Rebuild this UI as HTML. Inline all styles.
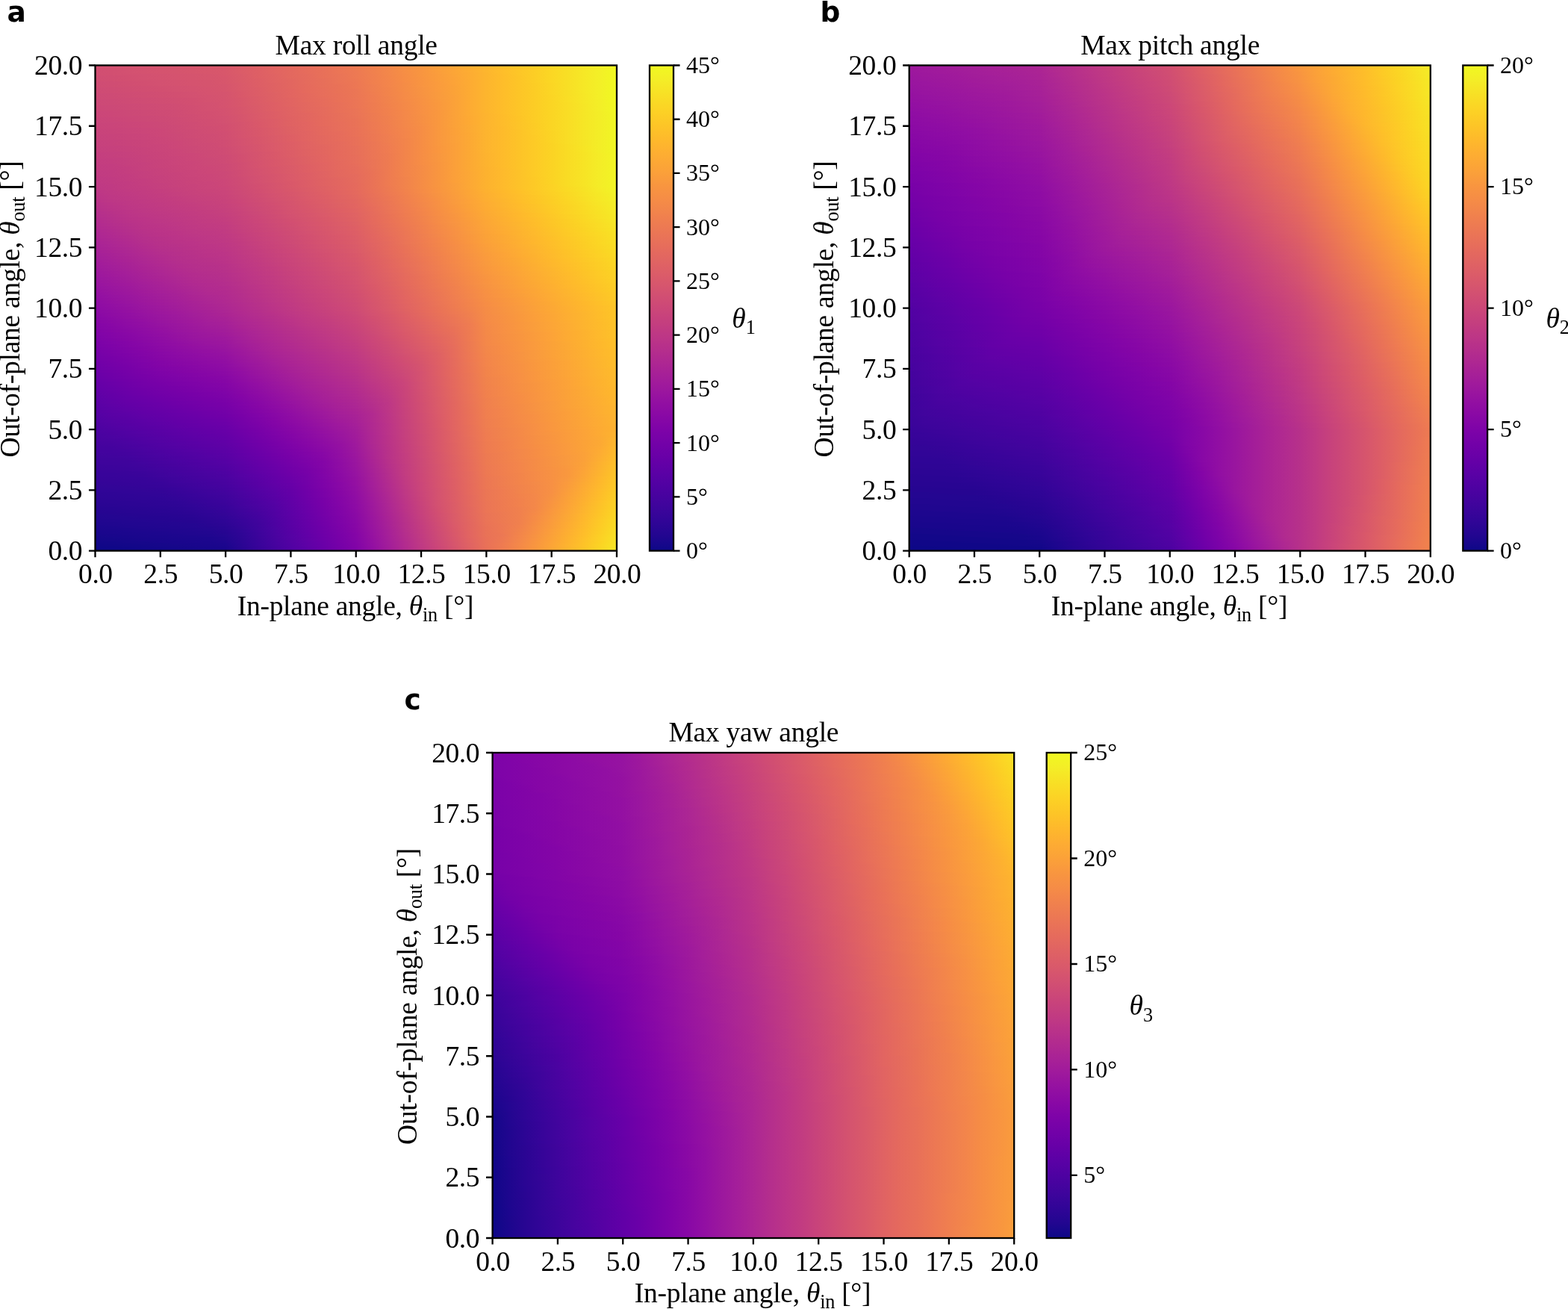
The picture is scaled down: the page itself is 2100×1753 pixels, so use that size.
<!DOCTYPE html>
<html lang="en"><head><meta charset="utf-8"><title>Max roll, pitch and yaw angle</title>
<style>
html,body{margin:0;padding:0;background:#fff}
body{width:2100px;height:1753px;position:relative;overflow:hidden}
.hm,.cb{position:absolute}
.hm i{display:block;height:2px}
.hm{overflow:hidden}
svg{position:absolute;left:0;top:0}
text{font-family:'Liberation Serif', 'DejaVu Serif', serif;font-size:37.5px;fill:#000}
.it{font-style:italic}
.tl{letter-spacing:-0.4px}
.lb{letter-spacing:-0.26px}
.ct{font-size:32px}
.sub{font-size:26.25px}
.pl{font-family:'DejaVu Sans', 'Liberation Sans', sans-serif;font-weight:bold;font-size:37.5px}
.sp{fill:none;stroke:#000;stroke-width:2.3}
.tk{fill:none;stroke:#000;stroke-width:2.3}
</style></head><body>
<div class="hm" style="left:127px;top:87px;width:699px;height:651px">
<i style="background:linear-gradient(90deg,#d24f71,#d35171,#d45270,#d5536f,#d5546e,#d6556d,#d7566c,#d8576b,#d9586a,#db5c68,#de6164,#e16462,#e4695e,#e66d5c,#e97158,#eb7556,#ed7a52,#f0804e,#f48849,#f68f44,#f9973f,#fa9e3b,#fca636,#fdae32,#fdb62e,#febe2a,#fdc627,#fcce25,#fbd724,#f8df25,#f6e826,#f3f027,#f0f921)"></i>
<i style="background:linear-gradient(90deg,#d24f71,#d35171,#d45270,#d5536f,#d5546e,#d6556d,#d7566c,#d8576b,#d9586a,#db5c68,#de6164,#e16462,#e4695e,#e66c5c,#e97158,#eb7556,#ed7a52,#f0804e,#f48849,#f68f44,#f9963f,#fa9e3b,#fca537,#fdae32,#fdb62e,#febe2a,#fdc627,#fcce25,#fbd724,#f8df25,#f6e826,#f3f027,#f0f921)"></i>
<i style="background:linear-gradient(90deg,#d24f71,#d35171,#d45270,#d45270,#d5536f,#d5546e,#d6556d,#d7566c,#d8576b,#db5c68,#de6065,#e16462,#e4695e,#e66c5c,#e97158,#eb7556,#ed7a52,#f0804e,#f3874a,#f68f44,#f89640,#fa9e3b,#fca537,#fdae32,#fdb62e,#febe2a,#fdc627,#fcce25,#fbd724,#f8df25,#f6e826,#f3f027,#f0f921)"></i>
<i style="background:linear-gradient(90deg,#d14e72,#d24f71,#d35171,#d45270,#d5536f,#d5546e,#d6556d,#d7566c,#d8576b,#db5c68,#de5f65,#e16462,#e3685f,#e66c5c,#e87059,#eb7556,#ed7a52,#f0804e,#f3874a,#f68f44,#f89540,#fa9e3b,#fca537,#fdad32,#fdb62e,#febe2a,#fdc627,#fcce25,#fbd724,#f8df25,#f6e826,#f3f027,#f0f921)"></i>
<i style="background:linear-gradient(90deg,#d14e72,#d24f71,#d35171,#d45270,#d5536f,#d5546e,#d6556d,#d7566c,#d8576b,#db5c68,#de5f65,#e16462,#e3685f,#e66c5c,#e87059,#eb7556,#ed7953,#f0804e,#f3874a,#f68e44,#f89540,#fa9d3b,#fca537,#fdad33,#fdb62e,#febe2a,#fdc627,#fcce25,#fbd724,#f8df25,#f6e826,#f3f027,#f0f921)"></i>
<i style="background:linear-gradient(90deg,#d14e72,#d24f71,#d35171,#d45270,#d5536f,#d5546e,#d6556d,#d7566c,#d8576b,#db5c68,#de5f65,#e16462,#e3685f,#e66c5c,#e87059,#eb7556,#ed7953,#f0804e,#f3874a,#f68e45,#f89540,#fa9d3c,#fca537,#fdac33,#fdb52e,#febe2a,#fdc627,#fcce25,#fbd724,#f8df25,#f6e826,#f3f027,#f0f921)"></i>
<i style="background:linear-gradient(90deg,#d14e72,#d24f71,#d35071,#d35171,#d45270,#d5536f,#d5546e,#d6556d,#d8576b,#da5b69,#de5f65,#e06363,#e3685f,#e56b5d,#e87059,#ea7457,#ed7953,#f07f4f,#f3874a,#f68d45,#f89540,#fa9c3c,#fca437,#fdac33,#fdb52e,#febd2a,#fdc627,#fcce25,#fbd724,#f8df25,#f6e826,#f3f027,#f0f921)"></i>
<i style="background:linear-gradient(90deg,#d04d73,#d14e72,#d24f71,#d35171,#d45270,#d5536f,#d5546e,#d6556d,#d8566c,#da5b69,#de5f65,#e06363,#e3685f,#e56b5d,#e87059,#ea7457,#ed7953,#f07f4f,#f3864a,#f68d45,#f89540,#fa9c3c,#fca438,#fdac33,#fdb52e,#febd2a,#fdc527,#fcce25,#fbd724,#f8df25,#f6e826,#f3f027,#f0f921)"></i>
<i style="background:linear-gradient(90deg,#d04d73,#d14e72,#d24f71,#d35171,#d45270,#d5536f,#d5546e,#d6556d,#d7566c,#da5b69,#de5f65,#e06363,#e3685f,#e56b5d,#e87059,#ea7457,#ed7953,#f07f4f,#f3864a,#f68d45,#f89441,#fa9c3c,#fca338,#fdac33,#fdb52e,#febd2a,#fdc527,#fcce25,#fbd724,#f8df25,#f6e826,#f3f027,#f0f921)"></i>
<i style="background:linear-gradient(90deg,#d04d73,#d14e72,#d24f71,#d35171,#d45270,#d5536f,#d5546e,#d6556d,#d7566c,#da5b69,#dd5e66,#e06363,#e26760,#e56b5d,#e76f5a,#ea7457,#ed7853,#f07f4f,#f3864b,#f68d45,#f89441,#fa9c3c,#fca338,#fdac33,#fdb52e,#febd2a,#fdc527,#fcce25,#fbd724,#f8df25,#f6e826,#f3f027,#f0f921)"></i>
<i style="background:linear-gradient(90deg,#d04d73,#d14e72,#d24f71,#d25071,#d35171,#d45270,#d5536f,#d5546e,#d7566c,#da5b69,#dd5e66,#e06363,#e26660,#e56b5d,#e76f5a,#ea7457,#ec7854,#f07f4f,#f3854b,#f68d45,#f89441,#fa9c3c,#fca338,#fdab33,#fdb52e,#febd2a,#fdc527,#fcce25,#fbd724,#f8df25,#f6e826,#f3f027,#f0f921)"></i>
<i style="background:linear-gradient(90deg,#cf4c74,#d04d73,#d14e72,#d24f71,#d35171,#d45270,#d5536f,#d5546e,#d7566c,#da5b69,#dd5e66,#e06363,#e26660,#e56b5d,#e76f5a,#ea7457,#ec7754,#f07f4f,#f3854b,#f68c46,#f89441,#fa9b3d,#fca338,#fdab33,#fdb52e,#febd2a,#fdc527,#fcce25,#fbd724,#f8df25,#f6e826,#f3f027,#f0f921)"></i>
<i style="background:linear-gradient(90deg,#cf4c74,#d04d73,#d14e72,#d24f71,#d35171,#d45270,#d5536f,#d5546e,#d7566c,#da5a6a,#dd5e66,#df6263,#e26660,#e56b5d,#e76f5a,#ea7357,#ec7754,#f07f4f,#f3854b,#f58c46,#f89441,#fa9b3d,#fca338,#fdab33,#fdb52e,#febd2a,#fdc527,#fccd25,#fbd624,#f8df25,#f6e826,#f3f027,#f0f921)"></i>
<i style="background:linear-gradient(90deg,#cf4c74,#d04d73,#d14e72,#d24f71,#d35171,#d45270,#d5536f,#d5546e,#d6556d,#da5a6a,#dd5e66,#df6263,#e26660,#e56a5d,#e76f5a,#e97257,#ec7754,#ef7e50,#f3854b,#f58c46,#f89441,#fa9b3d,#fca238,#fdab33,#fdb52e,#febd2a,#fdc527,#fccd25,#fbd624,#f8df25,#f6e826,#f3f027,#f0f921)"></i>
<i style="background:linear-gradient(90deg,#cf4c74,#d04d73,#d04e72,#d14e72,#d25071,#d35171,#d45270,#d5546e,#d6556d,#da5a6a,#dd5e66,#df6263,#e26660,#e56a5d,#e76f5a,#e97257,#ec7754,#ef7e50,#f3854b,#f58c46,#f89442,#fa9b3d,#fba238,#fdab33,#fdb52e,#febd2a,#fdc527,#fccd25,#fbd624,#f8df25,#f6e826,#f3f027,#f0f921)"></i>
<i style="background:linear-gradient(90deg,#ce4b75,#cf4c74,#d04d73,#d14e72,#d24f71,#d35171,#d45270,#d5536f,#d6556d,#da5a6a,#dc5d67,#df6263,#e26660,#e56a5d,#e76e5a,#e97257,#ec7754,#ef7e50,#f2844b,#f58c46,#f79342,#fa9b3d,#fba238,#fdab33,#fdb52e,#febd2a,#fdc527,#fccd25,#fbd624,#f8df25,#f6e826,#f3f027,#f0f921)"></i>
<i style="background:linear-gradient(90deg,#ce4b75,#cf4c74,#d04d73,#d14e72,#d24f71,#d35171,#d45270,#d5536f,#d6556d,#da5a6a,#dc5d67,#df6263,#e26561,#e56a5d,#e76e5b,#e97257,#eb7655,#ef7e50,#f2844b,#f58c46,#f79342,#fa9b3d,#fba238,#fdab33,#fdb52e,#febd2a,#fdc527,#fccd25,#fbd624,#f8df25,#f6e826,#f3f027,#f0f921)"></i>
<i style="background:linear-gradient(90deg,#ce4b75,#cf4c74,#d04d73,#d14e72,#d24f71,#d35171,#d45270,#d5536f,#d6556d,#d9596a,#dc5d67,#df6263,#e26561,#e56a5d,#e76e5b,#e97257,#eb7655,#ef7e50,#f2844b,#f58c46,#f79342,#fa9a3e,#fba238,#fdab33,#fdb52e,#febd2a,#fdc527,#fccd25,#fbd624,#f8de25,#f6e826,#f3f027,#f0f921)"></i>
<i style="background:linear-gradient(90deg,#ce4b75,#cf4c74,#d04c74,#d04d73,#d14e72,#d24f71,#d35171,#d5536f,#d5546e,#d9586a,#dc5d67,#de6264,#e26561,#e56a5d,#e76e5b,#e97257,#eb7655,#ef7d50,#f2844b,#f58b47,#f79342,#f99a3e,#fba238,#fdab33,#fdb52e,#febd2a,#fdc527,#fccd25,#fbd624,#f8de25,#f6e826,#f3f027,#f0f921)"></i>
<i style="background:linear-gradient(90deg,#cd4a76,#ce4b75,#cf4c74,#d04d73,#d14e72,#d24f71,#d35171,#d5536f,#d5546e,#d9586a,#dc5d67,#de6164,#e26561,#e4695e,#e76e5b,#e97158,#eb7655,#ef7d51,#f2844b,#f58b47,#f79342,#f99a3e,#fba238,#fdab33,#fdb52e,#febd2a,#fdc527,#fccd25,#fbd624,#f8de25,#f6e726,#f3f027,#f0f921)"></i>
<i style="background:linear-gradient(90deg,#cd4a76,#ce4b75,#cf4c74,#d04d73,#d14e72,#d24f71,#d35171,#d45270,#d5546e,#d9586a,#dc5d67,#de6164,#e26561,#e4695e,#e76e5b,#e97158,#eb7655,#ef7c51,#f2844b,#f58b47,#f79242,#f99a3e,#fba139,#fdab33,#fdb52e,#febd2a,#fdc527,#fccd25,#fbd524,#f8de25,#f6e726,#f3f027,#f0f921)"></i>
<i style="background:linear-gradient(90deg,#cd4a76,#ce4b75,#cf4c74,#d04d73,#d14e72,#d24f71,#d35171,#d45270,#d5546e,#d9586a,#db5c68,#de6164,#e26561,#e4695e,#e76d5b,#e97158,#eb7655,#ef7c51,#f1834c,#f58b47,#f79243,#f99a3e,#fba139,#fdab33,#fdb52e,#febd2a,#fdc527,#fccd25,#fbd524,#f9de25,#f6e726,#f3f027,#f0f921)"></i>
<i style="background:linear-gradient(90deg,#cd4a76,#ce4b75,#ce4b75,#cf4c74,#d04d73,#d14e72,#d24f71,#d45270,#d5546e,#d8576b,#db5c68,#de6164,#e16462,#e4695e,#e66d5c,#e97158,#eb7656,#ef7c51,#f1834c,#f58b47,#f79143,#f99a3e,#fba139,#fdab33,#fdb52e,#febd2a,#fdc527,#fccd25,#fbd524,#f9de25,#f6e726,#f3f027,#f0f921)"></i>
<i style="background:linear-gradient(90deg,#cc4977,#cd4a76,#ce4b75,#cf4c74,#d04d73,#d14e72,#d24f71,#d45270,#d5536f,#d8576b,#db5c68,#de6164,#e16462,#e4695e,#e66c5c,#e97158,#eb7556,#ef7c51,#f1834c,#f58a47,#f79143,#f9993e,#fba139,#fdab33,#fdb52e,#febd2a,#fdc527,#fccd25,#fbd524,#f9de25,#f6e726,#f3ef27,#f0f921)"></i>
<i style="background:linear-gradient(90deg,#cc4977,#cd4a76,#ce4b75,#cf4c74,#d04d73,#d14e72,#d24f71,#d45270,#d5536f,#d8576b,#db5c68,#de6064,#e16462,#e4695e,#e66c5c,#e97158,#eb7556,#ef7c51,#f1834c,#f48a48,#f79143,#f9993e,#fba139,#fdab33,#fdb52e,#febd2a,#fdc527,#fccd25,#fbd524,#f9de25,#f6e726,#f3ef27,#f0f921)"></i>
<i style="background:linear-gradient(90deg,#cc4977,#cd4a76,#ce4b75,#cf4c74,#d04d73,#d14e72,#d24f71,#d35171,#d5536f,#d8576b,#db5c68,#de5f65,#e16462,#e3685f,#e66c5c,#e87059,#eb7556,#ee7b51,#f1834c,#f48948,#f79143,#f9983e,#fba139,#fdab33,#fdb52e,#febd2a,#fdc527,#fccd25,#fbd524,#f9dd25,#f6e726,#f3ef27,#f0f822)"></i>
<i style="background:linear-gradient(90deg,#cc4977,#cd4a76,#cd4a76,#ce4b75,#cf4c74,#d04d73,#d24f71,#d35171,#d5536f,#d8576b,#da5c68,#de5f65,#e16462,#e3685f,#e66c5c,#e87059,#eb7556,#ee7b51,#f1824c,#f48948,#f79143,#f9983e,#fba139,#fdab33,#fdb52e,#febd2a,#fdc527,#fccd25,#fbd524,#f9dd25,#f6e626,#f3ef27,#f0f822)"></i>
<i style="background:linear-gradient(90deg,#cc4778,#cc4977,#cd4a76,#ce4b75,#cf4c74,#d04d73,#d14e72,#d35171,#d5536f,#d8576b,#da5b69,#de5f65,#e16462,#e3685f,#e66c5c,#e87059,#eb7556,#ee7b51,#f1824c,#f48948,#f79044,#f9983e,#fba139,#fdab33,#fdb52e,#febd2a,#fdc527,#fccd25,#fbd524,#f9dd25,#f6e626,#f3ef27,#f0f822)"></i>
<i style="background:linear-gradient(90deg,#cc4778,#cc4977,#cd4a76,#ce4b75,#cf4c74,#d04d73,#d14e72,#d35171,#d5536f,#d7566c,#da5b69,#de5f65,#e06363,#e3685f,#e56b5d,#e87059,#eb7556,#ee7b51,#f1824d,#f48948,#f79044,#f9983e,#fba139,#fdab33,#fdb52e,#febd2a,#fdc527,#fccd25,#fbd524,#f9dd25,#f6e626,#f3ef27,#f0f823)"></i>
<i style="background:linear-gradient(90deg,#cc4778,#cc4977,#cd4a76,#ce4b75,#cf4c74,#d04d73,#d14e72,#d35171,#d45270,#d7566c,#da5b69,#de5f65,#e06363,#e3685f,#e56b5d,#e87059,#ea7457,#ee7b51,#f1814d,#f48948,#f79044,#f9983e,#fba139,#fdab33,#fdb52e,#febd2a,#fdc527,#fccd25,#fbd524,#f9dd25,#f6e626,#f3ef27,#f0f823)"></i>
<i style="background:linear-gradient(90deg,#cc4778,#cc4877,#cc4977,#cd4a76,#ce4b75,#cf4c74,#d14e72,#d35071,#d45270,#d7566c,#da5b69,#de5f65,#e06363,#e3685f,#e56b5d,#e87059,#ea7457,#ee7b51,#f1814d,#f48848,#f79044,#f9973f,#fba139,#fdab33,#fdb52e,#febd2a,#fdc527,#fccd25,#fbd524,#f9dd25,#f6e626,#f3ef27,#f0f823)"></i>
<i style="background:linear-gradient(90deg,#cb4679,#cc4778,#cc4977,#cd4a76,#ce4b75,#cf4c74,#d14e72,#d24f71,#d45270,#d7566c,#da5b69,#dd5e66,#e06363,#e3675f,#e56b5d,#e87059,#ea7457,#ee7b51,#f1814d,#f48849,#f79044,#f9973f,#fba139,#fdab33,#fdb52e,#febd2a,#fdc527,#fccd25,#fbd524,#f9dd25,#f6e626,#f3ee27,#f0f823)"></i>
<i style="background:linear-gradient(90deg,#cb4679,#cc4778,#cc4977,#cd4a76,#ce4b75,#cf4c74,#d14e72,#d24f71,#d45270,#d7566c,#da5a6a,#dd5e66,#e06363,#e26660,#e56b5d,#e76f5a,#ea7457,#ed7a52,#f1814d,#f48849,#f79044,#f9973f,#fba139,#fdab33,#fdb42f,#febd2a,#fdc527,#fccd25,#fbd524,#f9dd25,#f6e626,#f3ee27,#f0f724)"></i>
<i style="background:linear-gradient(90deg,#cb4679,#cc4778,#cc4977,#cd4a76,#ce4b75,#cf4c74,#d04d73,#d24f71,#d45270,#d6556d,#da5a6a,#dd5e66,#e06363,#e26660,#e56b5d,#e76f5a,#ea7457,#ed7a52,#f1814d,#f48849,#f69044,#f9973f,#fba139,#fdab33,#fdb42f,#febc2a,#fdc527,#fccd25,#fbd524,#f9dd25,#f6e626,#f3ee27,#f0f724)"></i>
<i style="background:linear-gradient(90deg,#cb4679,#cc4778,#cc4878,#cc4977,#cd4a76,#cf4c74,#d04d73,#d24f71,#d35171,#d6556d,#da5a6a,#dd5e66,#e06263,#e26660,#e56a5d,#e76f5a,#ea7357,#ed7a52,#f0804e,#f48849,#f68f44,#f9973f,#fba139,#fdaa33,#fdb42f,#febc2a,#fdc427,#fccd25,#fbd524,#f9dd25,#f6e626,#f3ee27,#f0f724)"></i>
<i style="background:linear-gradient(90deg,#ca457a,#cb4679,#cc4778,#cc4977,#cd4a76,#ce4b75,#d04d73,#d24f71,#d35171,#d6556d,#da5a6a,#dd5e66,#df6263,#e26660,#e56a5d,#e76f5a,#e97357,#ed7a52,#f0804e,#f48849,#f68f44,#f9973f,#fba139,#fdaa33,#fdb42f,#febc2a,#fdc427,#fccd25,#fbd524,#f9dd25,#f6e626,#f3ee27,#f0f724)"></i>
<i style="background:linear-gradient(90deg,#ca457a,#cb4679,#cc4778,#cc4977,#cd4a76,#ce4b75,#d04d73,#d14e72,#d35171,#d6556d,#da596a,#dc5d67,#df6263,#e26660,#e56a5d,#e76f5a,#e97257,#ed7a52,#f0804e,#f48849,#f68f44,#f9973f,#fba139,#fdaa33,#fdb42f,#febc2a,#fdc427,#fccd25,#fbd524,#f9dd25,#f6e626,#f3ee27,#f0f724)"></i>
<i style="background:linear-gradient(90deg,#ca457a,#cb4679,#cc4778,#cc4977,#cd4a76,#ce4b75,#d04d73,#d14e72,#d35171,#d6556d,#d9596a,#dc5d67,#df6263,#e26660,#e56a5d,#e76f5a,#e97257,#ed7a52,#f0804e,#f3874a,#f68f44,#f9973f,#fba139,#fdaa33,#fdb42f,#febc2b,#fdc427,#fccd25,#fbd524,#f9dd25,#f6e626,#f3ee27,#f0f724)"></i>
<i style="background:linear-gradient(90deg,#ca457a,#ca467a,#cb4679,#cc4778,#cc4977,#ce4b75,#cf4c74,#d14e72,#d35171,#d5546e,#d9586a,#dc5d67,#df6263,#e26561,#e56a5d,#e76e5b,#e97257,#ed7953,#f0804e,#f3874a,#f68f44,#f9973f,#fba139,#fdaa33,#fdb42f,#febc2b,#fdc428,#fccd25,#fbd524,#f9dd25,#f6e626,#f3ee27,#f0f724)"></i>
<i style="background:linear-gradient(90deg,#c9447a,#ca457a,#cb4679,#cc4778,#cc4977,#ce4b75,#cf4c74,#d14e72,#d25071,#d5546e,#d9586a,#dc5d67,#df6263,#e26561,#e56a5d,#e76e5b,#e97257,#ed7953,#f0804e,#f3874a,#f68e44,#f9973f,#fba139,#fdaa33,#fdb42f,#febc2b,#fdc428,#fccc25,#fbd524,#f9dd25,#f6e626,#f3ee27,#f0f724)"></i>
<i style="background:linear-gradient(90deg,#c9447a,#ca457a,#cb4679,#cc4778,#cc4977,#cd4a76,#cf4c74,#d14e72,#d24f71,#d5546e,#d9586a,#dc5d67,#df6263,#e26561,#e56a5d,#e76e5b,#e97257,#ed7953,#f07f4f,#f3874a,#f68e45,#f9973f,#fba139,#fcaa34,#fdb42f,#febc2b,#fdc428,#fccc25,#fbd524,#f9dd25,#f6e626,#f3ee27,#f0f724)"></i>
<i style="background:linear-gradient(90deg,#c9447a,#ca457a,#cb4679,#cc4778,#cc4977,#cd4a76,#cf4c74,#d04d73,#d24f71,#d5546e,#d9586a,#dc5d67,#de6164,#e26561,#e4695e,#e76e5b,#e97258,#ed7953,#f07f4f,#f3874a,#f68d45,#f9973f,#fba139,#fcaa34,#fdb42f,#febb2b,#fdc428,#fccc25,#fbd524,#f9dd25,#f6e626,#f3ee27,#f0f724)"></i>
<i style="background:linear-gradient(90deg,#c9447a,#ca447a,#ca457a,#cb4679,#cc4878,#cd4a76,#cf4c74,#d04d73,#d24f71,#d5546e,#d8576b,#db5c68,#de6164,#e26561,#e4695e,#e76e5b,#e97158,#ed7953,#f07f4f,#f3864a,#f68d45,#f9973f,#fba039,#fcaa34,#fdb42f,#febb2b,#fdc428,#fccc25,#fbd524,#f9dd25,#f6e626,#f3ee27,#f0f724)"></i>
<i style="background:linear-gradient(90deg,#c8437b,#c9447a,#ca457a,#cb4679,#cc4778,#cd4a76,#ce4b75,#d04d73,#d24f71,#d5546e,#d8576b,#db5c68,#de6164,#e26561,#e4695e,#e76e5b,#e97158,#ed7853,#f07f4f,#f3864b,#f68d45,#f9973f,#fba039,#fcaa34,#fdb42f,#febb2b,#fdc328,#fdcc26,#fbd524,#f9dd25,#f6e626,#f3ee27,#f0f724)"></i>
<i style="background:linear-gradient(90deg,#c8437b,#c9447a,#ca457a,#cb4679,#cc4778,#cd4a76,#ce4b75,#d04d73,#d24e72,#d5536f,#d8576b,#db5c68,#de6164,#e16462,#e4695e,#e66d5c,#e97158,#ec7854,#f07f4f,#f3854b,#f68d45,#f9973f,#fba039,#fcaa34,#fdb42f,#febb2b,#fdc328,#fdcc26,#fbd424,#f9dd25,#f6e626,#f3ee27,#f0f724)"></i>
<i style="background:linear-gradient(90deg,#c8437b,#c9447a,#ca457a,#cb4679,#cc4778,#cc4a76,#ce4b75,#d04d73,#d14e72,#d5536f,#d8576b,#db5c68,#de6164,#e16462,#e4695e,#e66c5c,#e97158,#ec7854,#f07f4f,#f3854b,#f68d45,#f9973f,#fba039,#fca934,#fdb42f,#febb2b,#fdc328,#fdcc26,#fbd424,#f9dd25,#f6e626,#f3ee27,#f0f724)"></i>
<i style="background:linear-gradient(90deg,#c8437b,#c8437b,#c9447a,#ca457a,#cc4778,#cc4977,#ce4b75,#cf4c74,#d14e72,#d5536f,#d8576b,#db5c68,#de6065,#e16462,#e4695e,#e66c5c,#e97158,#ec7754,#f07e50,#f3854b,#f68d45,#f9973f,#fba039,#fca934,#fdb42f,#febb2b,#fdc328,#fdcc26,#fbd424,#f9dd25,#f6e626,#f3ee27,#f0f724)"></i>
<i style="background:linear-gradient(90deg,#c7427c,#c8437b,#c9447a,#ca457a,#cc4778,#cc4977,#ce4b75,#cf4c74,#d14e72,#d5536f,#d8576b,#da5b69,#de5f65,#e16462,#e3685f,#e66c5c,#e97158,#ec7754,#ef7e50,#f3854b,#f68d45,#f9973f,#fba03a,#fca934,#fdb42f,#febb2b,#fdc328,#fdcb26,#fbd424,#f9dd25,#f6e626,#f3ee27,#f0f724)"></i>
<i style="background:linear-gradient(90deg,#c7427c,#c8437b,#c9447a,#ca457a,#cb4679,#cc4977,#ce4b75,#cf4c74,#d14e72,#d5536f,#d7566c,#da5b69,#de5f65,#e16462,#e3685f,#e66c5c,#e87059,#ec7754,#ef7e50,#f3854b,#f68d45,#f9973f,#fba03a,#fca934,#fdb42f,#febb2b,#fdc328,#fdcb26,#fbd424,#f9dd25,#f6e626,#f3ee27,#f0f724)"></i>
<i style="background:linear-gradient(90deg,#c7427c,#c8437b,#c9447a,#ca457a,#cb4679,#cc4977,#cd4a76,#cf4c74,#d14e72,#d45270,#d7566c,#da5b69,#de5f65,#e16462,#e3685f,#e66c5c,#e87059,#ec7754,#ef7e50,#f2844b,#f68d45,#f9973f,#fba03a,#fca934,#fdb42f,#febb2b,#fdc328,#fdcb26,#fbd424,#f9dd25,#f6e626,#f3ee27,#f0f724)"></i>
<i style="background:linear-gradient(90deg,#c7427c,#c7427c,#c8437b,#c9447a,#cb4679,#cc4877,#cd4a76,#cf4c74,#d04d73,#d45270,#d7566c,#da5b69,#de5f65,#e16462,#e3685f,#e66c5c,#e87059,#ec7754,#ef7e50,#f2844b,#f68d45,#f9973f,#fba03a,#fca934,#fdb42f,#febb2b,#fdc328,#fdcb26,#fbd424,#f9dd25,#f6e526,#f3ee27,#f0f724)"></i>
<i style="background:linear-gradient(90deg,#c6417d,#c7427c,#c8437b,#c9447a,#cb4679,#cc4778,#cd4a76,#cf4c74,#d04d73,#d45270,#d7566c,#da5b69,#de5e66,#e06363,#e3685f,#e56b5d,#e87059,#eb7655,#ef7e50,#f2844b,#f68d45,#f9973f,#fba03a,#fca934,#fdb42f,#febb2b,#fdc328,#fdcb26,#fbd424,#f9dd25,#f6e526,#f3ee27,#f0f724)"></i>
<i style="background:linear-gradient(90deg,#c6417d,#c7427c,#c8437b,#c9447a,#cb4679,#cc4778,#cd4a76,#ce4b75,#d04d73,#d45270,#d7566c,#da5a6a,#dd5e66,#e06363,#e3685f,#e56b5d,#e87059,#eb7655,#ef7d50,#f2844b,#f68d45,#f9973f,#fb9f3a,#fca934,#fdb42f,#febb2b,#fdc328,#fdcb26,#fbd324,#f9dd25,#f6e526,#f3ee27,#f0f724)"></i>
<i style="background:linear-gradient(90deg,#c6417d,#c7427c,#c8437b,#c9447a,#ca457a,#cc4778,#cd4a76,#ce4b75,#d04d73,#d45270,#d6556d,#da5a6a,#dd5e66,#e06363,#e26760,#e56b5d,#e87059,#eb7655,#ef7d51,#f2844b,#f68d45,#f9973f,#fb9f3a,#fca934,#fdb42f,#febb2b,#fdc328,#fdcb26,#fbd324,#f9dc24,#f6e526,#f3ee27,#f0f724)"></i>
<i style="background:linear-gradient(90deg,#c6417d,#c6417d,#c7427c,#c9447a,#ca457a,#cc4778,#cc4977,#ce4b75,#d04d73,#d35171,#d6556d,#da5a6a,#dd5e66,#e06363,#e26660,#e56b5d,#e76f5a,#eb7655,#ef7c51,#f2844b,#f68d45,#f9963f,#fb9f3a,#fca934,#fdb42f,#febb2b,#fdc328,#fdcb26,#fbd324,#f9dc24,#f7e525,#f3ee27,#f0f724)"></i>
<i style="background:linear-gradient(90deg,#c5407e,#c6417d,#c7427c,#c8437b,#ca457a,#cc4778,#cc4977,#ce4b75,#cf4c74,#d35171,#d6556d,#da5a6a,#dd5e66,#e06363,#e26660,#e56b5d,#e76f5a,#eb7655,#ef7c51,#f2844b,#f68d45,#f9963f,#fb9f3a,#fca934,#fdb42f,#febb2b,#fdc328,#fdcb26,#fbd324,#f9dc24,#f7e525,#f3ee27,#f0f724)"></i>
<i style="background:linear-gradient(90deg,#c5407e,#c6417d,#c7427c,#c8437b,#ca457a,#cb4679,#cc4977,#ce4b75,#cf4c74,#d35171,#d6556d,#da5a6a,#dd5e66,#df6263,#e26660,#e56b5d,#e76f5a,#eb7655,#ef7c51,#f2844b,#f68d45,#f9963f,#fb9f3a,#fca934,#fdb42f,#febb2b,#fdc328,#fdcb26,#fbd324,#f9dc24,#f7e525,#f3ee27,#f0f624)"></i>
<i style="background:linear-gradient(90deg,#c5407e,#c6417d,#c7427c,#c8437b,#ca457a,#cb4679,#cc4977,#cd4a76,#cf4c74,#d35171,#d6556d,#da596a,#dc5d67,#df6263,#e26660,#e56a5d,#e76f5a,#eb7556,#ef7c51,#f2844b,#f68d45,#f9963f,#fb9f3a,#fca934,#fdb42f,#febb2b,#fdc328,#fdcb26,#fbd324,#f9dc24,#f7e525,#f3ee27,#f0f624)"></i>
<i style="background:linear-gradient(90deg,#c53f7e,#c5407e,#c6417d,#c8437b,#c9447a,#cb4679,#cc4977,#cd4a76,#cf4c74,#d35171,#d5546e,#d9586a,#dc5d67,#df6263,#e26660,#e56a5d,#e76f5a,#eb7556,#ef7c51,#f2844b,#f68d45,#f9963f,#fb9f3a,#fca934,#fdb42f,#febb2b,#fdc328,#fdcb26,#fbd324,#f9dc24,#f7e425,#f3ee27,#f0f624)"></i>
<i style="background:linear-gradient(90deg,#c43e7f,#c5407e,#c6417d,#c8437b,#c9447a,#cb4679,#cc4778,#cd4a76,#cf4c74,#d25071,#d5546e,#d9586a,#dc5d67,#df6263,#e26660,#e56a5d,#e76f5a,#eb7556,#ee7b51,#f2844b,#f68d45,#f89640,#fb9f3a,#fca934,#fdb32f,#febb2b,#fdc328,#fdcb26,#fbd324,#f9dc24,#f7e425,#f4ed27,#f0f624)"></i>
<i style="background:linear-gradient(90deg,#c43e7f,#c5407e,#c6417d,#c7427c,#c9447a,#cb4679,#cc4778,#cd4a76,#ce4b75,#d24f71,#d5546e,#d9586a,#dc5d67,#df6263,#e26561,#e56a5d,#e76e5a,#eb7556,#ee7b51,#f2844b,#f68d45,#f89640,#fb9f3a,#fca934,#fdb32f,#febb2b,#fdc328,#fdcb26,#fbd324,#f9dc24,#f7e425,#f4ed27,#f1f625)"></i>
<i style="background:linear-gradient(90deg,#c43e7f,#c5407e,#c6417d,#c7427c,#c9447a,#ca457a,#cc4778,#cd4a76,#ce4b75,#d24f71,#d5546e,#d9586a,#dc5d67,#de6164,#e26561,#e56a5d,#e76e5b,#eb7556,#ee7b51,#f2844b,#f68d45,#f89640,#fb9f3a,#fca934,#fdb32f,#febb2b,#fdc328,#fdcb26,#fbd324,#f9dc24,#f7e425,#f4ed27,#f1f625)"></i>
<i style="background:linear-gradient(90deg,#c43e7f,#c43f7f,#c5407e,#c7427c,#c9447a,#ca457a,#cc4778,#cc4977,#ce4b75,#d24f71,#d5546e,#d9586a,#db5c68,#de6164,#e26561,#e56a5d,#e76e5b,#eb7556,#ee7b51,#f2844b,#f68d45,#f89640,#fb9f3a,#fca934,#fdb32f,#febb2b,#fdc328,#fdcb26,#fbd324,#f9dc24,#f7e425,#f4ed27,#f1f625)"></i>
<i style="background:linear-gradient(90deg,#c33d80,#c43e7f,#c5407e,#c7427c,#c8437b,#ca457a,#cc4778,#cc4977,#ce4b75,#d24f71,#d5546e,#d8576b,#db5c68,#de6164,#e26561,#e46a5e,#e76e5b,#ea7456,#ee7b51,#f2844b,#f68d45,#f89640,#fb9f3a,#fca934,#fdb32f,#febb2b,#fdc328,#fdcb26,#fbd324,#f9dc24,#f7e425,#f4ed27,#f1f625)"></i>
<i style="background:linear-gradient(90deg,#c33d80,#c43e7f,#c5407e,#c7427c,#c8437b,#ca457a,#cb4679,#cc4977,#ce4b75,#d24f71,#d5536f,#d8576b,#db5c68,#de6164,#e26561,#e4695e,#e76e5b,#ea7457,#ee7b51,#f2844b,#f68d45,#f89640,#fb9f3a,#fca934,#fdb32f,#febb2b,#fdc328,#fdcb26,#fbd324,#f9dc24,#f7e425,#f4ed27,#f1f525)"></i>
<i style="background:linear-gradient(90deg,#c33d80,#c43e7f,#c5407e,#c6417d,#c8437b,#ca457a,#cb4679,#cc4977,#ce4b75,#d14e72,#d5536f,#d8576b,#db5c68,#de6164,#e26462,#e4695e,#e76e5b,#ea7457,#ee7b51,#f2844b,#f68d45,#f89540,#fb9f3a,#fca934,#fdb32f,#febb2b,#fdc328,#fdcb26,#fbd324,#f9dc24,#f7e425,#f4ed27,#f1f525)"></i>
<i style="background:linear-gradient(90deg,#c33d80,#c33d80,#c5407e,#c6417d,#c8437b,#ca457a,#cb4679,#cc4977,#cd4a76,#d14e72,#d5536f,#d8576b,#db5c68,#de6064,#e16462,#e4695e,#e76d5b,#ea7457,#ee7b51,#f2844b,#f68d45,#f89540,#fb9f3a,#fca934,#fdb32f,#febb2b,#fdc328,#fdcb26,#fbd324,#f9dc24,#f7e425,#f4ed27,#f1f525)"></i>
<i style="background:linear-gradient(90deg,#c23c81,#c33d80,#c53f7e,#c6417d,#c8437b,#c9447a,#cb4679,#cc4877,#cd4a76,#d14e72,#d5536f,#d8576b,#da5b69,#de5f65,#e16462,#e4695e,#e66d5c,#ea7457,#ee7b51,#f2844b,#f58c46,#f89540,#fb9f3a,#fca934,#fdb32f,#febb2b,#fdc328,#fdcb26,#fbd324,#f9dc24,#f7e425,#f4ed27,#f1f525)"></i>
<i style="background:linear-gradient(90deg,#c23c81,#c33d80,#c43e7f,#c6417d,#c8437b,#c9447a,#cb4679,#cc4778,#cd4a76,#d14e72,#d5536f,#d7566c,#da5b69,#de5f65,#e16462,#e4695e,#e66c5c,#ea7457,#ee7b51,#f2844b,#f58c46,#f89540,#fb9f3a,#fca934,#fdb22f,#febb2b,#fdc328,#fdcb26,#fbd324,#f9dc24,#f7e425,#f4ed27,#f1f525)"></i>
<i style="background:linear-gradient(90deg,#c23c81,#c33d80,#c43e7f,#c6417d,#c7427c,#c9447a,#cb4679,#cc4778,#cd4a76,#d14e72,#d45270,#d7566c,#da5b69,#de5f65,#e16462,#e4695e,#e66c5c,#ea7357,#ee7b51,#f2844b,#f58c46,#f89540,#fb9f3a,#fca934,#fdb22f,#feba2c,#fdc328,#fdcb26,#fbd324,#f9dc24,#f7e425,#f4ed27,#f1f525)"></i>
<i style="background:linear-gradient(90deg,#c23c81,#c23c81,#c43e7f,#c6417d,#c7427c,#c9447a,#ca457a,#cc4778,#cd4a76,#d04d73,#d45270,#d7566c,#da5b69,#de5f65,#e16462,#e3685f,#e66c5c,#e97357,#ee7b51,#f2844b,#f58c46,#f89540,#fb9f3a,#fca934,#fdb22f,#feba2c,#fdc229,#fdcb26,#fbd324,#f9dc24,#f7e425,#f4ed27,#f1f525)"></i>
<i style="background:linear-gradient(90deg,#c13b82,#c23c81,#c43e7f,#c5407e,#c7427c,#c9447a,#ca457a,#cc4778,#cc4977,#d04d73,#d45270,#d7566c,#da5b69,#de5f65,#e06363,#e3685f,#e66c5c,#e97257,#ee7b51,#f2844b,#f58c46,#f89540,#fb9f3a,#fca835,#fdb22f,#feba2c,#fdc229,#fdcb26,#fbd324,#f9dc24,#f7e425,#f4ed27,#f1f525)"></i>
<i style="background:linear-gradient(90deg,#c13b82,#c23c81,#c43e7f,#c5407e,#c7427c,#c8437b,#ca457a,#cc4778,#cc4977,#d04d73,#d45270,#d7566c,#da5b69,#dd5e66,#e06363,#e3685f,#e66c5c,#e97257,#ee7b51,#f2844b,#f58c46,#f89540,#fb9f3a,#fca835,#fdb22f,#feba2c,#fdc229,#fdcb26,#fbd324,#f9dc24,#f7e425,#f4ed27,#f1f525)"></i>
<i style="background:linear-gradient(90deg,#c13b82,#c23c81,#c33d80,#c5407e,#c7427c,#c8437b,#ca457a,#cb4679,#cc4977,#d04d73,#d45270,#d6556d,#da5a6a,#dd5e66,#e06363,#e3685f,#e56b5d,#e97257,#ee7b51,#f2844b,#f58c46,#f89540,#fb9f3a,#fca835,#fdb22f,#feba2c,#fdc229,#fdcb26,#fbd324,#f9dc24,#f7e425,#f4ed27,#f1f525)"></i>
<i style="background:linear-gradient(90deg,#c03a82,#c23c81,#c33d80,#c5407e,#c6417d,#c8437b,#ca457a,#cb4679,#cc4977,#d04d73,#d35171,#d6556d,#da5a6a,#dd5e66,#e06363,#e3685f,#e56b5d,#e97257,#ee7b51,#f2844c,#f58c46,#f89540,#fb9f3a,#fca835,#fdb22f,#feba2c,#fdc229,#fdcb26,#fbd324,#f9dc24,#f7e425,#f4ed27,#f1f525)"></i>
<i style="background:linear-gradient(90deg,#c03a83,#c13b82,#c33d80,#c5407e,#c6417d,#c8437b,#c9447a,#cb4679,#cc4977,#cf4c74,#d35171,#d6556d,#da5a6a,#dd5e66,#e06363,#e26760,#e56b5d,#e97257,#ee7b51,#f1834c,#f58c46,#f89540,#fb9f3a,#fca835,#fdb22f,#feba2c,#fdc229,#fdca26,#fbd324,#f9dc24,#f7e425,#f4ed27,#f1f525)"></i>
<i style="background:linear-gradient(90deg,#c03a83,#c13b82,#c33d80,#c43e7f,#c6417d,#c8437b,#c9447a,#cb4679,#cc4878,#cf4c74,#d35171,#d6556d,#da5a6a,#dd5e66,#df6263,#e26660,#e56b5d,#e97257,#ee7b51,#f1834c,#f58c46,#f89540,#fb9f3a,#fca835,#fdb22f,#feba2c,#fdc229,#fdca26,#fbd324,#f9dc24,#f7e425,#f4ed27,#f1f525)"></i>
<i style="background:linear-gradient(90deg,#c03a83,#c13b82,#c33d80,#c43e7f,#c6417d,#c7427c,#c9447a,#cb4679,#cc4778,#cf4c74,#d35171,#d6556d,#da596a,#dc5d67,#df6263,#e26660,#e56b5d,#e97257,#ee7b51,#f1834c,#f58c46,#f89540,#fb9f3a,#fca835,#fdb22f,#feba2c,#fdc229,#fdca26,#fbd324,#f9dc24,#f7e425,#f4ed27,#f1f525)"></i>
<i style="background:linear-gradient(90deg,#c03a84,#c13b82,#c23c81,#c43e7f,#c6417d,#c7427c,#c9447a,#ca457a,#cc4778,#cf4c74,#d35171,#d6556d,#d9586a,#dc5d67,#df6263,#e26660,#e56b5d,#e97257,#ee7b51,#f1834c,#f58c46,#f89540,#fb9f3a,#fca835,#fdb22f,#feba2c,#fdc229,#fdca26,#fbd324,#f9dc24,#f7e425,#f4ed27,#f1f525)"></i>
<i style="background:linear-gradient(90deg,#bf3984,#c13b82,#c23c81,#c43e7f,#c5407e,#c7427c,#c9447a,#ca457a,#cc4778,#cf4c74,#d25071,#d5546e,#d9586a,#dc5d67,#df6263,#e26660,#e56a5d,#e97257,#ee7b51,#f1834c,#f58c46,#f89540,#fa9e3b,#fca835,#fdb22f,#feba2c,#fdc229,#fdca26,#fbd324,#f9dc24,#f7e425,#f4ed27,#f1f525)"></i>
<i style="background:linear-gradient(90deg,#bf3984,#c03a83,#c23c81,#c43e7f,#c5407e,#c7427c,#c8437b,#ca457a,#cc4778,#ce4c74,#d24f71,#d5546e,#d9586a,#dc5d67,#df6263,#e26660,#e56a5d,#e97257,#ee7b51,#f1834c,#f58c46,#f89540,#fa9e3b,#fca835,#fdb22f,#feba2c,#fdc229,#fdca26,#fcd225,#f9dc24,#f7e425,#f4ed27,#f1f525)"></i>
<i style="background:linear-gradient(90deg,#bf3984,#c03a83,#c23c81,#c33d80,#c5407e,#c7427c,#c8437b,#ca457a,#cc4678,#ce4b75,#d24f71,#d5546e,#d9586a,#dc5d67,#de6164,#e26561,#e56a5d,#e97257,#ee7a52,#f1834c,#f58c46,#f89540,#fa9e3b,#fca835,#fdb22f,#feba2c,#fdc229,#fdca26,#fcd225,#f9db24,#f7e325,#f4ed27,#f1f525)"></i>
<i style="background:linear-gradient(90deg,#be3885,#c03a83,#c23c81,#c33d80,#c5407e,#c6417d,#c8437b,#ca457a,#cb4679,#ce4b75,#d24f71,#d5546e,#d8586a,#db5c68,#de6164,#e26561,#e56a5d,#e97257,#ed7a52,#f1834c,#f58c46,#f89440,#fa9e3b,#fca835,#fdb22f,#feba2c,#fdc229,#fdca26,#fcd225,#fada24,#f7e225,#f5ec27,#f1f426)"></i>
<i style="background:linear-gradient(90deg,#be3885,#c03a83,#c13b82,#c33d80,#c43e7f,#c6417d,#c8437b,#c9447a,#cb4679,#ce4b75,#d14e72,#d5536f,#d8576b,#db5c68,#de6164,#e26561,#e56a5d,#e97158,#ed7a52,#f1824c,#f58b47,#f89441,#fa9e3b,#fca735,#fdb130,#feb92c,#fec129,#fdca26,#fcd225,#fada24,#f7e225,#f5eb27,#f1f426)"></i>
<i style="background:linear-gradient(90deg,#bd3786,#bf3984,#c13b82,#c23c81,#c43e7f,#c6417d,#c7427c,#c9447a,#ca457a,#cd4a76,#d14e72,#d5536f,#d8576b,#db5c68,#de6065,#e16462,#e4695e,#e97158,#ed7a52,#f1824d,#f58b47,#f89441,#fa9d3c,#fca636,#fdb130,#feb82c,#fec029,#fdc827,#fcd125,#fada24,#f7e225,#f5eb27,#f1f426)"></i>
<i style="background:linear-gradient(90deg,#bd3786,#bf3984,#c03a83,#c23c81,#c43e7f,#c5407e,#c7427c,#c8447a,#ca457a,#cd4a76,#d14e72,#d5536f,#d7566c,#da5b69,#de5f65,#e16462,#e4695e,#e97158,#ed7953,#f1814d,#f58b47,#f89442,#fa9c3c,#fca636,#fdb030,#feb82c,#fec029,#fdc827,#fcd025,#fad824,#f8e125,#f5ea26,#f2f327)"></i>
<i style="background:linear-gradient(90deg,#bc3587,#bf3984,#c03a83,#c23c81,#c33d80,#c5407e,#c7427c,#c8437b,#ca457a,#cd4a76,#d04d73,#d45270,#d7566c,#da5b69,#de5f65,#e16462,#e4695e,#e87059,#ed7953,#f1814d,#f48a48,#f79342,#fa9c3c,#fca636,#fdaf31,#feb72d,#febf2a,#fdc827,#fcd025,#fad824,#f8e125,#f5e926,#f2f227)"></i>
<i style="background:linear-gradient(90deg,#bc3587,#be3885,#c03a83,#c13b82,#c33d80,#c5407e,#c6417d,#c8437b,#c9447a,#cc4977,#d04d73,#d45270,#d7566c,#da5b69,#dd5e66,#e06363,#e3685f,#e87059,#ed7853,#f0804e,#f48948,#f79342,#fa9b3d,#fca537,#fdaf31,#feb72d,#febe2a,#fdc627,#fccf25,#fad824,#f8e125,#f5e926,#f2f227)"></i>
<i style="background:linear-gradient(90deg,#bb3488,#be3885,#bf3984,#c13b82,#c33d80,#c43e7f,#c6417d,#c7427c,#c9447a,#cc4977,#d04d73,#d45270,#d6556d,#da5a6a,#dd5e66,#e06363,#e3685f,#e87059,#ec7754,#f0804e,#f48948,#f79242,#fa9b3d,#fca537,#fdaf31,#feb72d,#febe2a,#fdc627,#fcce25,#fbd724,#f8df25,#f6e826,#f3f027)"></i>
<i style="background:linear-gradient(90deg,#bb3488,#be3885,#bf3984,#c13b82,#c23c81,#c43e7f,#c6407e,#c7427c,#c9447a,#cc4877,#cf4c74,#d35171,#d6556d,#da5a6a,#dd5e66,#e06363,#e3675f,#e76f5a,#ec7754,#f0804e,#f48849,#f79143,#fa9b3d,#fca437,#fdae32,#fdb62e,#febe2a,#fdc627,#fcce25,#fbd724,#f8df25,#f6e826,#f3f027)"></i>
<i style="background:linear-gradient(90deg,#ba3388,#bd3786,#bf3984,#c03a83,#c23c81,#c43e7f,#c5407e,#c7427c,#c8437b,#cc4778,#cf4c74,#d35171,#d6556d,#da596a,#dc5d67,#df6263,#e26660,#e76f5a,#ec7754,#f07f4f,#f48849,#f79143,#f99a3e,#fca338,#fdae32,#fdb52e,#febd2a,#fdc527,#fccd25,#fbd624,#f8df25,#f6e826,#f3f027)"></i>
<i style="background:linear-gradient(90deg,#ba3388,#bd3786,#be3885,#c03a83,#c23c81,#c33d80,#c5407e,#c6417d,#c8437b,#cc4778,#cf4c74,#d25071,#d5546e,#d9586a,#dc5d67,#df6263,#e26660,#e76f5a,#eb7655,#f07f4f,#f48849,#f79044,#f99a3e,#fca338,#fdad32,#fdb52e,#febd2a,#fdc527,#fccd25,#fbd524,#f9de25,#f6e726,#f3ee27)"></i>
<i style="background:linear-gradient(90deg,#b83289,#bc3587,#be3885,#c03a83,#c13b82,#c33d80,#c43f7f,#c6417d,#c8437b,#cc4678,#ce4b75,#d24f71,#d5546e,#d9586a,#dc5d67,#de6264,#e26660,#e76e5b,#eb7655,#f07f4f,#f3874a,#f79044,#f99a3e,#fca338,#fdac33,#fdb42f,#febc2a,#fdc527,#fccd25,#fbd524,#f9dd25,#f6e626,#f3ee27)"></i>
<i style="background:linear-gradient(90deg,#b83289,#bc3587,#be3885,#bf3984,#c13b82,#c33d80,#c43e7f,#c6417d,#c7427c,#cb4679,#ce4b75,#d24f71,#d5546e,#d8586a,#db5c68,#de6164,#e26561,#e76e5b,#eb7655,#ef7e50,#f3874a,#f79044,#f9993e,#fba238,#fdac33,#fdb42f,#febb2b,#fdc328,#fccc26,#fbd424,#f9dd25,#f6e626,#f3ee27)"></i>
<i style="background:linear-gradient(90deg,#b7318a,#bb3488,#bd3786,#bf3984,#c13b82,#c23c81,#c43e7f,#c5407e,#c7427c,#cb4679,#ce4b75,#d14e72,#d5536f,#d8576b,#db5c68,#de6164,#e26561,#e76d5b,#eb7556,#ef7e50,#f3874a,#f69044,#f9983e,#fba238,#fdac33,#fdb42f,#febb2b,#fdc328,#fdcb26,#fbd324,#f9dc24,#f7e525,#f4ed27)"></i>
<i style="background:linear-gradient(90deg,#b7318a,#bb3488,#bd3786,#bf3984,#c03a83,#c23c81,#c33d80,#c5407e,#c7427c,#ca467a,#cd4a76,#d14e72,#d5536f,#d8576b,#db5c68,#de6064,#e26561,#e66c5c,#eb7556,#ef7d50,#f3864b,#f68f44,#f9983e,#fba238,#fdab33,#fdb32f,#febb2b,#fdc328,#fdcb26,#fbd324,#f9dc24,#f7e425,#f4ed27)"></i>
<i style="background:linear-gradient(90deg,#b6308b,#ba3388,#bd3786,#be3885,#c03a83,#c23c82,#c33d80,#c5407e,#c6417d,#ca457a,#cd4a76,#d14e72,#d5536f,#d8566c,#da5b69,#de5f65,#e16462,#e66c5c,#eb7556,#ef7d51,#f3854b,#f68f44,#f9973f,#fba139,#fdab33,#fdb22f,#feba2c,#fdc229,#fdca26,#fbd324,#f9dc24,#f7e425,#f4ed27)"></i>
<i style="background:linear-gradient(90deg,#b6308b,#ba3388,#bc3587,#be3885,#c03a83,#c13b82,#c33d80,#c43e7f,#c6417d,#ca457a,#cd4a76,#d04d73,#d45270,#d7566c,#da5b69,#de5f65,#e16462,#e66c5c,#ea7457,#ef7c51,#f3854b,#f68e44,#f9973f,#fba139,#fdaa33,#fdb22f,#feba2c,#fdc229,#fdca26,#fcd225,#fada24,#f7e325,#f5eb27)"></i>
<i style="background:linear-gradient(90deg,#b52f8c,#b83289,#bc3587,#be3885,#bf3984,#c13b82,#c23c81,#c43e7f,#c6417d,#c9447a,#cc4977,#d04d73,#d45270,#d7566c,#da5b69,#de5f65,#e16462,#e56b5d,#ea7457,#ef7c51,#f2844b,#f68d45,#f9973f,#fba039,#fcaa34,#fdb230,#feb92c,#fdc229,#fdca26,#fcd225,#fada24,#f7e225,#f5eb27)"></i>
<i style="background:linear-gradient(90deg,#b52f8c,#b83289,#bc3587,#bd3786,#bf3984,#c03a83,#c23c81,#c43e7f,#c5407e,#c9447a,#cc4977,#d04d73,#d45270,#d6556d,#da5a6a,#dd5e66,#e06363,#e56b5d,#ea7357,#ee7b51,#f2844b,#f68d45,#f89640,#fb9f3a,#fca934,#fdb130,#feb82c,#fec029,#fdc926,#fcd225,#fada24,#f7e225,#f5ea27)"></i>
<i style="background:linear-gradient(90deg,#b42e8d,#b7318a,#bb3488,#bd3786,#be3884,#c03a83,#c23c81,#c33d80,#c5407e,#c9447a,#cc4878,#cf4c74,#d35171,#d6556d,#da5a6a,#dd5e66,#e06363,#e56b5d,#e97257,#ee7b51,#f2844b,#f68d45,#f89540,#fb9f3a,#fca934,#fdb130,#feb82c,#fec029,#fdc827,#fcd025,#fad824,#f8e125,#f5e926)"></i>
<i style="background:linear-gradient(90deg,#b42e8d,#b7318a,#bb3488,#bd3686,#be3885,#c03a83,#c13b82,#c33d80,#c53f7e,#c8437b,#cc4778,#cf4c74,#d35171,#d6556d,#da596a,#dd5e66,#e06363,#e56a5d,#e97257,#ee7b51,#f1834c,#f58c46,#f89540,#fb9f3a,#fca835,#fdb030,#feb82c,#fec029,#fdc827,#fcd025,#fad824,#f8e125,#f5e926)"></i>
<i style="background:linear-gradient(90deg,#b32c8e,#b6308b,#ba3388,#bc3587,#be3885,#bf3984,#c13b82,#c33d80,#c43e7f,#c8437b,#cc4778,#cf4c74,#d35071,#d5546e,#d9586a,#dc5d67,#df6263,#e56a5d,#e97257,#ed7a52,#f1834c,#f58c46,#f89440,#fa9e3b,#fca835,#fdaf31,#feb72d,#febe2a,#fdc727,#fcd025,#fad824,#f8e125,#f5e926)"></i>
<i style="background:linear-gradient(90deg,#b32c8e,#b6308b,#ba3388,#bc3587,#bd3786,#bf3984,#c13b82,#c23c81,#c43e7f,#c8437b,#cc4678,#ce4b75,#d24f71,#d5546e,#d9586a,#dc5d67,#df6263,#e56a5d,#e97158,#ed7a52,#f1834c,#f58c46,#f89441,#fa9e3b,#fca735,#fdaf31,#feb72d,#febe2a,#fdc627,#fcce25,#fbd724,#f8df25,#f6e826)"></i>
<i style="background:linear-gradient(90deg,#b22b8f,#b52f8c,#b93289,#bc3488,#bd3786,#bf3984,#c03a83,#c23c81,#c43e7f,#c7427c,#cb4679,#ce4b75,#d24f71,#d5546e,#d8586a,#dc5d67,#df6263,#e4695e,#e97158,#ed7a52,#f1824d,#f58b47,#f89441,#fa9d3b,#fca636,#fdaf31,#feb62d,#febe2a,#fdc627,#fcce25,#fbd724,#f8df25,#f6e826)"></i>
<i style="background:linear-gradient(90deg,#b22b8f,#b52f8c,#b83289,#bb3488,#bd3786,#be3885,#c03a83,#c23c81,#c33d80,#c7427c,#cb4679,#ce4b75,#d24e72,#d5536f,#d8576b,#db5c68,#de6164,#e4695e,#e97158,#ed7953,#f1814d,#f58b47,#f89442,#fa9c3c,#fca636,#fdae32,#fdb52e,#febd2a,#fdc627,#fcce25,#fbd624,#f8de25,#f6e726)"></i>
<i style="background:linear-gradient(90deg,#b12a90,#b42e8d,#b7318a,#bb3488,#bc3687,#be3885,#c03a83,#c13b82,#c33d80,#c7427c,#ca457a,#cd4a76,#d14e72,#d5536f,#d8576b,#db5c68,#de6164,#e4695e,#e87059,#ed7953,#f1814d,#f58a47,#f79342,#fa9c3c,#fca636,#fdae32,#fdb52e,#febd2a,#fdc527,#fccd25,#fbd524,#f9dd25,#f6e626)"></i>
<i style="background:linear-gradient(90deg,#b12a90,#b42e8d,#b7318a,#ba3388,#bc3587,#be3885,#bf3984,#c13b82,#c23c81,#c6417d,#ca457a,#cd4a76,#d14e72,#d5536f,#d8576b,#db5c68,#de6064,#e3685f,#e87059,#ed7853,#f0804e,#f48948,#f79342,#fa9c3c,#fca537,#fdad32,#fdb52e,#febd2a,#fdc527,#fccd25,#fbd524,#f9dd25,#f6e626)"></i>
<i style="background:linear-gradient(90deg,#b02991,#b32c8e,#b6308b,#ba3388,#bc3587,#bd3786,#bf3984,#c13b82,#c23c81,#c6417d,#ca457a,#cd4a76,#d04e72,#d45270,#d7566c,#da5b69,#de5f65,#e3685f,#e87059,#ec7854,#f0804e,#f48948,#f79242,#fa9b3d,#fca537,#fdac33,#fdb42f,#febc2b,#fdc427,#fccd25,#fbd424,#f9dd25,#f7e525)"></i>
<i style="background:linear-gradient(90deg,#b02991,#b32c8e,#b6308b,#ba3388,#bb3488,#bd3786,#bf3984,#c03a83,#c23c81,#c6417d,#c9447a,#cc4977,#d04d73,#d45270,#d7566c,#da5b69,#de5f65,#e3675f,#e76f5a,#ec7754,#f0804e,#f48948,#f79143,#fa9b3d,#fca437,#fdac33,#fdb42f,#febb2b,#fdc328,#fdcc26,#fbd324,#f9dc24,#f7e425)"></i>
<i style="background:linear-gradient(90deg,#ae2892,#b22b8f,#b52f8c,#b93289,#bb3488,#bd3786,#be3885,#c03a83,#c13b82,#c5407e,#c9447a,#cc4977,#d04d73,#d45270,#d7566c,#da5b69,#de5f65,#e26760,#e76f5a,#ec7754,#f07f4f,#f48849,#f79143,#fa9b3d,#fca438,#fdac33,#fdb32f,#febb2b,#fdc328,#fdcb26,#fbd324,#f9dc24,#f7e425)"></i>
<i style="background:linear-gradient(90deg,#ae2892,#b22b8f,#b52f8c,#b83289,#bb3488,#bc3587,#be3885,#bf3984,#c13b82,#c5407e,#c9447a,#cc4877,#cf4c74,#d35171,#d6556d,#da5a6a,#dd5e66,#e26660,#e76f5a,#eb7655,#f07f4f,#f48849,#f79044,#f99a3e,#fca338,#fdab33,#fdb22f,#feba2c,#fdc328,#fdcb26,#fbd324,#f9db24,#f7e325)"></i>
<i style="background:linear-gradient(90deg,#ad2793,#b12a90,#b42e8d,#b83289,#ba3388,#bc3587,#be3885,#bf3984,#c13b82,#c53f7e,#c8437b,#cc4778,#cf4c74,#d35171,#d6556d,#da5a6a,#dd5e66,#e26660,#e76e5b,#eb7655,#f07f4f,#f48849,#f79044,#f99a3e,#fca338,#fdab33,#fdb22f,#feba2c,#fdc229,#fdca26,#fcd225,#fada24,#f7e225)"></i>
<i style="background:linear-gradient(90deg,#ad2793,#b12a90,#b42e8d,#b7318a,#ba3388,#bc3587,#bd3786,#bf3984,#c03a83,#c43e7f,#c8437b,#cc4778,#cf4c74,#d35071,#d6556d,#da596a,#dd5e66,#e26561,#e76e5b,#eb7655,#ef7e50,#f3874a,#f79044,#f9993e,#fba238,#fdaa33,#fdb22f,#feba2c,#fdc229,#fdca26,#fcd225,#fada24,#f7e225)"></i>
<i style="background:linear-gradient(90deg,#ac2694,#b02991,#b32c8e,#b7318a,#ba3388,#bb3488,#bd3786,#be3885,#c03a83,#c43e7f,#c8437b,#cc4678,#ce4b75,#d24f71,#d5546e,#d9586a,#dc5d67,#e26561,#e76d5b,#eb7556,#ef7e50,#f3874a,#f69044,#f9983e,#fba238,#fca934,#fdb130,#feb92c,#fdc129,#fdca26,#fcd125,#fad924,#f8e125)"></i>
<i style="background:linear-gradient(90deg,#ac2694,#b02991,#b32c8e,#b6308b,#b83289,#bb3488,#bc3687,#be3885,#c03a83,#c43e80,#c7427c,#cb4679,#ce4b75,#d24f71,#d5546e,#d9586a,#dc5d67,#e26561,#e66c5c,#eb7556,#ef7e50,#f3864a,#f68f44,#f9983e,#fba238,#fca934,#fdb130,#feb82c,#fec029,#fdc827,#fcd025,#fad824,#f8e125)"></i>
<i style="background:linear-gradient(90deg,#ab2494,#ae2892,#b22b8f,#b6308b,#b83289,#bb3488,#bc3587,#be3885,#bf3984,#c33d80,#c7427c,#cb4679,#ce4b75,#d24f71,#d5546e,#d9586a,#dc5d67,#e16462,#e66c5c,#eb7556,#ef7d50,#f3854b,#f68f44,#f9983e,#fba139,#fca934,#fdb030,#feb82c,#fec029,#fdc827,#fcd025,#fad824,#f8e125)"></i>
<i style="background:linear-gradient(90deg,#ab2494,#ae2892,#b22b8f,#b52f8c,#b83289,#ba3388,#bc3587,#bd3786,#bf3984,#c33d80,#c7427c,#ca467a,#cd4a76,#d14e72,#d5536f,#d8576b,#db5c68,#e16462,#e66c5c,#ea7457,#ef7c51,#f3854b,#f68e44,#f9973f,#fba139,#fca835,#fdaf31,#feb72d,#febf29,#fdc727,#fccf25,#fbd724,#f8df25)"></i>
<i style="background:linear-gradient(90deg,#aa2395,#ad2793,#b12a90,#b52f8c,#b7318a,#ba3388,#bb3488,#bd3786,#bf3984,#c23c80,#c6417d,#ca457a,#cd4a76,#d14e72,#d5536f,#d8576b,#db5c68,#e16462,#e56b5d,#ea7457,#ef7c51,#f3854b,#f68d45,#f9973f,#fba139,#fca835,#fdaf31,#feb72d,#febe2a,#fdc627,#fcce25,#fbd724,#f8df25)"></i>
<i style="background:linear-gradient(90deg,#aa2395,#ad2793,#b12a90,#b42e8d,#b7318a,#b93388,#bb3488,#bd3786,#be3885,#c23c81,#c6417d,#ca457a,#cd4a76,#d14e72,#d5536f,#d8576b,#db5c68,#e06363,#e56b5d,#ea7457,#ee7c51,#f2844b,#f68d45,#f9963f,#fba03a,#fca735,#fdaf31,#feb72d,#febe2a,#fdc627,#fcce25,#fbd724,#f8df25)"></i>
<i style="background:linear-gradient(90deg,#a82296,#ac2694,#b02991,#b42d8d,#b7318a,#b83289,#bb3488,#bc3587,#be3885,#c23c81,#c6417d,#c9447a,#cc4977,#d04d73,#d45270,#d7566c,#da5b69,#e06363,#e56b5d,#e97357,#ee7b51,#f2844b,#f68c46,#f89540,#fb9f3a,#fca636,#fdae32,#fdb62e,#febe2a,#fdc627,#fccd25,#fbd624,#f9dd25)"></i>
<i style="background:linear-gradient(90deg,#a82296,#ac2694,#b02991,#b32c8e,#b6308b,#b83289,#ba3388,#bc3587,#be3885,#c13b82,#c5407e,#c9447a,#cc4977,#d04d73,#d45270,#d7566c,#da5b69,#e06363,#e56a5d,#e97257,#ee7b51,#f2844b,#f58c46,#f89540,#fb9f3a,#fca636,#fdae32,#fdb52e,#febd2a,#fdc527,#fccd25,#fbd524,#f9dd25)"></i>
<i style="background:linear-gradient(90deg,#a72197,#ab2494,#ae2892,#b32c8e,#b6308b,#b7318a,#ba3388,#bc3587,#bd3786,#c13b82,#c5407e,#c9447a,#cc4877,#d04d73,#d45270,#d7566c,#da5b69,#df6263,#e56a5d,#e97257,#ee7a52,#f1834c,#f58c46,#f89540,#fa9e3b,#fca636,#fdad32,#fdb52e,#febd2a,#fdc527,#fccd25,#fbd524,#f9dd25)"></i>
<i style="background:linear-gradient(90deg,#a72197,#ab2494,#ae2892,#b22b8f,#b52f8c,#b7318a,#ba3388,#bb3488,#bd3786,#c13b82,#c43f7e,#c8437b,#cc4778,#cf4c74,#d35171,#d6556d,#da5a6a,#df6263,#e56a5d,#e97158,#ed7a52,#f1834c,#f58c46,#f89441,#fa9e3b,#fca537,#fdac33,#fdb42f,#febc2a,#fdc427,#fdcc26,#fbd424,#f9dc24)"></i>
<i style="background:linear-gradient(90deg,#a62098,#aa2395,#ad2793,#b22b8f,#b52f8c,#b7318a,#b83289,#bb3488,#bd3686,#c03a83,#c43e7f,#c8437b,#cc4778,#cf4c74,#d35171,#d6556d,#da5a6a,#df6263,#e4695e,#e97158,#ed7a52,#f1824c,#f58b47,#f89441,#fa9e3b,#fca537,#fdac33,#fdb42f,#febb2b,#fdc328,#fdcb26,#fbd324,#f9dc24)"></i>
<i style="background:linear-gradient(90deg,#a62098,#aa2395,#ad2793,#b12a90,#b42e8d,#b6308b,#b83289,#bb3488,#bc3587,#c03a83,#c43e7f,#c8437b,#cc4778,#cf4c74,#d35071,#d6556d,#da5a6a,#de6164,#e4695e,#e97158,#ed7a52,#f1814d,#f58b47,#f89441,#fa9d3c,#fca437,#fdac33,#fdb42f,#febb2b,#fdc328,#fdcb26,#fbd324,#f9dc24)"></i>
<i style="background:linear-gradient(90deg,#a51f99,#a82296,#ac2694,#b12a90,#b42e8d,#b6308b,#b83289,#ba3388,#bc3587,#c03a83,#c43e80,#c7427c,#cb4679,#ce4b75,#d24f71,#d5546e,#d9586a,#de6164,#e4695e,#e87059,#ed7953,#f1814d,#f58a47,#f79342,#fa9c3c,#fca338,#fdab33,#fdb32f,#feba2c,#fdc228,#fdca26,#fcd225,#fada24)"></i>
<i style="background:linear-gradient(90deg,#a41f99,#a82296,#ac2694,#b02991,#b32c8e,#b6308b,#b7318a,#ba3388,#bc3587,#bf3984,#c33d80,#c7427c,#cb4679,#ce4b75,#d24f71,#d5546e,#d9586a,#de6164,#e3685f,#e87059,#ed7953,#f1814d,#f48948,#f79342,#fa9c3c,#fca338,#fdab33,#fdb22f,#feba2c,#fdc229,#fdca26,#fcd225,#fada24)"></i>
<i style="background:linear-gradient(90deg,#a31e9a,#a72197,#ab2494,#af2991,#b32c8e,#b52f8c,#b7318a,#ba3388,#bb3488,#bf3984,#c33d80,#c7427c,#cb4679,#ce4b75,#d24f71,#d5546e,#d9586a,#de6065,#e3685f,#e87059,#ec7854,#f0804e,#f48948,#f79242,#fa9b3d,#fca338,#fdaa33,#fdb22f,#feba2c,#fdc229,#fdca26,#fcd225,#fad924)"></i>
<i style="background:linear-gradient(90deg,#a31e9a,#a72197,#ab2494,#ae2892,#b22b8f,#b52f8c,#b7318a,#b83289,#bb3488,#bf3984,#c23c81,#c6417d,#ca457a,#cd4a76,#d14e72,#d5536f,#d8576b,#de5f65,#e3675f,#e76f5a,#ec7754,#f0804e,#f48948,#f79243,#fa9b3d,#fba238,#fca934,#fdb130,#feb92c,#fec129,#fdc827,#fcd025,#fad824)"></i>
<i style="background:linear-gradient(90deg,#a21d9a,#a62098,#aa2395,#ae2892,#b22b8f,#b52f8c,#b6308b,#b83289,#bb3488,#be3885,#c23c81,#c6417d,#ca457a,#cd4a76,#d14e72,#d5536f,#d8576b,#de5f65,#e26660,#e76f5a,#ec7754,#f0804e,#f48849,#f79143,#fa9b3d,#fba238,#fca934,#fdb130,#feb82c,#fec029,#fdc827,#fcd025,#fad824)"></i>
<i style="background:linear-gradient(90deg,#a21c9a,#a62098,#aa2395,#ad2793,#b12a90,#b42e8d,#b6308b,#b83289,#ba3388,#be3885,#c23c81,#c6417d,#ca457a,#cd4a76,#d14e72,#d5536f,#d8576b,#dd5e66,#e26660,#e76f5a,#ec7654,#f07f4f,#f48849,#f79143,#f99a3e,#fba238,#fca934,#fdb130,#feb82c,#fec029,#fdc827,#fccf25,#fad824)"></i>
<i style="background:linear-gradient(90deg,#a11b9b,#a51f99,#a82296,#ad2793,#b12a90,#b42e8d,#b6308b,#b7318a,#ba3388,#be3885,#c13b82,#c5407e,#c9447a,#cc4977,#d04d73,#d45270,#d7566c,#dd5e66,#e26660,#e76e5b,#eb7655,#f07f4f,#f48849,#f79044,#f99a3e,#fba139,#fca835,#fdb031,#feb72d,#febf2a,#fdc627,#fcce25,#fbd724)"></i>
<i style="background:linear-gradient(90deg,#a11b9b,#a51f99,#a82296,#ac2694,#b02991,#b32d8e,#b52f8c,#b7318a,#b93289,#bd3786,#c13b82,#c5407e,#c9447a,#cc4977,#d04d73,#d45270,#d7566c,#dd5e66,#e26561,#e76e5b,#eb7655,#f07f4f,#f3874a,#f79044,#f99a3e,#fba139,#fca835,#fdaf31,#feb72d,#febe2a,#fdc627,#fcce25,#fbd724)"></i>
<i style="background:linear-gradient(90deg,#a01a9c,#a31e9a,#a72197,#ac2594,#b02991,#b32c8e,#b52f8c,#b6308a,#b83289,#bd3786,#c13b82,#c53f7e,#c9447a,#cc4977,#d04d73,#d45270,#d7566c,#dc5d67,#e26561,#e76e5b,#eb7656,#ef7e50,#f3874a,#f79044,#f9993e,#fba039,#fca735,#fdaf31,#feb72d,#febe2a,#fdc627,#fcce25,#fbd624)"></i>
<i style="background:linear-gradient(90deg,#a01a9c,#a31e9a,#a72197,#ab2494,#ae2892,#b32c8e,#b52f8c,#b6308b,#b83289,#bd3786,#c03a83,#c43e7f,#c8437b,#cc4778,#cf4c74,#d35171,#d6556d,#dc5d67,#e26561,#e66d5c,#eb7556,#ef7e50,#f3864a,#f68f44,#f9983e,#fb9f3a,#fca636,#fdae32,#fdb62e,#febd2a,#fdc527,#fccd25,#fbd524)"></i>
<i style="background:linear-gradient(90deg,#9e199d,#a21d9a,#a62098,#ab2494,#ae2892,#b22b8f,#b42e8d,#b6308b,#b83289,#bc3587,#c03a83,#c43e7f,#c8437b,#cc4778,#cf4c74,#d35171,#d6556d,#dc5d67,#e16462,#e66c5c,#eb7556,#ef7e50,#f3864b,#f68f44,#f9983e,#fb9f3a,#fca636,#fdae32,#fdb52e,#febd2a,#fdc527,#fccd25,#fbd524)"></i>
<i style="background:linear-gradient(90deg,#9e199d,#a21d9a,#a62098,#aa2395,#ad2793,#b22b8f,#b42e8d,#b6308b,#b7318a,#bc3587,#c03a83,#c43e7f,#c8437b,#cc4778,#cf4c74,#d35171,#d6556d,#db5c68,#e16462,#e66c5c,#eb7556,#ef7d51,#f3854b,#f68f44,#f9983e,#fb9f3a,#fca636,#fdae32,#fdb52e,#febd2a,#fdc427,#fccc25,#fbd424)"></i>
<i style="background:linear-gradient(90deg,#9d189d,#a11b9b,#a51f99,#a92395,#ad2793,#b12a90,#b42e8d,#b52f8c,#b7318a,#bc3587,#bf3984,#c33d80,#c7427c,#cb4679,#ce4b75,#d25071,#d5546e,#db5c68,#e16462,#e66c5c,#ea7457,#ef7c51,#f3854b,#f68e45,#f9973f,#fa9e3b,#fca537,#fdad33,#fdb42f,#febc2b,#fdc328,#fdcb26,#fbd324)"></i>
<i style="background:linear-gradient(90deg,#9d189d,#a11b9b,#a51f99,#a82296,#ac2694,#b12a90,#b32c8e,#b52f8c,#b6308b,#bb3488,#bf3984,#c33d80,#c7427c,#cb4679,#ce4b75,#d24f71,#d5546e,#db5c68,#e06363,#e56b5d,#ea7457,#ef7c51,#f2844b,#f68d45,#f9973f,#fa9e3b,#fca537,#fdac33,#fdb42f,#febb2b,#fdc328,#fdcb26,#fbd324)"></i>
<i style="background:linear-gradient(90deg,#9c179e,#a01a9c,#a41e9a,#a82296,#ac2694,#b02991,#b32c8e,#b42e8c,#b6308b,#bb3488,#bf3984,#c33d80,#c7427c,#cb4679,#ce4b75,#d24f71,#d5546e,#da5c68,#e06363,#e56b5d,#ea7357,#ee7b51,#f2844b,#f68d45,#f89640,#fa9e3b,#fca537,#fdac33,#fdb42f,#febb2b,#fdc328,#fdcb26,#fcd225)"></i>
<i style="background:linear-gradient(90deg,#9c179e,#a01a9c,#a31e9a,#a72197,#ab2494,#af2991,#b32c8e,#b42e8d,#b6308b,#bb3488,#be3885,#c23c81,#c6417d,#ca457a,#cd4a76,#d14e72,#d5536f,#da5b69,#e06363,#e56a5d,#e97257,#ee7b51,#f2844b,#f58c46,#f89540,#fa9c3c,#fca438,#fdab33,#fdb32f,#feba2c,#fdc229,#fdca26,#fcd225)"></i>
<i style="background:linear-gradient(90deg,#9a169f,#9e199d,#a21d9a,#a72197,#ab2494,#ae2892,#b22b8f,#b42e8d,#b52f8c,#ba3388,#be3885,#c23c81,#c6417d,#ca457a,#cd4a76,#d14e72,#d5536f,#da5b69,#df6263,#e56a5d,#e97257,#ee7b51,#f1834c,#f58c46,#f89540,#fa9c3c,#fca338,#fdab33,#fdb22f,#feba2c,#fdc229,#fdca26,#fcd225)"></i>
<i style="background:linear-gradient(90deg,#9a169f,#9e199d,#a21d9a,#a62098,#aa2395,#ae2892,#b22b8f,#b32d8e,#b52f8c,#ba3388,#be3885,#c23c81,#c6417d,#ca457a,#cd4a76,#d14e72,#d5536f,#da5a6a,#df6263,#e56a5d,#e97257,#ed7a52,#f1834c,#f58c46,#f89440,#fa9c3c,#fca338,#fdab33,#fdb22f,#feba2c,#fdc129,#fdc926,#fcd125)"></i>
<i style="background:linear-gradient(90deg,#99159f,#9d189d,#a11c9b,#a62098,#aa2395,#ad2793,#b12a90,#b32c8e,#b52f8c,#b93388,#bd3786,#c13b82,#c5407e,#c9447a,#cc4977,#d04d73,#d45270,#da5a6a,#df6263,#e46a5e,#e97158,#ed7a52,#f1824c,#f58b47,#f89441,#fa9b3d,#fba238,#fcaa34,#fdb130,#feb82c,#fec029,#fdc827,#fcd025)"></i>
<i style="background:linear-gradient(90deg,#99159f,#9d189d,#a11b9b,#a51f99,#a82296,#ad2793,#b12a90,#b32c8e,#b42e8d,#b83289,#bd3786,#c13b82,#c5407e,#c9447a,#cc4977,#d04d73,#d45270,#da5a6a,#de6164,#e4695e,#e97158,#ed7a52,#f1824d,#f58b47,#f89441,#fa9b3d,#fba238,#fca934,#fdb130,#feb82c,#fec029,#fdc827,#fcd025)"></i>
<i style="background:linear-gradient(90deg,#9814a0,#9c179e,#a01a9c,#a41f99,#a82296,#ac2694,#b02991,#b22b8f,#b42e8d,#b83289,#bd3786,#c13b82,#c5407e,#c9447a,#cc4977,#d04d73,#d45270,#da596a,#de6164,#e4695e,#e97158,#ed7953,#f1814d,#f58b47,#f89442,#fa9b3d,#fba238,#fca934,#fdb030,#feb82c,#febf29,#fdc727,#fcce25)"></i>
<i style="background:linear-gradient(90deg,#9814a0,#9c179e,#a01a9c,#a31e9a,#a72197,#ac2594,#b02991,#b22b8f,#b42e8d,#b8328a,#bc3587,#c03a83,#c43f7f,#c8437b,#cc4878,#cf4c74,#d35171,#d9586a,#de6164,#e4695e,#e87059,#ed7953,#f1814d,#f48a48,#f79342,#f99a3e,#fba139,#fca835,#fdaf31,#feb72d,#febe2a,#fdc627,#fcce25)"></i>
<i style="background:linear-gradient(90deg,#9613a1,#9a169f,#9e199d,#a31e9a,#a72197,#ab2494,#ae2892,#b22b8f,#b32c8e,#b7318a,#bc3587,#c03a83,#c43e7f,#c8437b,#cc4778,#cf4c74,#d35171,#d9586a,#de6065,#e3685f,#e87059,#ed7953,#f0804e,#f48948,#f79342,#f99a3e,#fba139,#fca835,#fdaf31,#feb72d,#febe2a,#fdc627,#fcce25)"></i>
<i style="background:linear-gradient(90deg,#9612a1,#9a169f,#9e199d,#a21d9a,#a62098,#aa2494,#ae2892,#b12a90,#b32c8e,#b7318a,#bc3587,#c03a83,#c43e7f,#c8437b,#cc4778,#cf4c74,#d35171,#d8586a,#de5f65,#e3685f,#e87059,#ec7854,#f0804e,#f48948,#f79242,#f99a3e,#fba039,#fca735,#fdaf31,#feb62d,#febd2a,#fdc527,#fccd25)"></i>
<i style="background:linear-gradient(90deg,#9511a1,#99159f,#9d189d,#a21c9a,#a62098,#aa2395,#ad2793,#b12a90,#b32c8e,#b6308a,#bb3488,#bf3984,#c33d80,#c7427c,#cb4679,#ce4b75,#d25071,#d8576b,#de5f65,#e3675f,#e76f5a,#ec7754,#f0804e,#f48849,#f79143,#f9983e,#fb9f3a,#fca636,#fdae32,#fdb52e,#febd2a,#fdc527,#fccd25)"></i>
<i style="background:linear-gradient(90deg,#9511a1,#99159f,#9d189d,#a11b9b,#a51f99,#a92296,#ad2793,#b12a90,#b22b8f,#b6308b,#bb3488,#bf3984,#c33d80,#c7427c,#cb4679,#ce4b75,#d24f71,#d8576b,#dd5e66,#e26660,#e76f5a,#ec7754,#f07f4f,#f48849,#f79143,#f9983e,#fb9f3a,#fca636,#fdae32,#fdb52e,#febd2a,#fdc527,#fccd25)"></i>
<i style="background:linear-gradient(90deg,#9410a2,#9814a0,#9c179e,#a11b9b,#a51f99,#a82296,#ac2694,#b02991,#b22b8f,#b6308b,#bb3488,#bf3984,#c33d80,#c7427c,#cb4679,#ce4b75,#d24f71,#d8566c,#dd5e66,#e26660,#e76f5a,#eb7655,#f07f4f,#f48849,#f79143,#f9983e,#fb9f3a,#fca636,#fdad32,#fdb52e,#febc2b,#fdc428,#fdcb26)"></i>
<i style="background:linear-gradient(90deg,#9310a2,#9814a0,#9c179e,#a01a9c,#a31e9a,#a72197,#ac2694,#b02991,#b22b8f,#b52f8c,#ba3388,#be3885,#c23c81,#c6417d,#ca457a,#cd4a76,#d14e72,#d7566c,#dd5e66,#e26660,#e76e5b,#eb7655,#f07f4f,#f3874a,#f79044,#f9973f,#fa9e3b,#fca537,#fdac33,#fdb42f,#febb2b,#fdc328,#fdcb26)"></i>
<i style="background:linear-gradient(90deg,#920fa3,#9613a1,#9a169f,#9f1a9c,#a31e9a,#a72197,#ab2494,#ae2892,#b12a90,#b52f8c,#ba3388,#be3885,#c23c81,#c6417d,#ca457a,#cd4a76,#d14e72,#d7566c,#dc5d67,#e26561,#e76e5b,#eb7655,#ef7e50,#f3874a,#f79044,#f9973f,#fa9e3b,#fca537,#fdac33,#fdb42f,#febb2b,#fdc328,#fdcb26)"></i>
<i style="background:linear-gradient(90deg,#920fa3,#9613a1,#9a169f,#9e199d,#a21d9a,#a62098,#ab2494,#ae2892,#b12a90,#b52f8c,#ba3388,#be3885,#c23c81,#c6417d,#ca457a,#cd4a76,#d14e72,#d6566c,#dc5d67,#e26561,#e76d5b,#eb7556,#ef7e50,#f3874a,#f79044,#f9973f,#fa9d3b,#fca437,#fdac33,#fdb32f,#feba2c,#fdc229,#fdca26)"></i>
<i style="background:linear-gradient(90deg,#910ea3,#9511a1,#99159f,#9e199d,#a21d9a,#a62098,#aa2395,#ad2793,#b12a90,#b42e8d,#b93289,#bd3786,#c13b82,#c5407e,#c9447a,#cc4977,#d04d73,#d6556d,#dc5d67,#e26561,#e66c5c,#eb7556,#ef7e50,#f3864b,#f68f44,#f89540,#fa9c3c,#fca338,#fdab33,#fdb22f,#feba2c,#fdc229,#fdca26)"></i>
<i style="background:linear-gradient(90deg,#900ea3,#9511a1,#99159f,#9d189d,#a11b9b,#a51f99,#aa2395,#ad2793,#b02991,#b42e8d,#b83289,#bd3786,#c13b82,#c5407e,#c9447a,#cc4977,#d04d73,#d6556d,#db5c68,#e16462,#e66c5c,#eb7556,#ef7d51,#f3854b,#f68f44,#f89540,#fa9c3c,#fca338,#fdab33,#fdb22f,#feba2c,#fdc229,#fdca26)"></i>
<i style="background:linear-gradient(90deg,#8f0da4,#9410a2,#9814a0,#9d189d,#a11b9b,#a51f99,#a82296,#ac2694,#b02991,#b42e8d,#b83289,#bd3786,#c13b82,#c5407e,#c9447a,#cc4977,#d04d73,#d6546e,#db5c68,#e16462,#e66c5c,#ea7457,#ef7c51,#f3854b,#f68e44,#f89540,#fa9c3c,#fca238,#fcaa34,#fdb130,#feb82c,#fec029,#fdc827)"></i>
<i style="background:linear-gradient(90deg,#8f0da4,#9410a2,#9814a0,#9c179e,#a01a9c,#a41e9a,#a82296,#ac2694,#af2991,#b32d8e,#b7318a,#bc3687,#c03a83,#c43f7e,#c8437b,#cc4878,#cf4c74,#d5546e,#db5c68,#e16462,#e56b5d,#ea7457,#ef7c51,#f2844b,#f68d45,#f89441,#fa9b3d,#fba238,#fca934,#fdb130,#feb82c,#fec029,#fdc827)"></i>
<i style="background:linear-gradient(90deg,#8e0ca4,#920fa3,#9613a1,#9b179e,#a01a9c,#a31e9a,#a72197,#ab2494,#ae2892,#b32c8e,#b7318a,#bc3587,#c03a83,#c43e7f,#c8437b,#cc4778,#cf4c74,#d5546e,#da5b69,#e06363,#e56b5d,#ea7457,#ee7b51,#f2844b,#f68d45,#f89441,#fa9b3d,#fba238,#fca934,#fdb130,#feb82c,#fec029,#fdc727)"></i>
<i style="background:linear-gradient(90deg,#8e0ca4,#920fa3,#9613a1,#9a169f,#9e199d,#a21d9a,#a72197,#ab2494,#ae2892,#b32c8e,#b7318a,#bc3587,#c03a83,#c43e7f,#c8437b,#cc4778,#cf4c74,#d5546e,#da5b69,#e06363,#e56b5d,#e97357,#ee7b51,#f2844b,#f68d45,#f89441,#f99a3e,#fba139,#fca835,#fdb031,#feb72d,#febe2a,#fdc627)"></i>
<i style="background:linear-gradient(90deg,#8d0ba5,#910ea3,#9511a1,#9a169f,#9e199d,#a21d9a,#a62098,#aa2395,#ad2793,#b22b8f,#b6308b,#bb3488,#bf3984,#c43e80,#c7427c,#cb4679,#ce4b75,#d5536f,#da5b69,#e06363,#e56a5d,#e97257,#ee7b51,#f1834c,#f58c46,#f79342,#f99a3e,#fba139,#fca835,#fdaf31,#feb72d,#febe2a,#fdc627)"></i>
<i style="background:linear-gradient(90deg,#8c0ba5,#900ea3,#9511a1,#99159f,#9d189d,#a11c9b,#a62098,#aa2395,#ad2793,#b22b8f,#b6308b,#bb3488,#bf3984,#c33d80,#c7427c,#cb4679,#ce4b75,#d5536f,#da5a6a,#df6263,#e56a5d,#e97257,#ed7a52,#f1834c,#f58c46,#f79342,#f99a3e,#fba139,#fca835,#fdaf31,#feb72d,#febe2a,#fdc627)"></i>
<i style="background:linear-gradient(90deg,#8b0aa5,#8f0da4,#9410a2,#9814a0,#9d189d,#a11b9b,#a51f99,#a82296,#ac2694,#b22b8f,#b52f8c,#ba3488,#bf3984,#c33d80,#c6417d,#cb4679,#ce4b75,#d45270,#da5a6a,#df6263,#e4695e,#e97158,#ed7a52,#f1824c,#f58c46,#f79342,#f99a3e,#fba139,#fca835,#fdaf31,#feb62d,#febe2a,#fdc527)"></i>
<i style="background:linear-gradient(90deg,#8b0aa5,#8f0da4,#9410a2,#9814a0,#9c179e,#a01a9c,#a41f99,#a82296,#ac2694,#b12a90,#b52f8c,#ba3388,#be3885,#c23c81,#c6417d,#ca457a,#cd4a76,#d45270,#d9596a,#de6164,#e4695e,#e97158,#ed7953,#f1814d,#f58c46,#f79342,#f9993e,#fba039,#fca735,#fdaf31,#fdb62e,#febd2a,#fdc527)"></i>
<i style="background:linear-gradient(90deg,#8a09a5,#8e0ca4,#920fa3,#9713a1,#9c179e,#a01a9c,#a31e9a,#a72197,#ab2494,#b12a90,#b42e8d,#b93289,#be3885,#c23c81,#c5407e,#ca447a,#cd4a76,#d35171,#d9586a,#de6064,#e3685f,#e87059,#ed7953,#f0804e,#f58c46,#f79242,#f9993e,#fba03a,#fca736,#fdae32,#fdb52e,#febd2a,#fdc527)"></i>
<i style="background:linear-gradient(90deg,#8908a6,#8e0ca4,#920fa3,#9613a1,#9a169f,#9e199d,#a21e9a,#a72197,#ab2494,#b02991,#b42e8d,#b83289,#bd3786,#c13b82,#c5407e,#c9447a,#cc4977,#d35171,#d8576b,#de5f65,#e3685f,#e87059,#ec7754,#f0804e,#f58b47,#f79243,#f9983e,#fb9f3a,#fca636,#fdae32,#fdb52e,#febd2a,#fdc527)"></i>
<i style="background:linear-gradient(90deg,#8808a6,#8d0ba5,#910ea3,#9512a1,#9a169f,#9e199d,#a21d9a,#a62098,#aa2395,#af2991,#b32d8e,#b7318a,#bd3686,#c13b82,#c43f7f,#c8437b,#cc4877,#d24f71,#d8576b,#de5f65,#e26760,#e76f5a,#ec7754,#f0804e,#f58b47,#f79143,#f9983e,#fb9f3a,#fca636,#fdae32,#fdb52e,#febd2a,#fdc527)"></i>
<i style="background:linear-gradient(90deg,#8707a6,#8c0aa5,#910ea3,#9511a1,#99159f,#9d189d,#a11c9b,#a62098,#a82296,#ae2892,#b32c8e,#b7318a,#bc3587,#c03a83,#c43e7f,#c8437b,#cc4778,#d24f71,#d7566c,#dd5e66,#e26660,#e76f5a,#eb7655,#f07f4f,#f58b47,#f79143,#f9983e,#fb9f3a,#fca636,#fdae32,#fdb52e,#febd2a,#fdc527)"></i>
<i style="background:linear-gradient(90deg,#8707a6,#8b0aa5,#8f0da4,#9410a2,#99159f,#9d189d,#a11b9b,#a51f99,#a82296,#ae2892,#b22b8f,#b6308b,#bc3488,#c03a83,#c33d80,#c7427c,#cc4778,#d14e72,#d7566c,#dd5e66,#e26561,#e76e5b,#eb7655,#f07e50,#f58b47,#f79143,#f9983e,#fb9f3a,#fca636,#fdae32,#fdb52e,#febc2a,#fdc428)"></i>
<i style="background:linear-gradient(90deg,#8606a6,#8a09a5,#8f0da4,#9410a2,#9814a0,#9c179e,#a01a9c,#a51f99,#a72197,#ad2793,#b22b8f,#b6308b,#bb3488,#bf3984,#c33d80,#c7427c,#cb4679,#d14e72,#d6556d,#dc5d67,#e26561,#e76d5b,#eb7556,#ef7e50,#f58b47,#f79143,#f9983e,#fb9f3a,#fca636,#fdad32,#fdb42f,#febc2b,#fdc328)"></i>
<i style="background:linear-gradient(90deg,#8606a6,#8a09a5,#8e0ca4,#920fa3,#9714a0,#9c179e,#a01a9c,#a31e9a,#a62098,#ac2694,#b12a90,#b52f8c,#ba3388,#bf3984,#c23c81,#c6417d,#cb4679,#d04d73,#d6556d,#dc5d67,#e16462,#e66c5c,#eb7556,#ef7d50,#f58a47,#f79143,#f9973f,#fa9e3b,#fca537,#fdad33,#fdb42f,#febb2b,#fdc328)"></i>
<i style="background:linear-gradient(90deg,#8405a7,#8908a6,#8e0ca4,#920fa3,#9613a1,#9a169f,#9f199d,#a31e9a,#a62098,#ac2694,#b12a90,#b52f8c,#ba3388,#be3885,#c23c81,#c6417d,#ca457a,#d04d73,#d5546e,#db5c68,#e16462,#e66c5c,#ea7457,#ef7c51,#f58a47,#f79044,#f9973f,#fa9e3b,#fca537,#fdac33,#fdb42f,#febb2b,#fdc328)"></i>
<i style="background:linear-gradient(90deg,#8405a7,#8808a6,#8d0ba5,#910ea3,#9612a1,#9a169f,#9e199d,#a21d9a,#a51f99,#ab2494,#b02991,#b42e8d,#b93289,#be3885,#c13b82,#c5407e,#ca447a,#cf4c74,#d5546e,#db5c68,#e06363,#e56b5d,#ea7457,#ef7c51,#f48a48,#f79044,#f9973f,#fa9e3b,#fca537,#fdac33,#fdb42f,#febb2b,#fdc328)"></i>
<i style="background:linear-gradient(90deg,#8305a7,#8707a6,#8c0ba5,#910ea3,#9511a1,#99159f,#9d189d,#a11c9b,#a41f99,#ab2494,#b02991,#b42e8d,#b83289,#bd3786,#c13b82,#c5407e,#c9447a,#cf4c74,#d5536f,#da5b69,#e06363,#e56b5d,#e97257,#ef7c51,#f48948,#f79044,#f9973f,#fa9e3b,#fca537,#fdac33,#fdb42f,#febb2b,#fdc328)"></i>
<i style="background:linear-gradient(90deg,#8305a7,#8707a6,#8b0aa5,#8f0da4,#9410a2,#99159f,#9d189d,#a11b9b,#a31e9a,#aa2395,#af2892,#b32d8e,#b7318a,#bc3686,#c03a83,#c43f7f,#c8447a,#ce4b75,#d5536f,#da5b69,#df6263,#e56a5d,#e97257,#ef7c51,#f48948,#f79044,#f9973f,#fa9e3b,#fca537,#fdac33,#fdb42f,#febb2b,#fdc328)"></i>
<i style="background:linear-gradient(90deg,#8104a7,#8606a6,#8a09a5,#8f0da4,#9410a2,#9814a0,#9c179e,#a01a9c,#a21d9a,#a92296,#ae2892,#b32c8e,#b7318a,#bc3587,#c03a83,#c43e7f,#c8437b,#ce4b75,#d45270,#da5a6a,#df6263,#e56a5d,#e97158,#ee7c51,#f48948,#f79044,#f9963f,#fa9e3b,#fca437,#fdac33,#fdb32f,#feba2c,#fdc229)"></i>
<i style="background:linear-gradient(90deg,#8104a7,#8606a6,#8a09a5,#8e0ca4,#930fa3,#9814a0,#9c179e,#9f1a9c,#a21d9a,#a82296,#ad2793,#b22b8f,#b6308b,#bb3488,#bf3984,#c33d80,#c8427c,#cd4a76,#d45270,#da596a,#de6164,#e4695e,#e97158,#ee7b51,#f48948,#f79044,#f89640,#fa9d3c,#fca438,#fdab33,#fdb22f,#feba2c,#fdc229)"></i>
<i style="background:linear-gradient(90deg,#8004a8,#8405a7,#8908a6,#8e0ca4,#920fa3,#9613a1,#9a169f,#9e199d,#a11b9b,#a72197,#ad2793,#b22b8f,#b6308b,#bb3488,#bf3984,#c33d80,#c7427c,#cd4a76,#d35171,#d9586a,#de6164,#e4695e,#e87059,#ee7b51,#f48948,#f79044,#f89640,#fa9c3c,#fca338,#fdab33,#fdb22f,#feba2c,#fdc229)"></i>
<i style="background:linear-gradient(90deg,#8004a8,#8405a7,#8808a6,#8d0ba5,#910ea3,#9612a1,#9a169f,#9d189d,#a11b9b,#a72197,#ac2694,#b12a90,#b52f8c,#ba3388,#be3885,#c23c81,#c6427c,#cc4977,#d35171,#d9586a,#de6065,#e3685f,#e87059,#ee7b51,#f48948,#f68f44,#f89540,#fa9c3c,#fca338,#fdab33,#fdb22f,#feba2c,#fdc229)"></i>
<i style="background:linear-gradient(90deg,#7e03a8,#8305a7,#8707a6,#8c0ba5,#910ea3,#9511a1,#99159f,#9d189d,#a01a9c,#a62098,#ac2694,#b12a90,#b52f8c,#ba3388,#be3885,#c23c81,#c6417d,#cc4877,#d25071,#d8576b,#de5f65,#e3675f,#e76f5a,#ee7b51,#f48849,#f68f44,#f89540,#fa9c3c,#fca338,#fdab33,#fdb22f,#feba2c,#fdc229)"></i>
<i style="background:linear-gradient(90deg,#7e03a8,#8305a7,#8707a6,#8b0aa5,#8f0da4,#9511a1,#99159f,#9c179e,#9e199d,#a51f99,#ab2594,#b02991,#b42e8d,#b93289,#bd3786,#c13b82,#c6407e,#cc4778,#d24f71,#d8576b,#dd5e66,#e26660,#e76f5a,#ee7b51,#f48849,#f68f44,#f89540,#fa9c3c,#fca338,#fdab33,#fdb22f,#feba2c,#fdc229)"></i>
<i style="background:linear-gradient(90deg,#7d03a8,#8104a7,#8606a6,#8b0aa5,#8f0da4,#9410a2,#9814a0,#9b169f,#9e199d,#a51f99,#ab2494,#b02991,#b42e8d,#b83289,#bd3786,#c13b82,#c5407e,#cc4778,#d14e72,#d7566c,#dd5e66,#e26660,#e76e5b,#ee7b51,#f48849,#f68f44,#f89540,#fa9c3c,#fca338,#fdab33,#fdb22f,#feb92c,#fec029)"></i>
<i style="background:linear-gradient(90deg,#7c03a8,#8104a7,#8606a6,#8a09a5,#8e0ca4,#9310a2,#9714a0,#9a169f,#9d189d,#a31e9a,#aa2395,#af2892,#b32d8e,#b7318a,#bc3687,#c03a83,#c43f7e,#cb4679,#d14e72,#d7566c,#dc5d67,#e26561,#e76e5b,#ee7b51,#f48849,#f68f44,#f89540,#fa9c3c,#fca338,#fdaa33,#fdb130,#feb92c,#fec029)"></i>
<i style="background:linear-gradient(90deg,#7b02a8,#8004a8,#8405a7,#8909a5,#8e0ca4,#920fa3,#9613a1,#99159f,#9c179e,#a31e9a,#a92395,#ae2892,#b32c8e,#b7318a,#bc3587,#c03a83,#c43e7f,#cb4679,#d04d73,#d6556d,#dc5d67,#e26561,#e76e5b,#ed7a52,#f48849,#f68f44,#f89441,#fa9b3d,#fba238,#fcaa34,#fdb130,#feb82c,#fec029)"></i>
<i style="background:linear-gradient(90deg,#7b02a8,#8004a8,#8405a7,#8808a6,#8d0ba5,#910ea3,#9512a1,#99159f,#9c179e,#a21d9a,#a82296,#ad2793,#b22b8f,#b6308b,#bb3488,#bf3984,#c33d80,#ca457a,#d04d73,#d6556d,#db5c68,#e16462,#e76e5b,#ed7a52,#f48849,#f68e44,#f89441,#fa9b3d,#fba238,#fca934,#fdb130,#feb82c,#fec029)"></i>
<i style="background:linear-gradient(90deg,#7a02a8,#7e03a8,#8305a7,#8808a6,#8d0ba5,#910ea3,#9511a1,#9814a0,#9a169f,#a11c9b,#a72197,#ad2793,#b22b8f,#b6308b,#bb3488,#bf3984,#c33d80,#ca457a,#cf4c74,#d5546e,#db5c68,#e16462,#e76d5b,#ed7a52,#f48849,#f68e45,#f89441,#fa9b3d,#fba238,#fca934,#fdb130,#feb82c,#fec029)"></i>
<i style="background:linear-gradient(90deg,#7902a8,#7e03a8,#8305a7,#8707a6,#8b0aa5,#900da4,#9410a2,#9613a1,#9a169f,#a11b9b,#a72197,#ac2694,#b12a90,#b52f8c,#ba3388,#be3885,#c23c81,#c9447a,#cf4c74,#d5546e,#da5b69,#e06363,#e66d5c,#ed7a52,#f3874a,#f68d45,#f89441,#fa9b3d,#fba238,#fca934,#fdb130,#feb82c,#fec029)"></i>
<i style="background:linear-gradient(90deg,#7801a8,#7d03a8,#8104a7,#8606a6,#8b0aa5,#8f0da4,#9310a2,#9613a1,#99159f,#a01a9c,#a62098,#ac2694,#b12a90,#b52f8c,#ba3388,#be3885,#c23c81,#c9447a,#ce4b75,#d5536f,#da5b69,#e06363,#e66d5c,#ed7a52,#f3874a,#f68d45,#f89441,#fa9b3d,#fba238,#fca934,#fdb030,#feb82c,#febf2a)"></i>
<i style="background:linear-gradient(90deg,#7801a8,#7c03a8,#8104a7,#8606a6,#8a09a5,#8e0ca4,#920fa3,#9511a1,#9814a0,#9f199d,#a62098,#ab2594,#b02991,#b42e8d,#b83289,#bd3786,#c13b82,#c8437b,#ce4b75,#d45270,#da5a6a,#df6263,#e66c5c,#ed7a52,#f3874a,#f68d45,#f89441,#fa9b3d,#fba238,#fca934,#fdb031,#feb72d,#febe2a)"></i>
<i style="background:linear-gradient(90deg,#7701a8,#7b02a8,#8004a8,#8505a7,#8a09a5,#8e0ca4,#910ea3,#9410a2,#9814a0,#9e199d,#a51f99,#ab2494,#b02991,#b42e8d,#b83289,#bd3786,#c13b82,#c8437b,#cd4a76,#d45270,#da5a6a,#df6263,#e66c5c,#ed7a52,#f3874a,#f68d45,#f89441,#f99a3e,#fba139,#fca835,#fdaf31,#feb72d,#febe2a)"></i>
<i style="background:linear-gradient(90deg,#7601a8,#7b02a8,#8004a8,#8405a7,#8808a6,#8d0ba5,#900ea3,#9410a2,#9613a1,#9d189d,#a31e9a,#aa2395,#af2892,#b32d8e,#b7318a,#bc3687,#c03a83,#c7427c,#cd4a76,#d45270,#d9586a,#de6164,#e66c5c,#ed7953,#f3874a,#f68d45,#f79342,#f99a3e,#fba139,#fca835,#fdaf31,#feb72d,#febe2a)"></i>
<i style="background:linear-gradient(90deg,#7501a8,#7a02a8,#7e03a8,#8305a7,#8808a6,#8d0ba5,#8f0da4,#920fa3,#9612a1,#9d189d,#a31e9a,#aa2395,#ae2892,#b32c8e,#b7318a,#bc3587,#c03a83,#c7427c,#cc4977,#d35171,#d9586a,#de6064,#e66c5c,#ed7953,#f3864a,#f68d45,#f79342,#f99a3e,#fba139,#fca835,#fdaf31,#feb72d,#febe2a)"></i>
<i style="background:linear-gradient(90deg,#7401a8,#7902a8,#7e03a8,#8305a7,#8707a6,#8b0aa5,#8e0ca4,#920fa3,#9511a1,#9c179e,#a21d9a,#a82296,#ad2793,#b22b8f,#b6308b,#bb3488,#bf3984,#c6417d,#cc4977,#d25071,#d8576b,#de6065,#e66c5c,#ed7953,#f3864a,#f58c46,#f79342,#f99a3e,#fba139,#fca835,#fdaf31,#feb72d,#febe2a)"></i>
<i style="background:linear-gradient(90deg,#7401a8,#7801a8,#7d03a8,#8104a7,#8707a6,#8b0aa5,#8e0ca4,#910ea3,#9410a2,#9b169f,#a11c9b,#a82296,#ad2793,#b22b8f,#b6308b,#bb3488,#bf3984,#c6417d,#cc4778,#d24f71,#d8576b,#de6065,#e66c5c,#ed7953,#f3864b,#f58c46,#f79342,#f99a3e,#fba139,#fca835,#fdaf31,#feb62d,#febe2a)"></i>
<i style="background:linear-gradient(90deg,#7301a8,#7701a8,#7c03a8,#8104a7,#8606a6,#8a09a5,#8d0ba5,#900da4,#9410a2,#9a169f,#a11b9b,#a72197,#ac2694,#b12a90,#b52f8c,#ba3388,#be3885,#c5407e,#cc4778,#d24e72,#d7566c,#de5f65,#e56b5d,#ed7953,#f3854b,#f58c46,#f79342,#f99a3e,#fba039,#fca835,#fdae32,#feb62e,#febd2a)"></i>
<i style="background:linear-gradient(90deg,#7201a8,#7701a8,#7b02a8,#8004a8,#8506a6,#8908a6,#8c0ba5,#8f0da4,#920fa3,#99159f,#a01a9c,#a62098,#ac2694,#b12a90,#b52f8c,#ba3388,#be3885,#c53f7e,#cb4679,#d14e72,#d7566c,#de5f65,#e56b5d,#ed7853,#f3854b,#f58c46,#f79342,#f9993e,#fba03a,#fca736,#fdae32,#fdb62e,#febd2a)"></i>
<i style="background:linear-gradient(90deg,#7100a8,#7601a8,#7b02a8,#8004a8,#8405a7,#8808a6,#8b0aa5,#8e0ca4,#910ea3,#99159f,#9f1a9c,#a62098,#ab2494,#b02991,#b42e8d,#b83289,#bd3786,#c43e7f,#cb4679,#d04e72,#d6556d,#de5f65,#e56b5d,#ed7853,#f3854b,#f58c46,#f79242,#f9993e,#fb9f3a,#fca636,#fdae32,#fdb52e,#febd2a)"></i>
<i style="background:linear-gradient(90deg,#7100a8,#7501a8,#7a02a8,#7e03a8,#8305a7,#8707a6,#8a09a5,#8e0ca4,#910ea3,#9814a0,#9e199d,#a51f99,#ab2494,#b02991,#b42e8d,#b83289,#bd3786,#c43e7f,#ca457a,#d04d73,#d6556d,#de5f65,#e56b5d,#ec7854,#f3854b,#f58c46,#f79243,#f9983e,#fb9f3a,#fca636,#fdae32,#fdb52e,#febd2a)"></i>
<i style="background:linear-gradient(90deg,#6f00a8,#7401a8,#7902a8,#7e03a8,#8305a7,#8707a6,#8a09a5,#8d0ba5,#8f0da4,#9713a1,#9d189d,#a41f99,#aa2395,#af2892,#b32c8e,#b7318a,#bc3687,#c33d80,#ca457a,#d04c74,#d5546e,#de5f65,#e56b5d,#ec7854,#f3854b,#f58c46,#f79143,#f9983e,#fb9f3a,#fca636,#fdae32,#fdb52e,#febd2a)"></i>
<i style="background:linear-gradient(90deg,#6f00a8,#7401a8,#7801a8,#7d03a8,#8204a7,#8606a6,#8808a6,#8c0aa5,#8f0da4,#9613a1,#9d189d,#a31e9a,#aa2395,#ae2892,#b32c8e,#b7318a,#bc3587,#c33d80,#c9447a,#cf4c74,#d5546e,#dd5e66,#e56b5d,#ec7754,#f3854b,#f58b47,#f79143,#f9983e,#fb9f3a,#fca636,#fdae32,#fdb52e,#febd2a)"></i>
<i style="background:linear-gradient(90deg,#6e00a8,#7201a8,#7701a8,#7d03a8,#8104a7,#8405a7,#8808a6,#8b0aa5,#8e0ca4,#9511a1,#9c179e,#a21d9a,#a82296,#ad2793,#b22b8f,#b6308b,#bb3488,#c23c81,#c9447a,#ce4c74,#d5536f,#dd5e66,#e56a5d,#ec7754,#f2844b,#f58b47,#f79143,#f9983e,#fb9f3a,#fca636,#fdad32,#fdb52e,#febc2b)"></i>
<i style="background:linear-gradient(90deg,#6e00a8,#7201a8,#7701a8,#7b02a8,#8004a8,#8405a7,#8707a6,#8a09a5,#8d0ba5,#9410a2,#9b179e,#a21c9a,#a82296,#ad2793,#b22b8f,#b6308b,#bb3488,#c23c81,#c8437b,#ce4b75,#d5536f,#dd5e66,#e56a5d,#ec7754,#f2844b,#f58b47,#f79143,#f9983e,#fb9f3a,#fca636,#fdad33,#fdb42f,#febb2b)"></i>
<i style="background:linear-gradient(90deg,#6c00a8,#7100a8,#7601a8,#7b02a8,#8004a8,#8305a7,#8606a6,#8909a5,#8d0ba5,#9410a2,#9a169f,#a11b9b,#a72197,#ac2694,#b12a90,#b52f8c,#ba3388,#c13b82,#c8437b,#cd4a76,#d5536f,#dd5e66,#e56a5d,#ec7754,#f2844b,#f58b47,#f79143,#f9983e,#fa9e3b,#fca537,#fdac33,#fdb42f,#febb2b)"></i>
<i style="background:linear-gradient(90deg,#6c00a8,#7100a8,#7501a8,#7a02a8,#7e03a8,#8204a7,#8606a6,#8808a6,#8b0aa5,#920fa3,#99159f,#a01a9c,#a72197,#ac2694,#b12a90,#b52f8c,#ba3388,#c13b82,#c7427c,#cd4a76,#d45270,#dd5e66,#e56a5d,#ec7754,#f2844b,#f58b47,#f79143,#f9973f,#fa9e3b,#fca537,#fdac33,#fdb42f,#febb2b)"></i>
<i style="background:linear-gradient(90deg,#6a00a8,#6f00a8,#7401a8,#7a02a8,#7e03a8,#8104a7,#8405a7,#8707a6,#8b0aa5,#920fa3,#99159f,#a01a9c,#a62098,#ab2494,#b02991,#b42e8d,#b93289,#c03a83,#c7427c,#cc4977,#d45270,#dd5e66,#e56a5d,#eb7655,#f2844b,#f58b47,#f79044,#f9973f,#fa9e3b,#fca537,#fdac33,#fdb42f,#febb2b)"></i>
<i style="background:linear-gradient(90deg,#6a00a8,#6f00a8,#7401a8,#7801a8,#7d03a8,#8004a8,#8305a7,#8707a6,#8a09a5,#910ea3,#9814a0,#9e199d,#a51f99,#ab2494,#b02991,#b42e8d,#b83289,#c03a83,#c6417d,#cc4977,#d45270,#dd5e66,#e56a5d,#eb7655,#f2844b,#f58a47,#f79044,#f9973f,#fa9e3b,#fca537,#fdac33,#fdb42f,#febb2b)"></i>
<i style="background:linear-gradient(90deg,#6900a8,#6e00a8,#7201a8,#7801a8,#7c02a8,#7f04a8,#8305a7,#8606a6,#8808a6,#900da4,#9713a1,#9e199d,#a51f99,#aa2395,#ae2892,#b32c8e,#b7318a,#bf3984,#c6417d,#cc4878,#d45270,#dc5d67,#e56a5d,#eb7655,#f2844b,#f48a48,#f79044,#f9973f,#fa9e3b,#fca537,#fdac33,#fdb32f,#feba2c)"></i>
<i style="background:linear-gradient(90deg,#6800a8,#6e00a8,#7201a8,#7701a8,#7b02a8,#7e03a8,#8104a7,#8505a7,#8808a6,#8f0da4,#9613a1,#9d189d,#a31e9a,#aa2395,#ae2892,#b32c8e,#b7318a,#bf3984,#c5407e,#cc4778,#d45270,#dc5d67,#e46a5e,#eb7655,#f1834c,#f48948,#f79044,#f9973f,#fa9e3b,#fca437,#fdab33,#fdb32f,#feba2c)"></i>
<i style="background:linear-gradient(90deg,#6700a8,#6c00a8,#7100a8,#7601a8,#7a02a8,#7d03a8,#8104a7,#8405a7,#8707a6,#8e0ca4,#9511a1,#9c179e,#a31e9a,#a82296,#ad2793,#b22b8f,#b6308b,#be3885,#c53f7e,#cb4679,#d45270,#dc5d67,#e4695e,#eb7655,#f1834c,#f48948,#f79044,#f9973f,#fa9d3b,#fca438,#fdab33,#fdb22f,#feba2c)"></i>
<i style="background:linear-gradient(90deg,#6700a8,#6c00a8,#7100a8,#7501a8,#7902a8,#7d03a8,#8004a8,#8305a7,#8606a6,#8e0ca4,#9511a1,#9c179e,#a21d9a,#a82296,#ad2793,#b22b8f,#b6308b,#be3885,#c43e7f,#cb4679,#d45270,#dc5d67,#e4695e,#eb7655,#f1834c,#f48948,#f79044,#f9963f,#fa9d3c,#fca338,#fdab33,#fdb22f,#feba2c)"></i>
<i style="background:linear-gradient(90deg,#6600a7,#6a00a8,#6f00a8,#7401a8,#7801a8,#7b02a8,#7e03a8,#8205a7,#8606a6,#8d0ba5,#9410a2,#9a169f,#a11c9b,#a72197,#ac2694,#b12a90,#b52f8c,#bd3786,#c43e7f,#ca457a,#d35171,#dc5d67,#e4695e,#eb7655,#f1834c,#f48948,#f79044,#f89640,#fa9c3c,#fca338,#fdab33,#fdb22f,#feba2c)"></i>
<i style="background:linear-gradient(90deg,#6500a7,#6a00a8,#6f00a8,#7401a8,#7701a8,#7b02a8,#7e03a8,#8104a7,#8405a7,#8c0aa5,#930fa3,#9a169f,#a11b9b,#a72197,#ac2694,#b12a90,#b52f8c,#bd3686,#c33d80,#ca457a,#d35171,#dc5d67,#e4695e,#eb7556,#f1834c,#f48948,#f68f44,#f89540,#fa9c3c,#fca338,#fdab33,#fdb22f,#feba2c)"></i>
<i style="background:linear-gradient(90deg,#6400a7,#6900a8,#6e00a8,#7301a8,#7601a8,#7a02a8,#7d03a8,#8004a8,#8405a7,#8b0aa5,#920fa3,#99159f,#a01a9c,#a62098,#ab2494,#b02991,#b42e8d,#bc3587,#c33d80,#ca457a,#d35171,#dc5d67,#e4695e,#eb7556,#f1824c,#f48948,#f68f44,#f89540,#fa9c3c,#fca338,#fdab33,#fdb22f,#feb92c)"></i>
<i style="background:linear-gradient(90deg,#6400a7,#6800a8,#6e00a8,#7201a8,#7501a8,#7801a8,#7c02a8,#8004a8,#8305a7,#8a09a5,#910ea3,#9814a0,#9f199d,#a62098,#ab2494,#b02991,#b42e8d,#bc3587,#c23c81,#ca447a,#d35171,#db5c68,#e4695e,#eb7556,#f1824c,#f48849,#f68f44,#f89540,#fa9c3c,#fca338,#fcaa34,#fdb230,#feb82c)"></i>
<i style="background:linear-gradient(90deg,#6300a7,#6700a8,#6c00a8,#7100a8,#7401a8,#7801a8,#7b02a8,#7e03a8,#8204a7,#8909a5,#900ea3,#9814a0,#9e199d,#a51f99,#aa2395,#ae2892,#b32c8e,#bb3488,#c23c81,#c9447a,#d35171,#db5c68,#e4685e,#eb7556,#f1824d,#f48849,#f68f44,#f89540,#fa9c3c,#fca338,#fcaa34,#fdb130,#feb82c)"></i>
<i style="background:linear-gradient(90deg,#6200a7,#6700a8,#6c00a8,#7000a8,#7401a8,#7701a8,#7a02a8,#7e03a8,#8104a7,#8808a6,#8f0da4,#9613a1,#9d189d,#a41e9a,#aa2395,#ae2892,#b32c8e,#ba3488,#c13b82,#c9447a,#d35071,#db5c68,#e3685f,#eb7556,#f1824d,#f48849,#f68f44,#f89540,#fa9c3c,#fba238,#fca934,#fdb130,#feb82c)"></i>
<i style="background:linear-gradient(90deg,#6100a7,#6600a7,#6a00a8,#6f00a8,#7201a8,#7601a8,#7a02a8,#7d03a8,#8004a8,#8707a6,#8e0ca4,#9512a1,#9d189d,#a31e9a,#a82296,#ad2793,#b22b8f,#ba3388,#c13b82,#c9447a,#d35071,#db5c68,#e3685f,#eb7556,#f1814d,#f48849,#f68f44,#f89540,#fa9b3d,#fba238,#fca934,#fdb130,#feb82c)"></i>
<i style="background:linear-gradient(90deg,#6001a6,#6500a7,#6a00a8,#6e00a8,#7201a8,#7501a8,#7801a8,#7b02a8,#7f04a8,#8707a6,#8e0ca4,#9511a1,#9c179e,#a21d9a,#a82296,#ad2793,#b22b8f,#b93288,#c03a83,#c9447a,#d25071,#db5c68,#e3685f,#eb7556,#f1814d,#f48849,#f68e44,#f89441,#fa9b3d,#fba238,#fca934,#fdb130,#feb82c)"></i>
<i style="background:linear-gradient(90deg,#6001a6,#6400a7,#6900a8,#6e00a8,#7100a8,#7401a8,#7701a8,#7b02a8,#7e03a8,#8606a6,#8d0ba5,#9410a2,#9b169f,#a21c9a,#a72197,#ac2694,#b12a90,#b83289,#c03a83,#c9447a,#d25071,#db5c68,#e3685f,#ea7457,#f1814d,#f48849,#f68e45,#f89441,#fa9b3d,#fba238,#fca934,#fdb130,#feb82c)"></i>
<i style="background:linear-gradient(90deg,#5e01a6,#6300a7,#6800a8,#6c00a8,#7000a8,#7301a8,#7701a8,#7a02a8,#7d03a8,#8505a7,#8c0aa5,#9310a2,#9a169f,#a11b9b,#a72197,#ac2694,#b12a90,#b8328a,#bf3984,#c9447a,#d24f71,#db5c68,#e3685f,#ea7457,#f1814d,#f48849,#f68d45,#f89441,#fa9b3d,#fba238,#fca934,#fdb030,#feb72d)"></i>
<i style="background:linear-gradient(90deg,#5e01a6,#6300a7,#6700a8,#6b00a8,#6f00a8,#7201a8,#7501a8,#7901a8,#7d03a8,#8405a7,#8b0aa5,#920fa3,#99159f,#a01a9c,#a62098,#ab2494,#b02991,#b7318a,#bf3984,#c8447a,#d24f71,#da5b69,#e3675f,#ea7457,#f1814d,#f3874a,#f68d45,#f89441,#fa9b3d,#fba238,#fca835,#fdb031,#feb72d)"></i>
<i style="background:linear-gradient(90deg,#5c01a6,#6200a7,#6700a8,#6a00a8,#6e00a8,#7100a8,#7501a8,#7801a8,#7b02a8,#8305a7,#8a09a5,#910ea3,#99159f,#a01a9c,#a62098,#ab2494,#b02991,#b6308a,#be3885,#c8437b,#d24f71,#da5b69,#e3675f,#ea7457,#f0804e,#f3874a,#f68d45,#f89441,#fa9b3d,#fba238,#fca835,#fdaf31,#feb72d)"></i>
<i style="background:linear-gradient(90deg,#5c01a6,#6100a7,#6600a7,#6900a8,#6d00a8,#7100a8,#7401a8,#7701a8,#7a02a8,#8205a7,#8909a5,#910ea3,#9814a0,#9e199d,#a51f99,#aa2395,#ae2892,#b6308b,#be3885,#c8437b,#d24f71,#da5b69,#e26760,#ea7457,#f0804e,#f3874a,#f68d45,#f89441,#fa9b3d,#fba139,#fca835,#fdaf31,#feb72d)"></i>
<i style="background:linear-gradient(90deg,#5b01a5,#6001a6,#6500a7,#6800a8,#6c00a8,#6f00a8,#7201a8,#7601a8,#7a02a8,#8104a7,#8808a6,#8f0da4,#9613a1,#9d189d,#a41f99,#aa2395,#ae2892,#b6308c,#be3885,#c8437b,#d24f71,#da5b69,#e26660,#ea7357,#f0804e,#f3874a,#f68d45,#f89441,#f99a3e,#fba139,#fca835,#fdaf31,#feb72d)"></i>
<i style="background:linear-gradient(90deg,#5b01a5,#6001a6,#6400a7,#6700a8,#6a00a8,#6f00a8,#7201a8,#7501a8,#7801a8,#8004a8,#8707a6,#8f0da4,#9613a1,#9d189d,#a31e9a,#a82296,#ad2793,#b52f8c,#bd3786,#c8437b,#d14e72,#da5b69,#e26660,#ea7357,#f0804e,#f3874a,#f68d45,#f79342,#f99a3e,#fba139,#fca835,#fdaf31,#feb72d)"></i>
<i style="background:linear-gradient(90deg,#5901a5,#5e01a6,#6300a7,#6600a7,#6a00a8,#6e00a8,#7100a8,#7401a8,#7801a8,#8004a8,#8707a6,#8e0ca4,#9511a1,#9c179e,#a21d9a,#a82296,#ad2793,#b42e8c,#bd3786,#c8437b,#d14e72,#da5b69,#e26660,#e97357,#f0804e,#f3874a,#f58c46,#f79342,#f99a3e,#fba139,#fca835,#fdaf31,#feb62e)"></i>
<i style="background:linear-gradient(90deg,#5901a5,#5e01a6,#6200a7,#6600a7,#6900a8,#6c00a8,#7000a8,#7401a8,#7701a8,#7e03a8,#8606a6,#8d0ba5,#9410a2,#9b179e,#a21c9a,#a72197,#ac2694,#b42e8d,#bd3786,#c8437b,#d14e72,#da5b69,#e26660,#e97357,#f0804e,#f3864a,#f58c46,#f79342,#f99a3e,#fba139,#fca735,#fdae32,#fdb52e)"></i>
<i style="background:linear-gradient(90deg,#5801a4,#5c01a6,#6100a7,#6400a7,#6800a8,#6c00a8,#6f00a8,#7201a8,#7601a8,#7e03a8,#8506a6,#8d0ba5,#9410a2,#9a169f,#a11b9b,#a72197,#ac2694,#b42d8e,#bd3786,#c8427c,#d14e72,#da5a6a,#e26660,#e97257,#f0804e,#f3864b,#f58c46,#f79342,#f99a3e,#fba139,#fca736,#fdae32,#fdb52e)"></i>
<i style="background:linear-gradient(90deg,#5801a4,#5c01a6,#6001a6,#6400a7,#6700a8,#6a00a8,#6e00a8,#7201a8,#7501a8,#7d03a8,#8405a7,#8b0aa5,#920fa3,#99159f,#a01a9c,#a62098,#ab2494,#b32c8e,#bd3786,#c7427c,#d14e72,#da5a6a,#e26660,#e97257,#f07f4f,#f3854b,#f58c46,#f79342,#f99a3e,#fba039,#fca636,#fdae32,#fdb52e)"></i>
<i style="background:linear-gradient(90deg,#5601a4,#5b01a5,#6001a6,#6300a7,#6600a7,#6900a8,#6e00a8,#7100a8,#7401a8,#7b02a8,#8305a7,#8a09a5,#920fa3,#99159f,#a01a9c,#a62098,#ab2494,#b22c8e,#bd3686,#c7427c,#d14e72,#da5a6a,#e26561,#e97257,#f07f4f,#f3854b,#f58c46,#f79342,#f9993e,#fba03a,#fca636,#fdae32,#fdb52e)"></i>
<i style="background:linear-gradient(90deg,#5601a4,#5b01a5,#5e01a6,#6200a7,#6500a7,#6900a8,#6c00a8,#6f00a8,#7301a8,#7b02a8,#8305a7,#8a09a5,#910ea3,#9814a0,#9e199d,#a51f99,#aa2395,#b22b8f,#bd3686,#c7427c,#d14e72,#da5a6a,#e26561,#e97257,#f07f4f,#f3854b,#f58c46,#f79242,#f9993e,#fb9f3a,#fca636,#fdae32,#fdb52e)"></i>
<i style="background:linear-gradient(90deg,#5502a4,#5901a5,#5d01a6,#6100a7,#6400a7,#6700a8,#6b00a8,#6f00a8,#7201a8,#7a02a8,#8104a7,#8808a6,#900da4,#9714a0,#9e199d,#a51f99,#aa2395,#b12a90,#bc3687,#c7427c,#d04d73,#da5a6a,#e26561,#e97257,#f07f4f,#f3854b,#f58c46,#f79243,#f9983e,#fb9f3a,#fca636,#fdae32,#fdb52e)"></i>
<i style="background:linear-gradient(90deg,#5402a4,#5901a5,#5c01a6,#6001a6,#6300a7,#6700a8,#6a00a8,#6e00a8,#7100a8,#7901a8,#8004a8,#8808a6,#8f0da4,#9613a1,#9d189d,#a31e9a,#a82296,#b12a90,#bc3687,#c7427c,#d04d73,#da596a,#e26561,#e97158,#f07f4f,#f3854b,#f58b47,#f79143,#f9983e,#fb9f3a,#fca636,#fdad32,#fdb42f)"></i>
<i style="background:linear-gradient(90deg,#5302a3,#5801a4,#5b01a5,#5f01a6,#6300a7,#6600a7,#6900a8,#6d00a8,#7100a8,#7801a8,#8004a8,#8707a6,#8e0ca4,#9512a1,#9c179e,#a31e9a,#a82296,#b12a90,#bc3587,#c7427c,#d04d73,#da596a,#e26561,#e97158,#f07f4f,#f3854b,#f58b47,#f79143,#f9983e,#fb9f3a,#fca636,#fdad33,#fdb42f)"></i>
<i style="background:linear-gradient(90deg,#5202a3,#5701a4,#5a01a5,#5e01a6,#6100a7,#6500a7,#6800a8,#6c00a8,#6f00a8,#7701a8,#7e03a8,#8606a6,#8e0ca4,#9511a1,#9c179e,#a21d9a,#a72197,#b12a90,#bc3587,#c6427c,#d04d73,#d9596a,#e26561,#e97158,#f07f4f,#f2844b,#f58b47,#f79143,#f9983e,#fb9f3a,#fca537,#fdac33,#fdb42f)"></i>
<i style="background:linear-gradient(90deg,#5102a3,#5601a4,#5901a5,#5c01a6,#6100a7,#6400a7,#6700a8,#6a00a8,#6e00a8,#7601a8,#7e03a8,#8606a6,#8d0ba5,#9410a2,#9a169f,#a11b9b,#a72197,#b12a90,#bc3587,#c6417d,#d04d73,#d9596a,#e26561,#e97158,#ef7e50,#f2844b,#f58b47,#f79143,#f9983e,#fb9f3a,#fca537,#fdac33,#fdb42f)"></i>
<i style="background:linear-gradient(90deg,#5102a3,#5502a4,#5801a4,#5c01a6,#6001a6,#6300a7,#6600a7,#6a00a8,#6e00a8,#7501a8,#7d03a8,#8405a7,#8c0aa5,#930fa3,#9a169f,#a11b9b,#a62098,#b12a90,#bc3587,#c6417d,#d04d73,#d9586a,#e16462,#e97158,#ef7e50,#f2844b,#f58b47,#f79143,#f9983e,#fa9e3b,#fca537,#fdac33,#fdb42f)"></i>
<i style="background:linear-gradient(90deg,#5002a2,#5402a4,#5801a4,#5b01a5,#5e01a6,#6200a7,#6600a7,#6900a8,#6c00a8,#7401a8,#7c02a8,#8405a7,#8b0aa5,#920fa3,#99159f,#a01a9c,#a62098,#b02991,#bc3587,#c6417d,#d04d73,#d9586a,#e16462,#e97158,#ef7e50,#f2844b,#f58b47,#f79143,#f9973f,#fa9e3b,#fca537,#fdac33,#fdb42f)"></i>
<i style="background:linear-gradient(90deg,#4f02a2,#5302a3,#5601a4,#5a01a5,#5e01a6,#6100a7,#6400a7,#6800a8,#6c00a8,#7401a8,#7b02a8,#8305a7,#8a09a5,#910ea3,#9814a0,#9f199d,#a51f99,#b02991,#bb3488,#c6417d,#cf4c74,#d9586a,#e16462,#e97158,#ef7e50,#f2844b,#f58a47,#f79044,#f9973f,#fa9e3b,#fca537,#fdac33,#fdb32f)"></i>
<i style="background:linear-gradient(90deg,#4e02a2,#5202a3,#5601a4,#5901a5,#5c01a6,#6001a6,#6400a7,#6700a8,#6a00a8,#7201a8,#7a02a8,#8204a7,#8908a6,#900ea3,#9814a0,#9e199d,#a51f99,#b02991,#bb3488,#c6417d,#cf4c74,#d9586a,#e16462,#e87059,#ef7e50,#f2844b,#f48a48,#f79044,#f9973f,#fa9e3b,#fca537,#fdac33,#fdb22f)"></i>
<i style="background:linear-gradient(90deg,#4d02a1,#5102a3,#5502a4,#5801a4,#5b01a5,#6001a6,#6300a7,#6600a7,#6900a8,#7201a8,#7902a8,#8104a7,#8808a6,#8f0da4,#9613a1,#9d189d,#a31e9a,#b02991,#bb3488,#c6417d,#cf4c74,#d9586a,#e16462,#e87059,#ef7e50,#f2844b,#f48a48,#f79044,#f9973f,#fa9e3b,#fca437,#fdab33,#fdb22f)"></i>
<i style="background:linear-gradient(90deg,#4c02a1,#5002a2,#5402a3,#5701a4,#5b01a5,#5e01a6,#6100a7,#6500a7,#6900a8,#7100a8,#7801a8,#8004a8,#8707a6,#8e0ca4,#9512a1,#9d189d,#a31e9a,#b02991,#bb3488,#c6417d,#cf4c74,#d8576b,#e16462,#e87059,#ef7d50,#f1834c,#f48948,#f79044,#f9973f,#fa9e3b,#fca438,#fdab33,#fdb22f)"></i>
<i style="background:linear-gradient(90deg,#4b03a1,#4f02a2,#5302a3,#5601a4,#5901a5,#5d01a6,#6100a7,#6400a7,#6700a8,#6f00a8,#7701a8,#7f04a8,#8707a6,#8e0ca4,#9511a1,#9c179e,#a21d9a,#af2991,#bb3488,#c5407e,#cf4c74,#d8576b,#e16462,#e87059,#ef7d51,#f1834c,#f48948,#f79044,#f9973f,#fa9d3b,#fca338,#fdab33,#fdb22f)"></i>
<i style="background:linear-gradient(90deg,#4b03a1,#4e02a2,#5102a3,#5502a4,#5901a5,#5c01a6,#6001a6,#6300a7,#6700a8,#6f00a8,#7701a8,#7e03a8,#8606a6,#8d0ba5,#9410a2,#9b169f,#a21d9a,#af2991,#bb3488,#c5407e,#cf4c74,#d8576b,#e06363,#e87059,#ef7d51,#f1834c,#f48948,#f79044,#f9963f,#fa9d3c,#fca338,#fdab33,#fdb22f)"></i>
<i style="background:linear-gradient(90deg,#4a03a1,#4d02a1,#5102a3,#5502a4,#5801a4,#5b01a5,#5f01a6,#6300a7,#6600a7,#6e00a8,#7501a8,#7d03a8,#8506a6,#8c0ba5,#9410a2,#9a169f,#a21c9a,#af2892,#bb3488,#c5407e,#cf4c74,#d8576b,#e06363,#e87059,#ef7c51,#f1834c,#f48948,#f79044,#f89640,#fa9c3c,#fca338,#fdab33,#fdb42f)"></i>
<i style="background:linear-gradient(90deg,#4903a0,#4c02a1,#5002a2,#5302a3,#5701a4,#5b01a5,#5e01a6,#6100a7,#6500a7,#6d00a8,#7501a8,#7d03a8,#8405a7,#8b0aa5,#920fa3,#99159f,#a11c9b,#af2892,#bb3488,#c5407e,#ce4b75,#d8576b,#e06363,#e87059,#ef7c51,#f1834c,#f48948,#f79044,#f89640,#fa9c3c,#fca338,#fdab33,#fdb42f)"></i>
<i style="background:linear-gradient(90deg,#4903a0,#4b03a1,#4f02a2,#5302a3,#5601a4,#5901a5,#5d01a6,#6100a7,#6400a7,#6c00a8,#7401a8,#7b02a8,#8305a7,#8b0aa5,#920fa3,#99159f,#a11b9b,#ae2892,#ba3388,#c5407e,#ce4b75,#d8576b,#e06363,#e8705a,#ef7c51,#f1834c,#f48948,#f68f44,#f89540,#fa9c3c,#fca338,#fdaa33,#fdb42e)"></i>
<i style="background:linear-gradient(90deg,#48039f,#4b03a1,#4e02a2,#5102a3,#5502a4,#5901a5,#5c01a6,#6001a6,#6300a7,#6b00a8,#7301a8,#7b02a8,#8305a7,#8a09a5,#910ea3,#9814a0,#a11b9b,#ae2892,#ba3388,#c5407e,#ce4b75,#d8576b,#e06363,#e76f5a,#ef7c51,#f1834c,#f48849,#f68f44,#f89540,#fa9c3c,#fca338,#fcaa34,#fdb52e)"></i>
<i style="background:linear-gradient(90deg,#48039f,#4903a0,#4c02a1,#5102a3,#5502a4,#5801a4,#5b01a5,#5f01a6,#6300a7,#6a00a8,#7201a8,#7a02a8,#8104a7,#8908a6,#900da4,#9714a0,#a01a9c,#ae2892,#ba3388,#c53f7e,#ce4b75,#d8576b,#e06363,#e76f5a,#ef7c51,#f1824c,#f48849,#f68f44,#f89540,#fa9c3c,#fca338,#fcaa34,#fdb62e)"></i>
<i style="background:linear-gradient(90deg,#48039f,#4903a0,#4c02a1,#5002a2,#5302a3,#5701a4,#5b01a5,#5e01a6,#6100a7,#6900a8,#7100a8,#7902a8,#8104a7,#8808a6,#8f0da4,#9613a1,#a01a9c,#ae2892,#ba3388,#c43f7e,#ce4b75,#d7566c,#e06363,#e76f5a,#ef7c51,#f1824d,#f48849,#f68f44,#f89540,#fa9c3c,#fba238,#fca934,#feb72d)"></i>
<i style="background:linear-gradient(90deg,#46039f,#48039f,#4b03a1,#4f02a2,#5302a3,#5601a4,#5901a5,#5d01a6,#6100a7,#6900a8,#7100a8,#7801a8,#8004a8,#8707a6,#8e0ca4,#9512a1,#9f1a9c,#ae2892,#ba3388,#c43f7f,#ce4b75,#d7566c,#e06363,#e76f5a,#ee7b51,#f1814d,#f48849,#f68f44,#f89540,#fa9c3c,#fba238,#fca934,#feb72d)"></i>
<i style="background:linear-gradient(90deg,#46039f,#47039f,#4a03a1,#4e02a2,#5102a3,#5502a4,#5901a5,#5c01a6,#6001a6,#6700a8,#6f00a8,#7701a8,#7f04a8,#8707a6,#8e0ca4,#9511a1,#9f199d,#ae2892,#ba3388,#c43f7f,#ce4b75,#d7566c,#df6263,#e76f5a,#ee7b51,#f1814d,#f48849,#f68f44,#f89540,#fa9b3d,#fba238,#fca934,#feb82c)"></i>
<i style="background:linear-gradient(90deg,#45039e,#46039f,#4903a0,#4c02a1,#5102a3,#5502a4,#5801a4,#5b01a5,#5f01a6,#6700a8,#6f00a8,#7701a8,#7e03a8,#8606a6,#8d0ba5,#9410a2,#9e199d,#ad2793,#b93388,#c43e7f,#ce4b75,#d7566c,#df6263,#e76f5a,#ee7b51,#f1814d,#f48849,#f68e44,#f89441,#fa9b3d,#fba238,#fca934,#feb82c)"></i>
<i style="background:linear-gradient(90deg,#44039e,#45039e,#4803a0,#4c02a1,#5002a2,#5302a3,#5701a4,#5b01a5,#5e01a6,#6600a7,#6e00a8,#7501a8,#7d03a8,#8506a6,#8c0ba5,#9410a2,#9e199d,#ad2793,#b93388,#c43e7f,#cd4a76,#d7566c,#df6263,#e76f5a,#ee7b51,#f1814d,#f48849,#f68e44,#f89441,#fa9b3d,#fba238,#fcaa34,#feb92c)"></i>
<i style="background:linear-gradient(90deg,#44039e,#44039e,#48039f,#4b03a1,#4f02a2,#5302a3,#5601a4,#5901a5,#5d01a6,#6500a7,#6d00a8,#7501a8,#7d03a8,#8405a7,#8b0aa5,#9310a2,#9d189d,#ad2793,#b93289,#c43e7f,#cd4a76,#d7566c,#df6263,#e76e5a,#ee7b51,#f1814d,#f48849,#f68e45,#f89441,#fa9b3d,#fba238,#fdaa33,#feba2c)"></i>
<i style="background:linear-gradient(90deg,#43039e,#44039e,#46039f,#4a03a1,#4e02a2,#5102a3,#5502a4,#5901a5,#5c01a6,#6400a7,#6c00a8,#7401a8,#7b02a8,#8305a7,#8a09a5,#930fa3,#9d189d,#ac2694,#b93289,#c43e7f,#cd4a76,#d7566c,#df6263,#e76e5b,#ee7b51,#f1814d,#f3874a,#f68d45,#f89441,#fa9b3d,#fba238,#fdab33,#feba2c)"></i>
<i style="background:linear-gradient(90deg,#43039e,#43039e,#46039f,#4903a0,#4c02a1,#5102a3,#5502a4,#5801a4,#5b01a5,#6300a7,#6b00a8,#7301a8,#7b02a8,#8305a7,#8a09a5,#920fa3,#9d189d,#ac2694,#b83289,#c43e7f,#cd4a76,#d7566c,#df6263,#e76e5b,#ee7b51,#f1814d,#f3874a,#f68d45,#f89441,#fa9b3d,#fba238,#fdac33,#febb2b)"></i>
<i style="background:linear-gradient(90deg,#42049e,#43039e,#44039e,#48039f,#4c02a1,#5002a2,#5302a3,#5701a4,#5b01a5,#6300a7,#6a00a8,#7201a8,#7a02a8,#8104a7,#8808a6,#920fa3,#9c189e,#ac2594,#b83289,#c43e80,#cd4a76,#d6556d,#df6263,#e76e5b,#ee7b51,#f0804e,#f3874a,#f68d45,#f89441,#fa9b3d,#fba139,#fdac33,#febb2b)"></i>
<i style="background:linear-gradient(90deg,#41049d,#42039e,#44039e,#48039f,#4b03a1,#4f02a2,#5202a3,#5601a4,#5901a5,#6100a7,#6900a8,#7100a8,#7902a8,#8104a7,#8808a6,#910ea3,#9c179e,#ac2594,#b83289,#c33d80,#cd4a76,#d6556d,#df6263,#e76e5b,#ed7a52,#f0804e,#f3874a,#f68d45,#f89441,#fa9b3d,#fba139,#fdad33,#febc2b)"></i>
<i style="background:linear-gradient(90deg,#41049d,#41049d,#43039e,#46039f,#4a03a1,#4e02a2,#5102a3,#5502a4,#5901a5,#6100a7,#6900a8,#7100a8,#7801a8,#8004a8,#8707a6,#910ea3,#9c179e,#ab2594,#b83289,#c33d80,#cd4a76,#d6556d,#de6164,#e76e5b,#ed7a52,#f0804e,#f3874a,#f68d45,#f89441,#f99a3e,#fba139,#fdad32,#febd2a)"></i>
<i style="background:linear-gradient(90deg,#3f049c,#41049d,#42049e,#46039f,#4903a0,#4c02a1,#5002a2,#5502a4,#5801a4,#6001a6,#6700a8,#6f00a8,#7701a8,#7f04a8,#8707a6,#910ea3,#9b169e,#ab2494,#b83289,#c33d80,#cd4a76,#d6556d,#de6164,#e76d5b,#ed7a52,#f0804e,#f3874a,#f68d45,#f79342,#f99a3e,#fba139,#fdae32,#febd2a)"></i>
<i style="background:linear-gradient(90deg,#3f049c,#3f049c,#41049d,#44039e,#48039f,#4c02a1,#5002a2,#5302a3,#5701a4,#5f01a6,#6700a8,#6f00a8,#7701a8,#7e03a8,#8606a6,#900ea4,#9a169f,#ab2494,#b83289,#c33d80,#cc4977,#d6556d,#de6164,#e76d5b,#ed7a52,#f0804e,#f3874a,#f68c46,#f79342,#f99a3e,#fba139,#fdaf31,#febe2a)"></i>
<i style="background:linear-gradient(90deg,#3e049c,#3f049c,#40049c,#44039e,#48039f,#4b03a1,#4e02a2,#5202a3,#5601a4,#5e01a6,#6600a7,#6e00a8,#7501a8,#7d03a8,#8506a6,#8f0da4,#9a169f,#aa2395,#b7318a,#c33d80,#cc4977,#d6556d,#de6164,#e66d5c,#ed7a52,#f0804e,#f3864a,#f58c46,#f79342,#f99a3e,#fba139,#fdaf31,#febe2a)"></i>
<i style="background:linear-gradient(90deg,#3e049c,#3f049c,#3f049c,#43039e,#46039f,#4a03a1,#4e02a2,#5102a3,#5502a4,#5d01a6,#6500a7,#6d00a8,#7501a8,#7d03a8,#8405a7,#8f0da4,#9a169f,#aa2395,#b7318a,#c33d80,#cc4977,#d6556d,#de6164,#e66d5c,#ed7a52,#f0804e,#f3864b,#f58c46,#f79342,#f99a3e,#fba139,#fdb031,#febf2a)"></i>
<i style="background:linear-gradient(90deg,#3e049c,#3e049c,#3f049c,#42049e,#46039f,#4903a0,#4c02a1,#5002a2,#5502a4,#5c01a6,#6400a7,#6c00a8,#7401a8,#7c02a8,#8405a7,#8e0ca4,#99159f,#a92395,#b7318a,#c33d80,#cc4977,#d6556d,#de6064,#e66c5c,#ed7a52,#f0804e,#f3854b,#f58c46,#f79342,#f99a3e,#fba238,#fdb130,#fec029)"></i>
<i style="background:linear-gradient(90deg,#3c049b,#3e049c,#3e049c,#41049d,#44039e,#48039f,#4c02a1,#5002a2,#5302a3,#5b01a5,#6300a7,#6b00a8,#7301a8,#7b02a8,#8405a7,#8e0ca4,#99159f,#a92296,#b6308b,#c23c81,#cc4977,#d5546e,#de6064,#e66c5c,#ed7a52,#f07f4f,#f3854b,#f58c46,#f79342,#f99a3e,#fba238,#fdb130,#fec029)"></i>
<i style="background:linear-gradient(90deg,#3c049b,#3c049b,#3e049c,#40049c,#44039e,#48039f,#4b03a1,#4e02a2,#5202a3,#5a01a5,#6300a7,#6a00a8,#7201a8,#7a02a8,#8305a7,#8e0ca4,#99159f,#a82296,#b6308b,#c23c81,#cc4977,#d5546e,#de6064,#e66c5c,#ed7953,#f07f4f,#f3854b,#f58c46,#f79342,#f9993e,#fba238,#fdb22f,#fdc229)"></i>
<i style="background:linear-gradient(90deg,#3b049a,#3c049b,#3d049b,#3f049c,#43039e,#46039f,#4a03a0,#4e02a2,#5102a3,#5901a5,#6100a7,#6900a8,#7100a8,#7902a8,#8305a7,#8e0ca4,#9814a0,#a82296,#b6308b,#c23c81,#cc4877,#d5546e,#de6065,#e66c5c,#ed7953,#f07f4f,#f3854b,#f58c46,#f79242,#f9993e,#fca338,#fdb22f,#fdc229)"></i>
<i style="background:linear-gradient(90deg,#3a049a,#3c049b,#3c049b,#3e049c,#42049e,#46039f,#4903a0,#4c02a1,#5002a2,#5901a5,#6100a7,#6900a8,#7100a8,#7801a8,#8204a7,#8d0ba5,#9814a0,#a72197,#b52f8c,#c23c81,#cc4877,#d5546e,#de6065,#e66c5c,#ed7953,#f07f4f,#f3854b,#f58c46,#f79243,#f9983e,#fca338,#fdb32f,#fdc228)"></i>
<i style="background:linear-gradient(90deg,#3a049a,#3a049a,#3c049b,#3e049c,#41049d,#44039e,#48039f,#4c02a1,#5002a2,#5801a4,#6001a6,#6700a8,#7000a8,#7701a8,#8104a7,#8d0ba5,#9714a0,#a72197,#b52f8c,#c23c81,#cc4878,#d5546e,#de5f65,#e66c5c,#ed7953,#f07f4f,#f3854b,#f58c46,#f79143,#f9983e,#fca437,#fdb42f,#fdc328)"></i>
<i style="background:linear-gradient(90deg,#38049a,#3a049a,#3a049a,#3c049b,#40049c,#44039e,#48039f,#4b03a1,#4e02a2,#5701a4,#5f01a6,#6700a8,#6f00a8,#7701a8,#8104a7,#8c0ba5,#9713a1,#a72197,#b52f8c,#c23c81,#cc4878,#d5546e,#de5f65,#e56b5d,#ed7953,#f07f4f,#f3854b,#f58b47,#f79143,#f9983e,#fca537,#fdb42f,#fdc428)"></i>
<i style="background:linear-gradient(90deg,#38049a,#38049a,#3a049a,#3b049b,#3f049c,#43039e,#46039f,#4a03a0,#4e02a2,#5601a4,#5e01a6,#6600a7,#6e00a8,#7601a8,#8104a7,#8c0aa5,#9613a1,#a62098,#b42e8c,#c23c81,#cc4778,#d5546e,#de5f65,#e56b5d,#ed7953,#f07f4f,#f2844b,#f58b47,#f79143,#f9983e,#fca537,#fdb52e,#fdc527)"></i>
<i style="background:linear-gradient(90deg,#38049a,#38049a,#39049a,#3a049a,#3e049c,#42049d,#46039f,#4903a0,#4c02a1,#5502a4,#5c01a6,#6500a7,#6d00a8,#7501a8,#8004a8,#8b0aa5,#9613a1,#a62098,#b42e8d,#c23c81,#cc4778,#d5546e,#de5f65,#e56b5d,#ed7853,#f07f4f,#f2844b,#f58b47,#f79143,#f9983e,#fca636,#fdb52e,#fdc527)"></i>
<i style="background:linear-gradient(90deg,#370499,#38049a,#38049a,#3a049a,#3e049c,#41049d,#44039e,#48039f,#4c02a1,#5502a4,#5c01a6,#6400a7,#6c00a8,#7401a8,#8004a8,#8b0aa5,#9512a1,#a62098,#b42e8d,#c13b82,#cc4778,#d5536f,#de5f65,#e56b5d,#ed7853,#ef7e50,#f2844b,#f58b47,#f79143,#f9983e,#fca636,#feb62e,#fdc627)"></i>
<i style="background:linear-gradient(90deg,#370499,#370499,#38049a,#38049a,#3c049b,#3f049c,#44039e,#48039f,#4b03a1,#5302a3,#5b01a5,#6300a7,#6b00a8,#7401a8,#7f04a8,#8a09a5,#9511a1,#a51f99,#b42d8d,#c13b82,#cc4778,#d5536f,#de5e66,#e56b5d,#ec7854,#ef7e50,#f2844b,#f58b47,#f79143,#f9993e,#fca735,#feb72d,#fdc627)"></i>
<i style="background:linear-gradient(90deg,#360498,#370499,#370499,#38049a,#3b049a,#3f049c,#43039e,#46039f,#4a03a0,#5202a3,#5a01a5,#6300a7,#6a00a8,#7401a8,#7f03a8,#8a09a5,#9511a1,#a51f99,#b32d8e,#c13b82,#cc4778,#d5536f,#dd5e66,#e56b5d,#ec7854,#ef7e50,#f2844b,#f58b47,#f79143,#f99a3e,#fca835,#feb72d,#fdc727)"></i>
<i style="background:linear-gradient(90deg,#350498,#360498,#370499,#370499,#3a049a,#3e049c,#42049d,#46039f,#4903a0,#5102a3,#5901a5,#6100a7,#6900a8,#7301a8,#7e03a8,#8a09a5,#9410a2,#a41f99,#b32c8e,#c03a83,#cc4778,#d5536f,#dd5e66,#e56b5d,#ec7754,#ef7e50,#f2844b,#f58a47,#f79044,#f99a3e,#fca835,#feb82c,#fdc827)"></i>
<i style="background:linear-gradient(90deg,#340498,#350498,#360498,#370499,#38049a,#3e049c,#41049d,#44039e,#48039f,#5002a2,#5801a4,#6100a7,#6900a8,#7201a8,#7e03a8,#8908a6,#9410a2,#a41e9a,#b32c8e,#c03a83,#cb4679,#d5536f,#dd5e66,#e56b5d,#ec7754,#ef7e50,#f2844b,#f48a48,#f79044,#fa9b3d,#fca934,#feb82c,#fdc827)"></i>
<i style="background:linear-gradient(90deg,#330597,#350498,#350498,#360499,#38049a,#3c049b,#3f049c,#44039e,#48039f,#5002a2,#5801a4,#6001a6,#6700a8,#7201a8,#7d03a8,#8808a6,#9410a2,#a41e9a,#b22b8f,#c03a83,#cb4679,#d5536f,#dd5e66,#e56a5d,#ec7754,#ef7e50,#f2844b,#f48a48,#f79044,#fa9b3d,#fcaa34,#feb92c,#fdc926)"></i>
<i style="background:linear-gradient(90deg,#330597,#330597,#350498,#350498,#370499,#3b049a,#3f049c,#43039e,#46039f,#4e02a2,#5701a4,#5f01a6,#6700a8,#7200a8,#7d03a8,#8808a6,#9310a2,#a31e9a,#b22b8f,#bf3984,#cb4679,#d5536f,#dd5e66,#e56a5d,#ec7754,#ef7e50,#f1834c,#f48948,#f79044,#fa9c3c,#fdaa33,#feba2c,#fdca26)"></i>
<i style="background:linear-gradient(90deg,#320597,#330597,#330597,#350498,#370499,#3a049a,#3e049c,#42049d,#46039f,#4e02a2,#5601a4,#5e01a6,#6600a7,#7100a8,#7d03a8,#8808a6,#920fa3,#a31e9a,#b22b8f,#bf3984,#cb4679,#d5536f,#dd5e66,#e56a5d,#ec7754,#ef7d50,#f1834c,#f48948,#f79044,#fa9c3c,#fdab33,#feba2c,#fdca26)"></i>
<i style="background:linear-gradient(90deg,#310597,#320597,#330597,#340597,#350498,#38049a,#3d049c,#41049d,#44039e,#4c02a1,#5502a4,#5d01a6,#6500a7,#7100a8,#7c02a8,#8707a6,#920fa3,#a21d9a,#b12a90,#bf3984,#cb4679,#d45270,#dd5e66,#e56a5d,#ec7754,#ef7d51,#f1834c,#f48948,#f79044,#fa9d3c,#fdac33,#febb2b,#fdcb26)"></i>
<i style="background:linear-gradient(90deg,#300597,#310597,#320597,#330597,#340498,#38049a,#3c049b,#3f049c,#44039e,#4c02a1,#5402a4,#5c01a6,#6400a7,#7000a8,#7b02a8,#8707a6,#920fa3,#a21d9a,#b12a90,#be3885,#cb4679,#d45270,#dc5e66,#e56a5d,#eb7655,#ef7c51,#f1834c,#f48948,#f79044,#fa9e3b,#fdac33,#febc2b,#fdcb26)"></i>
<i style="background:linear-gradient(90deg,#2f0596,#310597,#310597,#330597,#330597,#370499,#3b049a,#3f049c,#43039e,#4b03a1,#5302a3,#5b01a5,#6400a7,#6f00a8,#7b02a8,#8606a6,#910ea3,#a21c9a,#b12a90,#be3885,#ca467a,#d45270,#dc5d67,#e56a5d,#eb7655,#ef7c51,#f1834c,#f48948,#f79044,#fa9e3b,#fdad33,#febc2a,#fccc25)"></i>
<i style="background:linear-gradient(90deg,#2f0596,#2f0596,#310597,#310597,#330597,#360499,#3a049a,#3e049c,#42049d,#4a03a0,#5202a3,#5a01a5,#6300a7,#6f00a8,#7a02a8,#8606a6,#910ea3,#a11c9b,#b02991,#be3885,#ca457a,#d45270,#dc5d67,#e56a5d,#eb7655,#ef7c51,#f1834c,#f48948,#f79044,#fb9f3a,#fdad32,#febd2a,#fccd25)"></i>
<i style="background:linear-gradient(90deg,#2e0595,#2f0596,#2f0596,#310597,#310597,#350498,#38049a,#3d049c,#41049d,#4903a0,#5102a3,#5901a5,#6300a7,#6f00a8,#7a02a8,#8606a6,#900ea3,#a11b9b,#b02991,#be3886,#ca457a,#d45270,#dc5d67,#e56a5d,#eb7655,#ef7c51,#f1824c,#f48849,#f79143,#fb9f3a,#fdae32,#febd2a,#fcce25)"></i>
<i style="background:linear-gradient(90deg,#2e0595,#2e0596,#2f0596,#300596,#310597,#340498,#38049a,#3c049b,#3f049c,#48039f,#5002a2,#5901a5,#6200a7,#6e00a8,#7a02a8,#8506a6,#900da4,#a11b9b,#af2991,#bd3786,#ca457a,#d45270,#dc5d67,#e4695e,#eb7655,#ef7c51,#f1824c,#f48849,#f79143,#fba03a,#fdae32,#febe2a,#fcce25)"></i>
<i style="background:linear-gradient(90deg,#2e0595,#2e0595,#2f0596,#2f0596,#300597,#330597,#370499,#3b049a,#3f049c,#48039f,#5002a2,#5801a4,#6100a7,#6e00a8,#7902a8,#8405a7,#8f0da4,#a01a9c,#af2892,#bd3786,#c9447a,#d45270,#dc5d67,#e4695e,#eb7655,#ef7c51,#f1824d,#f48849,#f79242,#fba139,#fdaf31,#febf2a,#fcce25)"></i>
<i style="background:linear-gradient(90deg,#2c0594,#2e0595,#2e0595,#2f0596,#2f0596,#320597,#360499,#3a049a,#3e049c,#46039f,#4e02a2,#5701a4,#6100a7,#6d00a8,#7801a8,#8405a7,#8f0da4,#a01a9c,#ae2892,#bd3686,#c9447a,#d45270,#dc5d67,#e4695e,#eb7655,#ef7c51,#f1814d,#f48849,#f79342,#fba139,#fdb031,#febf29,#fcd025)"></i>
<i style="background:linear-gradient(90deg,#2c0594,#2c0594,#2e0595,#2e0595,#2f0596,#310597,#350498,#38049a,#3d049c,#45039f,#4e02a2,#5601a4,#6100a7,#6d00a8,#7801a8,#8405a7,#8e0ca4,#9f1a9c,#ae2892,#bc3687,#c9447a,#d35171,#dc5d67,#e4695e,#eb7655,#ee7b51,#f1814d,#f48849,#f79342,#fba238,#fdb030,#fec029,#fcd025)"></i>
<i style="background:linear-gradient(90deg,#2b0594,#2c0594,#2c0594,#2e0595,#2e0595,#2f0596,#340597,#38049a,#3c049b,#44039e,#4c02a1,#5502a4,#6001a6,#6c00a8,#7801a8,#8305a7,#8e0ca4,#9f199d,#ae2892,#bc3587,#c8437b,#d35171,#dc5c68,#e4695e,#eb7556,#ee7b51,#f1814d,#f48849,#f89441,#fba238,#fdb130,#fec129,#fcd125)"></i>
<i style="background:linear-gradient(90deg,#2a0593,#2b0594,#2c0594,#2d0594,#2e0595,#2f0596,#330597,#370499,#3b049a,#44039e,#4c02a1,#5402a4,#6001a6,#6c00a8,#7701a8,#8305a7,#8e0ca4,#9e199d,#ad2793,#bc3587,#c8437b,#d35171,#db5c68,#e4695e,#eb7556,#ee7b51,#f1814d,#f48849,#f89441,#fca238,#fdb22f,#fdc229,#fcd225)"></i>
<i style="background:linear-gradient(90deg,#2a0593,#2a0593,#2c0594,#2c0594,#2e0595,#2e0595,#310597,#360499,#3a049a,#43039e,#4b03a1,#5302a3,#5f01a6,#6b00a8,#7701a8,#8205a7,#8d0ba5,#9e199d,#ad2793,#bb3488,#c8437b,#d35171,#db5c68,#e4695e,#eb7556,#ee7b51,#f1814d,#f48849,#f89540,#fca338,#fdb22f,#fdc229,#fcd225)"></i>
<i style="background:linear-gradient(90deg,#280592,#2a0593,#2a0593,#2c0594,#2c0594,#2e0595,#310597,#350498,#38049a,#42049d,#4a03a0,#5202a3,#5f01a6,#6a00a8,#7601a8,#8204a7,#8d0ba5,#9d189d,#ad2793,#bb3488,#c7427c,#d35071,#db5c68,#e4695e,#eb7556,#ee7b51,#f1814d,#f48849,#f89540,#fca438,#fdb32f,#fdc328,#fbd324)"></i>
<i style="background:linear-gradient(90deg,#280592,#280592,#2a0593,#2a0593,#2c0594,#2c0594,#2f0596,#340597,#38049a,#41049d,#4903a0,#5202a3,#5e01a6,#6a00a8,#7601a8,#8104a7,#8d0ba5,#9d189d,#ac2694,#bb3488,#c7427c,#d25071,#db5c68,#e3685f,#eb7556,#ee7b51,#f0804e,#f48849,#f89640,#fca437,#fdb42f,#fdc328,#fbd324)"></i>
<i style="background:linear-gradient(90deg,#270592,#280592,#290592,#2a0593,#2a0593,#2c0594,#2f0596,#330597,#370499,#3f049c,#48039f,#5102a3,#5e01a6,#6a00a8,#7501a8,#8104a7,#8c0aa5,#9d189d,#ac2694,#ba3388,#c7427c,#d24f71,#db5c68,#e3685f,#eb7556,#ee7b51,#f0804e,#f48848,#f9973f,#fca537,#fdb42f,#fdc428,#fbd424)"></i>
<i style="background:linear-gradient(90deg,#260591,#270592,#280592,#290592,#2a0593,#2b0594,#2e0595,#310597,#360499,#3f049c,#48039f,#5102a3,#5d01a6,#6900a8,#7501a8,#8004a8,#8c0aa5,#9c189e,#ac2594,#ba3388,#c6417d,#d24f71,#db5c68,#e3685f,#eb7556,#ee7b51,#f0804e,#f48948,#f9973f,#fca636,#fdb52e,#fdc527,#fbd524)"></i>
<i style="background:linear-gradient(90deg,#260591,#260591,#280592,#280592,#2a0593,#2a0593,#2d0594,#310597,#350498,#3e049c,#46039f,#5002a2,#5c01a6,#6900a8,#7401a8,#8004a8,#8b0aa5,#9c179e,#ab2594,#b93388,#c6417d,#d24e72,#db5c68,#e3685f,#eb7556,#ed7a52,#f0804e,#f48a48,#f9983e,#fca636,#fdb52e,#fdc527,#fbd624)"></i>
<i style="background:linear-gradient(90deg,#240691,#260591,#260591,#280592,#280592,#2a0593,#2c0594,#2f0596,#340597,#3d049c,#45039f,#5002a2,#5c01a6,#6800a8,#7401a8,#8004a8,#8a0aa5,#9c179e,#ab2494,#b93289,#c6417d,#d14e72,#da5b69,#e3685f,#ea7457,#ed7a52,#f0804e,#f58a47,#f9983e,#fca736,#feb62e,#fdc627,#fbd724)"></i>
<i style="background:linear-gradient(90deg,#240691,#240691,#260591,#260591,#280592,#280592,#2a0593,#2f0596,#330597,#3c049b,#44039e,#5002a2,#5c01a6,#6700a8,#7401a8,#7f04a8,#8a09a5,#9b179e,#ab2494,#b83289,#c6407e,#d14e72,#da5b69,#e3685f,#ea7457,#ed7a52,#f0804e,#f58b47,#f9993e,#fca835,#feb72d,#fdc627,#fbd724)"></i>
<i style="background:linear-gradient(90deg,#230690,#240691,#250691,#260591,#260591,#280592,#2a0593,#2e0595,#310597,#3b049a,#43039e,#4f02a2,#5b01a5,#6700a8,#7301a8,#7e03a8,#8a09a5,#9b169f,#aa2395,#b83289,#c5407e,#d14e72,#da5b69,#e3675f,#ea7457,#ed7a52,#f0804e,#f58c46,#f99a3e,#fca835,#feb72d,#fdc727,#fad824)"></i>
<i style="background:linear-gradient(90deg,#220690,#240691,#240691,#250591,#260591,#270592,#280592,#2d0594,#310597,#3a049a,#43039e,#4e02a2,#5b01a5,#6700a8,#7201a8,#7e03a8,#8909a5,#9a169f,#aa2395,#b7318a,#c5407e,#d04d73,#da5b69,#e3675f,#ea7457,#ed7a52,#f0804e,#f58c46,#f99a3e,#fca934,#feb82c,#fdc827,#fad824)"></i>
<i style="background:linear-gradient(90deg,#220690,#220690,#240691,#240691,#260591,#260591,#280592,#2c0594,#2f0596,#38049a,#41049d,#4e02a2,#5a01a5,#6600a7,#7201a8,#7e03a8,#8908a6,#9a169f,#a92395,#b7318a,#c43f7e,#d04d73,#da5b69,#e26760,#ea7457,#ed7a52,#f0804e,#f58c46,#fa9b3d,#fca934,#feb82c,#fdc927,#fad924)"></i>
<i style="background:linear-gradient(90deg,#20068f,#220690,#220690,#240691,#240691,#260591,#260591,#2a0593,#2f0596,#38049a,#41049d,#4d02a2,#5901a5,#6600a7,#7200a8,#7d03a8,#8808a6,#99159f,#a92296,#b7318a,#c43f7f,#d04d73,#da5b69,#e26760,#ea7457,#ed7a52,#f0804e,#f68d45,#fa9b3d,#fcaa34,#feb92c,#fdca26,#fada24)"></i>
<i style="background:linear-gradient(90deg,#20068f,#20068f,#220690,#220690,#240691,#240691,#260591,#2a0593,#2e0595,#370499,#40049c,#4c02a1,#5901a5,#6500a7,#7100a8,#7d03a8,#8808a6,#99159f,#a82296,#b6308a,#c43e7f,#cf4c74,#da5a6a,#e26660,#ea7357,#ed7a52,#f0804e,#f68e45,#fa9c3c,#fdab33,#feba2c,#fdca26,#fada24)"></i>
<i style="background:linear-gradient(90deg,#1f068f,#20068f,#210690,#220690,#230690,#240691,#240691,#280592,#2d0594,#360499,#3f049c,#4c02a1,#5901a5,#6500a7,#7100a8,#7c03a8,#8707a6,#99159f,#a82296,#b6308b,#c43e7f,#cf4c74,#da5a6a,#e26660,#ea7357,#ed7953,#f0804e,#f68e44,#fa9c3c,#fdab33,#feba2c,#fdcb26,#f9dc24)"></i>
<i style="background:linear-gradient(90deg,#1d068e,#1f068f,#20068f,#220690,#220690,#230691,#240691,#280592,#2c0594,#350498,#3f049c,#4c02a1,#5801a4,#6400a7,#7000a8,#7c02a8,#8707a6,#9814a0,#a82296,#b6308b,#c33d80,#cf4c74,#da596a,#e26660,#e97357,#ed7953,#f1814d,#f68f44,#fa9d3c,#fdac33,#febb2b,#fdcb26,#f9dc24)"></i>
<i style="background:linear-gradient(90deg,#1d068e,#1d068e,#20068f,#20068f,#220690,#220690,#240691,#260591,#2a0593,#340597,#3e049c,#4b03a1,#5801a4,#6400a7,#6f00a8,#7b02a8,#8707a6,#9814a0,#a72197,#b6308b,#c33d80,#ce4b75,#da596a,#e26660,#e97257,#ed7953,#f1814d,#f69044,#fa9d3b,#fdac33,#febb2b,#fdcc26,#f9dc24)"></i>
<i style="background:linear-gradient(90deg,#1c068d,#1d068e,#1d068e,#20068f,#20068f,#220690,#220690,#250691,#2a0593,#330597,#3e049c,#4b03a1,#5701a4,#6300a7,#6f00a8,#7b02a8,#8606a6,#9714a0,#a72197,#b52f8c,#c33d80,#ce4b75,#d9586a,#e26660,#e97257,#ed7953,#f1824c,#f79044,#fa9e3b,#fdad32,#febc2a,#fccd25,#f9dd25)"></i>
<i style="background:linear-gradient(90deg,#1b068d,#1c068d,#1d068e,#1e068e,#20068f,#20068f,#220690,#240691,#280592,#310597,#3e049c,#4a03a1,#5701a4,#6300a7,#6f00a8,#7a02a8,#8606a6,#9713a1,#a62098,#b52f8c,#c23c81,#ce4b75,#d9586a,#e26660,#e97257,#ed7953,#f1834c,#f79044,#fb9f3a,#fdae32,#febd2a,#fccd25,#f9de25)"></i>
<i style="background:linear-gradient(90deg,#1a068d,#1b068d,#1c068e,#1d068e,#1e068e,#20068f,#21068f,#220690,#270592,#310597,#3d049c,#4a03a0,#5601a4,#6300a7,#6e00a8,#7a02a8,#8606a6,#9613a1,#a62098,#b52f8c,#c23c81,#cd4a76,#d8586a,#e26561,#e97257,#ed7953,#f1834c,#f79143,#fb9f3a,#fdae32,#febd2a,#fcce25,#f8df25)"></i>
<i style="background:linear-gradient(90deg,#19068c,#1b068d,#1b068d,#1c068e,#1d068e,#1f068f,#20068f,#220690,#260591,#2f0596,#3c049b,#4903a0,#5601a4,#6200a7,#6e00a8,#7902a8,#8505a7,#9612a1,#a62098,#b42e8d,#c23c81,#cd4a76,#d8576b,#e26561,#e97257,#ed7853,#f2844b,#f79143,#fba03a,#fdaf31,#febe2a,#fcce25,#f8df25)"></i>
<i style="background:linear-gradient(90deg,#19068c,#19068c,#1b068d,#1b068d,#1d068e,#1d068e,#20068f,#20068f,#250691,#2f0596,#3c049b,#4903a0,#5502a4,#6100a7,#6d00a8,#7901a8,#8405a7,#9612a1,#a62098,#b42e8d,#c13b82,#cd4a76,#d8576b,#e26561,#e97257,#ec7854,#f2844b,#f79242,#fba039,#fdaf31,#febe2a,#fccf25,#f8e025)"></i>
<i style="background:linear-gradient(90deg,#17078a,#19068c,#19068c,#1b068d,#1b068d,#1d068e,#1d068e,#20068f,#240691,#2e0595,#3b049b,#48039f,#5502a4,#6100a7,#6d00a8,#7801a8,#8405a7,#9511a1,#a51f99,#b42d8d,#c13b82,#cc4a76,#d8576b,#e26561,#e97257,#ec7854,#f3854b,#f79342,#fba139,#fdb030,#febf29,#fcd025,#f8e125)"></i>
<i style="background:linear-gradient(90deg,#16078a,#17078b,#19068c,#1a068c,#1b068d,#1c068d,#1d068e,#1d068e,#220690,#2e0595,#3b049a,#48039f,#5502a4,#6000a6,#6c00a8,#7801a8,#8405a7,#9511a1,#a51f99,#b32d8e,#c13b82,#cc4977,#d7566c,#e26561,#e97158,#ed7953,#f3854b,#f79342,#fba238,#fdb130,#fec029,#fcd125,#f8e125)"></i>
<i style="background:linear-gradient(90deg,#15078a,#16078a,#18068b,#19068c,#1a068c,#1b068d,#1c068d,#1d068e,#220690,#2d0594,#3a049a,#47039f,#5402a3,#6001a6,#6c00a8,#7701a8,#8305a7,#9410a2,#a41f99,#b32c8e,#c03a83,#cc4977,#d7566c,#e16462,#e97158,#ed7953,#f3864b,#f89441,#fba238,#fdb130,#fec129,#fcd125,#f7e225)"></i>
<i style="background:linear-gradient(90deg,#130789,#16078a,#16078a,#19068c,#19068c,#1a068d,#1b068d,#1c068e,#20068f,#2c0594,#39049a,#47039f,#5302a3,#6001a6,#6b00a8,#7701a8,#8305a7,#9410a2,#a41e9a,#b32c8e,#c03a83,#cc4878,#d7566c,#e16462,#e97158,#ed7a52,#f3874a,#f89441,#fca238,#fdb22f,#fdc229,#fcd225,#f7e225)"></i>
<i style="background:linear-gradient(90deg,#130789,#130789,#16078a,#16078a,#19068c,#19068c,#1b068d,#1b068d,#1f068f,#2c0594,#39049a,#46039f,#5302a3,#5f01a6,#6a00a8,#7701a8,#8205a7,#9410a2,#a31e9a,#b22b8f,#c03a83,#cc4878,#d6556d,#e16462,#e97158,#ed7a52,#f3874a,#f89540,#fca338,#fdb22f,#fdc229,#fcd224,#f7e325)"></i>
<i style="background:linear-gradient(90deg,#110788,#130789,#140789,#16078a,#16078a,#19068c,#19068c,#1b068d,#1d068e,#2b0594,#38049a,#46039f,#5202a3,#5e01a6,#6a00a8,#7601a8,#8204a7,#9310a2,#a31e9a,#b22b8f,#c03a84,#cc4778,#d6556d,#e06363,#e97158,#ee7b51,#f48849,#f89540,#fca438,#fdb32f,#fdc328,#fbd324,#f7e425)"></i>
<i style="background:linear-gradient(90deg,#100788,#120788,#130789,#140789,#16078a,#17078a,#19068c,#1a068c,#1c068e,#2a0593,#38049a,#45039e,#5102a3,#5e01a6,#6900a8,#7501a8,#8104a7,#930fa3,#a21d9a,#b22b8f,#bf3984,#cc4778,#d6556d,#e06363,#e97158,#ee7b51,#f48849,#f89640,#fca437,#fdb42f,#fdc328,#fbd424,#f7e525)"></i>
<i style="background:linear-gradient(90deg,#100788,#100788,#120789,#130789,#15078a,#16078a,#18068b,#19068c,#1b068d,#2a0593,#370499,#44039e,#5102a3,#5d01a6,#6900a8,#7501a8,#8104a7,#920fa3,#a21d9a,#b22a90,#bf3984,#cb4679,#d5546e,#e06363,#e97158,#ee7b51,#f48848,#f9963f,#fca537,#fdb42f,#fdc428,#fbd424,#f6e626)"></i>
<i style="background:linear-gradient(90deg,#0d0887,#100788,#100788,#130789,#130789,#15078a,#16078a,#18068c,#1a068c,#290592,#370499,#44039e,#5102a3,#5c01a6,#6900a8,#7501a8,#8004a8,#920fa3,#a21c9a,#b12a90,#bf3984,#cb4679,#d5546e,#e06263,#e97158,#ef7c51,#f48948,#f9973f,#fca636,#fdb52e,#fdc527,#fbd624,#f6e626)"></i>
<i style="background:linear-gradient(90deg,#0d0887,#0d0887,#100788,#100788,#130789,#130789,#16078a,#16078a,#19068c,#280592,#370499,#44039e,#5002a2,#5c01a6,#6800a8,#7401a8,#8004a8,#910ea3,#a11c9b,#b12a90,#be3885,#cb4679,#d5546e,#df6263,#e87059,#ef7d51,#f48a48,#f9983e,#fca636,#fdb62e,#fdc527,#fbd624,#f6e826)"></i>
<i style="background:linear-gradient(90deg,#0d0887,#0d0887,#100788,#100788,#120789,#130789,#130789,#16078a,#17078b,#280592,#360499,#43039e,#5002a2,#5c01a6,#6700a8,#7401a8,#8004a8,#910ea3,#a11c9b,#b12a90,#be3885,#ca457a,#d5546e,#df6263,#e87059,#ef7d51,#f58a47,#f9983e,#fca636,#fdb62e,#fdc627,#fbd724,#f6e826)"></i>
</div>
<div class="cb" style="left:870px;top:87px;width:32px;height:651px;background:linear-gradient(180deg,#f0f921,#f4ed27,#f8df25,#fcd225,#fdc527,#feb82c,#fdac33,#fba139,#f89540,#f58b47,#f0804e,#eb7655,#e66c5c,#e06363,#da5a6a,#d35171,#cc4778,#c43e7f,#bc3587,#b32c8e,#aa2395,#a01a9c,#9511a1,#8a09a5,#7e03a8,#7201a8,#6600a7,#5901a5,#4c02a1,#3f049c,#310597,#220690,#0d0887)"></div>
<div class="hm" style="left:1217px;top:87px;width:699px;height:651px">
<i style="background:linear-gradient(90deg,#9d189d,#a01a9c,#a11b9b,#a31e9a,#a51f99,#a72197,#a82296,#ab2494,#ac2694,#b22b8f,#b6308b,#bc3587,#c03a83,#c5407e,#ca457a,#cd4a76,#d24f71,#d8576b,#de6164,#e4695e,#e97158,#ee7b51,#f2844b,#f68e44,#f9983e,#fba238,#fdac33,#fdb52e,#fec029,#fdcb26,#fbd624,#f8e125,#f4ed27)"></i>
<i style="background:linear-gradient(90deg,#9d189d,#9f1a9c,#a11b9b,#a21d9a,#a51f99,#a62098,#a82296,#aa2395,#ac2694,#b12a90,#b6308b,#bc3587,#c03a83,#c5407e,#c9447a,#cd4a76,#d24f71,#d8576b,#de6064,#e4695e,#e97158,#ee7b51,#f2844b,#f68e45,#f9983e,#fba238,#fdab33,#fdb52e,#fec029,#fdca26,#fbd524,#f8e125,#f4ec27)"></i>
<i style="background:linear-gradient(90deg,#9d189d,#9e199d,#a11b9b,#a21d9a,#a41f99,#a62098,#a72197,#aa2395,#ab2594,#b12a90,#b6308b,#bb3488,#c03a83,#c5407e,#c9447a,#cd4a76,#d24f71,#d8576b,#de6065,#e4695e,#e97158,#ed7a52,#f2844b,#f68d45,#f9973f,#fba139,#fdab33,#fdb52e,#febf29,#fdca26,#fbd524,#f8e125,#f5eb27)"></i>
<i style="background:linear-gradient(90deg,#9d189d,#9e199d,#a01a9c,#a21d9a,#a31e9a,#a62098,#a72197,#a92395,#ab2494,#b12a90,#b52f8c,#bb3488,#c03a83,#c43e7f,#c9447a,#cd4a76,#d14e72,#d8576b,#de5f65,#e3685f,#e97158,#ed7a52,#f2844b,#f68d45,#f9973f,#fba139,#fdab33,#fdb52e,#febf2a,#fdca26,#fbd524,#f8e125,#f5eb27)"></i>
<i style="background:linear-gradient(90deg,#9c179e,#9e199d,#a01a9c,#a11c9b,#a31e9a,#a51f99,#a72197,#a82296,#ab2494,#b12a90,#b52f8c,#bb3488,#bf3984,#c43e7f,#c9447a,#cc4977,#d14e72,#d7566c,#de5f65,#e3685f,#e87059,#ed7a52,#f1834c,#f68c46,#f89640,#fba139,#fdab33,#fdb52e,#febe2a,#fdca26,#fbd524,#f8e025,#f5eb27)"></i>
<i style="background:linear-gradient(90deg,#9c179e,#9d189d,#a01a9c,#a11b9b,#a31e9a,#a51f99,#a62098,#a82296,#ab2494,#b02991,#b52f8c,#bb3488,#bf3984,#c43e7f,#c8437b,#cc4977,#d14e72,#d7566c,#de5f65,#e3685f,#e87059,#ed7a52,#f1834c,#f58c46,#f89540,#fba139,#fdab33,#fdb42e,#febe2a,#fdca26,#fbd424,#f8e025,#f5eb27)"></i>
<i style="background:linear-gradient(90deg,#9b179e,#9d189d,#9e199d,#a11b9b,#a21d9a,#a51f99,#a62098,#a82296,#aa2395,#b02991,#b52f8c,#ba3388,#bf3984,#c43e7f,#c8437b,#cc4977,#d04e72,#d7566c,#dd5e66,#e26760,#e87059,#ed7953,#f1824c,#f58c46,#f89540,#fba139,#fdaa33,#fdb42f,#febe2a,#fdca26,#fbd424,#f8df25,#f5eb27)"></i>
<i style="background:linear-gradient(90deg,#9a169f,#9d189d,#9e199d,#a01a9c,#a21d9a,#a31e9a,#a62098,#a72197,#aa2395,#b02991,#b42e8d,#ba3388,#bf3984,#c33d80,#c8437b,#cc4877,#d04d73,#d7566c,#dd5e66,#e26660,#e87059,#ed7953,#f1824d,#f58c46,#f89441,#fba039,#fcaa34,#fdb42f,#febe2a,#fdc926,#fbd424,#f8df25,#f5ea27)"></i>
<i style="background:linear-gradient(90deg,#9a169f,#9c179e,#9e199d,#a01a9c,#a21c9a,#a31e9a,#a51f99,#a72197,#aa2395,#af2892,#b42e8d,#ba3388,#be3885,#c33d80,#c8437b,#cc4778,#d04d73,#d6556d,#dd5e66,#e26660,#e76f5a,#ed7953,#f1814d,#f58b47,#f89441,#fba03a,#fca934,#fdb42f,#febe2a,#fdc927,#fbd324,#f8df25,#f5ea26)"></i>
<i style="background:linear-gradient(90deg,#9a169f,#9c179e,#9d189d,#a01a9c,#a11b9b,#a31e9a,#a51f99,#a72197,#aa2395,#ae2892,#b42e8d,#b93289,#be3885,#c33d80,#c7427c,#cc4778,#d04d73,#d6556d,#dc5d67,#e26660,#e76f5a,#ec7854,#f1814d,#f58b47,#f89441,#fba03a,#fca934,#fdb42f,#febe2a,#fdc827,#fbd324,#f8df25,#f5e926)"></i>
<i style="background:linear-gradient(90deg,#99159f,#9b179e,#9d189d,#9f199d,#a11b9b,#a21d9a,#a51f99,#a62098,#a82296,#ae2892,#b42d8e,#b83289,#be3885,#c33d80,#c7427c,#cc4778,#cf4c74,#d6556d,#dc5d67,#e26561,#e76f5a,#ec7754,#f1814d,#f58b47,#f79342,#fb9f3a,#fca934,#fdb42f,#febd2a,#fdc827,#fbd324,#f8de25,#f5e926)"></i>
<i style="background:linear-gradient(90deg,#99159f,#9a169f,#9d189d,#9e199d,#a11b9b,#a21d9a,#a41e9a,#a62098,#a82296,#ae2892,#b32c8e,#b83289,#be3885,#c23c81,#c7427c,#cb4679,#cf4c74,#d6546e,#dc5d67,#e26561,#e76f5a,#ec7754,#f0804e,#f58a47,#f79342,#fb9f3a,#fca934,#fdb32f,#febd2a,#fdc827,#fbd324,#f9de25,#f5e926)"></i>
<i style="background:linear-gradient(90deg,#99159f,#9a169f,#9c179e,#9e199d,#a01a9c,#a21d9a,#a31e9a,#a62098,#a82296,#ad2793,#b32c8e,#b83289,#bd3786,#c23c81,#c7427c,#cb4679,#cf4c74,#d5546e,#dc5d67,#e26561,#e76e5b,#ec7754,#f0804e,#f48948,#f79243,#fa9e3b,#fca934,#fdb32f,#febd2a,#fdc827,#fbd324,#f9de25,#f5e926)"></i>
<i style="background:linear-gradient(90deg,#9814a0,#9a169f,#9c179e,#9d189d,#a01a9c,#a11b9b,#a31e9a,#a51f99,#a82296,#ad2793,#b32c8e,#b7318a,#bd3786,#c23c81,#c6417d,#cb4679,#cf4c74,#d5546e,#db5c68,#e26561,#e76e5b,#eb7655,#f0804e,#f48948,#f79143,#fa9e3b,#fca835,#fdb22f,#febd2a,#fdc727,#fcd225,#f9dd25,#f5e926)"></i>
<i style="background:linear-gradient(90deg,#9814a0,#99159f,#9c179e,#9d189d,#a01a9c,#a11b9b,#a21d9a,#a51f99,#a72197,#ad2793,#b22b8f,#b7318a,#bd3786,#c13b82,#c6417d,#cb4679,#ce4b75,#d5546e,#db5c68,#e16462,#e76e5b,#eb7655,#f0804e,#f48849,#f79143,#fa9d3b,#fca835,#fdb22f,#febc2a,#fdc727,#fcd225,#f9dd25,#f6e826)"></i>
<i style="background:linear-gradient(90deg,#9714a0,#99159f,#9a169f,#9d189d,#9e199d,#a11b9b,#a21d9a,#a51f99,#a72197,#ad2793,#b22b8f,#b7318a,#bc3686,#c13b82,#c6417d,#ca457a,#ce4b75,#d5536f,#db5c68,#e16462,#e66d5c,#eb7655,#f07f4f,#f48849,#f79044,#fa9d3c,#fca835,#fdb22f,#febc2a,#fdc627,#fcd225,#f9dd25,#f6e826)"></i>
<i style="background:linear-gradient(90deg,#9613a1,#99159f,#9a169f,#9c179e,#9e199d,#a01a9c,#a21d9a,#a51f99,#a72197,#ac2694,#b22b8f,#b7318a,#bc3587,#c13b82,#c5407e,#ca457a,#ce4b75,#d5536f,#db5c68,#e16462,#e66c5c,#eb7655,#f07f4f,#f48849,#f79044,#fa9c3c,#fca835,#fdb22f,#febc2b,#fdc627,#fcd225,#f9dd25,#f6e826)"></i>
<i style="background:linear-gradient(90deg,#9613a1,#9814a0,#9a169f,#9c179e,#9e199d,#a01a9c,#a11c9b,#a31e9a,#a62098,#ac2694,#b22b8f,#b6308b,#bc3587,#c13b82,#c5407e,#ca457a,#ce4b75,#d5536f,#da5b69,#e16462,#e66c5c,#eb7556,#f07f4f,#f3874a,#f79044,#fa9c3c,#fca835,#fdb22f,#febb2b,#fdc627,#fcd225,#f9dc24,#f6e826)"></i>
<i style="background:linear-gradient(90deg,#9612a1,#9814a0,#99159f,#9c179e,#9d189d,#a01a9c,#a11b9b,#a31e9a,#a62098,#ac2694,#b12a90,#b6308b,#bc3587,#c03a83,#c5407e,#ca457a,#cd4a76,#d5536f,#da5b69,#e06363,#e66c5c,#eb7556,#f07e50,#f3874a,#f68f44,#fa9b3d,#fca835,#fdb130,#febb2b,#fdc627,#fcd125,#f9dc24,#f6e826)"></i>
<i style="background:linear-gradient(90deg,#9511a1,#9814a0,#99159f,#9b169f,#9d189d,#9e199d,#a11b9b,#a31e9a,#a62098,#ac2594,#b12a90,#b6308b,#bb3488,#c03a83,#c5407e,#c9447a,#cd4a76,#d45270,#da5b69,#e06363,#e56b5d,#eb7556,#ef7e50,#f3864a,#f68f44,#fa9b3d,#fca735,#fdb130,#febb2b,#fdc627,#fcd125,#f9dc24,#f6e826)"></i>
<i style="background:linear-gradient(90deg,#9511a1,#9613a1,#99159f,#9a169f,#9d189d,#9e199d,#a01a9c,#a31e9a,#a62098,#ab2494,#b12a90,#b52f8c,#bb3488,#c03a83,#c43f7f,#c9447a,#cd4a76,#d45270,#da5a6a,#e06363,#e56b5d,#eb7556,#ef7e50,#f3854b,#f68e45,#f99a3e,#fca736,#fdb130,#febb2b,#fdc627,#fcd025,#f9dc24,#f6e726)"></i>
<i style="background:linear-gradient(90deg,#9511a1,#9613a1,#9814a0,#9a169f,#9c179e,#9e199d,#a01a9c,#a21d9a,#a51f99,#ab2494,#b12a90,#b52f8c,#bb3488,#c03a83,#c43e7f,#c9447a,#cc4977,#d45270,#da5a6a,#e06263,#e56b5d,#ea7457,#ef7d50,#f3854b,#f68d45,#f99a3e,#fca636,#fdb130,#febb2b,#fdc527,#fcd025,#f9dc24,#f6e626)"></i>
<i style="background:linear-gradient(90deg,#9410a2,#9613a1,#9814a0,#9a169f,#9c179e,#9d189d,#a01a9c,#a21d9a,#a51f99,#ab2494,#b02991,#b52f8c,#bb3488,#bf3984,#c43e7f,#c9447a,#cc4977,#d45270,#da5a6a,#df6263,#e56b5d,#ea7457,#ef7c51,#f2844b,#f68d45,#f9993e,#fca636,#fdb130,#feba2c,#fdc527,#fcd025,#f9dc24,#f6e626)"></i>
<i style="background:linear-gradient(90deg,#9410a2,#9511a1,#9814a0,#99159f,#9c179e,#9d189d,#a01a9c,#a21d9a,#a51f99,#aa2395,#b02991,#b52f8c,#ba3388,#bf3984,#c43e7f,#c8437b,#cc4977,#d35171,#da5a6a,#df6263,#e56a5d,#ea7457,#ef7c51,#f2844b,#f58c46,#f9993e,#fca537,#fdb030,#feba2c,#fdc527,#fcd025,#f9db24,#f6e626)"></i>
<i style="background:linear-gradient(90deg,#9410a2,#9511a1,#9613a1,#99159f,#9a169f,#9d189d,#9e199d,#a11c9b,#a41f99,#aa2395,#b02991,#b42e8d,#ba3388,#bf3984,#c33d80,#c8437b,#cc4977,#d35171,#d9596a,#df6263,#e56a5d,#ea7357,#ee7b51,#f2844b,#f58c46,#f9983e,#fca537,#fdb030,#feba2c,#fdc527,#fccf25,#fadb24,#f6e626)"></i>
<i style="background:linear-gradient(90deg,#920fa3,#9511a1,#9613a1,#9814a0,#9a169f,#9c179e,#9e199d,#a11b9b,#a31e9a,#aa2395,#af2892,#b42e8d,#ba3388,#be3885,#c33d80,#c8437b,#cc4878,#d35171,#d9586a,#de6164,#e56a5d,#e97257,#ee7b51,#f1834c,#f58c46,#f9983e,#fca438,#fdb031,#feba2c,#fdc527,#fccf25,#fada24,#f6e626)"></i>
<i style="background:linear-gradient(90deg,#920fa3,#9410a2,#9613a1,#9814a0,#9a169f,#9c179e,#9e199d,#a11b9b,#a31e9a,#aa2395,#ae2892,#b42e8d,#b93388,#be3885,#c33d80,#c7427c,#cc4778,#d25071,#d9586a,#de6164,#e56a5d,#e97257,#ee7b51,#f1834c,#f58b47,#f9973f,#fca338,#fdaf31,#feba2c,#fdc427,#fccf25,#fada24,#f6e526)"></i>
<i style="background:linear-gradient(90deg,#920fa3,#9410a2,#9511a1,#9814a0,#99159f,#9c179e,#9e199d,#a11b9b,#a31e9a,#a82296,#ae2892,#b42e8d,#b83289,#be3885,#c33d80,#c7427c,#cc4778,#d24f71,#d9586a,#de6164,#e4695e,#e97257,#ed7a52,#f1824d,#f58b47,#f9963f,#fca338,#fdaf31,#feb92c,#fdc428,#fcce25,#fada24,#f7e425)"></i>
<i style="background:linear-gradient(90deg,#910ea3,#9410a2,#9511a1,#9714a0,#99159f,#9a169f,#9d189d,#a01a9c,#a21e9a,#a82296,#ae2892,#b32c8e,#b83289,#be3885,#c23c81,#c7427c,#cc4778,#d24f71,#d8576b,#de6064,#e4695e,#e97158,#ed7a52,#f1814d,#f48a48,#f89640,#fba238,#fdaf31,#feb92c,#fdc328,#fcce25,#fada24,#f7e425)"></i>
<i style="background:linear-gradient(90deg,#910ea3,#920fa3,#9511a1,#9613a1,#99159f,#9a169f,#9d189d,#a01a9c,#a21d9a,#a82296,#ad2793,#b32c8e,#b83289,#bd3786,#c23c81,#c7427c,#cb4679,#d24f71,#d8576b,#de6065,#e4695e,#e97158,#ed7a52,#f1814d,#f48948,#f89540,#fba238,#fdaf31,#feb92c,#fdc328,#fcce25,#fad924,#f7e425)"></i>
<i style="background:linear-gradient(90deg,#910ea3,#920fa3,#9410a2,#9613a1,#9814a0,#9a169f,#9d189d,#a01a9c,#a21d9a,#a82296,#ad2793,#b32c8e,#b7318a,#bd3786,#c23c81,#c6417d,#cb4679,#d14e72,#d8576b,#de5f65,#e4685e,#e97158,#ed7953,#f0804e,#f48948,#f89540,#fba238,#fdaf31,#feb82c,#fdc328,#fcce25,#fad924,#f7e425)"></i>
<i style="background:linear-gradient(90deg,#8f0da4,#920fa3,#9410a2,#9612a1,#9814a0,#99159f,#9c189e,#a01a9c,#a21d9a,#a72197,#ad2793,#b32c8e,#b7318a,#bd3786,#c13b82,#c6417d,#cb4679,#d14e72,#d8576b,#de5f65,#e3685f,#e97158,#ed7953,#f0804e,#f48849,#f89441,#fba139,#fdae32,#feb82c,#fdc328,#fcce25,#fad824,#f7e425)"></i>
<i style="background:linear-gradient(90deg,#8f0da4,#910ea3,#9410a2,#9511a1,#9814a0,#99159f,#9c179e,#9e199d,#a11c9b,#a72197,#ad2793,#b22b8f,#b7318a,#bd3686,#c13b82,#c6417d,#cb4679,#d14e72,#d7566c,#de5f65,#e3685f,#e87059,#ec7854,#f0804e,#f48849,#f89441,#fba139,#fdae32,#feb82c,#fdc328,#fccd25,#fad824,#f7e425)"></i>
<i style="background:linear-gradient(90deg,#8f0da4,#910ea3,#920fa3,#9511a1,#9613a1,#99159f,#9c179e,#9e199d,#a11b9b,#a72197,#ac2694,#b22b8f,#b7318a,#bc3587,#c13b82,#c6417d,#ca457a,#d14e72,#d7566c,#dd5e66,#e3675f,#e87059,#ec7754,#f07f4f,#f4884a,#f89442,#fba03a,#fdad32,#feb82c,#fdc229,#fccd25,#fad824,#f7e325)"></i>
<i style="background:linear-gradient(90deg,#8e0ca4,#910ea3,#920fa3,#9511a1,#9613a1,#99159f,#9c179e,#9e199d,#a11b9b,#a62098,#ac2694,#b22b8f,#b6308b,#bc3587,#c13b82,#c5407e,#ca457a,#d04d73,#d7566c,#dd5e66,#e26760,#e76f5a,#ec7754,#f07f4f,#f3874a,#f79342,#fb9f3a,#fdac33,#feb82c,#fdc229,#fccd25,#fad824,#f7e225)"></i>
<i style="background:linear-gradient(90deg,#8e0ca4,#8f0da4,#920fa3,#9410a2,#9613a1,#9814a0,#9a169f,#9e199d,#a11b9b,#a62098,#ac2694,#b12a90,#b6308b,#bc3587,#c03a83,#c5407e,#ca457a,#d04d73,#d6566c,#dd5e66,#e26660,#e76f5a,#eb7655,#ef7e50,#f3874a,#f79242,#fb9f3a,#fdac33,#feb72d,#fdc229,#fccd25,#fad824,#f7e225)"></i>
<i style="background:linear-gradient(90deg,#8e0ca4,#8f0da4,#910ea3,#9410a2,#9511a1,#9814a0,#9a169f,#9d189d,#a01a9c,#a62098,#ac2594,#b12a90,#b6308b,#bc3587,#c03a83,#c5407e,#c9447a,#d04d73,#d6556d,#dc5e66,#e26660,#e76f5a,#eb7655,#ef7e50,#f3864b,#f79243,#fa9e3b,#fdab33,#feb72d,#fdc229,#fccd25,#fad824,#f7e225)"></i>
<i style="background:linear-gradient(90deg,#8d0ba5,#8f0da4,#910ea3,#9310a2,#9511a1,#9814a0,#9a169f,#9d189d,#a01a9c,#a62098,#ab2494,#b12a90,#b6308b,#bb3488,#c03a83,#c53f7e,#c9447a,#d04d73,#d6556d,#dc5d67,#e26660,#e76e5b,#eb7655,#ef7e50,#f3854b,#f79143,#fa9e3b,#fdab33,#feb72d,#fdc229,#fccc25,#fbd724,#f7e225)"></i>
<i style="background:linear-gradient(90deg,#8d0ba5,#8e0ca4,#910ea3,#920fa3,#9511a1,#9714a0,#9a169f,#9d189d,#a01a9c,#a51f99,#ab2494,#b12a90,#b52f8c,#bb3488,#c03a83,#c43e7f,#c9447a,#cf4c74,#d6556d,#dc5d67,#e26561,#e76e5b,#eb7556,#ef7c51,#f3854b,#f79143,#fa9d3b,#fdaa33,#feb72d,#fdc129,#fdcc26,#fbd724,#f7e225)"></i>
<i style="background:linear-gradient(90deg,#8d0ba5,#8e0ca4,#900da4,#920fa3,#9410a2,#9613a1,#99159f,#9c179e,#9f1a9c,#a51f99,#ab2494,#b02991,#b52f8c,#bb3488,#bf3984,#c43e7f,#c9447a,#cf4c74,#d5546e,#dc5d67,#e26561,#e76d5b,#eb7556,#ef7c51,#f2844b,#f79044,#fa9c3c,#fcaa34,#feb72d,#fec129,#fdcb26,#fbd724,#f8e225)"></i>
<i style="background:linear-gradient(90deg,#8b0aa5,#8e0ca4,#8f0da4,#920fa3,#9410a2,#9613a1,#99159f,#9c179e,#9e199d,#a51f99,#aa2395,#b02991,#b52f8c,#ba3388,#bf3984,#c43e7f,#c8437b,#cf4c74,#d5546e,#db5c68,#e26561,#e66c5c,#ea7457,#ef7c51,#f2844b,#f79044,#fa9c3c,#fca934,#feb62d,#fec129,#fdcb26,#fbd724,#f8e125)"></i>
<i style="background:linear-gradient(90deg,#8b0aa5,#8d0ba5,#8f0da4,#910ea3,#9410a2,#9613a1,#99159f,#9c179e,#9e199d,#a41f99,#aa2395,#b02991,#b52f8c,#ba3388,#bf3984,#c33d80,#c8437b,#ce4c74,#d5546e,#db5c68,#e16462,#e66c5c,#ea7457,#ee7b51,#f2844c,#f69044,#fa9c3c,#fca834,#fdb62e,#fec029,#fdcb26,#fbd724,#f8e125)"></i>
<i style="background:linear-gradient(90deg,#8b0aa5,#8d0ba5,#8e0ca4,#910ea3,#920fa3,#9512a1,#99159f,#9c179e,#9e199d,#a31e9a,#aa2395,#af2991,#b42e8d,#ba3388,#be3884,#c33d80,#c8437b,#ce4b75,#d5546e,#db5c68,#e16462,#e56b5d,#ea7457,#ee7b51,#f1834c,#f68f44,#fa9b3d,#fca835,#fdb52e,#fec029,#fdcb26,#fbd624,#f8e125)"></i>
<i style="background:linear-gradient(90deg,#8a09a5,#8d0ba5,#8e0ca4,#900ea3,#920fa3,#9511a1,#9814a0,#9a169f,#9d189d,#a31e9a,#aa2395,#ae2892,#b42e8d,#ba3388,#be3885,#c33d80,#c8437b,#ce4b75,#d5536f,#db5c68,#e16462,#e56b5d,#e97257,#ed7a52,#f1834c,#f68e44,#fa9b3d,#fca735,#fdb52e,#fec029,#fdcb26,#fbd624,#f8e125)"></i>
<i style="background:linear-gradient(90deg,#8a09a5,#8b0aa5,#8e0ca4,#8f0da4,#920fa3,#9511a1,#9814a0,#9a169f,#9d189d,#a31e9a,#a82296,#ae2892,#b42e8d,#b93289,#be3885,#c33d80,#c7427c,#ce4b75,#d5536f,#da5b69,#e06363,#e56b5d,#e97257,#ed7a52,#f1824d,#f68e45,#f99a3e,#fca736,#fdb42f,#fec029,#fdca26,#fbd524,#f8e125)"></i>
<i style="background:linear-gradient(90deg,#8a09a5,#8b0aa5,#8d0ba5,#8f0da4,#920fa3,#9511a1,#9814a0,#9a169f,#9d189d,#a31e9a,#a82296,#ae2892,#b32d8e,#b83289,#be3885,#c23c81,#c7427c,#cd4a76,#d5536f,#da5b69,#e06363,#e56a5d,#e97257,#ed7a52,#f1814d,#f68d45,#f99a3e,#fca636,#fdb42f,#febf29,#fdca26,#fbd524,#f8e025)"></i>
<i style="background:linear-gradient(90deg,#8808a6,#8b0aa5,#8d0ba5,#8f0da4,#910ea3,#9410a2,#9713a1,#9a169f,#9d189d,#a21d9a,#a82296,#ae2892,#b32c8e,#b83289,#bd3786,#c23c81,#c7427c,#cd4a76,#d5536f,#da5b69,#e06363,#e56a5d,#e97158,#ed7953,#f1814d,#f68d45,#f9993e,#fca636,#fdb32f,#febf2a,#fdca26,#fbd524,#f8e025)"></i>
<i style="background:linear-gradient(90deg,#8808a6,#8a09a5,#8d0ba5,#8e0ca4,#910ea3,#9410a2,#9613a1,#99159f,#9c179e,#a21d9a,#a82296,#ad2793,#b32c8e,#b83289,#bd3786,#c23c81,#c6427c,#cd4a76,#d45270,#da5a6a,#df6263,#e4695e,#e97158,#ed7953,#f0804e,#f58c46,#f9983e,#fca537,#fdb22f,#febe2a,#fdca26,#fbd524,#f8df25)"></i>
<i style="background:linear-gradient(90deg,#8808a6,#8a09a5,#8c0aa5,#8e0ca4,#910ea3,#9410a2,#9613a1,#99159f,#9c179e,#a21d9a,#a72197,#ad2793,#b32c8e,#b7318a,#bd3786,#c23c81,#c6417d,#cd4a76,#d45270,#da5a6a,#df6263,#e4695e,#e87059,#ed7853,#f0804e,#f58c46,#f9983e,#fca537,#fdb22f,#febe2a,#fdca26,#fbd424,#f8df25)"></i>
<i style="background:linear-gradient(90deg,#8707a6,#8a09a5,#8b0aa5,#8e0ca4,#900ea3,#9410a2,#9613a1,#99159f,#9c179e,#a11c9b,#a72197,#ad2793,#b22b8f,#b7318a,#bd3686,#c13b82,#c6417d,#cc4977,#d45270,#da5a6a,#de6164,#e4695e,#e87059,#ec7754,#f07f4f,#f58b47,#f9983e,#fca438,#fdb130,#febe2a,#fdca26,#fbd424,#f8df25)"></i>
<i style="background:linear-gradient(90deg,#8707a6,#8808a6,#8b0aa5,#8d0ba5,#8f0da4,#920fa3,#9511a1,#9814a0,#9c179e,#a11b9b,#a72197,#ac2694,#b22b8f,#b7318a,#bc3587,#c13b82,#c6417d,#cc4977,#d45270,#da5a6a,#de6164,#e3685f,#e87059,#ec7754,#f07f4f,#f58b47,#f9973f,#fca338,#fdb130,#febe2a,#fdc926,#fbd424,#f8df25)"></i>
<i style="background:linear-gradient(90deg,#8707a6,#8808a6,#8a09a5,#8d0ba5,#8f0da4,#920fa3,#9511a1,#9814a0,#9a169f,#a11b9b,#a72197,#ac2694,#b22b8f,#b7318a,#bc3587,#c13b82,#c5407e,#cc4977,#d35171,#d9596a,#de6164,#e3685f,#e76f5a,#eb7655,#f07f4f,#f58a47,#f9963f,#fca338,#fdb030,#febe2a,#fdc927,#fbd324,#f8de25)"></i>
<i style="background:linear-gradient(90deg,#8606a6,#8808a6,#8a09a5,#8d0ba5,#8f0da4,#920fa3,#9511a1,#9814a0,#9a169f,#a11b9b,#a62098,#ac2694,#b22b8f,#b6308b,#bc3587,#c03a83,#c5407e,#cc4878,#d35171,#d9586a,#de6065,#e3675f,#e76f5a,#eb7655,#ef7e50,#f48a48,#f89640,#fba238,#fdaf31,#febd2a,#fdc827,#fbd324,#f9de25)"></i>
<i style="background:linear-gradient(90deg,#8606a6,#8707a6,#8a09a5,#8b0aa5,#8e0ca4,#920fa3,#9511a1,#9814a0,#9a169f,#a01a9c,#a62098,#ac2694,#b12a90,#b6308b,#bc3587,#c03a83,#c5407e,#cc4878,#d35071,#d9586a,#de5f65,#e26660,#e76f5a,#eb7655,#ef7e50,#f48948,#f89540,#fba238,#fdaf31,#febd2a,#fdc827,#fbd324,#f9dd25)"></i>
<i style="background:linear-gradient(90deg,#8606a6,#8707a6,#8908a6,#8b0aa5,#8e0ca4,#910ea3,#9410a2,#9613a1,#9a169f,#a01a9c,#a62098,#ab2494,#b12a90,#b6308b,#bb3488,#c03a83,#c5407e,#cc4778,#d25071,#d8576b,#de5f65,#e26660,#e76e5b,#eb7556,#ef7d50,#f48848,#f89540,#fba238,#fdae32,#febc2b,#fdc827,#fbd324,#f9dd25)"></i>
<i style="background:linear-gradient(90deg,#8405a7,#8707a6,#8808a6,#8b0aa5,#8e0ca4,#910ea3,#9410a2,#9613a1,#99159f,#a01a9c,#a51f99,#ab2494,#b12a90,#b52f8c,#bb3488,#c03a83,#c43f7f,#cc4778,#d24f71,#d8576b,#dd5e66,#e26561,#e76e5b,#eb7556,#ef7c51,#f48849,#f89441,#fba139,#fdae32,#febb2b,#fdc827,#fcd224,#f9dd25)"></i>
<i style="background:linear-gradient(90deg,#8405a7,#8606a6,#8808a6,#8b0aa5,#8e0ca4,#910ea3,#9410a2,#9613a1,#99159f,#9f1a9c,#a51f99,#ab2494,#b12a90,#b52f8c,#bb3488,#bf3984,#c43e7f,#cb4679,#d24f71,#d8576b,#dd5e66,#e26561,#e66d5c,#eb7556,#ef7c51,#f48849,#f89441,#fba139,#fdad32,#febb2b,#fdc727,#fcd225,#f9dd25)"></i>
<i style="background:linear-gradient(90deg,#8405a7,#8606a6,#8707a6,#8a09a5,#8d0ba5,#900da4,#9310a2,#9613a1,#99159f,#9e199d,#a51f99,#ab2494,#b02991,#b52f8c,#ba3388,#bf3984,#c43e7f,#cb4679,#d24f71,#d7566c,#dc5d67,#e26561,#e66c5c,#ea7457,#ee7b51,#f3874a,#f79342,#fba03a,#fdad33,#feba2c,#fdc727,#fcd225,#f9dd25)"></i>
<i style="background:linear-gradient(90deg,#8305a7,#8606a6,#8707a6,#8a09a5,#8d0ba5,#8f0da4,#920fa3,#9511a1,#9814a0,#9e199d,#a41f99,#aa2395,#b02991,#b52f8c,#ba3388,#bf3984,#c43e7f,#cb4679,#d14e72,#d7566c,#dc5d67,#e16462,#e66c5c,#ea7457,#ee7b51,#f3874a,#f79342,#fb9f3a,#fdac33,#feba2c,#fdc627,#fcd225,#f9dc24)"></i>
<i style="background:linear-gradient(90deg,#8305a7,#8405a7,#8707a6,#8a09a5,#8d0ba5,#8f0da4,#920fa3,#9511a1,#9814a0,#9e199d,#a41e9a,#aa2395,#b02991,#b42e8d,#ba3388,#bf3984,#c33d80,#cb4679,#d14e72,#d6556d,#dc5d67,#e16462,#e56b5d,#e97357,#ee7b51,#f3864a,#f79242,#fb9f3a,#fdac33,#feb92c,#fdc627,#fcd225,#f9dc24)"></i>
<i style="background:linear-gradient(90deg,#8305a7,#8405a7,#8606a6,#8908a6,#8d0ba5,#8f0da4,#920fa3,#9511a1,#9814a0,#9e199d,#a31e9a,#aa2395,#af2892,#b42e8d,#ba3388,#be3885,#c33d80,#ca457a,#d14e72,#d6556d,#db5c68,#e16462,#e56b5d,#e97257,#ed7a52,#f3864b,#f79243,#fa9e3b,#fdab33,#feb82c,#fdc627,#fcd225,#f9dc24)"></i>
<i style="background:linear-gradient(90deg,#8104a7,#8405a7,#8606a6,#8808a6,#8b0aa5,#8e0ca4,#910ea3,#9511a1,#9814a0,#9d189d,#a31e9a,#a92296,#ae2892,#b42e8d,#b93289,#be3885,#c33d80,#ca457a,#d04e72,#d6556d,#db5c68,#e06363,#e56a5d,#e97257,#ed7a52,#f3854b,#f79143,#fa9e3b,#fdaa33,#feb82c,#fdc627,#fcd125,#f9dc24)"></i>
<i style="background:linear-gradient(90deg,#8104a7,#8305a7,#8606a6,#8808a6,#8b0aa5,#8e0ca4,#910ea3,#9410a2,#9613a1,#9d189d,#a31e9a,#a82296,#ae2892,#b42d8d,#b83289,#be3885,#c23c80,#ca457a,#d04d73,#d5546e,#db5c68,#e06363,#e56a5d,#e97158,#ed7a52,#f2844b,#f79044,#fa9d3b,#fcaa34,#feb72d,#fdc527,#fcd125,#f9dc24)"></i>
<i style="background:linear-gradient(90deg,#8104a7,#8305a7,#8606a6,#8808a6,#8b0aa5,#8e0ca4,#910ea3,#9410a2,#9613a1,#9d189d,#a21d9a,#a82296,#ae2892,#b32c8e,#b83289,#be3885,#c23c81,#ca457a,#d04d73,#d5546e,#da5b69,#df6263,#e56a5d,#e97158,#ed7953,#f2844b,#f79044,#fa9c3c,#fca934,#feb72d,#fdc527,#fcd025,#f9dc24)"></i>
<i style="background:linear-gradient(90deg,#8004a8,#8305a7,#8405a7,#8707a6,#8b0aa5,#8e0ca4,#910ea3,#9410a2,#9613a1,#9c179e,#a21d9a,#a82296,#ad2793,#b32c8e,#b83289,#bd3786,#c23c81,#c9447a,#cf4c74,#d5546e,#da5b69,#df6263,#e4695e,#e87059,#ed7953,#f2844b,#f79044,#fa9c3c,#fca934,#feb62d,#fdc427,#fcd025,#f9db24)"></i>
<i style="background:linear-gradient(90deg,#8004a8,#8104a7,#8405a7,#8707a6,#8a09a5,#8d0ba5,#8f0da4,#930fa3,#9612a1,#9c179e,#a21d9a,#a72197,#ad2793,#b32c8e,#b7318a,#bd3786,#c23c81,#c9447a,#cf4c74,#d5536f,#da5a6a,#df6263,#e4695e,#e87059,#ec7854,#f1834c,#f68f44,#fa9b3d,#fca835,#fdb62e,#fdc428,#fcd025,#fada24)"></i>
<i style="background:linear-gradient(90deg,#8004a8,#8104a7,#8405a7,#8707a6,#8a09a5,#8d0ba5,#8f0da4,#920fa3,#9511a1,#9c179e,#a11c9b,#a72197,#ad2793,#b22c8e,#b7318a,#bd3786,#c13b82,#c9447a,#cf4c74,#d5536f,#da5a6a,#de6164,#e4695e,#e87059,#ec7754,#f1834c,#f68f44,#fa9b3d,#fca835,#fdb52e,#fdc328,#fcd025,#fada24)"></i>
<i style="background:linear-gradient(90deg,#7e03a8,#8104a7,#8405a7,#8707a6,#8a09a5,#8d0ba5,#8f0da4,#920fa3,#9511a1,#9c179e,#a11b9b,#a72197,#ad2793,#b22b8f,#b7318a,#bc3687,#c13b82,#c8447a,#ce4b75,#d45270,#da5a6a,#de6164,#e3685f,#e76f5a,#ec7754,#f1824c,#f68e44,#fa9b3d,#fca736,#fdb42e,#fdc228,#fccf25,#fada24)"></i>
<i style="background:linear-gradient(90deg,#7e03a8,#8004a8,#8305a7,#8606a6,#8908a6,#8c0aa5,#8f0da4,#920fa3,#9511a1,#9b169f,#a11b9b,#a72197,#ac2694,#b22b8f,#b7318a,#bc3587,#c13b82,#c8437b,#ce4b75,#d45270,#d9586a,#de6064,#e3685f,#e76f5a,#eb7655,#f1824d,#f68e45,#f99a3e,#fca636,#fdb42f,#fdc229,#fccf25,#fada24)"></i>
<i style="background:linear-gradient(90deg,#7e03a8,#8004a8,#8305a7,#8606a6,#8808a6,#8b0aa5,#8e0ca4,#910ea3,#9511a1,#9a169f,#a11b9b,#a62098,#ac2694,#b22b8f,#b6308b,#bc3587,#c13b82,#c8437b,#cd4a76,#d45270,#d9586a,#de5f65,#e26760,#e76f5a,#eb7655,#f1814d,#f68d45,#f99a3e,#fca636,#fdb32f,#fdc229,#fcce25,#fada24)"></i>
<i style="background:linear-gradient(90deg,#7d03a8,#8004a8,#8305a7,#8606a6,#8808a6,#8b0aa5,#8e0ca4,#910ea3,#9410a2,#9a169f,#a01a9c,#a62098,#ac2694,#b12a90,#b6308b,#bc3587,#c03a83,#c8437b,#cd4a76,#d35171,#d9586a,#de5f65,#e26660,#e76e5b,#eb7656,#f0804e,#f68c46,#f9993e,#fca537,#fdb32f,#fec129,#fcce25,#fada24)"></i>
<i style="background:linear-gradient(90deg,#7d03a8,#7e03a8,#8204a7,#8506a6,#8808a6,#8b0aa5,#8e0ca4,#910ea3,#9410a2,#9a169f,#a01a9c,#a62098,#ab2594,#b12a90,#b6308b,#bb3488,#c03a83,#c7427c,#cd4a76,#d35171,#d8576b,#dd5e66,#e26660,#e76e5b,#eb7556,#f0804e,#f58c46,#f9983e,#fca537,#fdb22f,#fec029,#fcce25,#fad924)"></i>
<i style="background:linear-gradient(90deg,#7d03a8,#7e03a8,#8104a7,#8405a7,#8707a6,#8a09a5,#8e0ca4,#910ea3,#9410a2,#99159f,#a01a9c,#a62098,#ab2494,#b12a90,#b52f8c,#bb3488,#c03a83,#c7427c,#cc4977,#d25071,#d8576b,#dd5e66,#e26561,#e66d5c,#eb7556,#f0804e,#f58c46,#f9983e,#fca437,#fdb22f,#febf29,#fcce25,#fad824)"></i>
<i style="background:linear-gradient(90deg,#7b02a8,#7e03a8,#8104a7,#8405a7,#8707a6,#8a09a5,#8d0ba5,#8f0da4,#930fa3,#99159f,#a01a9c,#a51f99,#ab2494,#b12a90,#b52f8c,#bb3488,#c03a83,#c7427c,#cc4977,#d24f71,#d7566c,#dd5e66,#e26561,#e66c5c,#ea7457,#f07f4f,#f58b47,#f9973f,#fca338,#fdb130,#febe2a,#fccd25,#fad824)"></i>
<i style="background:linear-gradient(90deg,#7b02a8,#7e03a8,#8104a7,#8405a7,#8707a6,#8a09a5,#8d0ba5,#8f0da4,#920fa3,#99159f,#9e199d,#a51f99,#ab2494,#b02991,#b52f8c,#bb3488,#bf3984,#c6417d,#cc4877,#d24f71,#d7566c,#dc5d67,#e26561,#e66c5c,#ea7457,#f07f4f,#f58b47,#f9973f,#fca338,#fdb130,#febe2a,#fccd25,#fad824)"></i>
<i style="background:linear-gradient(90deg,#7b02a8,#7d03a8,#8004a8,#8305a7,#8707a6,#8a09a5,#8d0ba5,#8f0da4,#920fa3,#99159f,#9e199d,#a51f99,#aa2395,#b02991,#b52f8c,#ba3388,#bf3984,#c6417d,#cc4778,#d14e72,#d7566c,#dc5d67,#e16462,#e56b5d,#ea7357,#f07f4f,#f58a47,#f9963f,#fba238,#fdb030,#febe2a,#fccc26,#fad824)"></i>
<i style="background:linear-gradient(90deg,#7a02a8,#7d03a8,#8004a8,#8305a7,#8606a6,#8808a6,#8c0aa5,#8f0da4,#920fa3,#9814a0,#9e199d,#a41e9a,#aa2395,#b02991,#b42e8d,#ba3388,#bf3984,#c6417d,#cc4778,#d14e72,#d6556d,#dc5d67,#e16462,#e56b5d,#e97257,#ef7e50,#f48a48,#f89640,#fba238,#fdaf31,#febd2a,#fdcb26,#fad824)"></i>
<i style="background:linear-gradient(90deg,#7a02a8,#7d03a8,#8004a8,#8305a7,#8606a6,#8808a6,#8b0aa5,#8e0ca4,#910ea3,#9814a0,#9e199d,#a31e9a,#aa2395,#af2991,#b42e8d,#ba3388,#be3885,#c5407e,#cb4679,#d14e72,#d6556d,#db5c68,#e06363,#e56b5d,#e97257,#ef7e50,#f48948,#f89540,#fba238,#fdaf31,#febc2a,#fdcb26,#fad824)"></i>
<i style="background:linear-gradient(90deg,#7a02a8,#7c02a8,#8004a8,#8305a7,#8606a6,#8808a6,#8b0aa5,#8e0ca4,#910ea3,#9814a0,#9d189d,#a31e9a,#aa2395,#ae2892,#b42e8d,#b93388,#be3885,#c5407e,#cb4679,#d04d73,#d5546e,#db5c68,#e06363,#e56a5d,#e97258,#ef7d50,#f48848,#f89440,#fba139,#fdae32,#febc2b,#fdca26,#fbd724)"></i>
<i style="background:linear-gradient(90deg,#7801a8,#7b02a8,#7e03a8,#8104a7,#8505a7,#8808a6,#8b0aa5,#8e0ca4,#910ea3,#9713a1,#9d189d,#a31e9a,#a82296,#ae2892,#b42d8d,#b83289,#be3885,#c43f7f,#cb4679,#d04d73,#d5546e,#da5b69,#e06363,#e56a5d,#e97158,#ef7c51,#f48849,#f89441,#fba139,#fdae32,#febb2b,#fdca26,#fbd724)"></i>
<i style="background:linear-gradient(90deg,#7801a8,#7b02a8,#7e03a8,#8104a7,#8405a7,#8707a6,#8a09a5,#8d0ba5,#900ea3,#9613a1,#9d189d,#a21d9a,#a82296,#ae2892,#b32c8e,#b83289,#be3885,#c43e7f,#ca457a,#cf4c74,#d5546e,#da5b69,#df6263,#e4695e,#e97158,#ef7c51,#f48849,#f89441,#fba039,#fdad32,#febb2b,#fdc926,#fbd724)"></i>
<i style="background:linear-gradient(90deg,#7801a8,#7b02a8,#7e03a8,#8104a7,#8405a7,#8707a6,#8a09a5,#8d0ba5,#8f0da4,#9613a1,#9c179e,#a21d9a,#a82296,#ae2892,#b32c8e,#b83289,#bd3786,#c43e7f,#ca457a,#cf4c74,#d5536f,#da5b69,#df6263,#e4695e,#e87059,#ee7b51,#f3874a,#f79342,#fb9f3a,#fdac33,#feba2c,#fdc827,#fbd724)"></i>
<i style="background:linear-gradient(90deg,#7701a8,#7a02a8,#7e03a8,#8104a7,#8405a7,#8707a6,#8a09a5,#8d0ba5,#8f0da4,#9613a1,#9c179e,#a21d9a,#a82296,#ad2793,#b32c8e,#b8328a,#bd3786,#c33d80,#ca447a,#cf4c74,#d5536f,#da5a6a,#de6264,#e4695e,#e87059,#ee7b51,#f3874a,#f79342,#fb9f3a,#fdac33,#feba2c,#fdc827,#fbd624)"></i>
<i style="background:linear-gradient(90deg,#7701a8,#7a02a8,#7d03a8,#8004a8,#8405a7,#8707a6,#8a09a5,#8d0ba5,#8f0da4,#9612a1,#9c179e,#a21d9a,#a72197,#ad2793,#b32c8e,#b7318a,#bd3786,#c33d80,#c9447a,#ce4b75,#d45270,#da5a6a,#de6164,#e3685f,#e8705a,#ee7a52,#f3864a,#f79242,#fa9e3b,#fdab33,#feb92c,#fdc727,#fbd524)"></i>
<i style="background:linear-gradient(90deg,#7701a8,#7a02a8,#7d03a8,#8004a8,#8305a7,#8606a6,#8908a6,#8c0ba5,#8f0da4,#9511a1,#9c179e,#a21c9a,#a72197,#ad2793,#b22b8f,#b7318a,#bc3587,#c23c81,#c9447a,#ce4b75,#d45270,#d9596a,#de6064,#e3685f,#e76f5a,#ed7a52,#f3854b,#f79143,#fa9e3b,#fdab33,#feb82c,#fdc627,#fbd424)"></i>
<i style="background:linear-gradient(90deg,#7601a8,#7a02a8,#7d03a8,#8004a8,#8305a7,#8606a6,#8808a6,#8b0aa5,#8e0ca4,#9511a1,#9c179e,#a11b9b,#a72197,#ad2793,#b22b8f,#b7318a,#bc3587,#c23c81,#c8437b,#cd4a76,#d45270,#d9586a,#de5f65,#e26760,#e76f5a,#ed7a52,#f3854b,#f79143,#fa9d3c,#fcaa34,#feb82c,#fdc627,#fbd324)"></i>
<i style="background:linear-gradient(90deg,#7501a8,#7a02a8,#7d03a8,#8004a8,#8305a7,#8606a6,#8808a6,#8b0aa5,#8e0ca4,#9511a1,#9b169f,#a11b9b,#a72197,#ac2694,#b22b8f,#b7318a,#bc3587,#c23c81,#c8437b,#cd4a76,#d35171,#d8586a,#de5f65,#e26660,#e76e5b,#ed7953,#f2844b,#f79044,#fa9c3c,#fca934,#feb72d,#fdc527,#fbd324)"></i>
<i style="background:linear-gradient(90deg,#7501a8,#7901a8,#7c03a8,#8004a8,#8305a7,#8606a6,#8808a6,#8b0aa5,#8e0ca4,#9511a1,#9a169f,#a11b9b,#a72197,#ac2694,#b22b8f,#b6308a,#bb3488,#c13b82,#c7427c,#cd4a76,#d35171,#d8576b,#dd5e66,#e26660,#e76e5b,#ed7953,#f2844b,#f79044,#fa9c3c,#fca934,#feb62d,#fdc427,#fcd225)"></i>
<i style="background:linear-gradient(90deg,#7501a8,#7801a8,#7b02a8,#7e03a8,#8204a7,#8506a6,#8808a6,#8b0aa5,#8e0ca4,#9410a2,#9a169f,#a11b9b,#a62098,#ac2694,#b22b8f,#b6308b,#bb3488,#c13b82,#c7427c,#cc4977,#d25071,#d8576b,#dd5e66,#e26561,#e66d5c,#ec7854,#f1834c,#f68f44,#fa9b3d,#fca835,#fdb52e,#fdc428,#fcd225)"></i>
<i style="background:linear-gradient(90deg,#7401a8,#7801a8,#7b02a8,#7e03a8,#8104a7,#8405a7,#8707a6,#8b0aa5,#8e0ca4,#9410a2,#9a169f,#a01a9c,#a62098,#ac2694,#b12a90,#b6308b,#bb3488,#c03a83,#c7427c,#cc4877,#d24f71,#d7566c,#dc5e66,#e26561,#e66c5c,#ec7754,#f1834c,#f68f44,#fa9b3d,#fca835,#fdb52e,#fdc328,#fcd025)"></i>
<i style="background:linear-gradient(90deg,#7401a8,#7801a8,#7b02a8,#7e03a8,#8104a7,#8405a7,#8707a6,#8a09a5,#8d0ba5,#9410a2,#9a169f,#a01a9c,#a62098,#ac2594,#b12a90,#b6308b,#ba3388,#c03a83,#c6417d,#cc4778,#d24f71,#d7566c,#dc5d67,#e16462,#e66c5c,#ec7654,#f1824c,#f68e44,#f99a3e,#fca736,#fdb42f,#fdc229,#fcd025)"></i>
<i style="background:linear-gradient(90deg,#7401a8,#7801a8,#7b02a8,#7e03a8,#8104a7,#8405a7,#8707a6,#8a09a5,#8d0ba5,#9410a2,#99159f,#a01a9c,#a62098,#ab2594,#b12a90,#b6308b,#ba3388,#bf3984,#c6417d,#cc4778,#d14e72,#d6556d,#dc5d67,#e16462,#e56b5d,#eb7655,#f1814d,#f68d45,#f99a3e,#fca636,#fdb42f,#fdc229,#fcce25)"></i>
<i style="background:linear-gradient(90deg,#7201a8,#7701a8,#7a02a8,#7e03a8,#8104a7,#8405a7,#8707a6,#8a09a5,#8d0ba5,#9410a2,#99159f,#a01a9c,#a62098,#ab2494,#b12a90,#b52f8c,#b93289,#bf3984,#c5407e,#cb4679,#d14e72,#d6556d,#db5c68,#e06363,#e56b5d,#eb7655,#f1814d,#f68d45,#f9993e,#fca636,#fdb32f,#fec129,#fcce25)"></i>
<i style="background:linear-gradient(90deg,#7201a8,#7701a8,#7a02a8,#7d03a8,#8004a8,#8405a7,#8707a6,#8a09a5,#8d0ba5,#930fa3,#99159f,#a01a9c,#a51f99,#ab2494,#b12a90,#b52f8c,#b83289,#bf3984,#c5407e,#cb4679,#d04d73,#d6556d,#db5c68,#e06363,#e56a5d,#eb7556,#f0804e,#f58c46,#f9983e,#fca537,#fdb22f,#fec029,#fccd25)"></i>
<i style="background:linear-gradient(90deg,#7201a8,#7701a8,#7a02a8,#7d03a8,#8004a8,#8305a7,#8606a6,#8909a5,#8d0ba5,#920fa3,#99159f,#9f199d,#a51f99,#ab2494,#b02991,#b52f8c,#b83289,#be3885,#c43f7f,#cb4679,#d04d73,#d5546e,#da5b69,#e06363,#e56a5d,#eb7556,#f0804e,#f58c46,#f9983e,#fca437,#fdb22f,#febf29,#fccd25)"></i>
<i style="background:linear-gradient(90deg,#7201a8,#7601a8,#7a02a8,#7d03a8,#8004a8,#8305a7,#8606a6,#8808a6,#8b0aa5,#920fa3,#99159f,#9e199d,#a51f99,#ab2494,#b02991,#b42e8d,#b7318a,#be3885,#c43e7f,#ca457a,#cf4c74,#d5546e,#da5b69,#df6263,#e4695e,#ea7457,#f07f4f,#f58b47,#f9973f,#fca338,#fdb130,#febe2a,#fdcc26)"></i>
<i style="background:linear-gradient(90deg,#7100a8,#7501a8,#7a02a8,#7d03a8,#8004a8,#8305a7,#8606a6,#8808a6,#8b0aa5,#920fa3,#9814a0,#9e199d,#a51f99,#aa2395,#b02991,#b42e8d,#b7318a,#be3885,#c43e7f,#ca457a,#cf4c74,#d5536f,#da5b69,#df6263,#e4695e,#ea7457,#f07f4f,#f58b47,#f9973f,#fca338,#fdb130,#febe2a,#fdcb26)"></i>
<i style="background:linear-gradient(90deg,#7100a8,#7501a8,#7902a8,#7d03a8,#8004a8,#8305a7,#8606a6,#8808a6,#8b0aa5,#920fa3,#9814a0,#9e199d,#a41f99,#aa2395,#b02991,#b42d8d,#b7318a,#bd3786,#c33d80,#c9447a,#cf4c74,#d5536f,#da5a6a,#de6164,#e4695e,#ea7357,#f07e50,#f58a47,#f89640,#fba238,#fdb031,#febd2a,#fdcb26)"></i>
<i style="background:linear-gradient(90deg,#7100a8,#7401a8,#7801a8,#7b02a8,#7f03a8,#8204a7,#8606a6,#8808a6,#8b0aa5,#910ea3,#9814a0,#9e199d,#a31e9a,#aa2395,#af2991,#b32c8e,#b6308b,#bd3786,#c33d80,#c9447a,#ce4b75,#d45270,#da5a6a,#de6164,#e3685f,#e97257,#ef7e50,#f48948,#f89540,#fba238,#fdaf31,#febd2a,#fdca26)"></i>
<i style="background:linear-gradient(90deg,#6f00a8,#7401a8,#7801a8,#7b02a8,#7e03a8,#8104a7,#8405a7,#8808a6,#8b0aa5,#910ea3,#9814a0,#9d189d,#a31e9a,#aa2395,#ae2892,#b32c8e,#b6308b,#bc3687,#c23c81,#c8437b,#ce4b75,#d45270,#d9586a,#de6065,#e3685f,#e97257,#ef7d50,#f48948,#f89440,#fba238,#fdaf31,#febc2b,#fdc926)"></i>
<i style="background:linear-gradient(90deg,#6f00a8,#7401a8,#7801a8,#7b02a8,#7e03a8,#8104a7,#8405a7,#8707a6,#8a09a5,#910ea3,#9714a0,#9d189d,#a31e9a,#a92395,#ae2892,#b22b8f,#b6308b,#bc3587,#c23c81,#c8437b,#cd4a76,#d45270,#d9586a,#de5f65,#e26660,#e97158,#ef7d51,#f48849,#f89441,#fba139,#fdae32,#febb2b,#fdc827)"></i>
<i style="background:linear-gradient(90deg,#6f00a8,#7401a8,#7801a8,#7b02a8,#7e03a8,#8104a7,#8405a7,#8707a6,#8a09a5,#910ea3,#9613a1,#9d189d,#a31e9a,#a92296,#ae2892,#b22b8f,#b52f8c,#bc3587,#c13b82,#c8437b,#cd4a76,#d35171,#d8576b,#de5f65,#e26660,#e97158,#ef7c51,#f48849,#f89441,#fba039,#fdad32,#feba2c,#fdc827)"></i>
<i style="background:linear-gradient(90deg,#6e00a8,#7201a8,#7701a8,#7b02a8,#7e03a8,#8104a7,#8405a7,#8707a6,#8a09a5,#900ea3,#9613a1,#9d189d,#a21e9a,#a82296,#ae2892,#b22b8f,#b52f8c,#bb3488,#c13b82,#c7427c,#cc4977,#d35071,#d8576b,#dd5e66,#e26561,#e87059,#ee7b51,#f3874a,#f79342,#fba03a,#fdac33,#feba2c,#fdc627)"></i>
<i style="background:linear-gradient(90deg,#6e00a8,#7201a8,#7701a8,#7a02a8,#7d03a8,#8004a8,#8405a7,#8707a6,#8a09a5,#900da4,#9613a1,#9d189d,#a21d9a,#a82296,#ad2793,#b12a90,#b42e8d,#bb3488,#c13b82,#c7427c,#cc4977,#d24f71,#d8576b,#dd5e66,#e26561,#e87059,#ee7b51,#f3874a,#f79342,#fb9f3a,#fdac33,#feb92c,#fdc627)"></i>
<i style="background:linear-gradient(90deg,#6e00a8,#7201a8,#7701a8,#7a02a8,#7d03a8,#8004a8,#8305a7,#8606a6,#8909a5,#8f0da4,#9613a1,#9c179e,#a21d9a,#a82296,#ad2793,#b12a90,#b42e8d,#bb3488,#c03a83,#c6417d,#cc4877,#d24f71,#d7566c,#dc5d67,#e26561,#e8705a,#ee7b51,#f3864a,#f79243,#fa9e3b,#fdab33,#feb82c,#fdc527)"></i>
<i style="background:linear-gradient(90deg,#6e00a8,#7100a8,#7601a8,#7a02a8,#7d03a8,#8004a8,#8305a7,#8606a6,#8808a6,#8f0da4,#9612a1,#9c179e,#a21d9a,#a82296,#ad2793,#b12a90,#b42e8d,#ba3388,#c03a83,#c6417d,#cc4778,#d14e72,#d7566c,#dc5d67,#e16462,#e76f5a,#ed7a52,#f3854b,#f79143,#fa9e3b,#fdab33,#feb82c,#fdc527)"></i>
<i style="background:linear-gradient(90deg,#6c00a8,#7100a8,#7501a8,#7a02a8,#7d03a8,#8004a8,#8305a7,#8606a6,#8808a6,#8f0da4,#9511a1,#9c179e,#a21d9a,#a72197,#ac2694,#b02991,#b32c8e,#ba3388,#c03a83,#c5407e,#cc4778,#d14e72,#d6556d,#db5c68,#e16462,#e76f5a,#ed7a52,#f3854b,#f79044,#fa9d3b,#fcaa34,#feb72d,#fdc428)"></i>
<i style="background:linear-gradient(90deg,#6c00a8,#7100a8,#7501a8,#7902a8,#7d03a8,#8004a8,#8305a7,#8606a6,#8808a6,#8f0da4,#9511a1,#9c179e,#a21c9a,#a72197,#ac2694,#b02991,#b32c8e,#b93388,#bf3984,#c5407e,#cb4679,#d14e72,#d6556d,#db5c68,#e06363,#e76e5b,#ed7953,#f2844b,#f79044,#fa9c3c,#fca934,#feb62d,#fdc328)"></i>
<i style="background:linear-gradient(90deg,#6c00a8,#7000a8,#7501a8,#7801a8,#7b02a8,#7f03a8,#8205a7,#8606a6,#8808a6,#8e0ca4,#9511a1,#9b179e,#a11b9b,#a72197,#ac2594,#af2991,#b32c8e,#b83289,#bf3984,#c53f7e,#cb4679,#d04d73,#d5546e,#db5c68,#e06363,#e76e5b,#ed7953,#f2844b,#f79044,#fa9c3c,#fca834,#fdb52e,#fdc228)"></i>
<i style="background:linear-gradient(90deg,#6a00a8,#6f00a8,#7401a8,#7801a8,#7b02a8,#7e03a8,#8104a7,#8505a7,#8808a6,#8e0ca4,#9511a1,#9b169f,#a11b9b,#a72197,#ab2494,#ae2892,#b22b8f,#b83289,#be3884,#c43e7f,#ca457a,#d04d73,#d5546e,#da5b69,#df6263,#e66d5c,#ec7854,#f1834c,#f68f44,#fa9b3d,#fca835,#fdb52e,#fdc229)"></i>
<i style="background:linear-gradient(90deg,#6a00a8,#6f00a8,#7401a8,#7801a8,#7b02a8,#7e03a8,#8104a7,#8405a7,#8707a6,#8e0ca4,#9410a2,#9a169f,#a11b9b,#a72197,#ab2494,#ae2892,#b22b8f,#b8328a,#be3885,#c43e7f,#ca457a,#cf4c74,#d5546e,#da5b69,#df6263,#e66c5c,#ec7754,#f1834c,#f68f44,#fa9b3d,#fca735,#fdb42f,#fdc129)"></i>
<i style="background:linear-gradient(90deg,#6a00a8,#6f00a8,#7401a8,#7801a8,#7b02a8,#7e03a8,#8104a7,#8405a7,#8707a6,#8e0ca4,#9410a2,#9a169f,#a11b9b,#a62098,#aa2395,#ad2793,#b22b8f,#b7318a,#be3885,#c33d80,#ca457a,#cf4c74,#d5536f,#da5a6a,#df6263,#e66c5c,#ec7754,#f1824c,#f68e45,#f99a3e,#fca636,#fdb42f,#fec029)"></i>
<i style="background:linear-gradient(90deg,#6900a8,#6e00a8,#7201a8,#7701a8,#7b02a8,#7e03a8,#8104a7,#8405a7,#8707a6,#8e0ca4,#9410a2,#9a169f,#a01a9c,#a62098,#aa2395,#ad2793,#b12a90,#b7318a,#bd3786,#c33d80,#c9447a,#ce4b75,#d5536f,#da5a6a,#de6164,#e56b5d,#eb7655,#f1814d,#f68d45,#f99a3e,#fca636,#fdb32f,#fec029)"></i>
<i style="background:linear-gradient(90deg,#6900a8,#6e00a8,#7201a8,#7701a8,#7a02a8,#7d03a8,#8104a7,#8405a7,#8707a6,#8d0ba5,#9410a2,#9a169f,#a01a9c,#a62098,#aa2395,#ad2793,#b12a90,#b6308b,#bd3786,#c33d80,#c9447a,#ce4b75,#d45270,#d9596a,#de6164,#e56b5d,#eb7655,#f1814d,#f68d45,#f9993e,#fca537,#fdb22f,#febe2a)"></i>
<i style="background:linear-gradient(90deg,#6900a8,#6e00a8,#7201a8,#7701a8,#7a02a8,#7d03a8,#8004a8,#8305a7,#8606a6,#8d0ba5,#9410a2,#99159f,#a01a9c,#a51f99,#a82296,#ac2694,#b02991,#b6308b,#bd3786,#c23c81,#c8437b,#ce4b75,#d45270,#d9586a,#de6065,#e56a5d,#eb7556,#f0804e,#f58c46,#f9983e,#fca537,#fdb130,#febe2a)"></i>
<i style="background:linear-gradient(90deg,#6800a8,#6d00a8,#7200a8,#7601a8,#7a02a8,#7d03a8,#8004a8,#8305a7,#8606a6,#8d0ba5,#9310a2,#99159f,#a01a9c,#a51f99,#a82296,#ac2694,#b02991,#b6308b,#bc3587,#c23c81,#c8437b,#cd4a76,#d35171,#d9586a,#de5f65,#e56a5d,#eb7556,#f0804e,#f58c46,#f9983e,#fca438,#fdb130,#febd2a)"></i>
<i style="background:linear-gradient(90deg,#6700a8,#6c00a8,#7100a8,#7501a8,#7a02a8,#7d03a8,#8004a8,#8305a7,#8606a6,#8d0ba5,#920fa3,#99159f,#a01a9c,#a41f99,#a82296,#ac2694,#b02991,#b52f8c,#bc3587,#c13b82,#c7427c,#cd4a76,#d35171,#d8576b,#dd5e66,#e4695e,#ea7457,#f0804e,#f58b47,#f9973f,#fca338,#fdb030,#febd2a)"></i>
<i style="background:linear-gradient(90deg,#6700a8,#6c00a8,#7100a8,#7501a8,#7a02a8,#7d03a8,#8004a8,#8305a7,#8606a6,#8c0aa5,#920fa3,#99159f,#9f199d,#a31e9a,#a72197,#ab2494,#ae2892,#b52f8c,#bc3587,#c13b82,#c7427c,#cc4977,#d35071,#d8576b,#dd5e66,#e4695e,#ea7457,#f07f4f,#f58b47,#f9963f,#fba238,#fdaf31,#febc2b)"></i>
<i style="background:linear-gradient(90deg,#6700a8,#6b00a8,#7000a8,#7501a8,#7801a8,#7b02a8,#7f04a8,#8305a7,#8606a6,#8b0aa5,#920fa3,#99159f,#9e199d,#a31e9a,#a72197,#ab2494,#ae2892,#b52f8c,#bb3488,#c13b82,#c7427c,#cc4977,#d24f71,#d7566c,#dd5e66,#e4695e,#ea7357,#f07f4f,#f48a48,#f89540,#fba238,#fdaf31,#febb2b)"></i>
<i style="background:linear-gradient(90deg,#6600a7,#6a00a8,#6f00a8,#7401a8,#7801a8,#7b02a8,#7e03a8,#8104a7,#8506a6,#8b0aa5,#920fa3,#9814a0,#9e199d,#a31e9a,#a72197,#ab2494,#ae2892,#b42e8d,#bb3488,#c03a83,#c6417d,#cc4878,#d24f71,#d7566c,#dc5d67,#e3685f,#e97257,#ef7e50,#f48948,#f89540,#fba238,#fdae32,#feba2c)"></i>
<i style="background:linear-gradient(90deg,#6600a7,#6a00a8,#6f00a8,#7401a8,#7801a8,#7b02a8,#7e03a8,#8104a7,#8405a7,#8b0aa5,#910ea3,#9814a0,#9e199d,#a21d9a,#a62098,#aa2395,#ad2793,#b42e8d,#bb3488,#c03a83,#c6417d,#cc4778,#d14e72,#d6556d,#dc5d67,#e3675f,#e97257,#ef7e50,#f48948,#f89441,#fba139,#fdad32,#feba2c)"></i>
<i style="background:linear-gradient(90deg,#6600a7,#6a00a8,#6f00a8,#7401a8,#7801a8,#7b02a8,#7e03a8,#8104a7,#8405a7,#8b0aa5,#910ea3,#9814a0,#9e199d,#a21d9a,#a62098,#aa2395,#ad2793,#b42d8d,#ba3388,#c03a83,#c5407e,#cc4778,#d14e72,#d6556d,#db5c68,#e26760,#e97158,#ef7d51,#f48849,#f89441,#fba039,#fdac33,#feb92c)"></i>
<i style="background:linear-gradient(90deg,#6500a7,#6900a8,#6e00a8,#7301a8,#7801a8,#7b02a8,#7e03a8,#8104a7,#8405a7,#8a0aa5,#910ea3,#9814a0,#9d189d,#a11c9b,#a51f99,#a92296,#ad2793,#b32c8e,#ba3388,#bf3984,#c5407e,#cb4679,#d04d73,#d6556d,#db5c68,#e26660,#e97158,#ef7c51,#f48849,#f79342,#fb9f3a,#fdac33,#feb82c)"></i>
<i style="background:linear-gradient(90deg,#6400a7,#6900a8,#6e00a8,#7201a8,#7701a8,#7a02a8,#7e03a8,#8104a7,#8405a7,#8a09a5,#910ea3,#9714a0,#9d189d,#a11b9b,#a51f99,#a82296,#ac2694,#b32c8e,#b93289,#bf3984,#c53f7e,#cb4679,#d04d73,#d5546e,#da5b69,#e26561,#e87058,#ee7c51,#f3874a,#f79342,#fb9f3a,#fdab33,#feb82c)"></i>
<i style="background:linear-gradient(90deg,#6400a7,#6900a8,#6e00a8,#7201a8,#7701a8,#7a02a8,#7d03a8,#8004a8,#8305a7,#8a09a5,#910ea3,#9613a1,#9d189d,#a11b9b,#a51f99,#a82296,#ac2694,#b22b8f,#b83289,#bf3984,#c43e7f,#ca457a,#d04d73,#d5546e,#da5b69,#e26561,#e87059,#ee7b51,#f3874a,#f79242,#fa9e3b,#fdab33,#feb72d)"></i>
<i style="background:linear-gradient(90deg,#6400a7,#6800a8,#6d00a8,#7201a8,#7601a8,#7a02a8,#7d03a8,#8004a8,#8305a7,#8a09a5,#900da4,#9613a1,#9c179e,#a01a9c,#a31e9a,#a72197,#ab2594,#b22b8f,#b83289,#be3885,#c43e7f,#ca457a,#cf4c74,#d5536f,#da5b69,#e26561,#e87059,#ee7b51,#f3864b,#f79143,#fa9e3b,#fcaa34,#feb72d)"></i>
<i style="background:linear-gradient(90deg,#6300a7,#6700a8,#6c00a8,#7100a8,#7501a8,#7a02a8,#7d03a8,#8004a8,#8305a7,#8a09a5,#8f0da4,#9613a1,#9c179e,#a01a9c,#a31e9a,#a72197,#ab2494,#b22b8f,#b7318a,#be3885,#c33d80,#c9447a,#cf4c74,#d5536f,#da5a6a,#e16462,#e76f5a,#ed7a52,#f3854b,#f79143,#fa9d3c,#fca934,#fdb52e)"></i>
<i style="background:linear-gradient(90deg,#6300a7,#6700a8,#6c00a8,#7100a8,#7501a8,#7902a8,#7d03a8,#8004a8,#8305a7,#8908a6,#8f0da4,#9613a1,#9b179e,#a01a9c,#a31e9a,#a72197,#ab2494,#b12a90,#b7318a,#bd3786,#c33d80,#c9447a,#ce4b75,#d45270,#da5a6a,#e16462,#e76f5a,#ed7a52,#f2844b,#f79044,#fa9c3c,#fca834,#fdb52e)"></i>
<i style="background:linear-gradient(90deg,#6300a7,#6600a8,#6b00a8,#7100a8,#7501a8,#7801a8,#7c02a8,#7f04a8,#8305a7,#8808a6,#8f0da4,#9612a1,#9a169f,#9e199d,#a21d9a,#a62098,#aa2395,#b12a90,#b7318a,#bd3786,#c33d80,#c9447a,#ce4b75,#d45270,#d9596a,#e06363,#e76e5b,#ed7953,#f2844b,#f79044,#fa9b3d,#fca835,#fdb42f)"></i>
<i style="background:linear-gradient(90deg,#6100a7,#6600a7,#6a00a8,#6f00a8,#7401a8,#7801a8,#7b02a8,#7e03a8,#8204a7,#8808a6,#8f0da4,#9511a1,#9a169f,#9e199d,#a21d9a,#a62098,#aa2395,#b12a90,#b6308b,#bd3786,#c23c81,#c8437b,#cd4a76,#d45270,#d9586a,#e06363,#e76e5b,#ed7953,#f2844c,#f68f44,#fa9b3d,#fca735,#fdb42f)"></i>
<i style="background:linear-gradient(90deg,#6100a7,#6600a7,#6a00a8,#6f00a8,#7401a8,#7801a8,#7b02a8,#7e03a8,#8104a7,#8808a6,#8e0ca4,#9511a1,#99159f,#9e199d,#a21c9a,#a62098,#aa2395,#b02991,#b6308b,#bc3687,#c23c81,#c8437b,#cd4a76,#d35171,#d8586a,#e06263,#e66d5c,#ec7854,#f1834c,#f68f44,#f99a3e,#fca636,#fdb32f)"></i>
<i style="background:linear-gradient(90deg,#6100a7,#6600a7,#6a00a8,#6f00a8,#7401a8,#7801a8,#7b02a8,#7e03a8,#8104a7,#8808a6,#8e0ca4,#9511a1,#99159f,#9d189d,#a11b9b,#a51f99,#a82296,#b02991,#b6308b,#bc3587,#c23c81,#c7427c,#cd4a76,#d35171,#d8576b,#df6263,#e66c5c,#ec7754,#f1824c,#f68e45,#f99a3e,#fca636,#fdb22f)"></i>
<i style="background:linear-gradient(90deg,#6000a6,#6400a7,#6900a8,#6e00a8,#7301a8,#7801a8,#7b02a8,#7e03a8,#8104a7,#8707a6,#8e0ca4,#9511a1,#99159f,#9d189d,#a11b9b,#a51f99,#a82296,#af2991,#b52f8c,#bc3587,#c13b82,#c7427c,#cc4977,#d25071,#d8576b,#df6263,#e66c5c,#ec7754,#f1814d,#f68d45,#f9993e,#fca537,#fdb22f)"></i>
<i style="background:linear-gradient(90deg,#6001a6,#6400a7,#6900a8,#6e00a8,#7201a8,#7701a8,#7a02a8,#7e03a8,#8104a7,#8707a6,#8e0ca4,#9410a2,#9814a0,#9c179e,#a01a9c,#a41e9a,#a82296,#ae2892,#b52f8c,#bb3488,#c13b82,#c7427c,#cc4977,#d24f71,#d7566c,#de6164,#e56b5d,#eb7655,#f1814d,#f58c46,#f9983e,#fca537,#fdb130)"></i>
<i style="background:linear-gradient(90deg,#6001a6,#6400a7,#6900a8,#6e00a8,#7201a8,#7701a8,#7a02a8,#7d03a8,#8004a8,#8707a6,#8e0ca4,#9410a2,#9814a0,#9c179e,#a01a9c,#a31e9a,#a72197,#ae2892,#b42e8d,#bb3488,#c13b82,#c6417d,#cc4878,#d24e72,#d7566c,#de6164,#e56b5d,#eb7655,#f0804e,#f58c46,#f9983e,#fca438,#fdb030)"></i>
<i style="background:linear-gradient(90deg,#6001a6,#6300a7,#6800a8,#6e00a8,#7201a8,#7701a8,#7a02a8,#7d03a8,#8004a8,#8707a6,#8d0ba5,#9410a2,#9814a0,#9c179e,#a01a9c,#a31e9a,#a72197,#ad2793,#b42e8d,#bb3488,#c03a83,#c6417d,#cc4778,#d14e72,#d6556d,#de6065,#e56a5d,#eb7556,#f0804e,#f58c46,#f9973f,#fca338,#fdaf31)"></i>
<i style="background:linear-gradient(90deg,#5e01a6,#6300a7,#6700a8,#6c00a8,#7100a8,#7501a8,#7a02a8,#7d03a8,#8004a8,#8707a6,#8d0ba5,#920fa3,#9613a1,#9b169f,#9f199d,#a21d9a,#a72197,#ad2793,#b42e8d,#ba3388,#c03a83,#c6417d,#cc4778,#d14e72,#d6556d,#de5f65,#e56a5d,#eb7556,#f07f4f,#f58b47,#f9973f,#fca238,#fdaf31)"></i>
<i style="background:linear-gradient(90deg,#5e01a6,#6300a7,#6700a8,#6c00a8,#7100a8,#7501a8,#7a02a8,#7d03a8,#8004a8,#8606a6,#8d0ba5,#920fa3,#9613a1,#9a169f,#9e199d,#a21d9a,#a62098,#ad2793,#b32d8e,#ba3388,#c03a83,#c5407e,#cb4679,#d04d73,#d6556d,#de5f65,#e56a5d,#ea7456,#f07f4f,#f58a47,#f89640,#fba238,#fdae32)"></i>
<i style="background:linear-gradient(90deg,#5e01a6,#6200a7,#6700a8,#6c00a8,#7100a8,#7501a8,#7901a8,#7c03a8,#8004a8,#8606a6,#8d0ba5,#920fa3,#9613a1,#9a169f,#9e199d,#a21d9a,#a62098,#ac2694,#b32c8e,#b93388,#bf3984,#c5407e,#cb4679,#d04d73,#d5546e,#dd5e66,#e4695e,#ea7457,#f07e50,#f48948,#f89540,#fba238,#fdae32)"></i>
<i style="background:linear-gradient(90deg,#5c01a6,#6100a7,#6600a7,#6b00a8,#7000a8,#7401a8,#7801a8,#7b02a8,#7f03a8,#8606a6,#8c0ba5,#910ea3,#9511a1,#99159f,#9d189d,#a11c9b,#a62098,#ac2694,#b32c8e,#b83289,#bf3984,#c43f7f,#ca457a,#cf4c74,#d5546e,#dd5e66,#e4695e,#ea7357,#ef7e50,#f48948,#f89441,#fba139,#fdad33)"></i>
<i style="background:linear-gradient(90deg,#5c01a6,#6100a7,#6600a7,#6a00a8,#6f00a8,#7401a8,#7801a8,#7b02a8,#7e03a8,#8606a6,#8c0aa5,#910ea3,#9511a1,#99159f,#9d189d,#a11b9b,#a51f99,#ac2694,#b22b8f,#b83289,#be3885,#c43e7f,#ca457a,#cf4c74,#d5536f,#dc5d67,#e3685f,#e97257,#ef7d50,#f48849,#f89441,#fba039,#fdac33)"></i>
<i style="background:linear-gradient(90deg,#5c01a6,#6100a7,#6600a7,#6a00a8,#6f00a8,#7401a8,#7801a8,#7b02a8,#7e03a8,#8606a6,#8b0aa5,#900ea3,#9511a1,#99159f,#9d189d,#a11b9b,#a51f99,#ab2494,#b22b8f,#b8328a,#be3885,#c43e7f,#c9447a,#cf4c74,#d5536f,#dc5d67,#e3685f,#e97257,#ef7c51,#f48849,#f89441,#fb9f3a,#fdac33)"></i>
<i style="background:linear-gradient(90deg,#5c01a6,#6001a6,#6500a7,#6a00a8,#6f00a8,#7301a8,#7801a8,#7b02a8,#7e03a8,#8505a7,#8b0aa5,#8f0da4,#9410a2,#9814a0,#9c179e,#a01a9c,#a41e9a,#ab2494,#b22b8f,#b7318a,#be3885,#c33d80,#c9447a,#ce4b75,#d45270,#dc5c68,#e26760,#e97158,#ef7c51,#f3874a,#f79342,#fb9f3a,#fdab33)"></i>
<i style="background:linear-gradient(90deg,#5b01a5,#6001a6,#6400a7,#6900a8,#6e00a8,#7201a8,#7701a8,#7b02a8,#7e03a8,#8405a7,#8b0aa5,#8f0da4,#9410a2,#9814a0,#9c179e,#a01a9c,#a31e9a,#ab2494,#b12a90,#b7318a,#bd3786,#c33d80,#c9447a,#ce4b75,#d45270,#db5c68,#e26660,#e97158,#ee7b51,#f3874a,#f79242,#fa9e3b,#fdaa33)"></i>
<i style="background:linear-gradient(90deg,#5b01a5,#6001a6,#6400a7,#6900a8,#6e00a8,#7201a8,#7701a8,#7a02a8,#7d03a8,#8405a7,#8a09a5,#8e0ca4,#930fa3,#9714a0,#9b179e,#a01a9c,#a31e9a,#aa2395,#b12a90,#b6308b,#bd3786,#c33d80,#c8437b,#cd4a76,#d45270,#db5c68,#e26660,#e87059,#ee7b51,#f3864b,#f79143,#fa9e3b,#fca934)"></i>
<i style="background:linear-gradient(90deg,#5b01a5,#5f01a6,#6400a7,#6900a8,#6e00a8,#7201a8,#7701a8,#7a02a8,#7d03a8,#8405a7,#8a09a5,#8e0ca4,#920fa3,#9613a1,#9a169f,#9e199d,#a21d9a,#aa2395,#b12a90,#b6308b,#bd3786,#c23c81,#c8437b,#cd4a76,#d35171,#da5b69,#e26561,#e87059,#ed7a52,#f3854b,#f79143,#fa9d3c,#fca934)"></i>
<i style="background:linear-gradient(90deg,#5901a5,#5e01a6,#6300a7,#6700a8,#6c00a8,#7100a8,#7601a8,#7a02a8,#7d03a8,#8405a7,#8a09a5,#8e0ca4,#920fa3,#9613a1,#9a169f,#9e199d,#a21d9a,#a92395,#b02991,#b6308b,#bc3587,#c23c81,#c8437b,#cc4a76,#d35171,#da5b69,#e26561,#e76f5a,#ed7a52,#f3854b,#f79044,#fa9c3c,#fca835)"></i>
<i style="background:linear-gradient(90deg,#5901a5,#5e01a6,#6300a7,#6700a8,#6c00a8,#7100a8,#7501a8,#7a02a8,#7d03a8,#8305a7,#8808a6,#8d0ba5,#910ea3,#9512a1,#99159f,#9e199d,#a21c9a,#a82296,#b02991,#b52f8c,#bc3587,#c23c81,#c7427c,#cc4977,#d25071,#da5a6a,#e16462,#e76f5a,#ed7953,#f2844b,#f79044,#fa9c3c,#fca835)"></i>
<i style="background:linear-gradient(90deg,#5901a5,#5e01a6,#6300a7,#6700a8,#6c00a8,#7100a8,#7501a8,#7902a8,#7d03a8,#8305a7,#8808a6,#8d0ba5,#910ea3,#9511a1,#99159f,#9d189d,#a11b9b,#a82296,#af2892,#b52f8c,#bc3587,#c13b82,#c7427c,#cc4877,#d24f71,#da5a6a,#e16462,#e76e5b,#ed7953,#f2844b,#f68f44,#fa9b3d,#fca636)"></i>
<i style="background:linear-gradient(90deg,#5801a4,#5c01a6,#6100a7,#6600a7,#6b00a8,#7000a8,#7501a8,#7801a8,#7b02a8,#8305a7,#8808a6,#8c0ba5,#910ea3,#9511a1,#99159f,#9d189d,#a11b9b,#a72197,#ae2892,#b52f8c,#bb3488,#c13b82,#c6427c,#cc4778,#d24f71,#da596a,#e06363,#e76e5b,#ec7854,#f1834c,#f68f44,#fa9b3d,#fca636)"></i>
<i style="background:linear-gradient(90deg,#5801a4,#5c01a6,#6100a7,#6600a7,#6a00a8,#6f00a8,#7401a8,#7801a8,#7b02a8,#8305a7,#8707a6,#8b0aa5,#8f0da4,#9410a2,#9814a0,#9c179e,#a01a9c,#a72197,#ae2892,#b42e8d,#bb3488,#c03a82,#c6417d,#cc4778,#d14e72,#d9586a,#e06363,#e76d5b,#ec7754,#f1824c,#f68e45,#f99a3e,#fca537)"></i>
<i style="background:linear-gradient(90deg,#5801a4,#5c01a6,#6100a7,#6600a7,#6a00a8,#6f00a8,#7401a8,#7801a8,#7b02a8,#8205a7,#8707a6,#8b0aa5,#8f0da4,#9410a2,#9814a0,#9c179e,#a01a9c,#a72197,#ad2793,#b42e8d,#ba3488,#c03a83,#c6417d,#cb4679,#d14e72,#d9586a,#df6263,#e66c5c,#ec7754,#f1824d,#f68d45,#f9993e,#fca537)"></i>
<i style="background:linear-gradient(90deg,#5801a4,#5b01a5,#6001a6,#6500a7,#6a00a8,#6f00a8,#7401a8,#7801a8,#7b02a8,#8204a7,#8606a6,#8b0aa5,#8f0da4,#9410a2,#9814a0,#9c179e,#a01a9c,#a62098,#ad2793,#b42d8e,#ba3388,#c03a83,#c5407e,#cb4679,#d04d73,#d8576b,#df6263,#e66c5c,#eb7655,#f1814d,#f68c46,#f9983e,#fca438)"></i>
<i style="background:linear-gradient(90deg,#5601a4,#5b01a5,#6001a6,#6400a7,#6900a8,#6e00a8,#7201a8,#7701a8,#7b02a8,#8104a7,#8606a6,#8a09a5,#8e0ca4,#920fa3,#9613a1,#9a169f,#9f199d,#a62098,#ad2793,#b32c8e,#ba3388,#bf3984,#c5407e,#cb4679,#d04d73,#d8576b,#de6164,#e56b5d,#eb7655,#f0804e,#f58c46,#f9983e,#fca338)"></i>
<i style="background:linear-gradient(90deg,#5601a4,#5b01a5,#6001a6,#6400a7,#6900a8,#6e00a8,#7201a8,#7701a8,#7a02a8,#8104a7,#8606a6,#8a09a5,#8e0ca4,#920fa3,#9613a1,#9a169f,#9e199d,#a62098,#ac2694,#b32c8e,#b93289,#bf3984,#c5407e,#ca457a,#cf4c74,#d7566c,#de6164,#e56b5d,#eb7556,#f0804e,#f58c46,#f9973f,#fca338)"></i>
<i style="background:linear-gradient(90deg,#5601a4,#5a01a5,#5f01a6,#6400a7,#6900a8,#6e00a8,#7201a8,#7701a8,#7a02a8,#8004a8,#8405a7,#8908a6,#8d0ba5,#920fa3,#9612a1,#9a169f,#9e199d,#a51f99,#ac2694,#b22b8f,#b83289,#bf3984,#c43e7f,#ca457a,#cf4c74,#d7566c,#de6064,#e56a5d,#eb7556,#f07f4f,#f58b47,#f9973f,#fba238)"></i>
<i style="background:linear-gradient(90deg,#5502a4,#5901a5,#5e01a6,#6300a7,#6700a8,#6c00a8,#7100a8,#7601a8,#7a02a8,#8004a8,#8405a7,#8808a6,#8d0ba5,#910ea3,#9511a1,#99159f,#9d189d,#a51f99,#ac2594,#b22b8f,#b83289,#be3885,#c43e7f,#c9447a,#cf4c74,#d6556d,#de5f65,#e56a5d,#ea7457,#f07f4f,#f58a47,#f89640,#fba238)"></i>
<i style="background:linear-gradient(90deg,#5502a4,#5901a5,#5e01a6,#6300a7,#6700a8,#6c00a8,#7100a8,#7501a8,#7a02a8,#8004a8,#8405a7,#8808a6,#8d0ba5,#910ea3,#9511a1,#99159f,#9d189d,#a41f99,#ab2494,#b22b8f,#b7318a,#be3885,#c43e7f,#c9447a,#ce4b75,#d6556d,#de5f65,#e4695e,#ea7457,#f07e50,#f48948,#f89540,#fba139)"></i>
<i style="background:linear-gradient(90deg,#5502a4,#5901a5,#5e01a6,#6300a7,#6700a8,#6c00a8,#7100a8,#7501a8,#7902a8,#7e03a8,#8305a7,#8707a6,#8c0aa5,#900da4,#9410a2,#99159f,#9d189d,#a31e9a,#ab2494,#b12a90,#b7318a,#be3885,#c33d80,#c9447a,#ce4b75,#d6546e,#dd5e66,#e4695e,#e97357,#ef7e50,#f48948,#f89441,#fba139)"></i>
<i style="background:linear-gradient(90deg,#5402a3,#5801a4,#5c01a6,#6200a7,#6600a8,#6b00a8,#7000a8,#7501a8,#7801a8,#7e03a8,#8305a7,#8707a6,#8b0aa5,#8f0da4,#9410a2,#9814a0,#9c179e,#a31e9a,#aa2395,#b12a90,#b7318a,#bd3786,#c33d80,#c8437b,#cd4a76,#d5546e,#dd5e66,#e3685f,#e97257,#ef7d50,#f48849,#f89441,#fb9f3a)"></i>
<i style="background:linear-gradient(90deg,#5302a3,#5801a4,#5c01a6,#6100a7,#6600a7,#6a00a8,#6f00a8,#7401a8,#7801a8,#7e03a8,#8205a7,#8707a6,#8b0aa5,#8f0da4,#9410a2,#9814a0,#9c179e,#a21d9a,#aa2395,#b12a90,#b6308b,#bd3786,#c33d80,#c8437b,#cd4a76,#d5546e,#dc5d67,#e3685f,#e97158,#ef7c51,#f48849,#f89441,#fb9f3a)"></i>
<i style="background:linear-gradient(90deg,#5302a3,#5801a4,#5c01a6,#6100a7,#6600a7,#6a00a8,#6f00a8,#7401a8,#7801a8,#7d03a8,#8104a7,#8606a6,#8a09a5,#8e0ca4,#920fa3,#9713a1,#9b169e,#a21d9a,#aa2395,#b02991,#b6308b,#bd3686,#c23c81,#c8437b,#cc4977,#d5536f,#dc5d67,#e26760,#e97158,#ef7c51,#f3874a,#f79342,#fa9e3b)"></i>
<i style="background:linear-gradient(90deg,#5202a3,#5701a4,#5b01a5,#6100a7,#6500a7,#6a00a8,#6f00a8,#7401a8,#7801a8,#7d03a8,#8104a7,#8606a6,#8a09a5,#8e0ca4,#920fa3,#9613a1,#9a169f,#a21d9a,#a92296,#b02991,#b6308b,#bc3587,#c23c81,#c7427c,#cc4977,#d5536f,#db5c68,#e26660,#e97158,#ee7b51,#f3874a,#f79242,#fa9e3b)"></i>
<i style="background:linear-gradient(90deg,#5102a3,#5601a4,#5b01a5,#6001a6,#6400a7,#6900a8,#6e00a8,#7301a8,#7701a8,#7c02a8,#8004a8,#8506a6,#8a09a5,#8e0ca4,#920fa3,#9613a1,#9a169f,#a11c9b,#a82296,#af2991,#b52f8c,#bc3587,#c13b82,#c7427c,#cc4877,#d45270,#db5c68,#e26660,#e87059,#ee7b51,#f3864a,#f79243,#fa9d3b)"></i>
<i style="background:linear-gradient(90deg,#5102a3,#5601a4,#5b01a5,#6001a6,#6400a7,#6900a8,#6e00a8,#7201a8,#7701a8,#7b02a8,#8004a8,#8405a7,#8808a6,#8d0ba5,#910ea3,#9512a1,#9a169f,#a11b9b,#a82296,#ae2892,#b52f8c,#bc3488,#c13b82,#c7427c,#cc4878,#d45270,#db5c68,#e26561,#e87059,#ee7a52,#f3864b,#f79143,#fa9c3c)"></i>
<i style="background:linear-gradient(90deg,#5102a3,#5601a4,#5b01a5,#6001a6,#6400a7,#6900a8,#6e00a8,#7201a8,#7701a8,#7b02a8,#8004a8,#8405a7,#8808a6,#8d0ba5,#910ea3,#9511a1,#99159f,#a11b9b,#a72197,#ae2892,#b52f8c,#bb3488,#c13b82,#c6417d,#cc4778,#d45270,#da5b69,#e26561,#e8705a,#ed7a52,#f3854b,#f79143,#fa9c3c)"></i>
<i style="background:linear-gradient(90deg,#5102a3,#5601a4,#5b01a5,#6001a6,#6400a7,#6900a8,#6e00a8,#7201a8,#7501a8,#7b02a8,#7f04a8,#8405a7,#8808a6,#8d0ba5,#910ea3,#9511a1,#99159f,#a01a9c,#a72197,#ae2892,#b42e8d,#bb3488,#c03a82,#c6417d,#cc4778,#d35171,#da5b69,#e26561,#e76f5a,#ed7a52,#f3854b,#f79044,#fa9c3c)"></i>
<i style="background:linear-gradient(90deg,#5102a3,#5502a4,#5a01a5,#5f01a6,#6400a7,#6800a8,#6e00a8,#7201a8,#7501a8,#7a02a8,#7e03a8,#8305a7,#8707a6,#8c0aa5,#900da4,#9410a2,#99159f,#a01a9c,#a72197,#ad2793,#b42e8d,#bb3488,#c03a83,#c6417d,#cc4778,#d35171,#da5b69,#e16462,#e76f5a,#ed7a52,#f2844b,#f79044,#fa9b3d)"></i>
<i style="background:linear-gradient(90deg,#5002a2,#5502a4,#5901a5,#5e01a6,#6300a7,#6700a8,#6d00a8,#7201a8,#7501a8,#7a02a8,#7e03a8,#8305a7,#8707a6,#8b0aa5,#8f0da4,#9410a2,#9814a0,#a01a9c,#a62098,#ad2793,#b42d8d,#ba3388,#c03a83,#c5407e,#cb4679,#d35071,#da5a6a,#e16462,#e76f5a,#ed7953,#f2844b,#f79044,#fa9b3d)"></i>
<i style="background:linear-gradient(90deg,#5002a2,#5502a4,#5901a5,#5e01a6,#6300a7,#6700a8,#6c00a8,#7100a8,#7401a8,#7a02a8,#7e03a8,#8305a7,#8707a6,#8b0aa5,#8f0da4,#9410a2,#9814a0,#9f1a9c,#a62098,#ad2793,#b32c8e,#ba3388,#c03a83,#c5407e,#cb4679,#d25071,#da5a6a,#e16462,#e76e5b,#ed7953,#f2844b,#f68f44,#fa9b3d)"></i>
<i style="background:linear-gradient(90deg,#5002a2,#5502a4,#5901a5,#5e01a6,#6300a7,#6700a8,#6c00a8,#7100a8,#7401a8,#7801a8,#7d03a8,#8104a7,#8606a6,#8a09a5,#8e0ca4,#9310a2,#9714a0,#9e199d,#a62098,#ac2694,#b32c8e,#b93388,#bf3984,#c5407e,#cb4679,#d24f71,#da5a6a,#e06363,#e76e5b,#ed7853,#f1834c,#f68f44,#f99a3e)"></i>
<i style="background:linear-gradient(90deg,#5002a2,#5502a4,#5901a5,#5e01a6,#6300a7,#6700a8,#6c00a8,#7100a8,#7301a8,#7801a8,#7d03a8,#8104a7,#8606a6,#8a09a5,#8e0ca4,#920fa3,#9613a1,#9e199d,#a62098,#ac2694,#b32c8e,#b83289,#bf3984,#c43f7f,#cb4679,#d24f71,#d9596a,#e06363,#e76d5b,#ec7854,#f1834c,#f68e44,#f99a3e)"></i>
<i style="background:linear-gradient(90deg,#5002a2,#5402a3,#5901a5,#5e01a6,#6300a7,#6700a8,#6c00a8,#7100a8,#7201a8,#7801a8,#7d03a8,#8104a7,#8606a6,#8a09a5,#8e0ca4,#920fa3,#9613a1,#9e199d,#a51f99,#ac2694,#b22b8f,#b83289,#bf3984,#c43e7f,#ca457a,#d14e72,#d9586a,#e06363,#e66d5c,#ec7754,#f1824c,#f68e45,#f99a3e)"></i>
<i style="background:linear-gradient(90deg,#4e02a2,#5302a3,#5801a4,#5c01a6,#6200a7,#6600a7,#6b00a8,#7000a8,#7201a8,#7701a8,#7b02a8,#8004a8,#8505a7,#8909a5,#8e0ca4,#920fa3,#9613a1,#9d189d,#a51f99,#ab2594,#b22b8f,#b83289,#be3885,#c43e7f,#ca457a,#d14e72,#d9586a,#e06263,#e66c5c,#ec7754,#f1824d,#f68d45,#f9993e)"></i>
<i style="background:linear-gradient(90deg,#4e02a2,#5302a3,#5801a4,#5c01a6,#6100a7,#6600a7,#6a00a8,#6f00a8,#7100a8,#7701a8,#7b02a8,#8004a8,#8405a7,#8808a6,#8d0ba5,#910ea3,#9511a1,#9d189d,#a41f99,#ab2494,#b22b8f,#b7318a,#be3885,#c43e7f,#ca457a,#d14e72,#d8586a,#df6263,#e66c5c,#eb7655,#f1814d,#f68d45,#f9983e)"></i>
<i style="background:linear-gradient(90deg,#4e02a2,#5302a3,#5801a4,#5c01a6,#6100a7,#6600a7,#6a00a8,#6f00a8,#7100a8,#7601a8,#7b02a8,#8004a8,#8405a7,#8808a6,#8d0ba5,#910ea3,#9511a1,#9d189d,#a31e9a,#ab2494,#b12a90,#b7318a,#be3885,#c33d80,#ca457a,#d14e72,#d8576b,#df6263,#e56b5d,#eb7655,#f1814d,#f58c46,#f9983e)"></i>
<i style="background:linear-gradient(90deg,#4e02a2,#5302a3,#5801a4,#5c01a6,#6100a7,#6600a7,#6a00a8,#6e00a8,#7100a8,#7501a8,#7a02a8,#7f03a8,#8405a7,#8808a6,#8c0ba5,#910ea3,#9511a1,#9c179e,#a31e9a,#aa2395,#b12a90,#b7318a,#bd3786,#c33d80,#c9447a,#d04d73,#d8576b,#df6263,#e56b5d,#eb7655,#f0804e,#f58c46,#f9973f)"></i>
<i style="background:linear-gradient(90deg,#4e02a2,#5202a3,#5801a4,#5c01a6,#6100a7,#6600a7,#6a00a8,#6e00a8,#6f00a8,#7501a8,#7a02a8,#7e03a8,#8305a7,#8707a6,#8b0aa5,#8f0da4,#9410a2,#9c179e,#a31e9a,#aa2395,#b12a90,#b6308b,#bd3786,#c33d80,#c9447a,#d04d73,#d8576b,#de6164,#e56b5d,#eb7556,#f0804e,#f58c46,#f9973f)"></i>
<i style="background:linear-gradient(90deg,#4d02a1,#5102a3,#5601a4,#5b01a5,#6100a7,#6500a7,#6a00a8,#6e00a8,#6f00a8,#7401a8,#7a02a8,#7e03a8,#8305a7,#8707a6,#8b0aa5,#8f0da4,#9410a2,#9c179e,#a21d9a,#aa2395,#b02991,#b6308b,#bd3786,#c33d80,#c9447a,#d04d73,#d7566c,#de6164,#e56a5d,#eb7556,#f0804e,#f58c46,#f9973f)"></i>
<i style="background:linear-gradient(90deg,#4c02a1,#5102a3,#5601a4,#5b01a5,#6001a6,#6400a7,#6900a8,#6c00a8,#6f00a8,#7401a8,#7901a8,#7e03a8,#8205a7,#8707a6,#8b0aa5,#8f0da4,#9410a2,#9a169f,#a21d9a,#a92296,#b02991,#b6308b,#bc3687,#c23c81,#c9447a,#d04d73,#d7566c,#de6064,#e56a5d,#eb7556,#f0804e,#f58b47,#f89640)"></i>
<i style="background:linear-gradient(90deg,#4c02a1,#5102a3,#5601a4,#5b01a5,#6001a6,#6400a7,#6900a8,#6c00a8,#6e00a8,#7401a8,#7801a8,#7d03a8,#8104a7,#8606a6,#8a09a5,#8e0ca4,#930fa3,#9a169f,#a21d9a,#a82296,#b02991,#b52f8c,#bc3587,#c23c81,#c8437b,#cf4c74,#d7566c,#de6065,#e56a5d,#ea7456,#f07f4f,#f58b47,#f89540)"></i>
<i style="background:linear-gradient(90deg,#4c02a1,#5102a3,#5601a4,#5b01a5,#6001a6,#6400a7,#6900a8,#6c00a8,#6e00a8,#7301a8,#7801a8,#7d03a8,#8104a7,#8606a6,#8a09a5,#8e0ca4,#920fa3,#9a169f,#a11c9b,#a82296,#af2892,#b52f8c,#bc3587,#c23c81,#c8437b,#cf4c74,#d6556d,#de5f65,#e46a5e,#ea7457,#f07f4f,#f58a47,#f89540)"></i>
<i style="background:linear-gradient(90deg,#4c02a1,#5102a3,#5601a4,#5b01a5,#6001a6,#6400a7,#6900a8,#6a00a8,#6d00a8,#7201a8,#7801a8,#7c03a8,#8104a7,#8606a6,#8a09a5,#8e0ca4,#920fa3,#99159f,#a11b9b,#a82296,#ae2892,#b52f8c,#bb3488,#c23c81,#c8437b,#cf4c74,#d6556d,#de5f65,#e4695e,#ea7457,#f07f4f,#f48a48,#f89540)"></i>
<i style="background:linear-gradient(90deg,#4c02a1,#5002a2,#5502a4,#5a01a5,#5f01a6,#6400a7,#6800a8,#6a00a8,#6c00a8,#7201a8,#7701a8,#7b02a8,#8004a8,#8405a7,#8808a6,#8d0ba5,#920ea3,#99159f,#a11b9b,#a72197,#ae2892,#b42e8c,#bb3488,#c13b82,#c8437b,#cf4c74,#d6556d,#dd5e66,#e4695e,#ea7357,#ef7e50,#f48948,#f89441)"></i>
<i style="background:linear-gradient(90deg,#4b03a1,#5002a2,#5502a4,#5901a5,#5e01a6,#6300a7,#6700a8,#6a00a8,#6c00a8,#7100a8,#7701a8,#7b02a8,#8004a8,#8405a7,#8808a6,#8d0ba5,#910ea3,#99159f,#a01a9c,#a72197,#ae2892,#b42e8d,#bb3488,#c13b82,#c7427c,#ce4b75,#d5546e,#dd5e66,#e4685e,#e97257,#ef7e50,#f48948,#f89441)"></i>
<i style="background:linear-gradient(90deg,#4b03a1,#5002a2,#5502a4,#5901a5,#5e01a6,#6300a7,#6700a8,#6900a8,#6b00a8,#7100a8,#7601a8,#7b02a8,#8004a8,#8405a7,#8808a6,#8d0ba5,#910ea3,#9814a0,#a01a9c,#a72197,#ad2793,#b42e8d,#bb3488,#c13b82,#c7427c,#ce4b75,#d5546e,#dd5e66,#e3685f,#e97257,#ef7d50,#f48849,#f89441)"></i>
<i style="background:linear-gradient(90deg,#4b03a1,#5002a2,#5502a4,#5901a5,#5e01a6,#6300a7,#6700a8,#6900a8,#6a00a8,#7000a8,#7501a8,#7a02a8,#7e03a8,#8305a7,#8707a6,#8c0aa5,#900ea3,#9814a0,#a01a9c,#a62098,#ad2793,#b42d8d,#ba3388,#c13b82,#c7427c,#ce4b75,#d5546e,#dc5d67,#e3685f,#e97257,#ef7d51,#f48849,#f79342)"></i>
<i style="background:linear-gradient(90deg,#4b03a1,#5002a2,#5502a4,#5901a5,#5e01a6,#6300a7,#6600a7,#6800a8,#6a00a8,#6f00a8,#7501a8,#7a02a8,#7e03a8,#8305a7,#8707a6,#8b0aa5,#8f0da4,#9814a0,#9f199d,#a62098,#ad2793,#b32c8e,#ba3388,#c03a83,#c7427c,#ce4b75,#d5546e,#dc5d67,#e3675f,#e97158,#ef7c51,#f48849,#f79342)"></i>
<i style="background:linear-gradient(90deg,#4b03a1,#4f02a2,#5402a3,#5901a5,#5e01a6,#6300a7,#6600a7,#6700a8,#6900a8,#6f00a8,#7401a8,#7a02a8,#7e03a8,#8305a7,#8707a6,#8b0aa5,#8f0da4,#9714a0,#9e199d,#a62098,#ac2694,#b32c8e,#ba3388,#c03a83,#c6417d,#cd4a76,#d5536f,#dc5d67,#e26760,#e97158,#ef7c51,#f3874a,#f79342)"></i>
<i style="background:linear-gradient(90deg,#4903a0,#4e02a2,#5302a3,#5801a4,#5c01a6,#6200a7,#6500a7,#6700a8,#6900a8,#6f00a8,#7401a8,#7801a8,#7d03a8,#8204a7,#8606a6,#8b0aa5,#8f0da4,#9613a1,#9e199d,#a51f99,#ac2694,#b32c8e,#b93388,#c03a83,#c6417d,#cd4a76,#d5536f,#dc5c68,#e26660,#e97158,#ee7b51,#f3874a,#f79243)"></i>
<i style="background:linear-gradient(90deg,#4903a0,#4e02a2,#5302a3,#5801a4,#5c01a6,#6100a7,#6400a7,#6600a7,#6900a8,#6e00a8,#7401a8,#7801a8,#7d03a8,#8104a7,#8606a6,#8a09a5,#8e0ca4,#9613a1,#9e199d,#a51f99,#ac2694,#b22b8f,#b93289,#c03a84,#c6417d,#cd4a76,#d5536f,#db5c68,#e26660,#e87059,#ee7b51,#f3864a,#f79143)"></i>
<i style="background:linear-gradient(90deg,#4903a0,#4e02a2,#5302a3,#5801a4,#5c01a6,#6100a7,#6400a7,#6600a7,#6700a8,#6e00a8,#7201a8,#7801a8,#7d03a8,#8104a7,#8606a6,#8a09a5,#8e0ca4,#9612a1,#9d189d,#a51f99,#ab2494,#b22b8f,#b83289,#bf3984,#c6417d,#cd4a76,#d5536f,#db5c68,#e26561,#e87059,#ee7b51,#f3864b,#f79143)"></i>
<i style="background:linear-gradient(90deg,#4903a0,#4e02a2,#5302a3,#5801a4,#5c01a6,#6100a7,#6300a7,#6600a7,#6700a8,#6d00a8,#7201a8,#7701a8,#7c02a8,#8104a7,#8506a6,#8909a5,#8e0ca4,#9511a1,#9d189d,#a41e9a,#ab2494,#b22b8f,#b83289,#bf3984,#c5407e,#cc4977,#d45270,#da5c68,#e26561,#e87059,#ed7a52,#f3854b,#f79044)"></i>
<i style="background:linear-gradient(90deg,#4903a0,#4d02a1,#5202a3,#5801a4,#5c01a6,#6100a7,#6300a7,#6400a7,#6700a8,#6c00a8,#7201a8,#7701a8,#7b02a8,#8004a8,#8405a7,#8808a6,#8d0ba5,#9511a1,#9d189d,#a31e9a,#ab2494,#b12a90,#b83289,#bf3984,#c5407e,#cc4977,#d45270,#da5b69,#e26561,#e76f5a,#ed7a52,#f3854b,#f79044)"></i>
<i style="background:linear-gradient(90deg,#48039f,#4c02a1,#5102a3,#5601a4,#5b01a5,#6001a6,#6300a7,#6400a7,#6600a7,#6c00a8,#7100a8,#7701a8,#7b02a8,#8004a8,#8405a7,#8808a6,#8d0ba5,#9511a1,#9c179e,#a31e9a,#aa2395,#b12a90,#b7318a,#be3884,#c5407e,#cc4977,#d45270,#da5b69,#e16462,#e76f5a,#ed7a52,#f2844b,#f79044)"></i>
<i style="background:linear-gradient(90deg,#48039f,#4c02a1,#5102a3,#5601a4,#5b01a5,#6001a6,#6100a7,#6400a7,#6600a7,#6a00a8,#7100a8,#7501a8,#7b02a8,#7f04a8,#8405a7,#8808a6,#8d0ba5,#9410a2,#9c179e,#a21d9a,#aa2395,#b12a90,#b7318a,#be3885,#c53f7e,#cc4877,#d45270,#da5b69,#e16462,#e76f5a,#ed7953,#f2844b,#f68f44)"></i>
<i style="background:linear-gradient(90deg,#48039f,#4c02a1,#5102a3,#5601a4,#5b01a5,#6001a6,#6100a7,#6300a7,#6500a7,#6a00a8,#7000a8,#7501a8,#7a02a8,#7e03a8,#8305a7,#8707a6,#8c0aa5,#9410a2,#9b179e,#a21d9a,#aa2395,#b12a90,#b7318a,#be3885,#c43e7f,#cc4878,#d35171,#da5a6a,#e16462,#e76e5b,#ed7953,#f2844b,#f68f44)"></i>
<i style="background:linear-gradient(90deg,#48039f,#4c02a1,#5102a3,#5601a4,#5b01a5,#5e01a6,#6100a7,#6300a7,#6400a7,#6a00a8,#6f00a8,#7501a8,#7a02a8,#7e03a8,#8305a7,#8707a6,#8b0aa5,#9410a2,#9a169f,#a21d9a,#a92296,#b02991,#b7318a,#be3885,#c43e7f,#cc4778,#d35171,#da5a6a,#e06363,#e76e5b,#ed7953,#f2844c,#f68f44)"></i>
<i style="background:linear-gradient(90deg,#48039f,#4c02a1,#5102a3,#5601a4,#5b01a5,#5e01a6,#6001a6,#6200a7,#6400a7,#6900a8,#6f00a8,#7401a8,#7902a8,#7e03a8,#8305a7,#8707a6,#8b0aa5,#920fa3,#9a169f,#a21c9a,#a82296,#b02991,#b6308b,#be3886,#c43e7f,#cc4778,#d35171,#da5a6a,#e06363,#e76e5b,#ec7854,#f1834c,#f68e44)"></i>
<i style="background:linear-gradient(90deg,#47039f,#4b03a1,#5002a2,#5502a4,#5a01a5,#5d01a6,#6001a6,#6100a7,#6300a7,#6900a8,#6e00a8,#7401a8,#7801a8,#7d03a8,#8104a7,#8606a6,#8a09a5,#920fa3,#9a169f,#a11b9b,#a82296,#b02991,#b6308b,#bd3786,#c43e7f,#cc4778,#d35071,#da596a,#e06363,#e66d5c,#ec7754,#f1834c,#f68d45)"></i>
<i style="background:linear-gradient(90deg,#46039f,#4b03a1,#5002a2,#5502a4,#5901a5,#5c01a6,#5f01a6,#6100a7,#6300a7,#6800a8,#6e00a8,#7301a8,#7801a8,#7d03a8,#8104a7,#8606a6,#8a09a5,#920fa3,#99159f,#a11b9b,#a82296,#af2991,#b6308b,#bd3786,#c33d80,#cb4679,#d25071,#d9596a,#e06263,#e66c5c,#ec7754,#f1824c,#f68d45)"></i>
<i style="background:linear-gradient(90deg,#46039f,#4b03a1,#5002a2,#5502a4,#5901a5,#5c01a6,#5e01a6,#6001a6,#6300a7,#6700a8,#6e00a8,#7201a8,#7801a8,#7d03a8,#8104a7,#8606a6,#8a09a5,#910ea3,#99159f,#a11b9b,#a72197,#af2892,#b6308b,#bd3786,#c33d80,#cb4679,#d24f71,#d9586a,#df6263,#e66c5c,#ec7754,#f1824d,#f68d45)"></i>
<i style="background:linear-gradient(90deg,#46039f,#4b03a1,#5002a2,#5502a4,#5901a5,#5b01a5,#5e01a6,#6001a6,#6100a7,#6700a8,#6c00a8,#7201a8,#7701a8,#7b02a8,#8004a8,#8505a7,#8908a6,#910ea3,#99159f,#a01a9c,#a72197,#ae2892,#b52f8c,#bc3686,#c33d80,#cb4679,#d24f71,#d9586a,#df6263,#e66c5c,#eb7655,#f1814d,#f58c46)"></i>
<i style="background:linear-gradient(90deg,#46039f,#4b03a1,#5002a2,#5502a4,#5901a5,#5b01a5,#5c01a6,#6001a6,#6100a7,#6600a7,#6c00a8,#7100a8,#7701a8,#7b02a8,#8004a8,#8405a7,#8808a6,#910ea3,#9814a0,#a01a9c,#a72197,#ae2892,#b52f8c,#bc3587,#c23c80,#cb4679,#d24f71,#d9586a,#df6263,#e56b5d,#eb7655,#f1814d,#f58c46)"></i>
<i style="background:linear-gradient(90deg,#46039f,#4a03a0,#4f02a2,#5402a4,#5801a4,#5b01a5,#5c01a6,#5e01a6,#6100a7,#6600a7,#6b00a8,#7100a8,#7701a8,#7b02a8,#8004a8,#8405a7,#8808a6,#900da4,#9814a0,#9f1a9c,#a62098,#ae2892,#b52f8c,#bc3587,#c23c81,#ca457a,#d14e72,#d8576b,#de6164,#e56b5d,#eb7655,#f0804e,#f58c46)"></i>
<i style="background:linear-gradient(90deg,#44039e,#4903a0,#4e02a2,#5302a3,#5801a4,#5901a5,#5c01a6,#5e01a6,#6001a6,#6600a7,#6a00a8,#7100a8,#7501a8,#7a02a8,#7f03a8,#8405a7,#8808a6,#8f0da4,#9814a0,#9e199d,#a62098,#ad2793,#b52f8c,#bc3587,#c23c81,#ca457a,#d14e72,#d8576b,#de6164,#e56b5d,#eb7556,#f0804e,#f58b47)"></i>
<i style="background:linear-gradient(90deg,#44039e,#4903a0,#4e02a2,#5302a3,#5801a4,#5901a5,#5b01a5,#5d01a6,#6001a6,#6400a7,#6a00a8,#6f00a8,#7501a8,#7a02a8,#7e03a8,#8305a7,#8707a6,#8f0da4,#9713a1,#9e199d,#a62098,#ad2793,#b42e8d,#bc3488,#c23c81,#ca457a,#d14e72,#d8576b,#de6164,#e56a5d,#eb7556,#f0804e,#f58b47)"></i>
<i style="background:linear-gradient(90deg,#44039e,#4903a0,#4e02a2,#5302a3,#5601a4,#5901a5,#5b01a5,#5c01a6,#5f01a6,#6400a7,#6900a8,#6f00a8,#7501a8,#7a02a8,#7e03a8,#8305a7,#8707a6,#8f0da4,#9613a1,#9e199d,#a62098,#ad2793,#b42e8d,#bb3488,#c23c82,#ca457a,#d14e72,#d8576b,#de6064,#e56a5d,#eb7556,#f07f4f,#f58b47)"></i>
<i style="background:linear-gradient(90deg,#44039e,#4903a0,#4e02a2,#5302a3,#5601a4,#5801a4,#5a01a5,#5c01a6,#5e01a6,#6400a7,#6900a8,#6f00a8,#7401a8,#7902a8,#7d03a8,#8205a7,#8707a6,#8e0ca4,#9613a1,#9d189d,#a51f99,#ad2793,#b42e8d,#bb3488,#c13b82,#c9447a,#d04d73,#d7566c,#de6065,#e56a5d,#ea7457,#f07f4f,#f48a48)"></i>
<i style="background:linear-gradient(90deg,#44039e,#48039f,#4d02a2,#5202a3,#5601a4,#5801a4,#5901a5,#5c01a6,#5e01a6,#6300a7,#6900a8,#6e00a8,#7401a8,#7801a8,#7d03a8,#8104a7,#8606a6,#8e0ca4,#9612a1,#9d189d,#a51f99,#ac2694,#b42d8d,#bb3488,#c13b82,#c9447a,#d04d73,#d7566c,#de5f65,#e4695e,#ea7457,#f07f4f,#f48948)"></i>
<i style="background:linear-gradient(90deg,#43039e,#48039f,#4c02a1,#5102a3,#5502a4,#5701a4,#5901a5,#5b01a5,#5d01a6,#6300a7,#6800a8,#6e00a8,#7301a8,#7801a8,#7d03a8,#8104a7,#8606a6,#8e0ca4,#9511a1,#9d189d,#a51f99,#ac2694,#b32d8e,#ba3488,#c13b82,#c9447a,#d04d73,#d7566c,#de5f65,#e4695e,#ea7357,#ef7e50,#f48948)"></i>
<i style="background:linear-gradient(90deg,#43039e,#48039f,#4c02a1,#5102a3,#5502a4,#5601a4,#5801a4,#5b01a5,#5c01a6,#6200a7,#6700a8,#6d00a8,#7201a8,#7801a8,#7c03a8,#8104a7,#8606a6,#8d0ba5,#9511a1,#9c179e,#a41f99,#ac2694,#b32c8e,#ba3388,#c03a82,#c9447a,#d04d73,#d7566c,#de5e66,#e4695e,#e97357,#ef7e50,#f48849)"></i>
<i style="background:linear-gradient(90deg,#43039e,#48039f,#4c02a1,#5102a3,#5402a4,#5601a4,#5801a4,#5a01a5,#5c01a6,#6100a7,#6700a8,#6c00a8,#7201a8,#7701a8,#7b02a8,#8004a8,#8405a7,#8d0ba5,#9511a1,#9c179e,#a31e9a,#ac2594,#b32c8e,#ba3388,#c03a83,#c8437b,#cf4c74,#d6556d,#dd5e66,#e3685f,#e97257,#ef7e50,#f48849)"></i>
<i style="background:linear-gradient(90deg,#43039e,#48039f,#4c02a1,#5102a3,#5302a3,#5502a4,#5801a4,#5901a5,#5b01a5,#6100a7,#6600a7,#6c00a8,#7100a8,#7701a8,#7b02a8,#8004a8,#8405a7,#8c0ba5,#9410a2,#9c179e,#a31e9a,#ab2494,#b32c8e,#ba3388,#c03a83,#c8437b,#cf4c74,#d6556d,#dd5e66,#e3685f,#e97257,#ef7d50,#f48849)"></i>
<i style="background:linear-gradient(90deg,#43039e,#47039f,#4c02a1,#5102a3,#5302a3,#5502a4,#5601a4,#5901a5,#5b01a5,#6001a6,#6600a7,#6b00a8,#7100a8,#7601a8,#7b02a8,#8004a8,#8405a7,#8b0aa5,#9410a2,#9b169e,#a31e9a,#ab2494,#b22b8f,#b93288,#c03a83,#c8437b,#cf4c74,#d6556d,#dd5e66,#e3685f,#e97258,#ef7c51,#f4884a)"></i>
<i style="background:linear-gradient(90deg,#42049d,#46039f,#4b03a1,#5002a2,#5202a3,#5502a4,#5601a4,#5801a4,#5b01a5,#6001a6,#6500a7,#6a00a8,#7100a8,#7501a8,#7a02a8,#7e03a8,#8305a7,#8b0aa5,#9310a2,#9a169f,#a21e9a,#ab2494,#b22b8f,#b83289,#c03a84,#c8437b,#cf4c74,#d6556d,#dc5e66,#e3675f,#e97158,#ef7c51,#f3874a)"></i>
<i style="background:linear-gradient(90deg,#41049d,#46039f,#4b03a1,#5002a2,#5102a3,#5302a3,#5601a4,#5801a4,#5901a5,#6001a6,#6400a7,#6a00a8,#6f00a8,#7501a8,#7a02a8,#7e03a8,#8305a7,#8b0aa5,#920fa3,#9a169f,#a21d9a,#ab2494,#b22b8f,#b83289,#bf3984,#c7427c,#ce4b75,#d5546e,#dc5d67,#e26760,#e97158,#ee7c51,#f3874a)"></i>
<i style="background:linear-gradient(90deg,#41049d,#46039f,#4b03a1,#4f02a2,#5102a3,#5302a3,#5502a4,#5801a4,#5901a5,#5e01a6,#6400a7,#6900a8,#6f00a8,#7401a8,#7a02a8,#7e03a8,#8305a7,#8a09a5,#920fa3,#9a169f,#a21d9a,#aa2395,#b22b8f,#b83289,#bf3984,#c7427c,#ce4b75,#d5546e,#dc5d67,#e26660,#e87058,#ee7b51,#f3864a)"></i>
<i style="background:linear-gradient(90deg,#41049d,#46039f,#4b03a1,#4e02a2,#5002a2,#5302a3,#5502a4,#5601a4,#5901a5,#5e01a6,#6400a7,#6900a8,#6f00a8,#7401a8,#7801a8,#7d03a8,#8204a7,#8a09a5,#920fa3,#9a169f,#a21d9a,#aa2395,#b12a90,#b7318a,#bf3984,#c7427c,#ce4b75,#d5546e,#dc5d67,#e26660,#e87059,#ee7b51,#f3854b)"></i>
<i style="background:linear-gradient(90deg,#41049d,#46039f,#4b03a1,#4e02a2,#5002a2,#5102a3,#5402a4,#5601a4,#5801a4,#5e01a6,#6300a7,#6900a8,#6e00a8,#7401a8,#7801a8,#7d03a8,#8104a7,#8a09a5,#910ea3,#99159f,#a21c9a,#aa2395,#b12a90,#b7318a,#be3884,#c7427c,#ce4b75,#d5546e,#dc5c68,#e26660,#e87059,#ee7b51,#f3854b)"></i>
<i style="background:linear-gradient(90deg,#40049d,#44039e,#4a03a0,#4c02a1,#5002a2,#5102a3,#5302a3,#5602a4,#5801a4,#5c01a6,#6300a7,#6700a8,#6e00a8,#7201a8,#7801a8,#7d03a8,#8104a7,#8908a6,#910ea3,#99159f,#a11b9b,#a92395,#b12a90,#b7318a,#be3885,#c6417d,#cd4a76,#d5536f,#db5c68,#e26561,#e87059,#ed7a52,#f3854b)"></i>
<i style="background:linear-gradient(90deg,#3f049c,#44039e,#4903a0,#4c02a1,#4e02a2,#5102a3,#5302a3,#5502a4,#5701a4,#5c01a6,#6200a7,#6700a8,#6d00a8,#7201a8,#7701a8,#7c02a8,#8004a8,#8808a6,#910ea3,#99159f,#a11b9b,#a82296,#b12a90,#b7318a,#be3885,#c6417d,#cd4a76,#d5536f,#db5c68,#e26561,#e76f5a,#ed7a52,#f2844b)"></i>
<i style="background:linear-gradient(90deg,#3f049c,#44039e,#4903a0,#4c02a1,#4e02a2,#5002a2,#5202a3,#5502a4,#5601a4,#5c01a6,#6100a7,#6700a8,#6c00a8,#7201a8,#7701a8,#7b02a8,#8004a8,#8808a6,#900da4,#9814a0,#a11b9b,#a82296,#b02991,#b6308b,#be3885,#c6417d,#cd4a76,#d5536f,#db5c68,#e26561,#e76f5a,#ed7a52,#f2844b)"></i>
<i style="background:linear-gradient(90deg,#3f049c,#44039e,#4903a0,#4b03a1,#4d02a2,#5002a2,#5102a3,#5402a3,#5601a4,#5b01a5,#6100a7,#6600a7,#6c00a8,#7100a8,#7701a8,#7b02a8,#8004a8,#8707a6,#8f0da4,#9814a0,#a01a9c,#a82296,#b02991,#b6308b,#be3886,#c6407e,#cd4a76,#d5536f,#da5c68,#e26561,#e76f5a,#ed7953,#f2844b)"></i>
<i style="background:linear-gradient(90deg,#3f049c,#44039e,#4903a0,#4b03a1,#4c02a1,#4f02a2,#5102a3,#5302a3,#5502a4,#5b01a5,#6001a6,#6600a7,#6b00a8,#7100a8,#7601a8,#7a02a8,#7f04a8,#8707a6,#8f0da4,#9814a0,#a01a9c,#a82296,#b02991,#b6308b,#bd3786,#c5407e,#cc4977,#d45270,#da5b69,#e16462,#e76e5b,#ed7953,#f1834c)"></i>
<i style="background:linear-gradient(90deg,#3f049c,#43039e,#48039f,#4a03a1,#4c02a1,#4e02a2,#5002a2,#5302a3,#5502a4,#5a01a5,#6001a6,#6500a7,#6a00a8,#7000a8,#7501a8,#7a02a8,#7e03a8,#8707a6,#8f0da4,#9814a0,#a01a9c,#a72197,#af2991,#b6308b,#bd3786,#c5407e,#cc4977,#d45270,#da5b69,#e16462,#e76e5b,#ed7853,#f1834c)"></i>
<i style="background:linear-gradient(90deg,#3e049c,#43039e,#48039f,#4903a0,#4c02a1,#4e02a2,#5002a2,#5102a3,#5502a4,#5901a5,#5f01a6,#6400a7,#6a00a8,#6f00a8,#7501a8,#7a02a8,#7e03a8,#8707a6,#8e0ca4,#9713a1,#a01a9c,#a72197,#ae2892,#b52f8c,#bd3786,#c5407e,#cc4977,#d45270,#da5b69,#e16462,#e76e5b,#ec7854,#f1834c)"></i>
<i style="background:linear-gradient(90deg,#3e049c,#43039e,#47039f,#4903a0,#4b03a1,#4c02a1,#5002a2,#5102a3,#5302a3,#5901a5,#5e01a6,#6400a7,#6900a8,#6f00a8,#7401a8,#7902a8,#7e03a8,#8606a6,#8e0ca4,#9613a1,#9f1a9c,#a72197,#ae2892,#b52f8c,#bc3686,#c43f7e,#cc4877,#d45270,#da5a6a,#e16462,#e76d5b,#ec7754,#f1824d)"></i>
<i style="background:linear-gradient(90deg,#3e049c,#43039e,#46039f,#48039f,#4b03a1,#4c02a1,#4e02a2,#5102a3,#5302a3,#5801a4,#5e01a6,#6300a7,#6900a8,#6e00a8,#7401a8,#7801a8,#7d03a8,#8606a6,#8e0ca4,#9613a1,#9e199d,#a62098,#ae2892,#b52f8c,#bc3587,#c43e7f,#cc4878,#d35171,#da5a6a,#e06363,#e66d5c,#ec7754,#f1814d)"></i>
<i style="background:linear-gradient(90deg,#3e049c,#43039e,#46039f,#48039f,#4a03a0,#4c02a1,#4e02a2,#5002a2,#5202a3,#5801a4,#5d01a6,#6300a7,#6800a8,#6e00a8,#7301a8,#7801a8,#7d03a8,#8506a6,#8e0ca4,#9613a1,#9e199d,#a62098,#ae2892,#b52f8c,#bc3587,#c43e7f,#cc4778,#d35171,#da5a6a,#e06363,#e66c5c,#eb7655,#f1814d)"></i>
<i style="background:linear-gradient(90deg,#3e049c,#42049d,#45039e,#48039f,#4903a0,#4b03a1,#4e02a2,#5002a2,#5102a3,#5801a4,#5c01a6,#6300a7,#6700a8,#6e00a8,#7201a8,#7801a8,#7d03a8,#8405a7,#8d0ba5,#9512a1,#9e199d,#a62098,#ad2793,#b42e8d,#bc3587,#c43e7f,#cc4778,#d35171,#da5a6a,#e06363,#e66c5c,#eb7655,#f0804e)"></i>
<i style="background:linear-gradient(90deg,#3c049b,#41049d,#44039e,#46039f,#4903a0,#4b03a1,#4c02a1,#4f02a2,#5102a3,#5601a4,#5c01a6,#6100a7,#6700a8,#6d00a8,#7201a8,#7701a8,#7b02a8,#8405a7,#8d0ba5,#9511a1,#9e189d,#a62098,#ad2793,#b42e8d,#bb3488,#c43e80,#cc4778,#d35071,#da596a,#e06263,#e66c5c,#eb7655,#f0804e)"></i>
<i style="background:linear-gradient(90deg,#3c049b,#41049d,#44039e,#46039f,#48039f,#4a03a1,#4c02a1,#4e02a2,#5002a2,#5601a4,#5b01a5,#6100a7,#6600a8,#6c00a8,#7200a8,#7701a8,#7b02a8,#8405a7,#8d0ba5,#9511a1,#9d189d,#a62098,#ad2793,#b42e8d,#bb3488,#c33d80,#cb4679,#d25071,#d9586a,#df6263,#e56b5d,#eb7656,#f0804e)"></i>
<i style="background:linear-gradient(90deg,#3c049b,#41049d,#43039e,#46039f,#48039f,#4903a0,#4c02a1,#4e02a2,#5002a2,#5601a4,#5b01a5,#6100a7,#6600a7,#6c00a8,#7100a8,#7701a8,#7b02a8,#8305a7,#8c0ba5,#9511a1,#9d189d,#a51f99,#ad2793,#b42e8d,#bb3488,#c33d80,#cb4679,#d24f71,#d9586a,#df6263,#e56b5d,#eb7556,#f0804e)"></i>
<i style="background:linear-gradient(90deg,#3c049b,#41049d,#43039e,#44039e,#48039f,#4903a0,#4b03a1,#4d02a1,#5002a2,#5502a4,#5b01a5,#6001a6,#6600a7,#6a00a8,#7100a8,#7501a8,#7a02a8,#8305a7,#8c0aa5,#9410a2,#9d189d,#a51f99,#ac2694,#b32d8e,#bb3488,#c33d80,#cb4679,#d24f71,#d9586a,#df6263,#e56b5d,#eb7556,#f07f4f)"></i>
<i style="background:linear-gradient(90deg,#3c049b,#3f049c,#43039e,#44039e,#46039f,#48039f,#4b03a1,#4c02a1,#4e02a2,#5502a4,#5901a5,#6001a6,#6500a7,#6a00a8,#7000a8,#7501a8,#7a02a8,#8305a7,#8b0aa5,#9410a2,#9c189e,#a51f99,#ac2694,#b32c8e,#ba3388,#c23c80,#cb4679,#d24f71,#d8586a,#de6264,#e56b5d,#eb7556,#f07f4f)"></i>
<i style="background:linear-gradient(90deg,#3b049b,#3f049c,#41049d,#44039e,#46039f,#48039f,#4a03a0,#4c02a1,#4e02a2,#5402a4,#5901a5,#5f01a6,#6400a7,#6a00a8,#6f00a8,#7501a8,#7a02a8,#8204a7,#8b0aa5,#9410a2,#9c179e,#a41e9a,#ac2694,#b32c8e,#ba3388,#c23c81,#ca457a,#d14e72,#d8576b,#de6164,#e56a5d,#ea7457,#f07e50)"></i>
<i style="background:linear-gradient(90deg,#3a049a,#3f049c,#41049d,#43039e,#45039e,#48039f,#4903a0,#4b03a1,#4e02a2,#5302a3,#5901a5,#5e01a6,#6400a7,#6900a8,#6f00a8,#7401a8,#7901a8,#8104a7,#8b0aa5,#9410a2,#9c179e,#a31e9a,#ac2594,#b32c8e,#ba3388,#c23c81,#ca457a,#d14e72,#d8576b,#de6164,#e56a5d,#ea7457,#ef7e50)"></i>
<i style="background:linear-gradient(90deg,#3a049a,#3e049c,#40049d,#43039e,#44039e,#46039f,#4903a0,#4b03a1,#4c02a1,#5302a3,#5801a4,#5e01a6,#6300a7,#6900a8,#6e00a8,#7401a8,#7801a8,#8104a7,#8a09a5,#930fa3,#9c179e,#a31e9a,#ab2494,#b22b8f,#ba3388,#c23c81,#ca457a,#d14e72,#d8576b,#de6064,#e56a5d,#ea7457,#ef7e50)"></i>
<i style="background:linear-gradient(90deg,#3a049a,#3e049c,#3f049c,#42049d,#44039e,#46039f,#48039f,#4b03a1,#4c02a1,#5202a3,#5801a4,#5d01a6,#6300a7,#6800a8,#6e00a8,#7301a8,#7801a8,#8104a7,#8a09a5,#920fa3,#9b169e,#a31e9a,#ab2494,#b22b8f,#b93289,#c23c82,#ca457a,#d14e72,#d7566c,#de6064,#e56a5d,#ea7357,#ef7d50)"></i>
<i style="background:linear-gradient(90deg,#3a049a,#3d049c,#3f049c,#41049d,#43039e,#46039f,#48039f,#4903a0,#4c02a1,#5102a3,#5701a4,#5c01a6,#6200a7,#6700a8,#6d00a8,#7201a8,#7801a8,#8004a8,#8a09a5,#920fa3,#9a169f,#a21e9a,#ab2494,#b22b8f,#b83289,#c13b82,#c9447a,#d04d73,#d7566c,#de6065,#e4695e,#e97357,#ef7c51)"></i>
<i style="background:linear-gradient(90deg,#3a049a,#3c049b,#3e049c,#41049d,#43039e,#44039e,#48039f,#4903a0,#4b03a1,#5102a3,#5601a4,#5c01a6,#6100a7,#6700a8,#6c00a8,#7201a8,#7701a8,#8004a8,#8909a5,#920fa3,#9a169f,#a21d9a,#aa2494,#b22b8f,#b83289,#c13b82,#c9447a,#d04d73,#d7566c,#de5f65,#e4695e,#e97257,#ef7c51)"></i>
<i style="background:linear-gradient(90deg,#38049a,#3c049b,#3e049c,#40049c,#43039e,#44039e,#46039f,#4903a0,#4b03a1,#5002a2,#5601a4,#5b01a5,#6100a7,#6600a7,#6c00a8,#7100a8,#7701a8,#8004a8,#8808a6,#910ea3,#9a169f,#a21d9a,#aa2395,#b12a90,#b83289,#c13b82,#c9447a,#d04d73,#d7566c,#de5f65,#e4695e,#e97257,#ef7c51)"></i>
<i style="background:linear-gradient(90deg,#38049a,#3b049a,#3e049c,#3f049c,#41049d,#44039e,#46039f,#48039f,#4a03a0,#5002a2,#5502a4,#5b01a5,#6000a6,#6600a7,#6b00a8,#7100a8,#7601a8,#8004a8,#8808a6,#910ea3,#99159f,#a21d9a,#aa2395,#b12a90,#b7318a,#c03a82,#c8447a,#d04d73,#d6556d,#de5e66,#e4695e,#e97257,#ee7b51)"></i>
<i style="background:linear-gradient(90deg,#38049a,#3a049a,#3c049b,#3f049c,#41049d,#43039e,#45039e,#48039f,#4903a0,#4f02a2,#5502a4,#5a01a5,#6001a6,#6600a7,#6a00a8,#7100a8,#7501a8,#7f04a8,#8808a6,#910ea3,#99159f,#a21c9a,#aa2395,#b12a90,#b7318a,#c03a83,#c8437b,#cf4c74,#d6556d,#dd5e66,#e3685f,#e97158,#ee7b51)"></i>
<i style="background:linear-gradient(90deg,#38049a,#3a049a,#3c049b,#3e049c,#40049d,#43039e,#44039e,#47039f,#4903a0,#4e02a2,#5502a4,#5901a5,#6001a6,#6400a7,#6a00a8,#6f00a8,#7501a8,#7f04a8,#8808a6,#910ea3,#99159f,#a21c9a,#aa2395,#b12a90,#b7318a,#c03a83,#c8437b,#cf4c74,#d6556d,#dd5e66,#e3685f,#e97158,#ee7b51)"></i>
<i style="background:linear-gradient(90deg,#370499,#38049a,#3c049b,#3e049c,#3f049c,#42049e,#44039e,#46039f,#48039f,#4e02a2,#5302a3,#5901a5,#5f01a6,#6400a7,#6900a8,#6f00a8,#7501a8,#7f04a8,#8808a6,#910ea3,#99159f,#a21c9a,#aa2395,#b12a90,#b7318a,#c03a83,#c8437b,#cf4c74,#d6556d,#dd5e66,#e3685f,#e97158,#ee7b51)"></i>
<i style="background:linear-gradient(90deg,#370499,#38049a,#3a049a,#3e049c,#3f049c,#41049d,#43039e,#46039f,#48039f,#4d02a2,#5302a3,#5801a4,#5e01a6,#6400a7,#6900a8,#6f00a8,#7401a8,#7f04a8,#8808a6,#910ea3,#99159f,#a21c9a,#aa2395,#b12a90,#b7318a,#c03a83,#c8437b,#cf4c74,#d6556d,#dd5e66,#e3685f,#e97158,#ee7b51)"></i>
<i style="background:linear-gradient(90deg,#370499,#38049a,#3a049a,#3c049b,#3e049c,#41049d,#43039e,#44039e,#48039f,#4c02a1,#5202a3,#5801a4,#5e01a6,#6300a7,#6900a8,#6e00a8,#7401a8,#7f04a8,#8808a6,#910ea3,#99159f,#a21c9a,#aa2395,#b12a90,#b7318a,#c03a83,#c8437b,#cf4c74,#d6556d,#dd5e66,#e3685f,#e97158,#ee7b51)"></i>
<i style="background:linear-gradient(90deg,#370499,#370499,#39049a,#3c049b,#3e049c,#40049c,#43039e,#44039e,#46039f,#4c02a1,#5102a3,#5801a4,#5c01a6,#6300a7,#6700a8,#6e00a8,#7301a8,#7f04a8,#8808a6,#910ea3,#99159f,#a21c9a,#aa2395,#b12a90,#b7318a,#c03a83,#c8437b,#cf4c74,#d6556d,#dd5e66,#e3685f,#e97158,#ef7c51)"></i>
<i style="background:linear-gradient(90deg,#350498,#370499,#38049a,#3b049a,#3e049c,#3f049c,#41049d,#44039e,#46039f,#4b03a1,#5102a3,#5701a4,#5c01a6,#6200a7,#6700a8,#6d00a8,#7201a8,#7f04a8,#8808a6,#910ea3,#99159f,#a21c9a,#aa2395,#b12a90,#b7318a,#c03a83,#c8437b,#cf4c74,#d6556d,#dd5e66,#e3685f,#e97158,#ef7c51)"></i>
<i style="background:linear-gradient(90deg,#350498,#360499,#38049a,#3a049a,#3d049b,#3f049c,#41049d,#43039e,#45039f,#4b03a1,#5002a2,#5601a4,#5c01a6,#6100a7,#6700a8,#6c00a8,#7201a8,#7f04a8,#8808a6,#910ea3,#99159f,#a21c9a,#aa2395,#b12a90,#b7318a,#c03a83,#c8437b,#cf4c74,#d6556d,#dd5e66,#e3685f,#e97158,#ef7c51)"></i>
<i style="background:linear-gradient(90deg,#350498,#350498,#370499,#3a049a,#3c049b,#3e049c,#41049d,#43039e,#44039e,#4b03a1,#5002a2,#5601a4,#5b01a5,#6100a7,#6600a7,#6c00a8,#7201a8,#7f04a8,#8808a6,#910ea3,#99159f,#a21c9a,#aa2395,#b12a90,#b7318a,#c03a83,#c8437b,#cf4c74,#d6556d,#dd5e66,#e3685f,#e97158,#ef7c51)"></i>
<i style="background:linear-gradient(90deg,#350498,#350498,#370499,#38049a,#3c049b,#3e049c,#3f049c,#42039e,#44039e,#4903a0,#5002a2,#5502a4,#5b01a5,#6001a6,#6600a7,#6b00a8,#7100a8,#7f04a8,#8808a6,#910ea3,#99159f,#a21c9a,#aa2395,#b12a90,#b7318a,#c03a83,#c8437b,#cf4c74,#d6556d,#dd5e66,#e3685f,#e97158,#ef7c51)"></i>
<i style="background:linear-gradient(90deg,#330597,#340498,#370499,#38049a,#3a049a,#3e049c,#3f049c,#41049d,#43039e,#4903a0,#4f02a2,#5502a4,#5a01a5,#6001a6,#6500a7,#6a00a8,#7100a8,#7f04a8,#8808a6,#910ea3,#99159f,#a21c9a,#aa2395,#b12a90,#b7318a,#c03a83,#c8437b,#cf4c74,#d6556d,#dd5e66,#e3685f,#e97158,#ef7c51)"></i>
<i style="background:linear-gradient(90deg,#330597,#330597,#350498,#38049a,#3a049a,#3c049b,#3f049c,#41049d,#43039e,#4903a0,#4e02a2,#5402a4,#5901a5,#6001a6,#6400a7,#6a00a8,#7000a8,#7e03a8,#8808a6,#910ea3,#99159f,#a21c9a,#aa2395,#b12a90,#b7318a,#c03a83,#c8437b,#cf4c74,#d6556d,#dd5e66,#e3685f,#e97257,#ef7c51)"></i>
<i style="background:linear-gradient(90deg,#330597,#330597,#350498,#370499,#3a049a,#3c049b,#3e049c,#40049c,#43039e,#48039f,#4e02a2,#5302a3,#5901a5,#5e01a6,#6400a7,#6900a8,#7000a8,#7e03a8,#8808a6,#910ea3,#99159f,#a21c9a,#aa2395,#b12a90,#b7318a,#c03a83,#c8437b,#cf4c74,#d6556d,#dd5e66,#e3685f,#e97257,#ef7c51)"></i>
<i style="background:linear-gradient(90deg,#330597,#330597,#350498,#370499,#38049a,#3b049a,#3e049c,#3f049c,#41049d,#48039f,#4c02a1,#5302a3,#5801a4,#5e01a6,#6300a7,#6900a8,#6f00a8,#7e03a8,#8808a6,#910ea3,#99159f,#a21c9a,#aa2395,#b12a90,#b7318a,#c03a83,#c8437b,#cf4c74,#d6556d,#dd5e66,#e3685f,#e97257,#ef7c51)"></i>
<i style="background:linear-gradient(90deg,#310597,#320597,#330597,#360499,#38049a,#3a049a,#3d049b,#3f049c,#41049d,#47039f,#4c02a1,#5202a3,#5801a4,#5d01a6,#6300a7,#6900a8,#6f00a8,#7d03a8,#8808a6,#910ea3,#99159f,#a21c9a,#aa2395,#b12a90,#b7318a,#c03a83,#c8437b,#cf4c74,#d6556d,#dd5e66,#e3685f,#e97257,#ef7c51)"></i>
<i style="background:linear-gradient(90deg,#310597,#310597,#330597,#350498,#38049a,#3a049a,#3c049b,#3e049c,#41049d,#46039f,#4c02a1,#5102a3,#5801a4,#5c01a6,#6300a7,#6800a8,#6e00a8,#7d03a8,#8808a6,#910ea3,#99159f,#a21c9a,#aa2395,#b12a90,#b7318a,#c03a83,#c8437b,#cf4c74,#d6556d,#dd5e66,#e3685f,#e97257,#ef7c51)"></i>
<i style="background:linear-gradient(90deg,#310597,#310597,#320597,#350498,#370499,#38049a,#3c049b,#3e049c,#3f049c,#46039f,#4b03a1,#5102a3,#5601a4,#5c01a6,#6100a7,#6700a8,#6e00a8,#7c02a8,#8808a6,#910ea3,#99159f,#a21c9a,#aa2395,#b12a90,#b7318a,#c03a83,#c8437b,#cf4c74,#d6556d,#dd5e66,#e3685f,#e97257,#ef7d51)"></i>
<i style="background:linear-gradient(90deg,#310597,#310597,#310597,#340498,#370499,#38049a,#3a049a,#3e049c,#3f049c,#45039e,#4b03a1,#5002a2,#5601a4,#5c01a6,#6100a7,#6700a8,#6d00a8,#7c02a8,#8808a6,#910ea3,#99159f,#a21c9a,#aa2395,#b12a90,#b7318a,#c03a83,#c8437b,#cf4c74,#d6556d,#dd5e66,#e3685f,#e97257,#ef7d51)"></i>
<i style="background:linear-gradient(90deg,#2f0596,#300596,#310597,#330597,#360498,#38049a,#3a049a,#3c049b,#3f049c,#44039e,#4a03a0,#5002a2,#5601a4,#5b01a5,#6100a7,#6600a7,#6c00a8,#7b02a8,#8808a6,#910ea3,#99159f,#a21c9a,#aa2395,#b12a90,#b7318a,#c03a83,#c8437b,#cf4c74,#d6556d,#dd5e66,#e3685f,#e97257,#ef7d50)"></i>
<i style="background:linear-gradient(90deg,#2f0596,#2f0596,#300596,#330597,#350498,#370499,#3a049a,#3c049b,#3e049c,#44039e,#4903a0,#5002a2,#5502a4,#5b01a5,#6001a6,#6600a7,#6c00a8,#7a02a8,#8808a6,#910ea3,#99159f,#a21c9a,#aa2395,#b12a90,#b7318a,#c03a83,#c8437b,#cf4c74,#d6556d,#dd5e66,#e3685f,#e97257,#ef7d50)"></i>
<i style="background:linear-gradient(90deg,#2f0596,#2f0596,#2f0596,#320597,#350498,#370499,#38049a,#3b049b,#3e049c,#43039e,#4903a0,#4e02a2,#5502a4,#5a01a5,#6001a6,#6600a7,#6b00a8,#7a02a8,#8808a6,#910ea3,#99159f,#a21c9a,#aa2395,#b12a90,#b7318a,#c03a83,#c8437b,#cf4c74,#d6556d,#dd5e66,#e3685f,#e97257,#ef7e50)"></i>
<i style="background:linear-gradient(90deg,#2f0596,#2f0596,#2f0596,#310597,#330597,#370499,#38049a,#3a049a,#3d049b,#43039e,#48039f,#4e02a2,#5402a4,#5901a5,#5f01a6,#6500a7,#6a00a8,#7a02a8,#8808a6,#910ea3,#99159f,#a21c9a,#aa2395,#b12a90,#b7318a,#c03a83,#c8437b,#cf4c74,#d6556d,#dd5e66,#e3685f,#e97357,#ef7e50)"></i>
<i style="background:linear-gradient(90deg,#2e0595,#2e0596,#2f0596,#310597,#330597,#350498,#38049a,#3a049a,#3c049b,#42039e,#48039f,#4e02a2,#5302a3,#5901a5,#5e01a6,#6400a7,#6a00a8,#7902a8,#8707a6,#910ea3,#99159f,#a21c9a,#aa2395,#b12a90,#b7318a,#c03a83,#c8437b,#cf4c74,#d6556d,#dd5e66,#e4695e,#e97357,#ef7e50)"></i>
<i style="background:linear-gradient(90deg,#2e0595,#2e0595,#2e0595,#2f0596,#330597,#350498,#370499,#39049a,#3c049b,#41049d,#48039f,#4c02a1,#5302a3,#5801a4,#5e01a6,#6400a7,#6a00a8,#7801a8,#8707a6,#910ea3,#99159f,#a21c9a,#aa2395,#b12a90,#b7318a,#c03a83,#c8437b,#cf4c74,#d6556d,#dd5e66,#e4695e,#e97357,#ef7e50)"></i>
<i style="background:linear-gradient(90deg,#2e0595,#2e0595,#2e0595,#2f0596,#310597,#340498,#370499,#38049a,#3a049a,#41049d,#46039f,#4c02a1,#5202a3,#5801a4,#5d01a6,#6300a7,#6900a8,#7801a8,#8707a6,#910ea3,#99159f,#a21c9a,#aa2395,#b12a90,#b7318a,#c03a83,#c8437b,#cf4c74,#d6556d,#dd5e66,#e4695e,#ea7357,#ef7e50)"></i>
<i style="background:linear-gradient(90deg,#2e0595,#2e0595,#2e0595,#2f0596,#310597,#330597,#360498,#38049a,#3a049a,#40049c,#46039f,#4c02a1,#5102a3,#5701a4,#5c01a6,#6300a7,#6900a8,#7801a8,#8606a6,#910ea3,#99159f,#a21c9a,#aa2395,#b12a90,#b7318a,#c03a83,#c8437b,#cf4c74,#d6556d,#dd5e66,#e4695e,#ea7357,#ef7e50)"></i>
<i style="background:linear-gradient(90deg,#2c0594,#2d0594,#2e0595,#2e0595,#300597,#330597,#350498,#370499,#3a049a,#3f049c,#46039f,#4b03a1,#5102a3,#5601a4,#5c01a6,#6300a7,#6800a8,#7701a8,#8606a6,#910ea3,#99159f,#a21c9a,#aa2395,#b12a90,#b7318a,#c03a83,#c8437b,#cf4c74,#d6556d,#dd5e66,#e4695e,#ea7457,#ef7e50)"></i>
<i style="background:linear-gradient(90deg,#2c0594,#2c0594,#2c0594,#2e0595,#2f0596,#320597,#350498,#370499,#38049a,#3f049c,#44039e,#4b03a1,#5002a2,#5601a4,#5c01a6,#6200a7,#6800a8,#7701a8,#8506a6,#910ea3,#99159f,#a21c9a,#aa2395,#b12a90,#b7318a,#c03a83,#c8437b,#cf4c74,#d6556d,#dd5e66,#e4695e,#ea7457,#ef7e50)"></i>
<i style="background:linear-gradient(90deg,#2c0594,#2c0594,#2c0594,#2d0595,#2f0596,#310597,#330597,#370499,#38049a,#3e049c,#44039e,#4a03a0,#5002a2,#5601a4,#5b01a5,#6100a7,#6700a8,#7601a8,#8405a7,#910ea3,#99159f,#a21c9a,#aa2395,#b12a90,#b7318a,#c03a83,#c8437b,#cf4c74,#d6556d,#dd5e66,#e4695e,#ea7457,#ef7e50)"></i>
<i style="background:linear-gradient(90deg,#2c0594,#2c0594,#2c0594,#2c0594,#2e0595,#310597,#330597,#350498,#38049a,#3e049c,#44039e,#4903a0,#5002a2,#5502a4,#5b01a5,#6100a7,#6700a8,#7601a8,#8405a7,#910ea3,#99159f,#a21c9a,#aa2395,#b12a90,#b7318a,#c03a83,#c8437b,#cf4c74,#d6556d,#dd5e66,#e4695e,#ea7457,#ef7e50)"></i>
<i style="background:linear-gradient(90deg,#2a0593,#2b0594,#2c0594,#2c0594,#2e0595,#2f0596,#330597,#350498,#370499,#3e049c,#43039e,#4903a0,#4e02a2,#5502a4,#5a01a5,#6001a6,#6600a7,#7501a8,#8405a7,#910ea3,#99159f,#a21c9a,#aa2395,#b12a90,#b7318a,#c03a83,#c8437b,#cf4c74,#d6556d,#dd5e66,#e4695e,#ea7457,#ef7e50)"></i>
<i style="background:linear-gradient(90deg,#2a0593,#2a0593,#2a0593,#2c0594,#2e0595,#2f0596,#310597,#340498,#370499,#3c049b,#43039e,#48039f,#4e02a2,#5402a3,#5901a5,#6001a6,#6600a7,#7501a8,#8305a7,#900ea3,#99159f,#a21c9a,#aa2395,#b12a90,#b7318a,#c03a83,#c8437b,#cf4c74,#d6556d,#dd5e66,#e4695e,#ea7457,#f07f4f)"></i>
<i style="background:linear-gradient(90deg,#2a0593,#2a0593,#2a0593,#2a0593,#2c0594,#2f0596,#310597,#330597,#360498,#3c049b,#42049d,#48039f,#4d02a2,#5302a3,#5901a5,#6001a6,#6600a7,#7401a8,#8305a7,#900da4,#99159f,#a21c9a,#aa2395,#b12a90,#b7318a,#c03a83,#c8437b,#cf4c74,#d6556d,#dd5e66,#e4695e,#ea7457,#f07f4f)"></i>
<i style="background:linear-gradient(90deg,#2a0593,#2a0593,#2a0593,#2a0593,#2c0594,#2e0595,#300597,#330597,#350498,#3c049b,#41049d,#48039f,#4c02a1,#5302a3,#5901a5,#5f01a6,#6500a7,#7401a8,#8205a7,#8f0da4,#99159f,#a21c9a,#aa2395,#b12a90,#b7318a,#c03a83,#c8437b,#cf4c74,#d6556d,#de5f65,#e4695e,#ea7457,#f07f4f)"></i>
<i style="background:linear-gradient(90deg,#280592,#290592,#2a0593,#2a0593,#2c0594,#2e0595,#2f0596,#320597,#350498,#3a049a,#41049d,#46039f,#4c02a1,#5202a3,#5801a4,#5e01a6,#6400a7,#7301a8,#8204a7,#8f0da4,#99159f,#a21c9a,#aa2395,#b12a90,#b7318a,#c03a83,#c8437b,#cf4c74,#d6556d,#de5f65,#e46a5e,#ea7457,#f07f4f)"></i>
<i style="background:linear-gradient(90deg,#280592,#280592,#280592,#2a0593,#2a0593,#2d0595,#2f0596,#310597,#330597,#3a049a,#3f049c,#46039f,#4b03a1,#5102a3,#5801a4,#5e01a6,#6400a7,#7301a8,#8104a7,#8e0ca4,#99159f,#a21c9a,#aa2395,#b12a90,#b7318a,#c03a83,#c8437b,#cf4c74,#d6556d,#de5f65,#e56a5d,#ea7457,#f07f4f)"></i>
<i style="background:linear-gradient(90deg,#280592,#280592,#280592,#280592,#2a0593,#2c0594,#2e0595,#310597,#330597,#39049a,#3f049c,#45039f,#4b03a1,#5102a3,#5701a4,#5d01a6,#6300a7,#7201a8,#8104a7,#8e0ca4,#99159f,#a21c9a,#aa2395,#b12a90,#b7318a,#c03a83,#c8437b,#cf4c74,#d6556d,#de5f65,#e56a5d,#ea7456,#f07f4f)"></i>
<i style="background:linear-gradient(90deg,#280592,#280592,#280592,#280592,#290593,#2c0594,#2e0595,#2f0596,#330597,#38049a,#3f049c,#44039e,#4b03a1,#5002a2,#5601a4,#5c01a6,#6300a7,#7201a8,#8004a8,#8e0ca4,#99159f,#a21c9a,#aa2395,#b12a90,#b7318a,#c03a83,#c8437b,#cf4c74,#d6556d,#de5f65,#e56a5d,#eb7556,#f07f4f)"></i>
<i style="background:linear-gradient(90deg,#260591,#270591,#280592,#280592,#280592,#2b0593,#2e0595,#2f0596,#310597,#38049a,#3e049c,#44039e,#4903a0,#5002a2,#5601a4,#5c01a6,#6300a7,#7100a8,#8004a8,#8d0ba5,#99159f,#a21c9a,#aa2395,#b12a90,#b7318a,#c03a83,#c8437b,#cf4c74,#d6556d,#de5f65,#e56a5d,#eb7556,#f07f4f)"></i>
<i style="background:linear-gradient(90deg,#260591,#260591,#260591,#280592,#280592,#2a0593,#2c0594,#2f0596,#310597,#370499,#3e049c,#43039e,#4903a0,#5002a2,#5601a4,#5b01a5,#6200a7,#7100a8,#7f04a8,#8d0ba5,#99159f,#a21c9a,#aa2395,#b12a90,#b7318a,#c03a83,#c8437b,#cf4c74,#d6556d,#de5f65,#e56a5d,#eb7556,#f07f4f)"></i>
<i style="background:linear-gradient(90deg,#260591,#260591,#260591,#260591,#270591,#2a0593,#2c0594,#2e0595,#300597,#370499,#3d049c,#43039e,#4903a0,#4f02a2,#5502a4,#5b01a5,#6100a7,#7000a8,#7f03a8,#8c0ba5,#99159f,#a21c9a,#aa2395,#b12a90,#b7318a,#c03a83,#c8437b,#cf4c74,#d6556d,#de5f65,#e56a5d,#eb7556,#f07f4f)"></i>
<i style="background:linear-gradient(90deg,#260591,#260591,#260591,#260591,#260591,#280592,#2c0594,#2e0595,#2f0596,#370499,#3c049b,#43039e,#48039f,#4e02a2,#5502a4,#5b01a5,#6100a7,#7000a8,#7e03a8,#8c0aa5,#99159f,#a21c9a,#aa2395,#b12a90,#b7318a,#c03a83,#c8437b,#cf4c74,#d6556d,#de5f65,#e56a5d,#eb7556,#f07f4f)"></i>
<i style="background:linear-gradient(90deg,#240691,#240691,#260591,#260591,#260591,#280592,#2a0593,#2d0595,#2f0596,#350498,#3c049b,#41049d,#48039f,#4e02a2,#5402a4,#5a01a5,#6001a6,#6f00a8,#7e03a8,#8b0aa5,#99159f,#a21c9a,#aa2395,#b12a90,#b7318a,#c03a83,#c8437b,#cf4c74,#d6556d,#de5f65,#e56a5d,#eb7556,#f07f4f)"></i>
<i style="background:linear-gradient(90deg,#240691,#240691,#240691,#250591,#260591,#280592,#2a0593,#2c0594,#2e0596,#350498,#3b049a,#41049d,#48039f,#4d02a2,#5302a3,#5901a5,#6001a6,#6f00a8,#7d03a8,#8b0aa5,#9814a0,#a21c9a,#aa2395,#b12a90,#b7318a,#c03a83,#c8437b,#cf4c74,#d6556d,#de6065,#e56a5d,#eb7556,#f0804e)"></i>
<i style="background:linear-gradient(90deg,#240691,#240691,#240691,#240691,#240691,#260591,#290593,#2c0594,#2e0595,#350498,#3a049a,#41049d,#46039f,#4c02a1,#5302a3,#5901a5,#6001a6,#6e00a8,#7d03a8,#8a09a5,#9814a0,#a21c9a,#aa2395,#b12a90,#b7318a,#c03a83,#c8437b,#cf4c74,#d7566c,#de6065,#e56a5d,#eb7556,#f0804e)"></i>
<i style="background:linear-gradient(90deg,#240691,#240691,#240691,#240691,#240691,#260591,#280592,#2b0593,#2e0595,#330597,#3a049a,#3f049c,#46039f,#4c02a1,#5202a3,#5801a4,#5f01a6,#6e00a8,#7c03a8,#8a09a5,#9714a0,#a21c9a,#aa2395,#b12a90,#b7318a,#c03a83,#c8437b,#cf4c74,#d7566c,#de6064,#e56a5d,#eb7556,#f0804e)"></i>
<i style="background:linear-gradient(90deg,#220690,#220690,#240691,#240691,#240691,#250591,#280592,#2a0593,#2c0594,#330597,#38049a,#3f049c,#46039f,#4c02a1,#5102a3,#5801a4,#5e01a6,#6d00a8,#7c02a8,#8909a5,#9713a1,#a21c9a,#aa2395,#b12a90,#b7318a,#c03a83,#c8437b,#cf4c74,#d7566c,#de6064,#e56a5d,#eb7556,#f0804e)"></i>
<i style="background:linear-gradient(90deg,#220690,#220690,#220690,#230690,#240691,#240691,#270591,#2a0593,#2c0594,#320597,#38049a,#3f049c,#44039e,#4b03a1,#5102a3,#5801a4,#5e01a6,#6d00a8,#7b02a8,#8908a6,#9613a1,#a21c9a,#aa2395,#b12a90,#b7318a,#c03a83,#c8437b,#cf4c74,#d7566c,#de6064,#e56b5d,#eb7556,#f0804e)"></i>
<i style="background:linear-gradient(90deg,#220690,#220690,#220690,#220690,#220690,#240691,#260591,#280592,#2c0594,#310597,#38049a,#3e049c,#44039e,#4b03a1,#5102a3,#5701a4,#5d01a6,#6c00a8,#7b02a8,#8808a6,#9612a1,#a21c9a,#aa2395,#b12a90,#b7318a,#c03a83,#c8437b,#cf4c74,#d7566c,#de6164,#e56b5d,#eb7556,#f0804e)"></i>
<i style="background:linear-gradient(90deg,#220690,#220690,#220690,#220690,#220690,#230690,#260591,#280592,#2a0593,#310597,#370499,#3e049c,#44039e,#4a03a0,#5002a2,#5601a4,#5c01a6,#6b00a8,#7a02a8,#8808a6,#9512a1,#a21c9a,#aa2395,#b12a90,#b7318a,#c03a83,#c8437b,#cf4c74,#d7566c,#de6164,#e56b5d,#eb7655,#f0804e)"></i>
<i style="background:linear-gradient(90deg,#20068f,#20068f,#220690,#220690,#220690,#220690,#240691,#280592,#2a0593,#300596,#370499,#3d049b,#43039e,#4903a0,#5002a2,#5601a4,#5c01a6,#6b00a8,#7a02a8,#8707a6,#9511a1,#a21c9a,#aa2395,#b12a90,#b7318a,#c03a83,#c8437b,#cf4c74,#d7566c,#de6164,#e56b5d,#eb7655,#f0804e)"></i>
<i style="background:linear-gradient(90deg,#20068f,#20068f,#20068f,#210690,#220690,#220690,#240691,#260591,#2a0593,#2f0596,#360499,#3c049b,#43039e,#4903a0,#4f02a2,#5602a4,#5b01a5,#6a00a8,#7902a8,#8707a6,#9511a1,#a11c9b,#aa2395,#b12a90,#b7318a,#c03a83,#c8437b,#cf4c74,#d7566c,#de6164,#e56b5d,#eb7655,#f0804e)"></i>
<i style="background:linear-gradient(90deg,#20068f,#20068f,#20068f,#20068f,#20068f,#220690,#240691,#260591,#280592,#2f0596,#350498,#3c049b,#43039e,#4803a0,#4e02a2,#5502a4,#5b01a5,#6a00a8,#7901a8,#8707a6,#9410a2,#a11b9b,#aa2395,#b12a90,#b7318a,#c03a83,#c8437b,#d04d73,#d7566c,#de6164,#e56b5d,#eb7655,#f0804e)"></i>
<i style="background:linear-gradient(90deg,#1f068f,#20068f,#20068f,#20068f,#20068f,#20068f,#220690,#260591,#280592,#2e0595,#350498,#3b049a,#41049d,#48039f,#4e02a2,#5502a4,#5b01a5,#6900a8,#7801a8,#8606a6,#9410a2,#a11b9b,#aa2395,#b12a90,#b7318a,#c03a83,#c8437b,#d04d73,#d7566c,#de6164,#e56b5d,#eb7655,#f0804e)"></i>
<i style="background:linear-gradient(90deg,#1d068e,#1e068e,#20068f,#20068f,#20068f,#20068f,#220690,#240691,#270592,#2e0595,#340597,#3a049a,#41049d,#48039f,#4e02a2,#5402a4,#5a01a5,#6900a8,#7801a8,#8606a6,#9310a2,#a01a9c,#aa2395,#b12a90,#b7318a,#c03a83,#c8437b,#d04d73,#d7566c,#de6164,#e56b5d,#eb7655,#f0804e)"></i>
<i style="background:linear-gradient(90deg,#1d068e,#1d068e,#1d068e,#1e068e,#20068f,#20068f,#210690,#240691,#260591,#2e0595,#330597,#3a049a,#41049d,#47039f,#4c02a1,#5302a3,#5901a5,#6800a8,#7701a8,#8506a6,#930fa3,#a01a9c,#aa2395,#b12a90,#b7318a,#c03a83,#c8437b,#d04d73,#d7566c,#de6164,#e56b5d,#eb7655,#f0804e)"></i>
<i style="background:linear-gradient(90deg,#1d068e,#1d068e,#1d068e,#1d068e,#1e068e,#1f068f,#20068f,#230690,#260591,#2c0594,#330597,#39049a,#3f049c,#46039f,#4c02a1,#5302a3,#5901a5,#6800a8,#7701a8,#8505a7,#920fa3,#9f1a9c,#aa2395,#b12a90,#b7318a,#c03a83,#c8437b,#d04d73,#d8576b,#de6164,#e56b5d,#eb7655,#f1814d)"></i>
<i style="background:linear-gradient(90deg,#1c068e,#1d068e,#1d068e,#1d068e,#1d068e,#1d068e,#20068f,#220690,#250691,#2c0594,#320597,#38049a,#3f049c,#46039f,#4c02a1,#5202a3,#5801a4,#6700a8,#7601a8,#8405a7,#920fa3,#9f199d,#aa2395,#b12a90,#b7318a,#c03a83,#c8437b,#d04d73,#d8576b,#de6164,#e56b5d,#eb7655,#f1814d)"></i>
<i style="background:linear-gradient(90deg,#1b068d,#1c068d,#1c068e,#1d068e,#1d068e,#1d068e,#1e068e,#220690,#240691,#2b0594,#310597,#38049a,#3f049c,#45039e,#4b03a1,#5102a3,#5801a4,#6700a8,#7601a8,#8405a7,#910ea3,#9e199d,#aa2395,#b12a90,#b7318a,#c03a83,#c8437b,#d04d73,#d8576b,#df6263,#e56b5d,#eb7655,#f1814d)"></i>
<i style="background:linear-gradient(90deg,#1b068d,#1b068d,#1b068d,#1c068e,#1d068e,#1d068e,#1d068e,#20068f,#240691,#2a0593,#310597,#370499,#3e049c,#44039e,#4b03a1,#5102a3,#5801a4,#6600a7,#7501a8,#8305a7,#910ea3,#9e199d,#aa2395,#b12a90,#b7318a,#c03a83,#c8437b,#d04d73,#d8576b,#df6263,#e56b5d,#eb7655,#f1814d)"></i>
<i style="background:linear-gradient(90deg,#1b068d,#1b068d,#1b068d,#1b068d,#1b068d,#1c068e,#1d068e,#20068f,#220690,#2a0593,#2f0596,#370499,#3e049c,#44039e,#4b03a1,#5002a2,#5701a4,#6600a7,#7501a8,#8305a7,#900ea3,#9d189d,#aa2395,#b12a90,#b7318a,#c03a83,#c8437b,#d04d73,#d8576b,#df6263,#e66c5c,#eb7655,#f1814d)"></i>
<i style="background:linear-gradient(90deg,#1a068c,#1b068d,#1b068d,#1b068d,#1b068d,#1b068d,#1c068d,#20068f,#220690,#290592,#2f0596,#370499,#3e049c,#44039e,#4903a0,#5002a2,#5601a4,#6500a7,#7401a8,#8205a7,#900da4,#9d189d,#a92395,#b12a90,#b7318a,#c03a83,#c8437b,#d04d73,#d8576b,#df6263,#e66c5c,#eb7655,#f1814d)"></i>
<i style="background:linear-gradient(90deg,#19068c,#1a068c,#1a068d,#1b068d,#1b068d,#1b068d,#1b068d,#1d068e,#220690,#280592,#2f0596,#360498,#3c049b,#43039e,#4903a0,#5002a2,#5601a4,#6500a7,#7401a8,#8204a7,#8f0da4,#9d189d,#a92296,#b12a90,#b7318a,#c03a83,#c8437b,#d04d73,#d8576b,#df6263,#e66c5c,#ec7754,#f1814d)"></i>
<i style="background:linear-gradient(90deg,#19068c,#19068c,#19068c,#1a068c,#1b068d,#1b068d,#1b068d,#1d068e,#20068f,#280592,#2e0595,#350498,#3c049b,#43039e,#4903a0,#4f02a2,#5502a4,#6400a7,#7301a8,#8104a7,#8f0da4,#9c179e,#a82296,#b12a90,#b7318a,#c03a83,#c9447a,#d04d73,#d8576b,#df6263,#e66c5c,#ec7754,#f1814d)"></i>
<i style="background:linear-gradient(90deg,#19068c,#19068c,#19068c,#19068c,#19068c,#1a068d,#1b068d,#1c068e,#20068f,#260591,#2e0595,#350498,#3c049b,#42039e,#48039f,#4e02a2,#5502a4,#6400a7,#7301a8,#8104a7,#8e0ca4,#9c179e,#a82296,#b12a90,#b7318a,#c03a83,#c9447a,#d04d73,#d8576b,#df6263,#e66c5c,#ec7754,#f1814d)"></i>
<i style="background:linear-gradient(90deg,#18068b,#19068c,#19068c,#19068c,#19068c,#19068c,#1a068c,#1b068d,#1f068f,#260591,#2d0595,#340498,#3a049a,#41049d,#48039f,#4e02a2,#5502a4,#6300a7,#7201a8,#8004a8,#8e0ca4,#9b179e,#a72197,#b12a90,#b7318a,#c03a83,#c9447a,#d14e72,#d8576b,#df6263,#e66c5c,#ec7754,#f1814d)"></i>
<i style="background:linear-gradient(90deg,#16078a,#16078a,#18068c,#19068c,#19068c,#19068c,#19068c,#1b068d,#1d068e,#260591,#2c0594,#330597,#3a049a,#41049d,#48039f,#4d02a2,#5402a3,#6300a7,#7201a8,#8004a8,#8e0ca4,#9b169f,#a72197,#b12a90,#b7318a,#c03a83,#c9447a,#d14e72,#d8576b,#df6263,#e66c5c,#ec7754,#f1824d)"></i>
<i style="background:linear-gradient(90deg,#16078a,#16078a,#16078a,#18068b,#19068c,#19068c,#19068c,#1a068c,#1d068e,#240691,#2c0594,#330597,#3a049a,#40049d,#46039f,#4c02a1,#5302a3,#6200a7,#7100a8,#7f04a8,#8d0ba5,#9a169f,#a72197,#b12a90,#b7318a,#c03a83,#c9447a,#d14e72,#d8576b,#df6263,#e66c5c,#ec7754,#f1824d)"></i>
<i style="background:linear-gradient(90deg,#16078a,#16078a,#16078a,#16078a,#16078a,#18068c,#19068c,#19068c,#1c068d,#240691,#2b0594,#320597,#38049a,#3f049c,#46039f,#4c02a1,#5302a3,#6200a7,#7100a8,#7f03a8,#8d0ba5,#9a169f,#a62098,#b12a90,#b7318a,#c03a83,#c9447a,#d14e72,#d8576b,#df6263,#e66c5c,#ec7754,#f1824d)"></i>
<i style="background:linear-gradient(90deg,#14078a,#16078a,#16078a,#16078a,#16078a,#16078a,#17078a,#19068c,#1b068d,#230691,#2a0593,#310597,#38049a,#3f049c,#46039f,#4c02a1,#5202a3,#6100a7,#7000a8,#7e03a8,#8c0ba5,#99159f,#a62098,#b12a90,#b7318a,#c03a83,#c9447a,#d14e72,#d9586a,#df6263,#e66c5c,#ec7754,#f1824c)"></i>
<i style="background:linear-gradient(90deg,#130789,#130789,#15078a,#16078a,#16078a,#16078a,#16078a,#17078a,#1b068d,#220690,#2a0593,#310597,#38049a,#3f049c,#44039e,#4b03a1,#5102a3,#6100a7,#7000a8,#7e03a8,#8c0aa5,#99159f,#a62098,#b12a90,#b7318a,#c03a83,#c9447a,#d14e72,#d9586a,#df6263,#e66d5c,#ec7754,#f1824c)"></i>
<i style="background:linear-gradient(90deg,#130789,#130789,#130789,#140789,#16078a,#16078a,#16078a,#16078a,#19068c,#220690,#2a0593,#300596,#370499,#3e049c,#44039e,#4b03a1,#5102a3,#6001a6,#6f00a8,#7d03a8,#8b0aa5,#99159f,#a51f99,#b12a90,#b7318a,#c03a83,#c9447a,#d14e72,#d9586a,#e06363,#e66d5c,#ec7754,#f1834c)"></i>
<i style="background:linear-gradient(90deg,#130789,#130789,#130789,#130789,#130789,#15078a,#16078a,#16078a,#19068c,#210690,#280592,#2f0596,#370499,#3e049c,#44039e,#4a03a0,#5002a2,#6001a6,#6f00a8,#7d03a8,#8b0aa5,#9814a0,#a51f99,#b02a90,#b7318a,#c03a83,#c9447a,#d14e72,#d9586a,#e06363,#e66d5c,#ec7854,#f1834c)"></i>
<i style="background:linear-gradient(90deg,#120788,#130789,#130789,#130789,#130789,#130789,#140789,#16078a,#19068c,#20068f,#280592,#2f0596,#370499,#3d049c,#43039e,#4903a0,#5002a2,#5f01a6,#6e00a8,#7c03a8,#8a09a5,#9814a0,#a41f99,#b02991,#b7318a,#c03a83,#c9447a,#d14e72,#d9586a,#e06363,#e76d5b,#ec7854,#f1834c)"></i>
<i style="background:linear-gradient(90deg,#100788,#100788,#120789,#130789,#130789,#130789,#130789,#130789,#16078a,#20068f,#280592,#2e0596,#350498,#3c049b,#43039e,#4903a0,#5002a2,#5f01a6,#6e00a8,#7c02a8,#8a09a5,#9714a0,#a41e9a,#b02991,#b7318a,#c13b82,#c9447a,#d14e72,#d9586a,#e06363,#e76d5b,#ec7854,#f1834c)"></i>
<i style="background:linear-gradient(90deg,#100788,#100788,#100788,#110788,#130789,#130789,#130789,#130789,#16078a,#1e068e,#260591,#2e0595,#350498,#3c049b,#43039e,#4903a0,#4f02a2,#5e01a6,#6d00a8,#7b02a8,#8a09a5,#9713a1,#a31e9a,#af2892,#b7318a,#c13b82,#ca447a,#d14e72,#d9586a,#e06363,#e76e5b,#ed7853,#f1834c)"></i>
<i style="background:linear-gradient(90deg,#100788,#100788,#100788,#100788,#100788,#120788,#130789,#130789,#15078a,#1d068e,#260591,#2e0595,#350498,#3b049b,#41049d,#48039f,#4e02a2,#5d01a6,#6d00a8,#7b02a8,#8908a6,#9613a1,#a31e9a,#ae2892,#b7318a,#c13b82,#ca457a,#d14e72,#d9586a,#e06363,#e76e5b,#ed7853,#f1834c)"></i>
<i style="background:linear-gradient(90deg,#0e0888,#100788,#100788,#100788,#100788,#100788,#110788,#130789,#130789,#1d068e,#260591,#2d0594,#330597,#3a049a,#41049d,#48039f,#4e02a2,#5d01a6,#6c00a8,#7a02a8,#8808a6,#9612a1,#a21d9a,#ae2892,#b7318a,#c13b82,#ca457a,#d24f71,#d9586a,#e06363,#e76e5b,#ed7953,#f1834c)"></i>
<i style="background:linear-gradient(90deg,#0d0887,#0d0887,#0f0788,#100788,#100788,#100788,#100788,#100788,#130789,#1c068e,#240691,#2c0594,#330597,#3a049a,#41049d,#47039f,#4d02a1,#5c01a6,#6b00a8,#7a02a8,#8808a6,#9512a1,#a21d9a,#ae2892,#b7318a,#c13b82,#ca457a,#d24f71,#d9586a,#e06363,#e76e5b,#ed7953,#f1834c)"></i>
<i style="background:linear-gradient(90deg,#0d0887,#0d0887,#0d0887,#0e0887,#100788,#100788,#100788,#100788,#110788,#1b068d,#240691,#2c0594,#330597,#39049a,#3f049c,#46039f,#4c02a1,#5c01a6,#6b00a8,#7a02a8,#8707a6,#9511a1,#a21c9a,#ad2793,#b7318a,#c13b82,#ca457a,#d24f71,#d9596a,#e06363,#e76e5b,#ed7953,#f1834c)"></i>
<i style="background:linear-gradient(90deg,#0d0887,#0d0887,#0d0887,#0d0887,#0d0887,#0e0888,#100788,#100788,#100788,#1b068d,#240691,#2b0594,#320597,#38049a,#3f049c,#46039f,#4c02a1,#5b01a5,#6a00a8,#7901a8,#8707a6,#9511a1,#a11c9b,#ad2793,#b7318a,#c13b82,#ca457a,#d24f71,#d9596a,#e06363,#e76e5b,#ed7953,#f1834c)"></i>
<i style="background:linear-gradient(90deg,#0d0887,#0d0887,#0d0887,#0d0887,#0d0887,#0d0887,#100788,#100788,#100788,#1b068d,#230690,#2a0593,#310597,#38049a,#3f049c,#46039f,#4c02a1,#5b01a5,#6a00a8,#7801a8,#8707a6,#9511a1,#a11b9b,#ad2793,#b7318a,#c13b82,#ca457a,#d24f71,#d9596a,#e06363,#e76e5b,#ed7953,#f1834c)"></i>
</div>
<div class="cb" style="left:1959px;top:87px;width:34px;height:651px;background:linear-gradient(180deg,#f0f921,#f4ed27,#f8df25,#fcd225,#fdc527,#feb82c,#fdac33,#fba139,#f89540,#f58b47,#f0804e,#eb7655,#e66c5c,#e06363,#da5a6a,#d35171,#cc4778,#c43e7f,#bc3587,#b32c8e,#aa2395,#a01a9c,#9511a1,#8a09a5,#7e03a8,#7201a8,#6600a7,#5901a5,#4c02a1,#3f049c,#310597,#220690,#0d0887)"></div>
<div class="hm" style="left:659px;top:1008px;width:700px;height:650px">
<i style="background:linear-gradient(90deg,#7e03a8,#8104a7,#8405a7,#8707a6,#8a09a5,#8e0ca4,#910ea3,#9410a2,#9613a1,#9e199d,#a62098,#ad2793,#b32c8e,#ba3388,#c03a83,#c6417d,#cc4678,#d14e72,#d6556d,#db5c68,#e06363,#e56a5d,#e97158,#ed7953,#f0804e,#f58b47,#f9963f,#fba238,#fdae32,#feba2c,#fdc627,#fbd424,#f8e125)"></i>
<i style="background:linear-gradient(90deg,#7d03a8,#8104a7,#8405a7,#8707a6,#8a09a5,#8e0ca4,#910ea3,#9410a2,#9613a1,#9e199d,#a62098,#ac2694,#b32c8e,#ba3388,#c03a83,#c6417d,#cb4679,#d04d73,#d5546e,#db5c68,#e06363,#e56a5d,#e97158,#ed7953,#f0804e,#f58b47,#f89540,#fba238,#fdad32,#feb92c,#fdc627,#fbd324,#f8e125)"></i>
<i style="background:linear-gradient(90deg,#7d03a8,#8104a7,#8405a7,#8707a6,#8a09a5,#8e0ca4,#910ea3,#9410a2,#9613a1,#9e199d,#a62098,#ac2694,#b32c8e,#ba3388,#c03a83,#c5407e,#cb4679,#d04d73,#d5546e,#da5b69,#e06363,#e56a5d,#e97158,#ed7953,#f0804e,#f58a47,#f89540,#fba139,#fdac33,#feb92c,#fdc627,#fbd324,#f8e025)"></i>
<i style="background:linear-gradient(90deg,#7d03a8,#8004a8,#8405a7,#8707a6,#8a09a5,#8d0ba5,#910ea3,#9410a2,#9613a1,#9e199d,#a51f99,#ac2694,#b32c8e,#b93388,#bf3984,#c5407e,#cb4679,#d04d73,#d5546e,#da5b69,#df6263,#e46a5e,#e97158,#ed7853,#f0804e,#f48a48,#f89540,#fba139,#fdac33,#feb82c,#fdc527,#fcd224,#f8df25)"></i>
<i style="background:linear-gradient(90deg,#7d03a8,#8004a8,#8405a7,#8707a6,#8a09a5,#8d0ba5,#910ea3,#9410a2,#9613a1,#9d189d,#a51f99,#ac2694,#b32c8e,#b93288,#bf3984,#c5407e,#cb4679,#d04d73,#d5546e,#da5b69,#df6263,#e4695e,#e87059,#ec7854,#f0804e,#f48948,#f89441,#fba03a,#fdac33,#feb82c,#fdc527,#fcd225,#f8df25)"></i>
<i style="background:linear-gradient(90deg,#7d03a8,#8004a8,#8405a7,#8707a6,#8a09a5,#8d0ba5,#910ea3,#9410a2,#9613a1,#9d189d,#a51f99,#ac2694,#b32c8e,#b83289,#bf3984,#c5407e,#cb4679,#d04d73,#d5546e,#da5b69,#df6263,#e4695e,#e87059,#ec7754,#f0804e,#f48948,#f89441,#fb9f3a,#fdab33,#feb72d,#fdc427,#fcd225,#f9de25)"></i>
<i style="background:linear-gradient(90deg,#7d03a8,#8004a8,#8405a7,#8707a6,#8a09a5,#8d0ba5,#900ea3,#9410a2,#9613a1,#9d189d,#a51f99,#ac2694,#b22b8f,#b83289,#bf3984,#c5407e,#cb4679,#d04d73,#d5546e,#da5b69,#df6263,#e4695e,#e87059,#ec7754,#f07f4f,#f48849,#f89441,#fb9f3a,#fdab33,#feb72d,#fdc428,#fcd125,#f9dd25)"></i>
<i style="background:linear-gradient(90deg,#7d03a8,#8004a8,#8305a7,#8707a6,#8a09a5,#8d0ba5,#900da4,#9410a2,#9613a1,#9d189d,#a51f99,#ac2594,#b22b8f,#b83289,#bf3984,#c53f7e,#ca457a,#d04d73,#d5546e,#da5b69,#df6263,#e4695e,#e87059,#ec7754,#f07f4f,#f48849,#f79342,#fa9e3a,#fcaa34,#feb62d,#fdc328,#fcd025,#f9dd25)"></i>
<i style="background:linear-gradient(90deg,#7d03a8,#8004a8,#8305a7,#8707a6,#8a09a5,#8d0ba5,#8f0da4,#9410a2,#9613a1,#9d189d,#a41f99,#ab2594,#b22b8f,#b83289,#bf3984,#c43f7f,#ca457a,#cf4c74,#d5536f,#da5a6a,#df6263,#e4695e,#e87059,#ec7754,#f07f4f,#f48849,#f79342,#fa9e3b,#fca934,#fdb62e,#fdc328,#fcd025,#f9dc24)"></i>
<i style="background:linear-gradient(90deg,#7d03a8,#8004a8,#8305a7,#8707a6,#8a09a5,#8d0ba5,#8f0da4,#9310a2,#9613a1,#9d189d,#a41e9a,#ab2494,#b22b8f,#b83289,#be3884,#c43e7f,#ca457a,#cf4c74,#d5536f,#da5a6a,#de6164,#e4695e,#e87059,#ec7754,#f07f4f,#f3874a,#f79242,#fa9e3b,#fca934,#fdb52e,#fdc229,#fccf25,#f9dc24)"></i>
<i style="background:linear-gradient(90deg,#7d03a8,#8004a8,#8305a7,#8606a6,#8a09a5,#8d0ba5,#8f0da4,#930fa3,#9613a1,#9d189d,#a31e9a,#ab2494,#b22b8f,#b83289,#be3885,#c43e7f,#ca457a,#cf4c74,#d5536f,#da5a6a,#de6164,#e3685f,#e8705a,#ec7654,#f07f4f,#f3874a,#f79243,#fa9d3c,#fca834,#fdb52e,#fdc229,#fcce25,#f9dc24)"></i>
<i style="background:linear-gradient(90deg,#7d03a8,#8004a8,#8305a7,#8606a6,#8a09a5,#8d0ba5,#8f0da4,#920fa3,#9613a1,#9c179e,#a31e9a,#ab2494,#b22b8f,#b7318a,#be3885,#c43e7f,#ca457a,#cf4c74,#d5536f,#da5a6a,#de6164,#e3685f,#e76f5a,#eb7655,#f07f4f,#f3874a,#f79143,#fa9c3c,#fca835,#fdb42f,#fdc129,#fcce25,#fadb24)"></i>
<i style="background:linear-gradient(90deg,#7d03a8,#8004a8,#8305a7,#8606a6,#8a09a5,#8d0ba5,#8f0da4,#920fa3,#9613a1,#9c179e,#a31e9a,#ab2494,#b12a90,#b7318a,#be3885,#c43e7f,#ca457a,#cf4c74,#d5536f,#da5a6a,#de6164,#e3685f,#e76f5a,#eb7655,#f07f4f,#f3874a,#f79143,#fa9c3c,#fca835,#fdb42f,#fec029,#fcce25,#fada24)"></i>
<i style="background:linear-gradient(90deg,#7d03a8,#8004a8,#8305a7,#8606a6,#8a09a5,#8d0ba5,#8f0da4,#920fa3,#9612a1,#9c179e,#a31e9a,#ab2494,#b12a90,#b7318a,#be3885,#c43e7f,#c9447a,#cf4c74,#d5536f,#da5a6a,#de6164,#e3685f,#e76f5a,#eb7655,#f07f4f,#f3864a,#f79044,#fa9c3c,#fca736,#fdb32f,#fec029,#fccd25,#fada24)"></i>
<i style="background:linear-gradient(90deg,#7d03a8,#8004a8,#8305a7,#8606a6,#8909a5,#8d0ba5,#8f0da4,#920fa3,#9512a1,#9c179e,#a31e9a,#aa2395,#b12a90,#b7318a,#be3885,#c43e80,#c9447a,#ce4b75,#d45270,#da596a,#de6064,#e3685f,#e76f5a,#eb7655,#ef7e50,#f3864a,#f79044,#fa9b3d,#fca636,#fdb32f,#febf29,#fccd25,#fad924)"></i>
<i style="background:linear-gradient(90deg,#7d03a8,#8004a8,#8305a7,#8606a6,#8908a6,#8d0ba5,#8f0da4,#920fa3,#9512a1,#9c179e,#a21e9a,#aa2395,#b12a90,#b7318a,#be3885,#c33d80,#c9447a,#ce4b75,#d45270,#d9596a,#de6064,#e3675f,#e76f5a,#eb7655,#ef7e50,#f3864b,#f79044,#fa9b3d,#fca636,#fdb22f,#febf2a,#fccc26,#fad824)"></i>
<i style="background:linear-gradient(90deg,#7c03a8,#8004a8,#8305a7,#8606a6,#8808a6,#8d0ba5,#8f0da4,#920fa3,#9511a1,#9c179e,#a21d9a,#aa2395,#b12a90,#b7318a,#bd3786,#c33d80,#c9447a,#ce4b75,#d45270,#d9586a,#de6065,#e26760,#e76f5a,#eb7655,#ef7e50,#f3854b,#f68f44,#fa9a3e,#fca636,#fdb22f,#febe2a,#fdcb26,#fad824)"></i>
<i style="background:linear-gradient(90deg,#7b02a8,#8004a8,#8305a7,#8606a6,#8808a6,#8c0ba5,#8f0da4,#920fa3,#9511a1,#9c179e,#a21d9a,#aa2395,#b12a90,#b6308b,#bd3786,#c33d80,#c9447a,#ce4b75,#d45270,#d9586a,#de5f65,#e26660,#e76e5b,#eb7655,#ef7e50,#f3854b,#f68f44,#f99a3e,#fca537,#fdb130,#febe2a,#fdcb26,#fad824)"></i>
<i style="background:linear-gradient(90deg,#7b02a8,#7f04a8,#8305a7,#8606a6,#8808a6,#8c0ba5,#8f0da4,#920fa3,#9511a1,#9c179e,#a21d9a,#aa2395,#b02a90,#b6308b,#bd3786,#c33d80,#c9447a,#ce4b75,#d45270,#d9586a,#de5f65,#e26660,#e76e5b,#eb7656,#ef7e50,#f3854b,#f68e44,#f99a3e,#fca537,#fdb130,#febd2a,#fdca26,#fbd724)"></i>
<i style="background:linear-gradient(90deg,#7b02a8,#7f03a8,#8305a7,#8606a6,#8808a6,#8c0aa5,#8f0da4,#920fa3,#9511a1,#9c179e,#a21d9a,#aa2395,#b02991,#b6308b,#bd3786,#c33d80,#c8447a,#ce4b75,#d45270,#d9586a,#de5f65,#e26660,#e76e5b,#eb7556,#ef7e50,#f3854b,#f68e45,#f9993e,#fca438,#fdb030,#febd2a,#fdca26,#fbd724)"></i>
<i style="background:linear-gradient(90deg,#7b02a8,#7e03a8,#8305a7,#8606a6,#8808a6,#8b0aa5,#8f0da4,#920fa3,#9511a1,#9c179e,#a21d9a,#a92296,#b02991,#b6308b,#bd3786,#c33d80,#c8437b,#cd4a76,#d35171,#d9586a,#de5f65,#e26660,#e76e5b,#eb7556,#ef7e50,#f3854b,#f68d45,#f9983e,#fca338,#fdb031,#febc2a,#fdca26,#fbd624)"></i>
<i style="background:linear-gradient(90deg,#7b02a8,#7e03a8,#8205a7,#8606a6,#8808a6,#8b0aa5,#8f0da4,#920fa3,#9511a1,#9c179e,#a21d9a,#a82296,#b02991,#b6308b,#bd3686,#c23c81,#c8437b,#cd4a76,#d35171,#d8576b,#de5f65,#e26660,#e76e5b,#eb7556,#ef7d50,#f3854b,#f68d45,#f9983e,#fca338,#fdaf31,#febc2b,#fdc926,#fbd524)"></i>
<i style="background:linear-gradient(90deg,#7b02a8,#7e03a8,#8204a7,#8606a6,#8808a6,#8b0aa5,#8f0da4,#920fa3,#9511a1,#9c179e,#a21c9a,#a82296,#b02991,#b6308b,#bc3687,#c23c81,#c8437b,#cd4a76,#d35171,#d8576b,#dd5e66,#e26660,#e76e5b,#eb7556,#ef7d51,#f3854b,#f68d45,#f9983e,#fca238,#fdaf31,#febb2b,#fdc827,#fbd524)"></i>
<i style="background:linear-gradient(90deg,#7b02a8,#7e03a8,#8204a7,#8606a6,#8808a6,#8b0aa5,#8e0ca4,#920fa3,#9511a1,#9c179e,#a21c9a,#a82296,#b02991,#b6308c,#bc3587,#c23c81,#c8437b,#cd4a76,#d35171,#d8576b,#dd5e66,#e26561,#e76d5b,#eb7556,#ef7c51,#f2844b,#f68d45,#f9973f,#fba238,#fdae32,#febb2b,#fdc827,#fbd424)"></i>
<i style="background:linear-gradient(90deg,#7b02a8,#7e03a8,#8104a7,#8606a6,#8808a6,#8b0aa5,#8e0ca4,#920fa3,#9511a1,#9c179e,#a11c9b,#a82296,#af2991,#b52f8c,#bc3587,#c23c81,#c8437b,#cd4a76,#d35171,#d8576b,#dd5e66,#e26561,#e66d5c,#eb7556,#ef7c51,#f2844b,#f58c46,#f9973f,#fba238,#fdae32,#feba2c,#fdc727,#fbd324)"></i>
<i style="background:linear-gradient(90deg,#7b02a8,#7e03a8,#8104a7,#8606a6,#8808a6,#8b0aa5,#8e0ca4,#920fa3,#9511a1,#9b179e,#a11c9b,#a82296,#af2892,#b52f8c,#bc3587,#c23c81,#c8437b,#cd4a76,#d35071,#d8576b,#dd5e66,#e26561,#e66c5c,#eb7556,#ef7c51,#f2844b,#f58c46,#f89640,#fba238,#fdae32,#feba2c,#fdc627,#fbd324)"></i>
<i style="background:linear-gradient(90deg,#7b02a8,#7e03a8,#8104a7,#8506a6,#8808a6,#8b0aa5,#8e0ca4,#910ea3,#9511a1,#9b169e,#a11b9b,#a82296,#ae2892,#b52f8c,#bc3587,#c23c81,#c7427c,#cd4a76,#d25071,#d8576b,#dd5e66,#e26561,#e66c5c,#ea7457,#ef7c51,#f2844b,#f58c46,#f89540,#fba139,#fdad33,#feb92c,#fdc627,#fcd224)"></i>
<i style="background:linear-gradient(90deg,#7b02a8,#7e03a8,#8104a7,#8405a7,#8808a6,#8b0aa5,#8e0ca4,#910ea3,#9511a1,#9b169f,#a11b9b,#a72197,#ae2892,#b52f8c,#bc3587,#c13b82,#c7427c,#cc4977,#d25071,#d7566c,#dd5e66,#e26561,#e66c5c,#ea7457,#ef7c51,#f2844b,#f58c46,#f89540,#fba139,#fdac33,#feb92c,#fdc627,#fcd225)"></i>
<i style="background:linear-gradient(90deg,#7b02a8,#7e03a8,#8104a7,#8405a7,#8808a6,#8b0aa5,#8e0ca4,#910ea3,#9511a1,#9a169f,#a11b9b,#a72197,#ae2892,#b52f8c,#bc3488,#c13b82,#c7427c,#cc4977,#d24f71,#d7566c,#dc5d67,#e26561,#e66c5c,#ea7457,#ef7c51,#f2844b,#f58c46,#f89440,#fba039,#fdac33,#feb82c,#fdc527,#fcd225)"></i>
<i style="background:linear-gradient(90deg,#7b02a8,#7e03a8,#8104a7,#8405a7,#8808a6,#8b0aa5,#8e0ca4,#910ea3,#9511a1,#9a169f,#a11b9b,#a72197,#ae2892,#b52f8c,#bb3488,#c13b82,#c7427c,#cc4977,#d24f71,#d7566c,#dc5d67,#e16462,#e66c5c,#ea7457,#ef7c51,#f2844b,#f58c46,#f89441,#fb9f3a,#fdab33,#feb82c,#fdc527,#fcd125)"></i>
<i style="background:linear-gradient(90deg,#7b02a8,#7e03a8,#8104a7,#8405a7,#8808a6,#8b0aa5,#8e0ca4,#910ea3,#9410a2,#9a169f,#a11b9b,#a72197,#ae2892,#b42e8d,#bb3488,#c13b82,#c7427c,#cc4977,#d24f71,#d7566c,#dc5d67,#e16462,#e66c5c,#ea7457,#ee7b51,#f2844b,#f58c46,#f89441,#fb9f3a,#fdab33,#feb72d,#fdc428,#fcd025)"></i>
<i style="background:linear-gradient(90deg,#7b02a8,#7e03a8,#8104a7,#8405a7,#8707a6,#8b0aa5,#8e0ca4,#910ea3,#9410a2,#9a169f,#a11b9b,#a72197,#ad2793,#b42e8d,#bb3488,#c13b82,#c7427c,#cc4977,#d24f71,#d7566c,#dc5d67,#e16462,#e66c5c,#ea7457,#ee7b51,#f1834c,#f58c46,#f89441,#fb9f3a,#fdab33,#feb72d,#fdc328,#fcd025)"></i>
<i style="background:linear-gradient(90deg,#7b02a8,#7e03a8,#8104a7,#8405a7,#8707a6,#8b0aa5,#8e0ca4,#910ea3,#9410a2,#9a169f,#a11b9b,#a72197,#ad2793,#b42e8d,#bb3488,#c13b82,#c6417d,#cc4877,#d24f71,#d7566c,#dc5d67,#e16462,#e56b5d,#ea7457,#ee7b51,#f1834c,#f58b47,#f89441,#fa9e3b,#fcaa34,#feb62d,#fdc328,#fccf25)"></i>
<i style="background:linear-gradient(90deg,#7a02a8,#7e03a8,#8104a7,#8405a7,#8707a6,#8b0aa5,#8e0ca4,#910ea3,#9410a2,#9a169f,#a11b9b,#a72197,#ad2793,#b42e8d,#bb3488,#c03a82,#c6417d,#cc4878,#d14e72,#d7566c,#dc5d67,#e16462,#e56b5d,#ea7357,#ee7b51,#f1834c,#f58b47,#f79342,#fa9e3b,#fca934,#fdb62e,#fdc228,#fcce25)"></i>
<i style="background:linear-gradient(90deg,#7a02a8,#7e03a8,#8104a7,#8405a7,#8707a6,#8a0aa5,#8e0ca4,#910ea3,#9410a2,#9a169f,#a11b9b,#a72197,#ad2793,#b42e8d,#bb3488,#c03a83,#c6417d,#cc4778,#d14e72,#d6556d,#dc5c68,#e16462,#e56b5d,#e97357,#ee7b51,#f1834c,#f58b47,#f79342,#fa9d3b,#fca934,#fdb52e,#fdc229,#fcce25)"></i>
<i style="background:linear-gradient(90deg,#7a02a8,#7d03a8,#8104a7,#8405a7,#8707a6,#8a09a5,#8e0ca4,#910ea3,#9410a2,#9a169f,#a11b9b,#a72197,#ad2793,#b42d8d,#ba3388,#c03a83,#c6417d,#cc4778,#d14e72,#d6556d,#db5c68,#e16462,#e56b5d,#e97357,#ee7b51,#f1834c,#f58b47,#f79342,#fa9c3c,#fca835,#fdb52e,#fdc229,#fcce25)"></i>
<i style="background:linear-gradient(90deg,#7a02a8,#7d03a8,#8104a7,#8405a7,#8707a6,#8a09a5,#8e0ca4,#910ea3,#9410a2,#9a169f,#a11b9b,#a72197,#ad2793,#b32d8e,#ba3388,#c03a83,#c6417d,#cc4778,#d14e72,#d6556d,#db5c68,#e06462,#e56b5d,#e97257,#ee7b51,#f1834c,#f58b47,#f79342,#fa9c3c,#fca835,#fdb42f,#fec129,#fccd25)"></i>
<i style="background:linear-gradient(90deg,#7a02a8,#7d03a8,#8104a7,#8405a7,#8707a6,#8a09a5,#8e0ca4,#910ea3,#9410a2,#9a169f,#a11b9b,#a62098,#ac2694,#b32c8e,#ba3388,#c03a83,#c6417d,#cc4778,#d14e72,#d6556d,#db5c68,#e06363,#e56b5d,#e97257,#ee7b51,#f1824c,#f58b47,#f79342,#fa9c3c,#fca835,#fdb42f,#fec029,#fccd25)"></i>
<i style="background:linear-gradient(90deg,#7a02a8,#7d03a8,#8004a8,#8405a7,#8707a6,#8a09a5,#8e0ca4,#910ea3,#9410a2,#9a169f,#a11b9b,#a62098,#ac2694,#b32c8e,#ba3388,#c03a83,#c6407e,#cc4778,#d14e72,#d6556d,#db5c68,#e06363,#e56b5d,#e97257,#ed7a52,#f1824c,#f58a47,#f79342,#fa9b3d,#fca736,#fdb32f,#fec029,#fccc26)"></i>
<i style="background:linear-gradient(90deg,#7a02a8,#7d03a8,#8004a8,#8405a7,#8707a6,#8a09a5,#8d0ba5,#910ea3,#9410a2,#9a169f,#a11b9b,#a62098,#ac2694,#b32c8e,#ba3388,#c03a83,#c5407e,#cc4678,#d04d73,#d6556d,#db5c68,#e06363,#e56b5d,#e97257,#ed7a52,#f1824d,#f58a47,#f79242,#fa9b3d,#fca636,#fdb32f,#febf29,#fdcb26)"></i>
<i style="background:linear-gradient(90deg,#7a02a8,#7d03a8,#8004a8,#8405a7,#8707a6,#8a09a5,#8d0ba5,#910ea3,#9410a2,#9a169f,#a01a9c,#a62098,#ac2694,#b32c8e,#b93388,#bf3984,#c5407e,#cb4679,#d04d73,#d5546e,#db5c68,#e06363,#e56a5d,#e97257,#ed7a52,#f1814d,#f48a48,#f79242,#fa9b3d,#fca636,#fdb22f,#febe2a,#fdcb26)"></i>
<i style="background:linear-gradient(90deg,#7a02a8,#7d03a8,#8004a8,#8405a7,#8707a6,#8a09a5,#8d0ba5,#900ea3,#9410a2,#9a169f,#a01a9c,#a62098,#ac2694,#b32c8e,#b93289,#bf3984,#c5407e,#cb4679,#d04d73,#d5546e,#da5b69,#e06363,#e56a5d,#e97257,#ed7a52,#f1814d,#f48948,#f79243,#f99a3e,#fca537,#fdb22f,#febe2a,#fdca26)"></i>
<i style="background:linear-gradient(90deg,#7a02a8,#7d03a8,#8004a8,#8305a7,#8707a6,#8a09a5,#8d0ba5,#900da4,#9410a2,#9a169f,#a01a9c,#a62098,#ac2694,#b22c8e,#b83289,#bf3984,#c5407e,#cb4679,#d04d73,#d5546e,#da5b69,#e06363,#e56a5d,#e97158,#ed7a52,#f1814d,#f48948,#f79143,#f99a3e,#fca537,#fdb130,#febe2a,#fdca26)"></i>
<i style="background:linear-gradient(90deg,#7a02a8,#7d03a8,#8004a8,#8305a7,#8707a6,#8a09a5,#8d0ba5,#8f0da4,#9410a2,#99159f,#a01a9c,#a62098,#ac2694,#b22b8f,#b83289,#bf3984,#c5407e,#cb4679,#d04d73,#d5546e,#da5b69,#e06363,#e56a5d,#e97158,#ed7a52,#f1814d,#f48948,#f79143,#f99a3e,#fca537,#fdb130,#febd2a,#fdca26)"></i>
<i style="background:linear-gradient(90deg,#7a02a8,#7d03a8,#8004a8,#8305a7,#8707a6,#8a09a5,#8d0ba5,#8f0da4,#9410a2,#99159f,#a01a9c,#a62098,#ac2694,#b22b8f,#b83289,#bf3984,#c53f7e,#cb4679,#d04d73,#d5546e,#da5b69,#df6263,#e56a5d,#e97158,#ed7a52,#f1814d,#f48948,#f79143,#f99a3e,#fca438,#fdb030,#febd2a,#fdc926)"></i>
<i style="background:linear-gradient(90deg,#7a02a8,#7d03a8,#8004a8,#8305a7,#8707a6,#8a09a5,#8d0ba5,#8f0da4,#9310a2,#99159f,#a01a9c,#a62098,#ac2694,#b22b8f,#b83289,#bf3984,#c43f7f,#cb4679,#d04c74,#d5546e,#da5b69,#df6263,#e56a5d,#e97158,#ed7a52,#f1814d,#f48948,#f79143,#f99a3e,#fca338,#fdb031,#febc2a,#fdc827)"></i>
<i style="background:linear-gradient(90deg,#7a02a8,#7d03a8,#8004a8,#8305a7,#8606a6,#8a09a5,#8d0ba5,#8f0da4,#930fa3,#99159f,#a01a9c,#a62098,#ac2694,#b22b8f,#b83289,#be3885,#c43e7f,#ca457a,#cf4c74,#d5536f,#da5b69,#df6263,#e56a5d,#e97158,#ed7953,#f0804e,#f48948,#f79143,#f99a3e,#fca338,#fdaf31,#febb2b,#fdc827)"></i>
<i style="background:linear-gradient(90deg,#7a02a8,#7d03a8,#8004a8,#8305a7,#8606a6,#8a09a5,#8d0ba5,#8f0da4,#920fa3,#99159f,#a01a9c,#a62098,#ac2594,#b22b8f,#b8328a,#be3885,#c43e7f,#ca457a,#cf4c74,#d5536f,#da5b69,#df6263,#e56a5d,#e97158,#ed7953,#f0804e,#f48848,#f79143,#f9993e,#fca238,#fdaf31,#febb2b,#fdc727)"></i>
<i style="background:linear-gradient(90deg,#7902a8,#7d03a8,#8004a8,#8305a7,#8606a6,#8a09a5,#8d0ba5,#8f0da4,#920fa3,#99159f,#a01a9c,#a62098,#ac2594,#b22b8f,#b7318a,#be3885,#c43e7f,#ca457a,#cf4c74,#d5536f,#da5b69,#df6263,#e4695e,#e97158,#ed7953,#f0804e,#f48849,#f79044,#f9993e,#fba238,#fdae32,#febb2b,#fdc627)"></i>
<i style="background:linear-gradient(90deg,#7801a8,#7d03a8,#8004a8,#8305a7,#8606a6,#8909a5,#8d0ba5,#8f0da4,#920fa3,#99159f,#a01a9c,#a62098,#ab2594,#b12a90,#b7318a,#be3885,#c43e7f,#ca457a,#cf4c74,#d5536f,#da5a6a,#df6263,#e4695e,#e97158,#ed7953,#f0804e,#f48849,#f79044,#f9993e,#fba238,#fdae32,#feba2c,#fdc627)"></i>
<i style="background:linear-gradient(90deg,#7801a8,#7c03a8,#8004a8,#8305a7,#8606a6,#8908a6,#8d0ba5,#8f0da4,#920fa3,#99159f,#a01a9c,#a62098,#ab2494,#b12a90,#b7318a,#be3885,#c43e7f,#ca457a,#cf4c74,#d5536f,#da5a6a,#df6263,#e4695e,#e87059,#ed7953,#f0804e,#f48849,#f79044,#f9983e,#fba238,#fdad32,#feba2c,#fdc627)"></i>
<i style="background:linear-gradient(90deg,#7801a8,#7c02a8,#8004a8,#8305a7,#8606a6,#8808a6,#8d0ba5,#8f0da4,#920fa3,#99159f,#a01a9c,#a62098,#ab2494,#b12a90,#b7318a,#be3885,#c33d80,#ca457a,#cf4c74,#d5536f,#da5a6a,#df6263,#e4695e,#e87059,#ed7953,#f0804e,#f48849,#f79044,#f9983e,#fba139,#fdad33,#feb92c,#fdc527)"></i>
<i style="background:linear-gradient(90deg,#7801a8,#7b02a8,#8004a8,#8305a7,#8606a6,#8808a6,#8d0ba5,#8f0da4,#920fa3,#99159f,#a01a9c,#a62098,#ab2494,#b12a90,#b7318a,#be3886,#c33d80,#c9447a,#ce4b75,#d5536f,#da5a6a,#de6164,#e4695e,#e87059,#ed7853,#f0804e,#f48849,#f79044,#f9983e,#fba139,#fdac33,#feb82c,#fdc527)"></i>
<i style="background:linear-gradient(90deg,#7801a8,#7b02a8,#7f04a8,#8305a7,#8606a6,#8808a6,#8c0ba5,#8f0da4,#920fa3,#99159f,#a01a9c,#a51f99,#ab2494,#b12a90,#b7318a,#bd3786,#c33d80,#c9447a,#ce4b75,#d45270,#da5a6a,#de6164,#e4695e,#e87059,#ec7854,#f0804e,#f48849,#f79044,#f9983e,#fba139,#fdac33,#feb82c,#fdc427)"></i>
<i style="background:linear-gradient(90deg,#7801a8,#7b02a8,#7f03a8,#8305a7,#8606a6,#8808a6,#8c0aa5,#8f0da4,#920fa3,#99159f,#9f1a9c,#a51f99,#ab2494,#b12a90,#b6308b,#bd3786,#c33d80,#c9447a,#ce4b75,#d45270,#da5a6a,#de6164,#e4695e,#e87059,#ec7854,#f0804e,#f48849,#f79044,#f9983e,#fba139,#fdab33,#feb82c,#fdc328)"></i>
<i style="background:linear-gradient(90deg,#7801a8,#7b02a8,#7e03a8,#8305a7,#8606a6,#8808a6,#8c0aa5,#8f0da4,#920fa3,#99159f,#9f1a9c,#a51f99,#ab2494,#b12a90,#b6308b,#bd3786,#c33d80,#c9447a,#ce4b75,#d45270,#da596a,#de6164,#e4695e,#e87059,#ec7754,#f07f4f,#f4884a,#f79044,#f9983e,#fba139,#fdab33,#feb72d,#fdc328)"></i>
<i style="background:linear-gradient(90deg,#7801a8,#7b02a8,#7e03a8,#8305a7,#8606a6,#8808a6,#8b0aa5,#8f0da4,#920fa3,#99159f,#9f199d,#a51f99,#ab2494,#b12a90,#b6308b,#bd3786,#c33d80,#c9447a,#ce4b75,#d45270,#da596a,#de6164,#e3685f,#e87059,#ec7754,#f07f4f,#f3874a,#f69044,#f9973f,#fba039,#fdaa33,#feb72d,#fdc328)"></i>
<i style="background:linear-gradient(90deg,#7801a8,#7b02a8,#7e03a8,#8205a7,#8606a6,#8808a6,#8b0aa5,#8f0da4,#920fa3,#99159f,#9e199d,#a51f99,#ab2494,#b12a90,#b6308b,#bd3786,#c33d80,#c9447a,#ce4b75,#d45270,#d9596a,#de6164,#e3685f,#e87059,#ec7754,#f07f4f,#f3874a,#f68f44,#f9973f,#fba03a,#fcaa34,#feb62d,#fdc229)"></i>
<i style="background:linear-gradient(90deg,#7801a8,#7b02a8,#7e03a8,#8204a7,#8606a6,#8808a6,#8b0aa5,#8e0ca4,#920fa3,#9814a0,#9e199d,#a51f99,#ab2494,#b12a90,#b6308b,#bd3686,#c23c81,#c8447a,#cd4a76,#d45270,#d9586a,#de6164,#e3685f,#e76f5a,#ec7754,#f07f4f,#f3874a,#f68f44,#f9973f,#fba03a,#fca934,#fdb62e,#fdc229)"></i>
<i style="background:linear-gradient(90deg,#7801a8,#7b02a8,#7e03a8,#8104a7,#8606a6,#8808a6,#8b0aa5,#8e0ca4,#920fa3,#9814a0,#9e199d,#a51f99,#ab2494,#b12a90,#b6308b,#bc3687,#c23c81,#c8437b,#cd4a76,#d45270,#d9586a,#de6064,#e3685f,#e76f5a,#ec7754,#f07f4f,#f3874a,#f68f44,#f9973f,#fb9f3a,#fca934,#fdb52e,#fdc129)"></i>
<i style="background:linear-gradient(90deg,#7801a8,#7b02a8,#7e03a8,#8104a7,#8606a6,#8808a6,#8b0aa5,#8e0ca4,#920fa3,#9814a0,#9e199d,#a51f99,#ab2494,#b12a90,#b52f8c,#bc3587,#c23c81,#c8437b,#cd4a76,#d45270,#d9586a,#de6065,#e3685f,#e76f5a,#ec7754,#f07f4f,#f3874a,#f68f44,#f9973f,#fb9f3a,#fca835,#fdb52e,#fec029)"></i>
<i style="background:linear-gradient(90deg,#7801a8,#7b02a8,#7e03a8,#8104a7,#8506a6,#8808a6,#8b0aa5,#8e0ca4,#920fa3,#9814a0,#9e199d,#a51f99,#ab2494,#b12a90,#b52f8c,#bc3587,#c23c81,#c8437b,#cd4a76,#d35171,#d9586a,#de6065,#e3685f,#e76f5a,#ec7654,#f07f4f,#f3874a,#f68f44,#f9973f,#fb9f3a,#fca835,#fdb42f,#fec029)"></i>
<i style="background:linear-gradient(90deg,#7801a8,#7b02a8,#7e03a8,#8104a7,#8505a7,#8808a6,#8b0aa5,#8e0ca4,#910ea3,#9814a0,#9e199d,#a51f99,#ab2494,#b02991,#b52f8c,#bc3587,#c23c81,#c8437b,#cd4a76,#d35171,#d9586a,#de5f65,#e3675f,#e76f5a,#eb7655,#f07e50,#f3864a,#f68f44,#f9973f,#fb9f3a,#fca835,#fdb42f,#febf29)"></i>
<i style="background:linear-gradient(90deg,#7801a8,#7b02a8,#7e03a8,#8104a7,#8405a7,#8808a6,#8b0aa5,#8e0ca4,#910ea3,#9814a0,#9e199d,#a51f99,#ab2494,#b02991,#b52f8c,#bc3587,#c23c81,#c8437b,#cd4a76,#d35171,#d9586a,#de5f65,#e3675f,#e76f5a,#eb7655,#ef7e50,#f3864a,#f68e44,#f9963f,#fb9f3a,#fca835,#fdb32f,#febe2a)"></i>
<i style="background:linear-gradient(90deg,#7701a8,#7b02a8,#7e03a8,#8104a7,#8405a7,#8808a6,#8b0aa5,#8e0ca4,#910ea3,#9814a0,#9e199d,#a51f99,#aa2395,#b02991,#b52f8c,#bc3587,#c13b82,#c8437b,#cd4a76,#d35171,#d8586a,#de5f65,#e26760,#e76f5a,#eb7655,#ef7e50,#f3864b,#f68e45,#f89640,#fb9f3a,#fca835,#fdb22f,#febe2a)"></i>
<i style="background:linear-gradient(90deg,#7701a8,#7b02a8,#7e03a8,#8104a7,#8405a7,#8808a6,#8b0aa5,#8e0ca4,#910ea3,#9814a0,#9e199d,#a51f99,#aa2395,#b02991,#b52f8c,#bb3488,#c13b82,#c7427c,#cc4a76,#d35171,#d8576b,#de5f65,#e26660,#e76f5a,#eb7655,#ef7e50,#f3854b,#f68e45,#f89640,#fa9e3b,#fca735,#fdb22f,#febe2a)"></i>
<i style="background:linear-gradient(90deg,#7701a8,#7b02a8,#7e03a8,#8104a7,#8405a7,#8707a6,#8b0aa5,#8e0ca4,#910ea3,#9814a0,#9e199d,#a51f99,#aa2395,#b02991,#b52f8c,#bb3488,#c13b82,#c7427c,#cc4977,#d35171,#d8576b,#de5f65,#e26660,#e76e5b,#eb7655,#ef7e50,#f3854b,#f68d45,#f89540,#fa9e3b,#fca736,#fdb22f,#febd2a)"></i>
<i style="background:linear-gradient(90deg,#7701a8,#7a02a8,#7e03a8,#8104a7,#8405a7,#8707a6,#8b0aa5,#8e0ca4,#910ea3,#9814a0,#9e199d,#a41f99,#aa2395,#b02991,#b52f8c,#bb3488,#c13b82,#c7427c,#cc4977,#d35071,#d8576b,#de5f65,#e26660,#e76e5b,#eb7655,#ef7e50,#f3854b,#f68d45,#f89540,#fa9e3b,#fca636,#fdb130,#febd2a)"></i>
<i style="background:linear-gradient(90deg,#7701a8,#7a02a8,#7e03a8,#8104a7,#8405a7,#8707a6,#8b0aa5,#8e0ca4,#910ea3,#9814a0,#9e199d,#a41f99,#aa2395,#b02991,#b52f8c,#bb3488,#c13b82,#c7427c,#cc4977,#d35071,#d8576b,#dd5e66,#e26660,#e76e5b,#eb7655,#ef7e50,#f3854b,#f68d45,#f89540,#fa9e3b,#fca636,#fdb130,#febc2a)"></i>
<i style="background:linear-gradient(90deg,#7701a8,#7a02a8,#7e03a8,#8104a7,#8405a7,#8707a6,#8b0aa5,#8e0ca4,#910ea3,#9814a0,#9e199d,#a41e9a,#aa2395,#b02991,#b52f8c,#bb3488,#c13b82,#c7427c,#cc4977,#d25071,#d8576b,#dd5e66,#e26660,#e76e5b,#eb7656,#ef7d50,#f3854b,#f68d45,#f89540,#fa9e3b,#fca636,#fdb030,#febb2b)"></i>
<i style="background:linear-gradient(90deg,#7701a8,#7a02a8,#7d03a8,#8104a7,#8405a7,#8707a6,#8a09a5,#8e0ca4,#910ea3,#9814a0,#9e199d,#a41e9a,#aa2395,#b02991,#b52f8c,#bb3488,#c03a83,#c7427c,#cc4977,#d25071,#d8576b,#dd5e66,#e26660,#e76e5b,#eb7556,#ef7d50,#f3854b,#f68d45,#f89540,#fa9e3b,#fca636,#fdb031,#febb2b)"></i>
<i style="background:linear-gradient(90deg,#7701a8,#7a02a8,#7d03a8,#8104a7,#8405a7,#8707a6,#8a09a5,#8e0ca4,#910ea3,#9814a0,#9e189d,#a31e9a,#aa2395,#b02991,#b52f8c,#bb3488,#c03a83,#c6417d,#cc4977,#d24f71,#d8576b,#dd5e66,#e26660,#e76e5b,#eb7556,#ef7d51,#f2844b,#f68d45,#f89540,#fa9e3b,#fca636,#fdaf31,#febb2b)"></i>
<i style="background:linear-gradient(90deg,#7701a8,#7a02a8,#7d03a8,#8104a7,#8405a7,#8707a6,#8a09a5,#8e0ca4,#910ea3,#9714a0,#9d189d,#a31e9a,#aa2395,#b02991,#b52f8c,#ba3388,#c03a83,#c6417d,#cc4877,#d24f71,#d8566c,#dd5e66,#e26561,#e76e5b,#eb7556,#ef7c51,#f2844b,#f58c46,#f89441,#fa9d3b,#fca636,#fdaf31,#feba2c)"></i>
<i style="background:linear-gradient(90deg,#7701a8,#7a02a8,#7d03a8,#8104a7,#8405a7,#8707a6,#8a09a5,#8e0ca4,#910ea3,#9714a0,#9d189d,#a31e9a,#aa2395,#b02991,#b52f8c,#ba3388,#c03a83,#c6417d,#cc4878,#d24f71,#d7566c,#dd5e66,#e26561,#e76d5b,#eb7556,#ef7c51,#f2844b,#f58c46,#f89441,#fa9d3c,#fca636,#fdaf31,#feba2c)"></i>
<i style="background:linear-gradient(90deg,#7701a8,#7a02a8,#7d03a8,#8004a8,#8405a7,#8707a6,#8a09a5,#8d0ba5,#910ea3,#9713a1,#9d189d,#a31e9a,#aa2395,#b02991,#b52f8c,#ba3388,#c03a83,#c6417d,#cc4878,#d24f71,#d7566c,#dd5e66,#e26561,#e66d5c,#eb7556,#ef7c51,#f2844b,#f58c46,#f89441,#fa9c3c,#fca537,#fdaf31,#feb92c)"></i>
<i style="background:linear-gradient(90deg,#7701a8,#7a02a8,#7d03a8,#8004a8,#8405a7,#8707a6,#8a09a5,#8d0ba5,#910ea3,#9713a1,#9d189d,#a31e9a,#aa2395,#b02991,#b42e8d,#ba3388,#c03a83,#c6417d,#cc4778,#d24f71,#d7566c,#dd5e66,#e26561,#e66c5c,#eb7556,#ef7c51,#f2844b,#f58c46,#f89441,#fa9c3c,#fca537,#fdae32,#feb82c)"></i>
<i style="background:linear-gradient(90deg,#7701a8,#7a02a8,#7d03a8,#8004a8,#8405a7,#8707a6,#8a09a5,#8d0ba5,#900ea3,#9613a1,#9d189d,#a31e9a,#aa2395,#af2991,#b42e8d,#ba3388,#c03a83,#c6417d,#cc4778,#d24f71,#d7566c,#dc5d67,#e26561,#e66c5c,#eb7556,#ef7c51,#f2844b,#f58c46,#f89441,#fa9c3c,#fca537,#fdae32,#feb82c)"></i>
<i style="background:linear-gradient(90deg,#7701a8,#7a02a8,#7d03a8,#8004a8,#8405a7,#8707a6,#8a09a5,#8d0ba5,#900ea4,#9613a1,#9d189d,#a31e9a,#aa2395,#af2892,#b42e8d,#ba3388,#bf3984,#c6417d,#cc4778,#d14e72,#d7566c,#dc5d67,#e26561,#e66c5c,#ea7456,#ef7c51,#f2844b,#f58c46,#f89441,#fa9c3c,#fca537,#fdae32,#feb82c)"></i>
<i style="background:linear-gradient(90deg,#7701a8,#7a02a8,#7d03a8,#8004a8,#8305a7,#8707a6,#8a09a5,#8d0ba5,#900da4,#9613a1,#9d189d,#a31e9a,#a92395,#af2892,#b42e8d,#ba3388,#bf3984,#c6417d,#cc4778,#d14e72,#d7566c,#dc5d67,#e26561,#e66c5c,#ea7457,#ee7b51,#f2844b,#f58c46,#f89441,#fa9c3c,#fca537,#fdae32,#feb72d)"></i>
<i style="background:linear-gradient(90deg,#7701a8,#7a02a8,#7d03a8,#8004a8,#8305a7,#8707a6,#8a09a5,#8d0ba5,#8f0da4,#9613a1,#9d189d,#a31e9a,#a92395,#ae2892,#b42e8d,#ba3388,#bf3984,#c5407e,#cc4778,#d14e72,#d7566c,#dc5d67,#e26462,#e66c5c,#ea7457,#ee7b51,#f1834c,#f58c46,#f89441,#fa9c3c,#fca537,#fdae32,#feb72d)"></i>
<i style="background:linear-gradient(90deg,#7601a8,#7a02a8,#7d03a8,#8004a8,#8305a7,#8707a6,#8a09a5,#8d0ba5,#8f0da4,#9613a1,#9d189d,#a31e9a,#a92296,#ae2892,#b42e8d,#ba3388,#bf3984,#c5407e,#cc4778,#d14e72,#d6566c,#dc5d67,#e16462,#e66c5c,#ea7457,#ee7b51,#f1834c,#f58b47,#f79342,#fa9c3c,#fca437,#fdae32,#feb62d)"></i>
<i style="background:linear-gradient(90deg,#7501a8,#7902a8,#7d03a8,#8004a8,#8305a7,#8707a6,#8a09a5,#8d0ba5,#8f0da4,#9613a1,#9d189d,#a31e9a,#a92296,#ae2892,#b42e8d,#ba3388,#bf3984,#c5407e,#cc4678,#d14e72,#d6556d,#dc5d67,#e16462,#e66c5c,#ea7457,#ee7b51,#f1834c,#f58b47,#f79342,#fa9b3d,#fca437,#fdae32,#fdb62e)"></i>
<i style="background:linear-gradient(90deg,#7501a8,#7801a8,#7d03a8,#8004a8,#8305a7,#8606a6,#8a09a5,#8d0ba5,#8f0da4,#9613a1,#9d189d,#a21e9a,#a82296,#ae2892,#b42e8d,#ba3388,#bf3984,#c5407e,#cb4679,#d14e72,#d6556d,#dc5d67,#e16462,#e56b5d,#ea7457,#ee7b51,#f1834c,#f58b47,#f79342,#fa9b3d,#fca438,#fdad32,#fdb52e)"></i>
<i style="background:linear-gradient(90deg,#7401a8,#7801a8,#7b02a8,#8004a8,#8305a7,#8606a6,#8808a6,#8d0ba5,#8f0da4,#9613a1,#9c189e,#a21d9a,#a82296,#ae2892,#b42e8d,#b93388,#be3884,#c5407e,#cb4679,#d14e72,#d6556d,#dc5d67,#e16462,#e56b5d,#ea7457,#ee7b51,#f1834c,#f58b47,#f79342,#fa9b3d,#fca338,#fdad33,#fdb52e)"></i>
<i style="background:linear-gradient(90deg,#7401a8,#7801a8,#7b02a8,#7f04a8,#8305a7,#8606a6,#8808a6,#8c0aa5,#8f0da4,#9612a1,#9c179e,#a21d9a,#a82296,#ae2892,#b42d8d,#b93289,#be3885,#c5407e,#cb4679,#d14e72,#d6556d,#db5c68,#e16462,#e56b5d,#ea7357,#ee7b51,#f1834c,#f58b47,#f79342,#fa9b3d,#fca338,#fdac33,#fdb52e)"></i>
<i style="background:linear-gradient(90deg,#7401a8,#7801a8,#7b02a8,#7e03a8,#8205a7,#8606a6,#8808a6,#8b0aa5,#8f0da4,#9511a1,#9c179e,#a21d9a,#a82296,#ae2892,#b32c8e,#b83289,#be3885,#c5407e,#cb4679,#d04d73,#d6556d,#db5c68,#e16462,#e56b5d,#e97357,#ee7b51,#f1834c,#f58b47,#f79342,#fa9b3d,#fca338,#fdac33,#fdb52e)"></i>
<i style="background:linear-gradient(90deg,#7201a8,#7801a8,#7b02a8,#7e03a8,#8104a7,#8606a6,#8808a6,#8b0aa5,#8e0ca4,#9511a1,#9c179e,#a21d9a,#a82296,#ad2793,#b32c8e,#b83289,#be3885,#c53f7e,#cb4679,#d04d73,#d6556d,#db5c68,#e16462,#e56b5d,#e97357,#ed7a52,#f1824c,#f58b47,#f79342,#fa9b3d,#fca338,#fdac33,#fdb52e)"></i>
<i style="background:linear-gradient(90deg,#7201a8,#7801a8,#7b02a8,#7e03a8,#8104a7,#8505a7,#8808a6,#8b0aa5,#8e0ca4,#9511a1,#9c179e,#a21c9a,#a72197,#ad2793,#b32c8e,#b83289,#be3885,#c43f7f,#cb4679,#d04d73,#d6556d,#db5c68,#e06462,#e56b5d,#e97257,#ed7a52,#f1824d,#f58a47,#f79242,#fa9b3d,#fca338,#fdac33,#fdb52e)"></i>
<i style="background:linear-gradient(90deg,#7100a8,#7701a8,#7b02a8,#7e03a8,#8104a7,#8405a7,#8808a6,#8b0aa5,#8e0ca4,#9511a1,#9c179e,#a11c9b,#a72197,#ad2793,#b32c8e,#b83289,#be3885,#c43e7f,#cb4679,#d04d73,#d6546e,#db5c68,#e06363,#e56b5d,#e97257,#ed7a52,#f1824d,#f48a48,#f79243,#fa9b3d,#fca338,#fdac33,#fdb42e)"></i>
<i style="background:linear-gradient(90deg,#7100a8,#7701a8,#7a02a8,#7e03a8,#8104a7,#8405a7,#8707a6,#8b0aa5,#8e0ca4,#9511a1,#9b169f,#a11b9b,#a72197,#ad2793,#b32c8e,#b8328a,#be3885,#c43e7f,#ca457a,#d04d73,#d5546e,#db5c68,#e06363,#e56b5d,#e97257,#ed7a52,#f1814d,#f48a48,#f79143,#f99a3e,#fca338,#fdac33,#fdb42f)"></i>
<i style="background:linear-gradient(90deg,#7000a8,#7701a8,#7a02a8,#7d03a8,#8104a7,#8405a7,#8707a6,#8a09a5,#8e0ca4,#9410a2,#9a169f,#a11b9b,#a72197,#ad2793,#b22c8e,#b7318a,#be3885,#c43e7f,#ca457a,#d04d73,#d5546e,#db5c68,#e06363,#e56a5d,#e97257,#ed7a52,#f1814d,#f48948,#f79143,#f99a3e,#fba238,#fdac33,#fdb42f)"></i>
<i style="background:linear-gradient(90deg,#6f00a8,#7701a8,#7a02a8,#7d03a8,#8104a7,#8405a7,#8707a6,#8a09a5,#8e0ca4,#9410a2,#9a169f,#a11b9b,#a72197,#ac2694,#b22b8f,#b7318a,#be3886,#c43e7f,#ca457a,#d04d73,#d5546e,#db5c68,#e06363,#e56a5d,#e97257,#ed7a52,#f1814d,#f48948,#f79143,#f99a3e,#fba238,#fdab33,#fdb42f)"></i>
<i style="background:linear-gradient(90deg,#6f00a8,#7501a8,#7a02a8,#7d03a8,#8004a8,#8405a7,#8707a6,#8a09a5,#8d0ba5,#9410a2,#9a169f,#a11b9b,#a62098,#ac2694,#b22b8f,#b7318a,#bd3786,#c43e7f,#ca457a,#d04d73,#d5546e,#da5b69,#e06363,#e56a5d,#e97257,#ed7a52,#f1814d,#f48948,#f79143,#f99a3e,#fba238,#fdab33,#fdb42f)"></i>
<i style="background:linear-gradient(90deg,#6e00a8,#7501a8,#7a02a8,#7d03a8,#8004a8,#8305a7,#8707a6,#8a09a5,#8d0ba5,#9410a2,#9a169f,#a11b9b,#a62098,#ac2694,#b22b8f,#b7318a,#bd3786,#c43e7f,#ca457a,#cf4c74,#d5546e,#da5b69,#e06363,#e56a5d,#e97158,#ed7a52,#f1814d,#f48948,#f79143,#f99a3e,#fba238,#fdab33,#fdb42f)"></i>
<i style="background:linear-gradient(90deg,#6e00a8,#7401a8,#7902a8,#7d03a8,#8004a8,#8305a7,#8707a6,#8a09a5,#8d0ba5,#9410a2,#9a169f,#a01a9c,#a62098,#ac2694,#b22b8f,#b7318a,#bd3786,#c43e7f,#ca457a,#cf4c74,#d5546e,#da5b69,#e06363,#e56a5d,#e97158,#ed7953,#f1814d,#f48948,#f79143,#f99a3e,#fba238,#fdab33,#fdb42f)"></i>
<i style="background:linear-gradient(90deg,#6c00a8,#7401a8,#7801a8,#7d03a8,#8004a8,#8305a7,#8606a6,#8909a5,#8d0ba5,#9310a2,#99159f,#a01a9c,#a62098,#ac2694,#b22b8f,#b7318a,#bd3786,#c33d80,#ca457a,#cf4c74,#d5546e,#da5b69,#e06263,#e56a5d,#e97158,#ed7953,#f0804e,#f48948,#f79143,#f99a3e,#fba238,#fdab33,#fdb42f)"></i>
<i style="background:linear-gradient(90deg,#6c00a8,#7301a8,#7801a8,#7b02a8,#8004a8,#8305a7,#8606a6,#8808a6,#8d0ba5,#930fa3,#99159f,#a01a9c,#a62098,#ac2594,#b12a90,#b7318a,#bd3786,#c33d80,#ca457a,#cf4c74,#d5536f,#da5b69,#df6263,#e56a5d,#e97158,#ed7953,#f0804e,#f48849,#f79044,#f9993e,#fba238,#fdab33,#fdb32f)"></i>
<i style="background:linear-gradient(90deg,#6a00a8,#7201a8,#7801a8,#7b02a8,#7f04a8,#8305a7,#8606a6,#8808a6,#8c0aa5,#920fa3,#99159f,#a01a9c,#a62098,#ab2594,#b12a90,#b6308b,#bd3786,#c33d80,#c9447a,#cf4c74,#d5536f,#da5b69,#df6263,#e56a5d,#e97158,#ed7953,#f0804e,#f48849,#f79044,#f9993e,#fba238,#fdaa33,#fdb22f)"></i>
<i style="background:linear-gradient(90deg,#6a00a8,#7201a8,#7801a8,#7b02a8,#7e03a8,#8205a7,#8606a6,#8808a6,#8b0aa5,#920fa3,#99159f,#a01a9c,#a51f99,#ab2494,#b12a90,#b6308b,#bd3686,#c33d80,#c9447a,#cf4c74,#d5536f,#da5b69,#df6263,#e4695e,#e97158,#ed7953,#f0804e,#f48849,#f79044,#f9983e,#fba139,#fdaa33,#fdb22f)"></i>
<i style="background:linear-gradient(90deg,#6a00a8,#7100a8,#7801a8,#7b02a8,#7e03a8,#8104a7,#8606a6,#8808a6,#8b0aa5,#920fa3,#99159f,#9f1a9c,#a51f99,#ab2494,#b12a90,#b6308b,#bc3687,#c33d80,#c9447a,#cf4c74,#d5536f,#da5b69,#df6263,#e4695e,#e97158,#ed7953,#f0804e,#f48849,#f79044,#f9983e,#fba139,#fcaa34,#fdb22f)"></i>
<i style="background:linear-gradient(90deg,#6900a8,#7100a8,#7701a8,#7b02a8,#7e03a8,#8104a7,#8505a7,#8808a6,#8b0aa5,#920fa3,#99159f,#9f199d,#a51f99,#ab2494,#b12a90,#b6308b,#bc3687,#c33d80,#c9447a,#cf4c74,#d5536f,#da5a6a,#df6263,#e4695e,#e97158,#ed7953,#f0804e,#f48849,#f79044,#f9983e,#fba139,#fca934,#fdb22f)"></i>
<i style="background:linear-gradient(90deg,#6800a8,#7000a8,#7701a8,#7b02a8,#7e03a8,#8104a7,#8405a7,#8808a6,#8b0aa5,#920fa3,#9814a0,#9e199d,#a51f99,#ab2494,#b12a90,#b6308b,#bc3587,#c33d80,#c9447a,#ce4b75,#d5536f,#da5a6a,#df6263,#e4695e,#e87059,#ed7853,#f0804e,#f48849,#f79044,#f9983e,#fba139,#fca934,#fdb22f)"></i>
<i style="background:linear-gradient(90deg,#6700a8,#6f00a8,#7701a8,#7a02a8,#7e03a8,#8104a7,#8405a7,#8707a6,#8b0aa5,#910ea3,#9814a0,#9e199d,#a51f99,#ab2494,#b02991,#b6308b,#bc3587,#c33d80,#c9447a,#ce4b75,#d5536f,#da5a6a,#df6263,#e4695e,#e87059,#ec7854,#f0804e,#f48849,#f79044,#f9983e,#fba139,#fca934,#fdb22f)"></i>
<i style="background:linear-gradient(90deg,#6700a8,#6e00a8,#7601a8,#7a02a8,#7d03a8,#8104a7,#8405a7,#8707a6,#8a09a5,#910ea3,#9814a0,#9e199d,#a41f99,#aa2395,#b02991,#b6308b,#bc3587,#c23c81,#c9447a,#ce4b75,#d5536f,#da5a6a,#de6164,#e4695e,#e87059,#ec7854,#f07f4f,#f48849,#f79044,#f9983e,#fba139,#fca934,#fdb22f)"></i>
<i style="background:linear-gradient(90deg,#6600a7,#6e00a8,#7501a8,#7a02a8,#7d03a8,#8104a7,#8405a7,#8707a6,#8a09a5,#910ea3,#9814a0,#9e199d,#a41e9a,#aa2395,#b02991,#b6308b,#bc3587,#c23c81,#c9447a,#ce4b75,#d45270,#da5a6a,#de6164,#e4695e,#e87059,#ec7754,#f07f4f,#f3874a,#f68f44,#f9983e,#fba039,#fca934,#fdb130)"></i>
<i style="background:linear-gradient(90deg,#6600a7,#6d00a8,#7401a8,#7a02a8,#7d03a8,#8004a8,#8405a7,#8707a6,#8a09a5,#910ea3,#9814a0,#9e189d,#a31e9a,#aa2395,#b02991,#b52f8c,#bc3587,#c23c81,#c8437b,#ce4b75,#d45270,#da5a6a,#de6164,#e4695e,#e87059,#ec7754,#f07f4f,#f3874a,#f68f44,#f9973f,#fba039,#fca934,#fdb130)"></i>
<i style="background:linear-gradient(90deg,#6400a7,#6c00a8,#7401a8,#7a02a8,#7d03a8,#8004a8,#8305a7,#8707a6,#8a09a5,#910ea3,#9714a0,#9d189d,#a31e9a,#aa2395,#b02991,#b52f8c,#bc3587,#c23c81,#c8437b,#ce4b75,#d45270,#da596a,#de6164,#e3685f,#e87059,#ec7754,#f07f4f,#f3874a,#f68f44,#f9973f,#fba03a,#fca934,#fdb130)"></i>
<i style="background:linear-gradient(90deg,#6400a7,#6c00a8,#7301a8,#7902a8,#7d03a8,#8004a8,#8305a7,#8606a6,#8a09a5,#900ea4,#9613a1,#9d189d,#a31e9a,#aa2395,#b02991,#b52f8c,#bb3488,#c23c81,#c8437b,#ce4b75,#d45270,#da596a,#de6164,#e3685f,#e87059,#ec7754,#f07f4f,#f3874a,#f68f44,#f9973f,#fb9f3a,#fca835,#fdb130)"></i>
<i style="background:linear-gradient(90deg,#6400a7,#6a00a8,#7201a8,#7801a8,#7d03a8,#8004a8,#8305a7,#8606a6,#8909a5,#8f0da4,#9613a1,#9d189d,#a31e9a,#a92395,#b02991,#b52f8c,#bb3488,#c23c81,#c8437b,#ce4b75,#d45270,#d9596a,#de6164,#e3685f,#e87059,#ec7754,#f07f4f,#f3874a,#f68f44,#f9973f,#fb9f3a,#fca835,#fdb130)"></i>
<i style="background:linear-gradient(90deg,#6300a7,#6a00a8,#7201a8,#7801a8,#7b02a8,#8004a8,#8305a7,#8606a6,#8808a6,#8f0da4,#9613a1,#9d189d,#a31e9a,#a92296,#af2991,#b52f8c,#bb3488,#c23c81,#c8437b,#cd4a76,#d45270,#d9586a,#de6164,#e3685f,#e76f5a,#ec7754,#f07f4f,#f3874a,#f68f44,#f9973f,#fb9f3a,#fca835,#fdb130)"></i>
<i style="background:linear-gradient(90deg,#6200a7,#6900a8,#7100a8,#7801a8,#7b02a8,#7f04a8,#8305a7,#8606a6,#8808a6,#8f0da4,#9613a1,#9d189d,#a21d9a,#a82296,#af2892,#b52f8c,#bb3488,#c23c81,#c8437b,#cd4a76,#d45270,#d9586a,#de6064,#e3685f,#e76f5a,#eb7655,#f07f4f,#f3864a,#f68e44,#f9973f,#fb9f3a,#fca835,#fdb130)"></i>
<i style="background:linear-gradient(90deg,#6100a7,#6900a8,#7100a8,#7801a8,#7b02a8,#7e03a8,#8205a7,#8606a6,#8808a6,#8f0da4,#9612a1,#9c179e,#a21d9a,#a82296,#ae2892,#b52f8c,#bb3488,#c13b82,#c8437b,#cd4a76,#d45270,#d9586a,#de6065,#e3685f,#e76f5a,#eb7655,#ef7e50,#f3864a,#f68e44,#f9963f,#fb9f3a,#fca835,#fdb030)"></i>
<i style="background:linear-gradient(90deg,#6100a7,#6800a8,#7000a8,#7701a8,#7b02a8,#7e03a8,#8104a7,#8606a6,#8808a6,#8f0da4,#9512a1,#9c179e,#a21d9a,#a82296,#ae2892,#b42e8c,#bb3488,#c13b82,#c8437b,#cd4a76,#d35171,#d9586a,#de6065,#e3675f,#e76f5a,#eb7655,#ef7e50,#f3864b,#f68e45,#f9963f,#fb9f3a,#fca835,#fdb031)"></i>
<i style="background:linear-gradient(90deg,#6001a6,#6700a8,#6f00a8,#7701a8,#7b02a8,#7e03a8,#8104a7,#8405a7,#8808a6,#8e0ca4,#9511a1,#9c179e,#a21d9a,#a82296,#ae2892,#b42e8d,#bb3488,#c13b82,#c7427c,#cd4a76,#d35171,#d9586a,#de5f65,#e26760,#e76f5a,#eb7655,#ef7e50,#f3854b,#f68d45,#f89640,#fb9f3a,#fca735,#fdaf31)"></i>
<i style="background:linear-gradient(90deg,#6001a6,#6700a8,#6e00a8,#7601a8,#7b02a8,#7e03a8,#8104a7,#8405a7,#8808a6,#8e0ca4,#9511a1,#9c179e,#a21d9a,#a82296,#ae2892,#b42e8d,#bb3488,#c13b82,#c7427c,#cd4a76,#d35171,#d9586a,#de5f65,#e26760,#e76f5a,#eb7655,#ef7e50,#f3854b,#f68d45,#f89540,#fa9e3b,#fca736,#fdaf31)"></i>
<i style="background:linear-gradient(90deg,#5e01a6,#6600a7,#6e00a8,#7501a8,#7a02a8,#7e03a8,#8104a7,#8405a7,#8707a6,#8e0ca4,#9511a1,#9c179e,#a21c9a,#a82296,#ae2892,#b42e8d,#ba3388,#c13b82,#c7427c,#cd4a76,#d35171,#d9586a,#de5f65,#e26660,#e76f5a,#eb7655,#ef7e50,#f3854b,#f68d45,#f89540,#fa9e3b,#fca736,#fdaf31)"></i>
<i style="background:linear-gradient(90deg,#5e01a6,#6600a7,#6d00a8,#7501a8,#7a02a8,#7d03a8,#8104a7,#8405a7,#8707a6,#8e0ca4,#9511a1,#9b179e,#a11b9b,#a72197,#ae2892,#b42e8d,#ba3388,#c13b82,#c7427c,#cc4a76,#d35171,#d8576b,#de5f65,#e26660,#e76f5a,#eb7655,#ef7e50,#f3854b,#f68d45,#f89540,#fa9e3b,#fca636,#fdaf31)"></i>
<i style="background:linear-gradient(90deg,#5d01a6,#6400a7,#6c00a8,#7401a8,#7a02a8,#7d03a8,#8104a7,#8405a7,#8707a6,#8e0ca4,#9511a1,#9b169f,#a11b9b,#a72197,#ae2892,#b42e8d,#ba3388,#c13b82,#c7427c,#cc4977,#d35171,#d8576b,#de5f65,#e26660,#e76e5b,#eb7655,#ef7e50,#f3854b,#f68d45,#f89540,#fa9e3b,#fca636,#fdaf31)"></i>
<i style="background:linear-gradient(90deg,#5c01a6,#6400a7,#6c00a8,#7401a8,#7a02a8,#7d03a8,#8004a8,#8405a7,#8707a6,#8e0ca4,#9410a2,#9a169f,#a11b9b,#a72197,#ad2793,#b42e8d,#ba3388,#c13b82,#c7427c,#cc4977,#d35171,#d8576b,#de5f65,#e26660,#e76e5b,#eb7556,#ef7d50,#f3854b,#f68d45,#f89540,#fa9e3b,#fca636,#fdaf31)"></i>
<i style="background:linear-gradient(90deg,#5c01a6,#6300a7,#6a00a8,#7201a8,#7a02a8,#7d03a8,#8004a8,#8305a7,#8707a6,#8d0ba5,#9410a2,#9a169f,#a11b9b,#a72197,#ad2793,#b42d8d,#ba3388,#c03a83,#c7427c,#cc4977,#d35071,#d8576b,#dd5e66,#e26660,#e76e5b,#eb7556,#ef7d51,#f3854b,#f68d45,#f89540,#fa9e3b,#fca636,#fdaf31)"></i>
<i style="background:linear-gradient(90deg,#5b01a5,#6300a7,#6a00a8,#7201a8,#7902a8,#7d03a8,#8004a8,#8305a7,#8606a6,#8d0ba5,#9410a2,#9a169f,#a11b9b,#a72197,#ad2793,#b42d8e,#ba3388,#c03a83,#c7427c,#cc4977,#d25071,#d8576b,#dd5e66,#e26660,#e76e5b,#eb7556,#ef7c51,#f2844b,#f58c46,#f89540,#fa9d3b,#fca636,#fdae32)"></i>
<i style="background:linear-gradient(90deg,#5b01a5,#6200a7,#6900a8,#7100a8,#7801a8,#7d03a8,#8004a8,#8305a7,#8606a6,#8d0ba5,#9410a2,#9a169f,#a01a9c,#a72197,#ad2793,#b32d8e,#ba3388,#c03a83,#c6417d,#cc4977,#d25071,#d8576b,#dd5e66,#e26660,#e76e5b,#eb7556,#ef7c51,#f2844b,#f58c46,#f89441,#fa9d3c,#fca636,#fdae32)"></i>
<i style="background:linear-gradient(90deg,#5901a5,#6100a7,#6900a8,#7100a8,#7801a8,#7b02a8,#8004a8,#8305a7,#8606a6,#8d0ba5,#9410a2,#9a169f,#a01a9c,#a72197,#ad2793,#b32c8e,#b93388,#c03a83,#c6417d,#cc4977,#d24f71,#d8576b,#dd5e66,#e26561,#e76e5b,#eb7556,#ef7c51,#f2844b,#f58c46,#f89441,#fa9d3c,#fca636,#fdae32)"></i>
<i style="background:linear-gradient(90deg,#5901a5,#6100a7,#6800a8,#7000a8,#7801a8,#7b02a8,#7f04a8,#8305a7,#8606a6,#8d0ba5,#9310a2,#99159f,#a01a9c,#a62098,#ad2793,#b32c8e,#b93289,#c03a83,#c6417d,#cc4877,#d24f71,#d8566c,#dd5e66,#e26561,#e76e5b,#eb7556,#ef7c51,#f2844b,#f58c46,#f89441,#fa9c3c,#fca537,#fdae32)"></i>
<i style="background:linear-gradient(90deg,#5801a4,#6001a6,#6700a8,#6f00a8,#7701a8,#7b02a8,#7e03a8,#8205a7,#8606a6,#8c0ba5,#930fa3,#99159f,#a01a9c,#a62098,#ad2793,#b32c8e,#b83289,#c03a83,#c6417d,#cc4878,#d24f71,#d7566c,#dd5e66,#e26561,#e76d5b,#eb7556,#ef7c51,#f2844b,#f58c46,#f89441,#fa9c3c,#fca537,#fdae32)"></i>
<i style="background:linear-gradient(90deg,#5801a4,#6001a6,#6700a8,#6f00a8,#7601a8,#7b02a8,#7e03a8,#8104a7,#8606a6,#8c0aa5,#920fa3,#99159f,#a01a9c,#a62098,#ad2793,#b32c8e,#b83289,#c03a83,#c6417d,#cc4878,#d24f71,#d7566c,#dd5e66,#e26561,#e66d5c,#eb7556,#ef7c51,#f2844b,#f58c46,#f89441,#fa9c3c,#fca537,#fdae32)"></i>
<i style="background:linear-gradient(90deg,#5701a4,#5e01a6,#6600a7,#6e00a8,#7501a8,#7b02a8,#7e03a8,#8104a7,#8505a7,#8b0aa5,#920fa3,#99159f,#a01a9c,#a62098,#ac2694,#b32c8e,#b83289,#c03a84,#c6417d,#cc4778,#d24f71,#d7566c,#dd5e66,#e26561,#e66c5c,#ea7457,#ef7c51,#f2844b,#f58c46,#f89441,#fa9c3c,#fca537,#fdae32)"></i>
<i style="background:linear-gradient(90deg,#5601a4,#5e01a6,#6600a7,#6e00a8,#7501a8,#7b02a8,#7e03a8,#8104a7,#8405a7,#8b0aa5,#920fa3,#99159f,#a01a9c,#a62098,#ac2694,#b32c8e,#b83289,#bf3984,#c6417d,#cc4778,#d24f71,#d7566c,#dc5d67,#e26561,#e66c5c,#ea7457,#ee7b51,#f2844b,#f58c46,#f89441,#fa9c3c,#fca537,#fdad32)"></i>
<i style="background:linear-gradient(90deg,#5601a4,#5d01a6,#6400a7,#6c00a8,#7401a8,#7a02a8,#7e03a8,#8104a7,#8405a7,#8b0aa5,#920fa3,#99159f,#9f1a9c,#a62098,#ac2694,#b22c8e,#b83289,#bf3984,#c6417d,#cc4778,#d14e72,#d7566c,#dc5d67,#e26561,#e66c5c,#ea7457,#ee7b51,#f1834c,#f58b47,#f89442,#fa9c3c,#fca537,#fdad33)"></i>
<i style="background:linear-gradient(90deg,#5502a4,#5c01a6,#6400a7,#6c00a8,#7401a8,#7a02a8,#7d03a8,#8104a7,#8405a7,#8b0aa5,#920fa3,#9814a0,#9f199d,#a62098,#ac2694,#b22b8f,#b83289,#bf3984,#c5407e,#cc4778,#d14e72,#d7566c,#dc5d67,#e26462,#e66c5c,#ea7457,#ee7b51,#f1834c,#f58b47,#f79342,#fa9c3c,#fca437,#fdac33)"></i>
<i style="background:linear-gradient(90deg,#5502a4,#5c01a6,#6300a7,#6b00a8,#7301a8,#7a02a8,#7d03a8,#8004a8,#8405a7,#8a0aa5,#910ea3,#9814a0,#9e199d,#a62098,#ac2694,#b22b8f,#b83289,#bf3984,#c5407e,#cc4778,#d14e72,#d7566c,#dc5d67,#e16462,#e66c5c,#ea7457,#ee7b51,#f1834c,#f58b47,#f79342,#fa9b3d,#fca438,#fdac33)"></i>
<i style="background:linear-gradient(90deg,#5402a3,#5b01a5,#6300a7,#6a00a8,#7201a8,#7a02a8,#7d03a8,#8004a8,#8405a7,#8a09a5,#910ea3,#9814a0,#9e199d,#a62098,#ac2694,#b22b8f,#b7318a,#bf3984,#c5407e,#cc4778,#d14e72,#d6566c,#dc5d67,#e16462,#e66c5c,#ea7457,#ee7b51,#f1834c,#f58b47,#f79342,#fa9b3d,#fca438,#fdac33)"></i>
<i style="background:linear-gradient(90deg,#5302a3,#5a01a5,#6200a7,#6a00a8,#7200a8,#7902a8,#7d03a8,#8004a8,#8305a7,#8a09a5,#910ea3,#9814a0,#9e199d,#a51f99,#ac2694,#b22b8f,#b7318a,#bf3984,#c5407e,#cc4678,#d14e72,#d6556d,#dc5d67,#e16462,#e66c5c,#ea7457,#ee7b51,#f1834c,#f58b47,#f79342,#fa9b3d,#fca338,#fdac33)"></i>
<i style="background:linear-gradient(90deg,#5202a3,#5901a5,#6100a7,#6900a8,#7100a8,#7801a8,#7d03a8,#8004a8,#8305a7,#8a09a5,#910ea3,#9814a0,#9e199d,#a51f99,#ac2594,#b22b8f,#b7318a,#bf3984,#c5407e,#cb4679,#d14e72,#d6556d,#dc5d67,#e16462,#e56b5d,#ea7357,#ee7b51,#f1834c,#f58b47,#f79342,#fa9b3d,#fca338,#fdac33)"></i>
<i style="background:linear-gradient(90deg,#5102a3,#5901a5,#6100a7,#6800a8,#7000a8,#7801a8,#7d03a8,#8004a8,#8305a7,#8a09a5,#910ea3,#9714a0,#9e199d,#a51f99,#ab2594,#b22b8f,#b7318a,#be3884,#c5407e,#cb4679,#d14e72,#d6556d,#dc5d67,#e16462,#e56b5d,#e97357,#ee7b51,#f1824c,#f58a47,#f79342,#fa9b3d,#fca338,#fdac33)"></i>
<i style="background:linear-gradient(90deg,#5102a3,#5801a4,#6001a6,#6700a8,#6f00a8,#7701a8,#7b02a8,#8004a8,#8305a7,#8a09a5,#900ea4,#9713a1,#9e199d,#a51f99,#ab2494,#b22b8f,#b7318a,#be3885,#c5407e,#cb4679,#d14e72,#d6556d,#db5c68,#e16462,#e56b5d,#e97257,#ed7a52,#f1824c,#f48a48,#f79242,#fa9b3d,#fca338,#fdac33)"></i>
<i style="background:linear-gradient(90deg,#5002a2,#5801a4,#6001a6,#6700a8,#6f00a8,#7701a8,#7b02a8,#7f03a8,#8305a7,#8908a6,#8f0da4,#9613a1,#9e199d,#a51f99,#ab2494,#b22a90,#b7318a,#be3885,#c53f7e,#cb4679,#d04d73,#d6556d,#db5c68,#e16462,#e56b5d,#e97257,#ed7a52,#f1824d,#f48a48,#f79242,#fa9b3d,#fca338,#fdab33)"></i>
<i style="background:linear-gradient(90deg,#5002a2,#5701a4,#5e01a6,#6600a7,#6e00a8,#7501a8,#7b02a8,#7e03a8,#8205a7,#8808a6,#8f0da4,#9613a1,#9d189d,#a51f99,#ab2494,#b12a90,#b7318a,#be3885,#c43f7f,#cb4679,#d04d73,#d6556d,#db5c68,#e06363,#e56b5d,#e97257,#ed7a52,#f1814d,#f48948,#f79243,#fa9a3e,#fca338,#fdab33)"></i>
<i style="background:linear-gradient(90deg,#4e02a2,#5601a4,#5e01a6,#6600a7,#6e00a8,#7501a8,#7b02a8,#7e03a8,#8104a7,#8808a6,#8f0da4,#9613a1,#9d189d,#a41f99,#ab2494,#b12a90,#b7318a,#be3885,#c43e7f,#cb4679,#d04d73,#d6556d,#db5c68,#e06363,#e56b5d,#e97257,#ed7a52,#f1814d,#f48948,#f79143,#f99a3e,#fca238,#fdab33)"></i>
<i style="background:linear-gradient(90deg,#4e02a2,#5601a4,#5d01a6,#6500a7,#6d00a8,#7401a8,#7b02a8,#7e03a8,#8104a7,#8808a6,#8f0da4,#9613a1,#9d189d,#a41e9a,#ab2494,#b12a90,#b6308b,#be3885,#c43e7f,#cb4679,#d04d73,#d6546e,#db5c68,#e06363,#e56b5d,#e97257,#ed7a52,#f1814d,#f48948,#f79143,#f99a3e,#fba238,#fdab33)"></i>
<i style="background:linear-gradient(90deg,#4c02a1,#5502a4,#5c01a6,#6400a7,#6c00a8,#7401a8,#7b02a8,#7e03a8,#8104a7,#8808a6,#8f0da4,#9613a1,#9d189d,#a41e9a,#ab2494,#b12a90,#b6308b,#be3885,#c43e7f,#ca467a,#d04d73,#d5546e,#db5c68,#e06363,#e56b5d,#e97257,#ed7a52,#f1814d,#f48948,#f79143,#f99a3e,#fba238,#fdab33)"></i>
<i style="background:linear-gradient(90deg,#4c02a1,#5502a4,#5c01a6,#6400a7,#6b00a8,#7301a8,#7a02a8,#7e03a8,#8104a7,#8808a6,#8e0ca4,#9613a1,#9d189d,#a31e9a,#ab2494,#b12a90,#b6308b,#be3885,#c43e7f,#ca457a,#d04d73,#d5546e,#db5c68,#e06363,#e56a5d,#e97257,#ed7a52,#f1814d,#f48948,#f79143,#f99a3e,#fba238,#fdab33)"></i>
<i style="background:linear-gradient(90deg,#4c02a1,#5302a3,#5b01a5,#6300a7,#6a00a8,#7201a8,#7a02a8,#7d03a8,#8104a7,#8707a6,#8e0ca4,#9612a1,#9d189d,#a31e9a,#aa2395,#b12a90,#b6308b,#be3886,#c43e7f,#ca457a,#d04d73,#d5546e,#db5c68,#e06363,#e56a5d,#e97158,#ed7a52,#f1814d,#f48948,#f79143,#f99a3e,#fba238,#fdab33)"></i>
<i style="background:linear-gradient(90deg,#4b03a1,#5302a3,#5b01a5,#6300a7,#6a00a8,#7201a8,#7902a8,#7d03a8,#8004a8,#8707a6,#8e0ca4,#9512a1,#9d189d,#a31e9a,#aa2395,#b12a90,#b6308b,#bd3786,#c43e7f,#ca457a,#d04d73,#d5546e,#da5b69,#e06363,#e56a5d,#e97158,#ed7953,#f1814d,#f48848,#f79143,#f99a3e,#fba238,#fdaa33)"></i>
<i style="background:linear-gradient(90deg,#4a03a1,#5202a3,#5901a5,#6100a7,#6900a8,#7100a8,#7801a8,#7d03a8,#8004a8,#8707a6,#8e0ca4,#9512a1,#9d189d,#a31e9a,#aa2395,#b02991,#b6308b,#bd3786,#c43e7f,#ca457a,#cf4c74,#d5546e,#da5b69,#e06363,#e56a5d,#e97158,#ed7953,#f0804e,#f48849,#f79044,#f9993e,#fba238,#fcaa34)"></i>
<i style="background:linear-gradient(90deg,#4903a0,#5102a3,#5901a5,#6100a7,#6900a8,#7100a8,#7801a8,#7d03a8,#8004a8,#8707a6,#8e0ca4,#9511a1,#9c179e,#a31e9a,#aa2395,#b02991,#b6308b,#bd3786,#c33d80,#ca457a,#cf4c74,#d5546e,#da5b69,#df6263,#e56a5d,#e97158,#ed7953,#f0804e,#f48849,#f79044,#f9993e,#fba238,#fca934)"></i>
<i style="background:linear-gradient(90deg,#4903a0,#5002a2,#5801a4,#6001a6,#6800a8,#7000a8,#7701a8,#7d03a8,#8004a8,#8707a6,#8e0ca4,#9511a1,#9c179e,#a31e9a,#aa2395,#b02991,#b6308b,#bd3786,#c33d80,#ca457a,#cf4c74,#d5546e,#da5b69,#df6263,#e56a5d,#e97158,#ed7953,#f0804e,#f48849,#f79044,#f9993e,#fba139,#fca934)"></i>
<i style="background:linear-gradient(90deg,#48039f,#5002a2,#5801a4,#6001a6,#6700a8,#6f00a8,#7701a8,#7c03a8,#8004a8,#8707a6,#8e0ca4,#9511a1,#9c179e,#a21d9a,#aa2395,#b02991,#b52f8c,#bd3786,#c33d80,#ca457a,#cf4c74,#d5546e,#da5b69,#df6263,#e56a5d,#e97158,#ed7953,#f0804e,#f48849,#f79044,#f9983e,#fba139,#fca934)"></i>
<i style="background:linear-gradient(90deg,#48039f,#4f02a2,#5701a4,#5f01a6,#6600a8,#6e00a8,#7601a8,#7b02a8,#8004a8,#8606a6,#8e0ca4,#9511a1,#9c179e,#a21d9a,#aa2395,#b02991,#b52f8c,#bd3786,#c33d80,#c9447a,#cf4c74,#d5536f,#da5b69,#df6263,#e56a5d,#e97158,#ed7953,#f0804e,#f48849,#f79044,#f9983e,#fba139,#fca934)"></i>
<i style="background:linear-gradient(90deg,#46039f,#4e02a2,#5601a4,#5e01a6,#6600a7,#6e00a8,#7501a8,#7b02a8,#7f03a8,#8606a6,#8d0ba5,#9511a1,#9c179e,#a21d9a,#a92395,#b02991,#b52f8c,#bd3686,#c33d80,#c9447a,#cf4c74,#d5536f,#da5b69,#df6263,#e4695e,#e97158,#ed7853,#f0804e,#f48849,#f79044,#f9983e,#fba139,#fca934)"></i>
<i style="background:linear-gradient(90deg,#46039f,#4e02a2,#5601a4,#5d01a6,#6500a7,#6d00a8,#7501a8,#7b02a8,#7e03a8,#8606a6,#8d0ba5,#9511a1,#9c179e,#a21d9a,#a92296,#b02991,#b52f8c,#bc3686,#c33d80,#c9447a,#cf4c74,#d5536f,#da5b69,#df6263,#e4695e,#e87059,#ed7853,#f0804e,#f48849,#f79044,#f9983e,#fba139,#fca934)"></i>
<i style="background:linear-gradient(90deg,#45039e,#4c02a1,#5502a4,#5c01a6,#6400a7,#6c00a8,#7401a8,#7b02a8,#7e03a8,#8606a6,#8d0ba5,#9410a2,#9c179e,#a21d9a,#a82296,#af2991,#b52f8c,#bc3687,#c33d80,#c9447a,#cf4c74,#d5536f,#da5a6a,#df6263,#e4695e,#e87059,#ec7854,#f0804e,#f4884a,#f79044,#f9983e,#fba139,#fca934)"></i>
<i style="background:linear-gradient(90deg,#44039e,#4c02a1,#5502a4,#5c01a6,#6400a7,#6c00a8,#7401a8,#7b02a8,#7e03a8,#8606a6,#8d0ba5,#9410a2,#9b179e,#a21d9a,#a82296,#af2892,#b52f8c,#bc3587,#c33d80,#c9447a,#ce4b75,#d5536f,#da5a6a,#df6263,#e4695e,#e87059,#ec7754,#f07f4f,#f3874a,#f68f44,#f9983e,#fba139,#fca835)"></i>
<i style="background:linear-gradient(90deg,#44039e,#4b03a1,#5302a3,#5b01a5,#6300a7,#6a00a8,#7201a8,#7a02a8,#7e03a8,#8506a6,#8d0ba5,#9410a2,#9b169f,#a21d9a,#a82296,#ae2892,#b52f8c,#bc3587,#c23c81,#c9447a,#ce4b75,#d5536f,#da5a6a,#de6164,#e4695e,#e87059,#ec7754,#f07f4f,#f3874a,#f68f44,#f9973f,#fba039,#fca835)"></i>
<i style="background:linear-gradient(90deg,#43039e,#4b03a1,#5302a3,#5b01a5,#6300a7,#6a00a8,#7201a8,#7a02a8,#7e03a8,#8505a7,#8d0ba5,#9410a2,#9a169f,#a21c9a,#a82296,#ae2892,#b52f8c,#bc3587,#c23c81,#c9447a,#ce4b75,#d5536f,#da5a6a,#de6164,#e4695e,#e87059,#ec7754,#f07f4f,#f3874a,#f68f44,#f9973f,#fba03a,#fca835)"></i>
<i style="background:linear-gradient(90deg,#43039e,#4a03a0,#5202a3,#5a01a5,#6200a7,#6900a8,#7100a8,#7801a8,#7d03a8,#8405a7,#8c0ba5,#9410a2,#9a169f,#a11c9b,#a82296,#ae2892,#b42e8d,#bc3587,#c23c81,#c9447a,#ce4b75,#d45270,#da5a6a,#de6164,#e4695e,#e87059,#ec7754,#f07f4f,#f3874a,#f68f44,#f9973f,#fba03a,#fca835)"></i>
<i style="background:linear-gradient(90deg,#41049d,#4903a0,#5102a3,#5901a5,#6100a7,#6900a8,#7100a8,#7801a8,#7d03a8,#8405a7,#8c0aa5,#9410a2,#9a169f,#a11c9b,#a82296,#ae2892,#b42e8d,#bc3587,#c23c81,#c8437b,#ce4b75,#d45270,#da5a6a,#de6164,#e4695e,#e87059,#ec7754,#f07f4f,#f3874a,#f68f44,#f9973f,#fb9f3a,#fca835)"></i>
<i style="background:linear-gradient(90deg,#41049d,#4903a0,#5002a2,#5801a4,#6000a6,#6800a8,#7000a8,#7701a8,#7d03a8,#8405a7,#8c0aa5,#9410a2,#9a169f,#a11b9b,#a82296,#ae2892,#b42e8d,#bc3587,#c23c81,#c8437b,#ce4b75,#d45270,#da5a6a,#de6164,#e3685f,#e8705a,#ec7754,#f07f4f,#f3874a,#f68f44,#f9973f,#fb9f3a,#fca835)"></i>
<i style="background:linear-gradient(90deg,#40049c,#48039f,#5002a2,#5801a4,#6001a6,#6700a8,#6f00a8,#7701a8,#7d03a8,#8405a7,#8b0aa5,#9310a2,#9a169f,#a11b9b,#a72197,#ae2892,#b42e8d,#bb3488,#c23c81,#c8437b,#ce4b75,#d45270,#da596a,#de6164,#e3685f,#e76f5a,#ec7654,#f07f4f,#f3864a,#f68f44,#f9973f,#fb9f3a,#fca835)"></i>
<i style="background:linear-gradient(90deg,#3f049c,#48039f,#4f02a2,#5701a4,#5f01a6,#6700a8,#6f00a8,#7601a8,#7d03a8,#8405a7,#8b0aa5,#930fa3,#9a169f,#a11b9b,#a72197,#ae2892,#b42e8d,#bb3488,#c23c81,#c8437b,#ce4b75,#d45270,#d9596a,#de6164,#e3685f,#e76f5a,#eb7655,#f07e50,#f3864b,#f68e44,#f9973f,#fb9f3a,#fca735)"></i>
<i style="background:linear-gradient(90deg,#3e049c,#46039f,#4e02a2,#5601a4,#5e01a6,#6600a7,#6e00a8,#7501a8,#7c03a8,#8405a7,#8b0aa5,#920fa3,#9a169f,#a11b9b,#a72197,#ad2793,#b42e8d,#bb3488,#c23c81,#c8437b,#cd4a76,#d45270,#d9586a,#de6064,#e3685f,#e76f5a,#eb7655,#ef7e50,#f3864b,#f68e45,#f9963f,#fb9f3a,#fca736)"></i>
<i style="background:linear-gradient(90deg,#3e049c,#46039f,#4e02a2,#5601a4,#5e01a6,#6600a7,#6e00a8,#7501a8,#7b02a8,#8405a7,#8b0aa5,#920fa3,#99159f,#a11b9b,#a72197,#ad2793,#b42e8d,#bb3488,#c13b82,#c8437b,#cd4a76,#d45270,#d9586a,#de6065,#e3685f,#e76f5a,#eb7655,#ef7e50,#f3854b,#f68e45,#f89640,#fb9f3a,#fca636)"></i>
<i style="background:linear-gradient(90deg,#3e049c,#45039e,#4c02a1,#5502a4,#5c01a6,#6400a7,#6c00a8,#7401a8,#7b02a8,#8305a7,#8b0aa5,#920fa3,#99159f,#a11b9b,#a72197,#ad2793,#b42d8d,#bb3488,#c13b82,#c8437b,#cd4a76,#d45270,#d9586a,#de6065,#e3685f,#e76f5a,#eb7655,#ef7e50,#f3854b,#f68d45,#f89640,#fa9e3b,#fca636)"></i>
<i style="background:linear-gradient(90deg,#3d049b,#44039e,#4c02a1,#5502a4,#5c01a6,#6400a7,#6c00a8,#7401a8,#7b02a8,#8305a7,#8b0aa5,#920fa3,#99159f,#a11b9b,#a72197,#ad2793,#b32d8e,#bb3488,#c13b82,#c8437b,#cd4a76,#d45270,#d9586a,#de5f65,#e3685f,#e76f5a,#eb7655,#ef7e50,#f3854b,#f68d45,#f89540,#fa9e3b,#fca636)"></i>
<i style="background:linear-gradient(90deg,#3c049b,#44039e,#4c02a1,#5502a4,#5c01a6,#6400a7,#6c00a8,#7401a8,#7b02a8,#8305a7,#8b0aa5,#920fa3,#99159f,#a01a9c,#a72197,#ad2793,#b32d8e,#bb3488,#c13b82,#c8437b,#cd4a76,#d35171,#d9586a,#de5f65,#e3685f,#e76f5a,#eb7655,#ef7e50,#f3854b,#f68d45,#f89540,#fa9e3b,#fca636)"></i>
<i style="background:linear-gradient(90deg,#3c049b,#44039e,#4c02a1,#5402a4,#5c01a6,#6400a7,#6b00a8,#7301a8,#7b02a8,#8305a7,#8b0aa5,#920fa3,#99159f,#a01a9c,#a72197,#ad2793,#b32c8e,#bb3488,#c13b82,#c8427c,#cd4a76,#d35171,#d9586a,#de5f65,#e3675f,#e76f5a,#eb7655,#ef7e50,#f3854b,#f68d45,#f89540,#fa9e3b,#fca636)"></i>
<i style="background:linear-gradient(90deg,#3c049b,#43039e,#4b03a1,#5302a3,#5b01a5,#6300a7,#6a00a8,#7201a8,#7b02a8,#8305a7,#8a09a5,#920fa3,#99159f,#a01a9c,#a72197,#ad2793,#b32c8e,#bb3488,#c13b82,#c7427c,#cd4a76,#d35171,#d9586a,#de5f65,#e3675f,#e76f5a,#eb7655,#ef7e50,#f3854b,#f68d45,#f89540,#fa9e3b,#fca636)"></i>
<i style="background:linear-gradient(90deg,#3b049a,#43039e,#4b03a1,#5302a3,#5b01a5,#6300a7,#6a00a8,#7201a8,#7a02a8,#8305a7,#8a09a5,#920fa3,#99159f,#a01a9c,#a72197,#ad2793,#b32c8e,#bb3488,#c13b82,#c7427c,#cd4a76,#d35171,#d9586a,#de5f65,#e3675f,#e76e5b,#eb7655,#ef7e50,#f3854b,#f68d45,#f89540,#fa9e3b,#fca636)"></i>
<i style="background:linear-gradient(90deg,#3a049a,#43039e,#4b03a1,#5302a3,#5b01a5,#6300a7,#6a00a8,#7201a8,#7a02a8,#8305a7,#8a09a5,#920fa3,#99159f,#a01a9c,#a62098,#ad2793,#b32c8e,#bb3488,#c13b82,#c7427c,#cd4a76,#d35171,#d9586a,#de5f65,#e26760,#e76e5b,#eb7556,#ef7d50,#f3854b,#f68d45,#f89540,#fa9e3b,#fca636)"></i>
<i style="background:linear-gradient(90deg,#3a049a,#43039e,#4a03a1,#5202a3,#5a01a5,#6200a7,#6a00a8,#7100a8,#7a02a8,#8305a7,#8a09a5,#920fa3,#99159f,#a01a9c,#a62098,#ad2793,#b32c8e,#ba3388,#c13b82,#c7427c,#cd4a76,#d35171,#d8586a,#de5f65,#e26760,#e76e5b,#eb7556,#ef7d51,#f2844b,#f68d45,#f89540,#fa9e3b,#fca636)"></i>
<i style="background:linear-gradient(90deg,#3a049a,#42049d,#4903a0,#5102a3,#5901a5,#6100a7,#6900a8,#7100a8,#7a02a8,#8305a7,#8a09a5,#910ea3,#99159f,#a01a9c,#a62098,#ad2793,#b32c8e,#ba3388,#c13b82,#c7427c,#cd4a76,#d35171,#d8576b,#de5f65,#e26760,#e76e5b,#eb7556,#ef7d51,#f2844b,#f58c46,#f89540,#fa9e3b,#fca537)"></i>
<i style="background:linear-gradient(90deg,#39049a,#41049d,#4903a0,#5102a3,#5901a5,#6100a7,#6900a8,#7100a8,#7a02a8,#8305a7,#8a09a5,#910ea3,#99159f,#a01a9c,#a62098,#ad2793,#b32c8e,#ba3388,#c13b82,#c7427c,#cc4977,#d35171,#d8576b,#de5f65,#e26660,#e76e5b,#eb7556,#ef7c51,#f2844b,#f58c46,#f89540,#fa9d3b,#fca537)"></i>
<i style="background:linear-gradient(90deg,#38049a,#41049d,#4903a0,#5102a3,#5901a5,#6100a7,#6900a8,#7100a8,#7902a8,#8205a7,#8a09a5,#910ea3,#9814a0,#a01a9c,#a62098,#ac2694,#b32c8e,#ba3388,#c03a82,#c7427c,#cc4977,#d35171,#d8576b,#de5f65,#e26660,#e76e5b,#eb7556,#ef7c51,#f2844b,#f58c46,#f89441,#fa9d3b,#fca537)"></i>
<i style="background:linear-gradient(90deg,#38049a,#41049d,#4903a0,#5102a3,#5901a5,#6100a7,#6800a8,#7000a8,#7901a8,#8205a7,#8a09a5,#910ea3,#9814a0,#a01a9c,#a62098,#ac2694,#b32c8e,#ba3388,#c03a83,#c7427c,#cc4977,#d35171,#d8576b,#de5e66,#e26660,#e76e5b,#eb7556,#ef7c51,#f2844b,#f58c46,#f89441,#fa9d3c,#fca537)"></i>
<i style="background:linear-gradient(90deg,#38049a,#40049c,#48039f,#5002a2,#5801a4,#6001a6,#6700a8,#7000a8,#7801a8,#8204a7,#8a09a5,#910ea3,#9814a0,#a01a9c,#a62098,#ac2694,#b32c8e,#ba3388,#c03a83,#c7427c,#cc4977,#d35071,#d8576b,#dd5e66,#e26660,#e76e5b,#eb7556,#ef7c51,#f2844b,#f58c46,#f89441,#fa9c3c,#fca537)"></i>
<i style="background:linear-gradient(90deg,#370499,#3f049c,#48039f,#5002a2,#5801a4,#6001a6,#6700a8,#6f00a8,#7801a8,#8104a7,#8a09a5,#910ea3,#9814a0,#9f1a9c,#a62098,#ac2694,#b32c8e,#ba3388,#c03a83,#c7427c,#cc4977,#d35071,#d8576b,#dd5e66,#e26660,#e76e5b,#eb7556,#ef7c51,#f2844b,#f58c46,#f89441,#fa9c3c,#fca537)"></i>
<i style="background:linear-gradient(90deg,#370499,#3f049c,#48039f,#5002a2,#5801a4,#6001a6,#6700a8,#6f00a8,#7801a8,#8104a7,#8a09a5,#910ea3,#9814a0,#9f1a9c,#a62098,#ac2694,#b22b8f,#ba3388,#c03a83,#c7427c,#cc4977,#d25071,#d8576b,#dd5e66,#e26660,#e76e5b,#eb7556,#ef7c51,#f2844b,#f58c46,#f89441,#fa9c3c,#fca537)"></i>
<i style="background:linear-gradient(90deg,#370499,#3f049c,#47039f,#4f02a2,#5701a4,#5f01a6,#6700a8,#6f00a8,#7801a8,#8104a7,#8909a5,#910ea3,#9814a0,#9f199d,#a62098,#ac2694,#b22b8f,#ba3388,#c03a83,#c7427c,#cc4977,#d25071,#d8576b,#dd5e66,#e26660,#e76e5b,#eb7556,#ef7c51,#f2844b,#f58c46,#f89441,#fa9c3c,#fca537)"></i>
<i style="background:linear-gradient(90deg,#370499,#3e049c,#46039f,#4e02a2,#5601a4,#5e01a6,#6600a7,#6f00a8,#7801a8,#8104a7,#8909a5,#910ea3,#9814a0,#9e199d,#a62098,#ac2694,#b22b8f,#ba3388,#c03a83,#c6417d,#cc4977,#d25071,#d8576b,#dd5e66,#e26660,#e76e5b,#eb7556,#ef7c51,#f2844b,#f58c46,#f89441,#fa9c3c,#fca537)"></i>
<i style="background:linear-gradient(90deg,#360498,#3e049c,#46039f,#4e02a2,#5601a4,#5e01a6,#6600a7,#6e00a8,#7701a8,#8104a7,#8908a6,#910ea3,#9814a0,#9e199d,#a62098,#ac2694,#b22b8f,#b93388,#c03a83,#c6417d,#cc4977,#d24f71,#d8576b,#dd5e66,#e26660,#e76d5b,#ea7457,#ef7c51,#f2844b,#f58c46,#f89441,#fa9c3c,#fca437)"></i>
<i style="background:linear-gradient(90deg,#350498,#3e049c,#46039f,#4e02a2,#5601a4,#5e01a6,#6600a7,#6e00a8,#7701a8,#8004a8,#8808a6,#910ea3,#9814a0,#9e199d,#a62098,#ac2694,#b22b8f,#b93388,#c03a83,#c6417d,#cc4977,#d24f71,#d8576b,#dd5e66,#e26660,#e76d5b,#ea7457,#ee7b51,#f1834c,#f58c46,#f89441,#fa9c3c,#fca438)"></i>
<i style="background:linear-gradient(90deg,#350498,#3e049c,#45039f,#4d02a2,#5601a4,#5d01a6,#6500a7,#6e00a8,#7701a8,#8004a8,#8808a6,#900ea3,#9814a0,#9e199d,#a51f99,#ac2694,#b22b8f,#b93288,#c03a83,#c6417d,#cc4877,#d24f71,#d8576b,#dd5e66,#e26660,#e66d5c,#ea7457,#ee7b51,#f1834c,#f58b47,#f89441,#fa9c3c,#fca438)"></i>
<i style="background:linear-gradient(90deg,#350498,#3d049b,#44039e,#4c02a1,#5502a4,#5c01a6,#6400a7,#6e00a8,#7701a8,#8004a8,#8808a6,#900ea3,#9814a0,#9e199d,#a51f99,#ac2694,#b22b8f,#b93289,#c03a83,#c6417d,#cc4877,#d24f71,#d7566c,#dd5e66,#e26660,#e66d5c,#ea7457,#ee7b51,#f1834c,#f58b47,#f79342,#fa9c3c,#fca338)"></i>
<i style="background:linear-gradient(90deg,#340597,#3c049b,#44039e,#4c02a1,#5502a4,#5c01a6,#6400a7,#6e00a8,#7701a8,#8004a8,#8808a6,#900da4,#9714a0,#9e199d,#a51f99,#ac2594,#b22b8f,#b83289,#c03a83,#c6417d,#cc4877,#d24f71,#d7566c,#dd5e66,#e26660,#e66d5c,#ea7457,#ee7b51,#f1834c,#f58b47,#f79342,#fa9c3c,#fca338)"></i>
<i style="background:linear-gradient(90deg,#330597,#3c049b,#44039e,#4c02a1,#5502a4,#5c01a6,#6400a7,#6e00a8,#7601a8,#8004a8,#8808a6,#900da4,#9714a0,#9e199d,#a51f99,#ac2594,#b22b8f,#b83289,#c03a83,#c6417d,#cc4878,#d24f71,#d7566c,#dd5e66,#e26660,#e66c5c,#ea7457,#ee7b51,#f1834c,#f58b47,#f79342,#fa9b3d,#fca338)"></i>
<i style="background:linear-gradient(90deg,#330597,#3c049b,#44039e,#4c02a1,#5402a4,#5c01a6,#6400a7,#6d00a8,#7601a8,#7f04a8,#8808a6,#8f0da4,#9713a1,#9e199d,#a51f99,#ab2594,#b22b8f,#b83289,#bf3984,#c6417d,#cc4878,#d24f71,#d7566c,#dd5e66,#e26660,#e66c5c,#ea7457,#ee7b51,#f1834c,#f58b47,#f79342,#fa9b3d,#fca338)"></i>
<i style="background:linear-gradient(90deg,#330597,#3b049a,#43039e,#4b03a1,#5302a3,#5b01a5,#6400a7,#6d00a8,#7601a8,#7f04a8,#8808a6,#8f0da4,#9713a1,#9e199d,#a51f99,#ab2494,#b22b8f,#b83289,#bf3984,#c6417d,#cc4778,#d24f71,#d7566c,#dd5e66,#e26660,#e66c5c,#ea7457,#ee7b51,#f1834c,#f58b47,#f79342,#fa9b3d,#fca338)"></i>
<i style="background:linear-gradient(90deg,#320597,#3a049a,#43039e,#4b03a1,#5302a3,#5b01a5,#6300a7,#6c00a8,#7501a8,#7e03a8,#8707a6,#8f0da4,#9613a1,#9e199d,#a51f99,#ab2494,#b22b8f,#b83289,#bf3984,#c6417d,#cc4778,#d24f71,#d7566c,#dd5e66,#e26660,#e66c5c,#ea7457,#ee7b51,#f1834c,#f58b47,#f79342,#fa9b3d,#fca338)"></i>
<i style="background:linear-gradient(90deg,#310597,#3a049a,#43039e,#4b03a1,#5302a3,#5b01a5,#6300a7,#6c00a8,#7501a8,#7e03a8,#8707a6,#8f0da4,#9613a1,#9e199d,#a51f99,#ab2494,#b22a90,#b83289,#bf3984,#c6417d,#cc4778,#d24f71,#d7566c,#dd5e66,#e26660,#e66c5c,#ea7457,#ee7b51,#f1824c,#f58b47,#f79342,#fa9b3d,#fca338)"></i>
<i style="background:linear-gradient(90deg,#310597,#3a049a,#42039e,#4a03a1,#5202a3,#5a01a5,#6300a7,#6c00a8,#7501a8,#7e03a8,#8707a6,#8f0da4,#9613a1,#9d189d,#a51f99,#ab2494,#b12a90,#b83289,#bf3984,#c6417d,#cc4778,#d14e72,#d7566c,#dd5e66,#e26561,#e66c5c,#ea7457,#ee7b51,#f1824c,#f58b47,#f79342,#fa9b3d,#fca338)"></i>
<i style="background:linear-gradient(90deg,#310597,#39049a,#41049d,#4903a0,#5102a3,#5901a5,#6300a7,#6c00a8,#7501a8,#7e03a8,#8707a6,#8f0da4,#9613a1,#9d189d,#a51f99,#ab2494,#b12a90,#b83289,#bf3984,#c6417d,#cc4778,#d14e72,#d7566c,#dd5e66,#e26561,#e66c5c,#ea7457,#ee7a52,#f1824d,#f58a47,#f79342,#fa9b3d,#fca338)"></i>
<i style="background:linear-gradient(90deg,#2f0596,#38049a,#41049d,#4903a0,#5102a3,#5901a5,#6300a7,#6b00a8,#7501a8,#7e03a8,#8707a6,#8f0da4,#9613a1,#9d189d,#a41f99,#ab2494,#b12a90,#b83289,#bf3984,#c5407e,#cc4778,#d14e72,#d7566c,#dd5e66,#e26561,#e66c5c,#ea7457,#ed7a52,#f1824d,#f48a48,#f79242,#fa9b3d,#fba238)"></i>
<i style="background:linear-gradient(90deg,#2f0596,#38049a,#41049d,#4903a0,#5102a3,#5901a5,#6200a7,#6b00a8,#7401a8,#7e03a8,#8707a6,#8f0da4,#9613a1,#9d189d,#a41f99,#ab2494,#b12a90,#b83289,#bf3984,#c5407e,#cc4778,#d14e72,#d7566c,#dd5e66,#e26561,#e66c5c,#ea7357,#ed7a52,#f1814d,#f48a48,#f79242,#fa9b3d,#fba238)"></i>
<i style="background:linear-gradient(90deg,#2f0596,#38049a,#40049d,#4903a0,#5102a3,#5901a5,#6200a7,#6a00a8,#7401a8,#7d03a8,#8606a6,#8f0da4,#9613a1,#9d189d,#a41e9a,#ab2494,#b12a90,#b83289,#bf3984,#c5407e,#cc4778,#d14e72,#d7566c,#dd5e66,#e26561,#e66c5c,#ea7357,#ed7a52,#f1814d,#f48948,#f79243,#fa9b3d,#fba238)"></i>
<i style="background:linear-gradient(90deg,#2f0596,#370499,#3f049c,#48039f,#5002a2,#5801a4,#6200a7,#6a00a8,#7401a8,#7d03a8,#8606a6,#8e0ca4,#9613a1,#9d189d,#a41e9a,#ab2494,#b12a90,#b7318a,#bf3984,#c5407e,#cc4778,#d14e72,#d7566c,#dd5e66,#e26561,#e66c5c,#ea7357,#ed7a52,#f1814d,#f48948,#f79243,#f99a3e,#fba238)"></i>
<i style="background:linear-gradient(90deg,#2e0595,#370499,#3f049c,#48039f,#5002a2,#5801a4,#6100a7,#6a00a8,#7401a8,#7d03a8,#8606a6,#8e0ca4,#9613a1,#9d189d,#a31e9a,#ab2494,#b12a90,#b7318a,#bf3984,#c5407e,#cc4778,#d14e72,#d7566c,#dc5d67,#e26561,#e66c5c,#e97357,#ed7a52,#f1814d,#f48948,#f79143,#f99a3e,#fba238)"></i>
<i style="background:linear-gradient(90deg,#2e0595,#370499,#3f049c,#48039f,#5002a2,#5801a4,#6100a7,#6a00a8,#7401a8,#7d03a8,#8606a6,#8e0ca4,#9612a1,#9d189d,#a31e9a,#ab2494,#b12a90,#b7318a,#bf3984,#c5407e,#cc4678,#d14e72,#d7566c,#dc5d67,#e26561,#e66c5c,#e97357,#ed7a52,#f1814d,#f48948,#f79143,#f99a3e,#fba238)"></i>
<i style="background:linear-gradient(90deg,#2e0595,#370499,#3f049c,#47039f,#4f02a2,#5801a4,#6100a7,#6a00a8,#7301a8,#7d03a8,#8606a6,#8e0ca4,#9612a1,#9d189d,#a31e9a,#aa2395,#b12a90,#b7318a,#bf3984,#c5407e,#cb4679,#d14e72,#d7566c,#dc5d67,#e26561,#e66c5c,#e97357,#ed7a52,#f1814d,#f48948,#f79143,#f99a3e,#fba238)"></i>
<i style="background:linear-gradient(90deg,#2e0595,#360498,#3e049c,#46039f,#4e02a2,#5801a4,#6100a7,#6a00a8,#7301a8,#7c03a8,#8606a6,#8e0ca4,#9512a1,#9d189d,#a31e9a,#aa2395,#b12a90,#b7318a,#be3885,#c5407e,#cb4679,#d14e72,#d7566c,#dc5d67,#e26561,#e66c5c,#e97257,#ed7a52,#f1814d,#f48948,#f79143,#f99a3e,#fba238)"></i>
<i style="background:linear-gradient(90deg,#2c0594,#350498,#3e049c,#46039f,#4e02a2,#5701a4,#6100a7,#6900a8,#7201a8,#7c02a8,#8506a6,#8e0ca4,#9512a1,#9d189d,#a31e9a,#aa2395,#b12a90,#b7318a,#be3885,#c5407e,#cb4679,#d14e72,#d7566c,#dc5d67,#e26561,#e66c5c,#e97257,#ed7a52,#f1814d,#f48948,#f79143,#f99a3e,#fba238)"></i>
<i style="background:linear-gradient(90deg,#2c0594,#350498,#3e049c,#46039f,#4e02a2,#5701a4,#6001a6,#6900a8,#7201a8,#7b02a8,#8505a7,#8e0ca4,#9511a1,#9d189d,#a31e9a,#aa2395,#b12a90,#b7318a,#be3885,#c5407e,#cb4679,#d14e72,#d7566c,#dc5d67,#e26561,#e66c5c,#e97257,#ed7a52,#f1814d,#f48948,#f79143,#f99a3e,#fba238)"></i>
<i style="background:linear-gradient(90deg,#2c0594,#340498,#3d049c,#45039e,#4d02a2,#5601a4,#6001a6,#6900a8,#7201a8,#7b02a8,#8405a7,#8d0ba5,#9511a1,#9d189d,#a31e9a,#aa2395,#b02991,#b7318a,#be3885,#c53f7e,#cb4679,#d14e72,#d7566c,#dc5d67,#e26561,#e66c5c,#e97257,#ed7a52,#f0804e,#f48948,#f79143,#f99a3e,#fba238)"></i>
<i style="background:linear-gradient(90deg,#2c0594,#340597,#3c049b,#44039e,#4c02a1,#5601a4,#6001a6,#6900a8,#7201a8,#7b02a8,#8405a7,#8d0ba5,#9511a1,#9c179e,#a31e9a,#aa2395,#b02991,#b7318a,#be3885,#c53f7e,#cb4679,#d14e72,#d7566c,#dc5d67,#e26561,#e66c5c,#e97257,#ed7a52,#f0804e,#f48849,#f79143,#f99a3e,#fba139)"></i>
<i style="background:linear-gradient(90deg,#2a0593,#330597,#3c049b,#44039e,#4c02a1,#5601a4,#6001a6,#6900a8,#7201a8,#7b02a8,#8405a7,#8d0ba5,#9511a1,#9c179e,#a31e9a,#aa2395,#b02991,#b7318a,#be3885,#c43f7e,#cb4679,#d14e72,#d6556d,#dc5d67,#e26561,#e56b5d,#e97257,#ed7a52,#f0804e,#f48849,#f79044,#f9993e,#fba139)"></i>
<i style="background:linear-gradient(90deg,#2a0593,#330597,#3c049b,#44039e,#4c02a1,#5601a4,#6001a6,#6800a8,#7201a8,#7b02a8,#8405a7,#8d0ba5,#9511a1,#9c179e,#a31e9a,#aa2395,#b02991,#b7318a,#be3885,#c43f7f,#cb4679,#d14e72,#d6556d,#dc5d67,#e26561,#e56b5d,#e97257,#ed7a52,#f0804e,#f48849,#f79044,#f9993e,#fba139)"></i>
<i style="background:linear-gradient(90deg,#2a0593,#320597,#3b049a,#44039e,#4c02a1,#5601a4,#5f01a6,#6800a8,#7100a8,#7a02a8,#8405a7,#8d0ba5,#9511a1,#9c179e,#a31e9a,#aa2395,#b02991,#b7318a,#be3885,#c43e7f,#cb4679,#d14e72,#d6556d,#dc5d67,#e26561,#e56b5d,#e97257,#ed7a52,#f0804e,#f48849,#f79044,#f9993e,#fba139)"></i>
<i style="background:linear-gradient(90deg,#2a0593,#320597,#3a049a,#43039e,#4c02a1,#5602a4,#5f01a6,#6700a8,#7100a8,#7a02a8,#8305a7,#8c0ba5,#9511a1,#9c179e,#a21d9a,#aa2395,#b02991,#b7318a,#be3885,#c43e7f,#cb4679,#d14e72,#d6556d,#dc5d67,#e26561,#e56b5d,#e97257,#ed7a52,#f0804e,#f48849,#f79044,#f9983e,#fba139)"></i>
<i style="background:linear-gradient(90deg,#280592,#310597,#3a049a,#43039e,#4b03a1,#5502a4,#5e01a6,#6700a8,#7100a8,#7a02a8,#8305a7,#8c0aa5,#9410a2,#9c179e,#a21d9a,#aa2395,#b02991,#b6308b,#be3885,#c43e7f,#cb4679,#d14e72,#d6556d,#dc5d67,#e26561,#e56b5d,#e97257,#ed7a52,#f0804e,#f48849,#f79044,#f9983e,#fba139)"></i>
<i style="background:linear-gradient(90deg,#280592,#310597,#3a049a,#43039e,#4b03a1,#5502a4,#5e01a6,#6700a8,#7100a8,#7a02a8,#8305a7,#8b0aa5,#9410a2,#9c179e,#a21d9a,#a92395,#b02991,#b6308b,#be3885,#c43e7f,#cb4679,#d04d73,#d6556d,#dc5d67,#e26561,#e56b5d,#e97257,#ed7a52,#f0804e,#f48849,#f79044,#f9983e,#fba139)"></i>
<i style="background:linear-gradient(90deg,#280592,#300597,#39049a,#42049e,#4b03a1,#5502a4,#5e01a6,#6700a8,#7100a8,#7a02a8,#8305a7,#8b0aa5,#9410a2,#9c179e,#a21d9a,#a92395,#b02991,#b6308b,#be3885,#c43e7f,#cb4679,#d04d73,#d6556d,#dc5d67,#e26561,#e56b5d,#e97257,#ed7953,#f0804e,#f48849,#f79044,#f9983e,#fba139)"></i>
<i style="background:linear-gradient(90deg,#280592,#300596,#38049a,#41049d,#4b03a1,#5502a4,#5e01a6,#6700a8,#7000a8,#7a02a8,#8305a7,#8b0aa5,#9410a2,#9c179e,#a21d9a,#a92296,#b02991,#b6308b,#be3886,#c43e7f,#cb4679,#d04d73,#d6556d,#dc5d67,#e26462,#e56b5d,#e97257,#ed7953,#f0804e,#f48849,#f79044,#f9983e,#fba139)"></i>
<i style="background:linear-gradient(90deg,#260591,#2f0596,#38049a,#41049d,#4b03a1,#5402a4,#5d01a6,#6600a7,#7000a8,#7902a8,#8205a7,#8b0aa5,#9410a2,#9c179e,#a21d9a,#a82296,#b02991,#b6308b,#bd3786,#c43e7f,#cb4679,#d04d73,#d6556d,#dc5d67,#e16462,#e56b5d,#e97257,#ed7953,#f0804e,#f48849,#f79044,#f9983e,#fba039)"></i>
<i style="background:linear-gradient(90deg,#260591,#2f0596,#38049a,#41049d,#4a03a1,#5402a4,#5d01a6,#6600a7,#6f00a8,#7901a8,#8204a7,#8b0aa5,#9310a2,#9c179e,#a21d9a,#a82296,#af2991,#b6308b,#bd3786,#c43e7f,#cb4679,#d04d73,#d6556d,#dc5d67,#e16462,#e56b5d,#e97257,#ed7953,#f0804e,#f48849,#f79044,#f9983e,#fba03a)"></i>
<i style="background:linear-gradient(90deg,#260591,#2f0596,#38049a,#40049c,#4a03a0,#5402a3,#5c01a6,#6600a7,#6f00a8,#7801a8,#8204a7,#8a09a5,#930fa3,#9b179e,#a21d9a,#a82296,#af2991,#b6308b,#bd3786,#c43e7f,#ca457a,#d04d73,#d6556d,#dc5d67,#e16462,#e56b5d,#e97257,#ed7953,#f0804e,#f3874a,#f79044,#f9983e,#fb9f3a)"></i>
<i style="background:linear-gradient(90deg,#260591,#2e0595,#370499,#3f049c,#4903a0,#5302a3,#5c01a6,#6600a7,#6f00a8,#7801a8,#8104a7,#8a09a5,#920fa3,#9b169f,#a21d9a,#a82296,#af2892,#b6308b,#bd3786,#c43e7f,#ca457a,#d04d73,#d6556d,#dc5d67,#e16462,#e56b5d,#e97257,#ed7953,#f0804e,#f3874a,#f68f44,#f9983e,#fb9f3a)"></i>
<i style="background:linear-gradient(90deg,#240691,#2e0595,#370499,#3f049c,#4903a0,#5302a3,#5c01a6,#6600a7,#6f00a8,#7801a8,#8104a7,#8a09a5,#920fa3,#9a169f,#a21d9a,#a82296,#af2892,#b6308b,#bd3786,#c43e7f,#ca457a,#d04d73,#d6556d,#dc5d67,#e16462,#e56b5d,#e97257,#ed7953,#f0804e,#f3874a,#f68f44,#f9973f,#fb9f3a)"></i>
<i style="background:linear-gradient(90deg,#240691,#2e0595,#370499,#3f049c,#4903a0,#5302a3,#5c01a6,#6600a7,#6f00a8,#7801a8,#8104a7,#8a09a5,#920fa3,#9a169f,#a21d9a,#a82296,#ae2892,#b6308b,#bd3786,#c43e7f,#ca457a,#d04d73,#d6556d,#db5c68,#e16462,#e56b5d,#e97158,#ed7953,#f0804e,#f3874a,#f68f44,#f9973f,#fb9f3a)"></i>
<i style="background:linear-gradient(90deg,#240691,#2d0595,#360498,#3f049c,#4903a0,#5302a3,#5c01a6,#6500a7,#6e00a8,#7801a8,#8104a7,#8a09a5,#920fa3,#9a169f,#a21c9a,#a82296,#ae2892,#b6308b,#bd3786,#c43e7f,#ca457a,#d04d73,#d6556d,#db5c68,#e16462,#e56b5d,#e97158,#ed7953,#f0804e,#f3874a,#f68f44,#f9973f,#fb9f3a)"></i>
<i style="background:linear-gradient(90deg,#240691,#2c0594,#350498,#3f049c,#4903a0,#5202a3,#5c01a6,#6500a7,#6e00a8,#7701a8,#8104a7,#8a09a5,#920fa3,#9a169f,#a21c9a,#a82296,#ae2892,#b6308b,#bd3786,#c33d80,#ca457a,#d04d73,#d6556d,#db5c68,#e16462,#e56b5d,#e97158,#ed7953,#f0804e,#f3874a,#f68f44,#f9973f,#fb9f3a)"></i>
<i style="background:linear-gradient(90deg,#220690,#2c0594,#350498,#3e049c,#48039f,#5202a3,#5b01a5,#6400a7,#6e00a8,#7701a8,#8004a8,#8909a5,#920ea3,#9a169f,#a11c9b,#a82296,#ae2892,#b6308c,#bd3786,#c33d80,#ca457a,#d04d73,#d6556d,#db5c68,#e16462,#e56b5d,#e97158,#ed7953,#f07f4f,#f3874a,#f68f44,#f9973f,#fb9f3a)"></i>
<i style="background:linear-gradient(90deg,#220690,#2c0594,#350498,#3e049c,#48039f,#5102a3,#5b01a5,#6400a7,#6e00a8,#7701a8,#8004a8,#8908a6,#910ea3,#99159f,#a11b9b,#a82296,#ae2892,#b52f8c,#bd3786,#c33d80,#ca457a,#d04d73,#d6556d,#db5c68,#e16462,#e56b5d,#e97158,#ed7953,#f07f4f,#f3874a,#f68f44,#f9973f,#fb9f3a)"></i>
<i style="background:linear-gradient(90deg,#220690,#2b0594,#340597,#3e049c,#48039f,#5102a3,#5b01a5,#6400a7,#6e00a8,#7701a8,#8004a8,#8808a6,#910ea3,#99159f,#a11b9b,#a82296,#ae2892,#b52f8c,#bd3686,#c33d80,#ca457a,#d04d73,#d6556d,#db5c68,#e16462,#e56b5d,#e97158,#ed7953,#f07f4f,#f3874a,#f68f44,#f9973f,#fb9f3a)"></i>
<i style="background:linear-gradient(90deg,#210690,#2a0593,#330597,#3e049c,#48039f,#5102a3,#5b01a5,#6400a7,#6e00a8,#7701a8,#8004a8,#8808a6,#910ea3,#99159f,#a11b9b,#a82296,#ae2892,#b52f8c,#bd3686,#c33d80,#ca457a,#d04d73,#d6556d,#db5c68,#e16462,#e56b5d,#e97158,#ed7953,#f07f4f,#f3874a,#f68f44,#f9973f,#fa9e3a)"></i>
<i style="background:linear-gradient(90deg,#20068f,#2a0593,#330597,#3e049c,#48039f,#5102a3,#5b01a5,#6400a7,#6d00a8,#7601a8,#8004a8,#8808a6,#910ea3,#99159f,#a11b9b,#a72197,#ae2892,#b52f8c,#bc3687,#c33d80,#ca457a,#d04d73,#d6556d,#db5c68,#e16462,#e56b5d,#e97158,#ed7953,#f07f4f,#f3874a,#f68e44,#f9973f,#fa9e3b)"></i>
<i style="background:linear-gradient(90deg,#20068f,#2a0593,#330597,#3e049c,#48039f,#5102a3,#5a01a5,#6300a7,#6d00a8,#7601a8,#7f04a8,#8808a6,#910ea3,#99159f,#a11b9b,#a72197,#ae2892,#b52f8c,#bc3687,#c33d80,#ca457a,#d04d73,#d5546e,#db5c68,#e16462,#e56a5d,#e97158,#ed7953,#f07f4f,#f3874a,#f68e44,#f9963f,#fa9e3b)"></i>
<i style="background:linear-gradient(90deg,#20068f,#290593,#320597,#3d049c,#47039f,#5002a2,#5a01a5,#6300a7,#6c00a8,#7601a8,#7f03a8,#8808a6,#900ea3,#99159f,#a11b9b,#a72197,#ae2892,#b52f8c,#bc3687,#c33d80,#ca457a,#d04d73,#d5546e,#db5c68,#e16462,#e56a5d,#e97158,#ed7953,#f07f4f,#f3874a,#f68e45,#f9963f,#fa9e3b)"></i>
<i style="background:linear-gradient(90deg,#1f068f,#280592,#320597,#3d049b,#47039f,#5002a2,#5901a5,#6300a7,#6c00a8,#7501a8,#7e03a8,#8707a6,#900da4,#99159f,#a11b9b,#a72197,#ae2892,#b52f8c,#bc3687,#c33d80,#ca457a,#d04d73,#d5546e,#db5c68,#e16462,#e56a5d,#e97158,#ed7953,#f07f4f,#f3874a,#f68e45,#f89640,#fa9e3b)"></i>
<i style="background:linear-gradient(90deg,#1d068e,#280592,#310597,#3c049b,#46039f,#5002a2,#5901a5,#6300a7,#6c00a8,#7501a8,#7e03a8,#8707a6,#8f0da4,#9814a0,#a01a9c,#a72197,#ad2793,#b52f8c,#bc3587,#c33d80,#ca457a,#d04d73,#d5546e,#db5c68,#e16462,#e56a5d,#e97158,#ed7853,#f07f4f,#f3874a,#f68e45,#f89640,#fa9e3b)"></i>
<i style="background:linear-gradient(90deg,#1d068e,#280592,#310597,#3c049b,#46039f,#5002a2,#5901a5,#6300a7,#6c00a8,#7501a8,#7e03a8,#8707a6,#8f0da4,#9814a0,#a01a9c,#a72197,#ad2793,#b52f8c,#bc3587,#c33d80,#ca457a,#d04d73,#d5546e,#db5c68,#e16462,#e56a5d,#e97158,#ed7853,#f07f4f,#f3874a,#f68d45,#f89540,#fa9e3b)"></i>
<i style="background:linear-gradient(90deg,#1d068e,#270592,#310597,#3c049b,#46039f,#5002a2,#5901a5,#6200a7,#6b00a8,#7501a8,#7e03a8,#8707a6,#8f0da4,#9814a0,#a01a9c,#a72197,#ad2793,#b52f8c,#bc3587,#c33d80,#ca457a,#cf4c74,#d5546e,#db5c68,#e16462,#e56a5d,#e97158,#ed7853,#f07f4f,#f3874a,#f68d45,#f89540,#fa9e3b)"></i>
<i style="background:linear-gradient(90deg,#1c068e,#260591,#310597,#3c049b,#46039f,#5002a2,#5901a5,#6200a7,#6b00a8,#7501a8,#7e03a8,#8707a6,#8f0da4,#9814a0,#a01a9c,#a72197,#ad2793,#b52f8c,#bc3587,#c33d80,#ca457a,#cf4c74,#d5546e,#db5c68,#e16462,#e56a5d,#e97158,#ec7854,#f07f4f,#f3864a,#f68d45,#f89540,#fa9e3b)"></i>
<i style="background:linear-gradient(90deg,#1b068d,#260591,#300597,#3b049b,#45039f,#4f02a2,#5801a4,#6200a7,#6a00a8,#7401a8,#7e03a8,#8707a6,#8f0da4,#9814a0,#a01a9c,#a72197,#ad2793,#b52f8c,#bc3587,#c33d80,#ca457a,#cf4c74,#d5546e,#db5c68,#e06462,#e56a5d,#e97158,#ec7854,#f07f4f,#f3864a,#f68d45,#f89540,#fa9e3b)"></i>
<i style="background:linear-gradient(90deg,#1b068d,#260591,#300596,#3b049a,#45039e,#4f02a2,#5801a4,#6100a7,#6a00a8,#7401a8,#7d03a8,#8606a6,#8e0ca4,#9714a0,#a01a9c,#a72197,#ad2793,#b42e8d,#bc3587,#c33d80,#ca457a,#cf4c74,#d5546e,#db5c68,#e06363,#e56a5d,#e97158,#ec7854,#f07f4f,#f3864a,#f68d45,#f89540,#fa9d3b)"></i>
<i style="background:linear-gradient(90deg,#1b068d,#250591,#300596,#3a049a,#44039e,#4e02a2,#5801a4,#6100a7,#6a00a8,#7401a8,#7d03a8,#8606a6,#8e0ca4,#9713a1,#9f1a9c,#a72197,#ad2793,#b42e8d,#bc3587,#c33d80,#ca457a,#cf4c74,#d5546e,#db5c68,#e06363,#e56a5d,#e97158,#ec7754,#f07f4f,#f3864b,#f68d45,#f89540,#fa9d3c)"></i>
<i style="background:linear-gradient(90deg,#1a068d,#250691,#2f0596,#3a049a,#44039e,#4e02a2,#5801a4,#6100a7,#6a00a8,#7401a8,#7d03a8,#8606a6,#8e0ca4,#9613a1,#9f199d,#a62098,#ad2793,#b42e8d,#bc3587,#c33d80,#c9447a,#cf4c74,#d5546e,#db5c68,#e06363,#e56a5d,#e97158,#ec7754,#f07f4f,#f3864b,#f68d45,#f89540,#fa9c3c)"></i>
<i style="background:linear-gradient(90deg,#19068c,#240691,#2f0596,#3a049a,#44039e,#4e02a2,#5801a4,#6100a7,#6a00a8,#7401a8,#7d03a8,#8606a6,#8e0ca4,#9613a1,#9e199d,#a62098,#ad2793,#b42e8d,#bc3587,#c33d80,#c9447a,#cf4c74,#d5546e,#db5c68,#e06363,#e56a5d,#e97158,#ec7754,#f07f4f,#f3864b,#f68d45,#f89540,#fa9c3c)"></i>
<i style="background:linear-gradient(90deg,#19068c,#240691,#2f0596,#3a049a,#44039e,#4e02a2,#5801a4,#6100a7,#6a00a8,#7301a8,#7d03a8,#8606a6,#8e0ca4,#9613a1,#9e199d,#a62098,#ad2793,#b42e8d,#bc3587,#c33d80,#c9447a,#cf4c74,#d5546e,#db5c68,#e06363,#e56a5d,#e97158,#ec7754,#f07f4f,#f3854b,#f68d45,#f89540,#fa9c3c)"></i>
<i style="background:linear-gradient(90deg,#19068c,#240691,#2f0596,#3a049a,#44039e,#4d02a2,#5701a4,#6001a6,#6900a8,#7301a8,#7c03a8,#8606a6,#8e0ca4,#9613a1,#9e199d,#a62098,#ad2793,#b42e8d,#bc3587,#c33d80,#c9447a,#cf4c74,#d5546e,#da5b69,#e06363,#e56a5d,#e87059,#ec7754,#f07f4f,#f3854b,#f68d45,#f89540,#fa9c3c)"></i>
<i style="background:linear-gradient(90deg,#18068b,#240691,#2f0596,#39049a,#43039e,#4d02a1,#5701a4,#6001a6,#6900a8,#7201a8,#7c02a8,#8506a6,#8e0ca4,#9612a1,#9e199d,#a62098,#ad2793,#b42e8d,#bc3587,#c33d80,#c9447a,#cf4c74,#d5546e,#da5b69,#e06363,#e56a5d,#e87059,#ec7754,#f07f4f,#f3854b,#f68d45,#f89440,#fa9c3c)"></i>
<i style="background:linear-gradient(90deg,#16078a,#230691,#2e0595,#39049a,#43039e,#4c02a1,#5601a4,#6001a6,#6900a8,#7201a8,#7b02a8,#8505a7,#8d0ba5,#9512a1,#9e199d,#a62098,#ac2694,#b42e8d,#bc3587,#c23c81,#c9447a,#cf4c74,#d5546e,#da5b69,#e06363,#e56a5d,#e87059,#ec7754,#f07f4f,#f3854b,#f68d45,#f89441,#fa9c3c)"></i>
<i style="background:linear-gradient(90deg,#16078a,#230690,#2e0595,#38049a,#43039e,#4c02a1,#5601a4,#6001a6,#6900a8,#7201a8,#7b02a8,#8405a7,#8d0ba5,#9512a1,#9d189d,#a62098,#ac2694,#b42e8d,#bc3587,#c23c81,#c9447a,#cf4c74,#d5546e,#da5b69,#e06363,#e56a5d,#e87059,#ec7754,#f07e50,#f3854b,#f68d45,#f89441,#fa9c3c)"></i>
<i style="background:linear-gradient(90deg,#16078a,#220690,#2e0595,#38049a,#43039e,#4c02a1,#5601a4,#6001a6,#6900a8,#7201a8,#7b02a8,#8405a7,#8d0ba5,#9511a1,#9d189d,#a51f99,#ac2694,#b42e8d,#bc3587,#c23c81,#c9447a,#cf4c74,#d5546e,#da5b69,#e06363,#e56a5d,#e87059,#ec7754,#ef7e50,#f3854b,#f68d45,#f89441,#fa9c3c)"></i>
<i style="background:linear-gradient(90deg,#15078a,#220690,#2e0595,#38049a,#43039e,#4c02a1,#5601a4,#5f01a6,#6800a8,#7201a8,#7b02a8,#8405a7,#8d0ba5,#9511a1,#9d189d,#a51f99,#ac2694,#b42e8d,#bc3587,#c23c81,#c9447a,#cf4c74,#d5546e,#da5b69,#e06363,#e56a5d,#e87059,#ec7754,#ef7e50,#f3854b,#f68d45,#f89441,#fa9c3c)"></i>
<i style="background:linear-gradient(90deg,#130789,#220690,#2e0595,#38049a,#42039e,#4c02a1,#5601a4,#5f01a6,#6800a8,#7200a8,#7b02a8,#8405a7,#8d0ba5,#9511a1,#9d189d,#a51f99,#ac2694,#b42e8d,#bc3587,#c23c81,#c9447a,#cf4c74,#d5546e,#da5b69,#e06363,#e56a5d,#e87059,#ec7754,#ef7e50,#f3854b,#f68d45,#f89441,#fa9c3c)"></i>
<i style="background:linear-gradient(90deg,#130789,#220690,#2e0595,#38049a,#42039e,#4c02a1,#5602a4,#5e01a6,#6700a8,#7100a8,#7b02a8,#8405a7,#8c0ba5,#9511a1,#9d189d,#a51f99,#ac2694,#b42e8d,#bc3587,#c23c81,#c9447a,#cf4c74,#d5546e,#da5b69,#e06363,#e56a5d,#e87059,#ec7754,#ef7e50,#f3854b,#f68d45,#f89441,#fa9b3d)"></i>
<i style="background:linear-gradient(90deg,#130789,#220690,#2d0595,#38049a,#42039e,#4b03a1,#5502a4,#5e01a6,#6700a8,#7100a8,#7a02a8,#8405a7,#8c0ba5,#9511a1,#9d189d,#a51f99,#ac2694,#b42e8d,#bc3587,#c23c81,#c9447a,#cf4c74,#d5546e,#da5b69,#e06363,#e56a5d,#e87059,#ec7754,#ef7e50,#f3854b,#f68d45,#f89441,#fa9c3c)"></i>
<i style="background:linear-gradient(90deg,#130789,#220690,#2d0595,#38049a,#42049d,#4b03a1,#5502a4,#5e01a6,#6700a8,#7100a8,#7a02a8,#8405a7,#8c0aa5,#9511a1,#9d189d,#a51f99,#ac2694,#b42e8d,#bc3587,#c23c81,#c9447a,#cf4c74,#d5546e,#da5b69,#e06363,#e56a5d,#e87059,#ec7754,#ef7e50,#f3854b,#f68d45,#f89441,#fa9c3c)"></i>
<i style="background:linear-gradient(90deg,#130789,#220690,#2d0594,#370499,#42049d,#4b03a1,#5502a4,#5e01a6,#6700a8,#7100a8,#7a02a8,#8305a7,#8c0aa5,#9511a1,#9d189d,#a51f99,#ac2694,#b42e8d,#bc3587,#c23c81,#c9447a,#cf4c74,#d5546e,#da5b69,#e06363,#e56a5d,#e87059,#ec7754,#ef7e50,#f3854b,#f68d45,#f89441,#fa9c3c)"></i>
<i style="background:linear-gradient(90deg,#130789,#210690,#2d0594,#370499,#41049d,#4b03a1,#5502a4,#5e01a6,#6700a8,#7100a8,#7a02a8,#8305a7,#8c0aa5,#9410a2,#9d189d,#a51f99,#ac2694,#b42e8d,#bc3587,#c23c81,#c9447a,#cf4c74,#d5546e,#da5b69,#e06363,#e56a5d,#e87059,#ec7754,#ef7e50,#f3854b,#f68d45,#f89441,#fa9c3c)"></i>
<i style="background:linear-gradient(90deg,#130789,#210690,#2c0594,#370499,#41049d,#4b03a1,#5502a4,#5e01a6,#6700a8,#7100a8,#7a02a8,#8305a7,#8b0aa5,#9410a2,#9d189d,#a41f99,#ac2694,#b42e8d,#bc3587,#c23c81,#c9447a,#cf4c74,#d5546e,#da5b69,#e06363,#e56a5d,#e87059,#ec7754,#ef7e50,#f3854b,#f68d45,#f89441,#fa9c3c)"></i>
<i style="background:linear-gradient(90deg,#130789,#21068f,#2c0594,#370499,#41049d,#4b03a1,#5502a4,#5e01a6,#6700a8,#7100a8,#7a02a8,#8305a7,#8b0aa5,#9410a2,#9c179e,#a41f99,#ac2694,#b42e8d,#bc3587,#c23c81,#c9447a,#cf4c74,#d5546e,#da5b69,#e06363,#e56a5d,#e87059,#ec7754,#ef7e50,#f3854b,#f68d45,#f89441,#fa9c3c)"></i>
<i style="background:linear-gradient(90deg,#130789,#21068f,#2c0594,#370499,#41049d,#4b03a1,#5502a4,#5e01a6,#6700a8,#7100a8,#7a02a8,#8305a7,#8b0aa5,#9410a2,#9c179e,#a41f99,#ac2694,#b42e8d,#bc3587,#c23c81,#c9447a,#cf4c74,#d5546e,#da5b69,#e06363,#e56a5d,#e87059,#ec7754,#ef7e50,#f3854b,#f68d45,#f89441,#fa9c3c)"></i>
<i style="background:linear-gradient(90deg,#130789,#20068f,#2c0594,#370499,#41049d,#4b03a1,#5502a4,#5e01a6,#6700a8,#7100a8,#7a02a8,#8305a7,#8b0aa5,#9410a2,#9c179e,#a41e9a,#ac2694,#b42e8d,#bc3587,#c23c81,#c9447a,#cf4c74,#d5546e,#da5b69,#e06363,#e56a5d,#e87059,#ec7754,#ef7e50,#f3854b,#f68d45,#f89441,#fa9c3c)"></i>
<i style="background:linear-gradient(90deg,#130789,#20068f,#2c0594,#370499,#41049d,#4b03a1,#5502a4,#5e01a6,#6700a8,#7100a8,#7a02a8,#8305a7,#8b0aa5,#9410a2,#9c179e,#a41e9a,#ac2694,#b42e8d,#bc3587,#c23c81,#c9447a,#cf4c74,#d5546e,#da5b69,#e06363,#e56a5d,#e87059,#ec7754,#ef7e50,#f3854b,#f68d45,#f89441,#fa9c3c)"></i>
<i style="background:linear-gradient(90deg,#130789,#20068f,#2c0594,#370499,#41049d,#4b03a1,#5502a4,#5e01a6,#6700a8,#7100a8,#7a02a8,#8305a7,#8b0aa5,#9410a2,#9c179e,#a41e9a,#ac2694,#b42e8d,#bc3587,#c23c81,#c9447a,#cf4c74,#d5546e,#da5b69,#e06363,#e56a5d,#e87059,#ec7754,#ef7e50,#f3854b,#f68d45,#f89441,#fa9c3c)"></i>
<i style="background:linear-gradient(90deg,#130789,#20068f,#2c0594,#370499,#41049d,#4b03a1,#5502a4,#5d01a6,#6700a8,#7100a8,#7a02a8,#8305a7,#8b0aa5,#9410a2,#9c179e,#a41e9a,#ac2694,#b42e8d,#bc3587,#c23c81,#c9447a,#cf4c74,#d5546e,#da5b69,#e06363,#e56a5d,#e87059,#ec7754,#ef7e50,#f3854b,#f68d45,#f89441,#fa9c3c)"></i>
<i style="background:linear-gradient(90deg,#130789,#20068f,#2c0594,#370499,#41049d,#4b03a1,#5502a4,#5d01a6,#6700a8,#7000a8,#7a02a8,#8305a7,#8b0aa5,#9410a2,#9c179e,#a41e9a,#ac2694,#b42e8d,#bc3587,#c23c81,#c9447a,#cf4c74,#d5546e,#da5b69,#e06363,#e56a5d,#e87059,#ec7754,#ef7e50,#f3854b,#f68d45,#f89441,#fa9c3c)"></i>
<i style="background:linear-gradient(90deg,#130789,#20068f,#2c0594,#370499,#41049d,#4b03a1,#5502a4,#5d01a6,#6600a7,#7000a8,#7a02a8,#8305a7,#8b0aa5,#9410a2,#9c179e,#a41e9a,#ac2694,#b42e8d,#bc3587,#c23c81,#c9447a,#cf4c74,#d5546e,#da5b69,#e06363,#e56a5d,#e87059,#ec7754,#ef7e50,#f3854b,#f68d45,#f89441,#fa9c3c)"></i>
<i style="background:linear-gradient(90deg,#130789,#20068f,#2c0594,#370499,#41049d,#4b03a1,#5402a4,#5d01a6,#6600a7,#7000a8,#7902a8,#8305a7,#8b0aa5,#9410a2,#9c179e,#a41e9a,#ac2694,#b42e8d,#bc3587,#c23c81,#c9447a,#cf4c74,#d5546e,#da5b69,#e06363,#e56a5d,#e87059,#ec7754,#ef7e50,#f3854b,#f68d45,#f89441,#fa9c3c)"></i>
<i style="background:linear-gradient(90deg,#130789,#20068f,#2c0594,#370499,#40049d,#4a03a1,#5402a4,#5d01a6,#6600a7,#7000a8,#7902a8,#8305a7,#8b0aa5,#9410a2,#9c179e,#a41e9a,#ac2694,#b42e8d,#bc3587,#c23c81,#c9447a,#cf4c74,#d5546e,#da5b69,#e06363,#e56a5d,#e87059,#ec7754,#ef7e50,#f3854b,#f68d45,#f89441,#fa9c3c)"></i>
<i style="background:linear-gradient(90deg,#130789,#20068f,#2c0594,#360499,#40049d,#4a03a1,#5402a4,#5c01a6,#6600a7,#7000a8,#7902a8,#8205a7,#8b0aa5,#9410a2,#9c179e,#a41e9a,#ac2694,#b42e8d,#bc3587,#c23c81,#c9447a,#cf4c74,#d5546e,#da5b69,#e06363,#e56a5d,#e87059,#ec7754,#ef7e50,#f3854b,#f68d45,#f89441,#fa9c3c)"></i>
<i style="background:linear-gradient(90deg,#130789,#20068f,#2b0594,#360499,#40049d,#4a03a0,#5402a3,#5c01a6,#6600a7,#6f00a8,#7901a8,#8205a7,#8b0aa5,#9410a2,#9c179e,#a41e9a,#ac2694,#b42e8d,#bc3587,#c23c81,#c9447a,#cf4c74,#d5546e,#da5b69,#e06363,#e56a5d,#e87059,#ec7754,#ef7e50,#f3854b,#f68d45,#f89441,#fa9c3c)"></i>
<i style="background:linear-gradient(90deg,#120789,#20068f,#2b0594,#360498,#40049c,#4a03a0,#5402a3,#5c01a6,#6600a7,#6f00a8,#7901a8,#8204a7,#8a09a5,#9310a2,#9c179e,#a41e9a,#ac2694,#b42e8d,#bc3587,#c23c81,#c9447a,#cf4c74,#d5546e,#da5b69,#e06363,#e56a5d,#e87059,#ec7754,#ef7e50,#f3854b,#f68d45,#f89441,#fa9c3c)"></i>
<i style="background:linear-gradient(90deg,#120789,#20068f,#2b0593,#360498,#40049c,#4a03a0,#5302a3,#5c01a6,#6600a7,#6f00a8,#7801a8,#8204a7,#8a09a5,#9310a2,#9c179e,#a41e9a,#ac2694,#b42e8d,#bc3587,#c23c81,#c9447a,#cf4c74,#d5546e,#da5b69,#e06363,#e56a5d,#e87059,#ec7754,#ef7e50,#f3854b,#f68d45,#f89441,#fa9c3c)"></i>
<i style="background:linear-gradient(90deg,#120789,#20068f,#2b0593,#360498,#3f049c,#4903a0,#5302a3,#5c01a6,#6600a7,#6f00a8,#7801a8,#8204a7,#8a09a5,#930fa3,#9b179e,#a41e9a,#ac2694,#b42e8d,#bc3587,#c23c81,#c9447a,#cf4c74,#d5546e,#da5b69,#e06363,#e56a5d,#e87059,#ec7754,#ef7e50,#f3854b,#f68d45,#f89441,#fa9c3c)"></i>
<i style="background:linear-gradient(90deg,#120789,#20068f,#2b0593,#350498,#3f049c,#4903a0,#5302a3,#5c01a6,#6600a7,#6f00a8,#7801a8,#8104a7,#8a09a5,#930fa3,#9b179e,#a41e9a,#ac2694,#b42e8d,#bc3587,#c23c81,#c9447a,#cf4c74,#d5546e,#da5b69,#e06363,#e56a5d,#e87059,#ec7754,#ef7e50,#f3854b,#f68d45,#f89441,#fa9c3c)"></i>
<i style="background:linear-gradient(90deg,#110788,#20068f,#2a0593,#350498,#3f049c,#4903a0,#5302a3,#5c01a6,#6600a7,#6f00a8,#7801a8,#8104a7,#8a09a5,#920fa3,#9b179e,#a41e9a,#ac2694,#b42e8d,#bc3587,#c23c81,#c9447a,#cf4c74,#d5546e,#da5b69,#e06363,#e56a5d,#e87059,#ec7754,#ef7e50,#f3854b,#f68d45,#f89441,#fa9c3c)"></i>
<i style="background:linear-gradient(90deg,#110788,#20068f,#2a0593,#350498,#3f049c,#4903a0,#5302a3,#5c01a6,#6600a7,#6f00a8,#7801a8,#8104a7,#8a09a5,#920fa3,#9b179e,#a41e9a,#ac2694,#b42e8d,#bc3587,#c23c81,#c9447a,#cf4c74,#d5546e,#da5b69,#e06363,#e56a5d,#e87059,#ec7754,#ef7e50,#f3854b,#f68d45,#f89441,#fa9c3c)"></i>
<i style="background:linear-gradient(90deg,#110788,#20068f,#2a0593,#350498,#3f049c,#4903a0,#5302a3,#5c01a6,#6600a7,#6f00a8,#7801a8,#8104a7,#8a09a5,#920fa3,#9b179e,#a41e9a,#ac2694,#b42e8d,#bc3587,#c23c81,#c9447a,#cf4c74,#d5546e,#da5b69,#e06363,#e56a5d,#e87059,#ec7754,#ef7e50,#f3854b,#f68d45,#f89441,#fa9c3c)"></i>
<i style="background:linear-gradient(90deg,#110788,#20068f,#2a0593,#350498,#3f049c,#4903a0,#5302a3,#5c01a6,#6600a7,#6f00a8,#7801a8,#8104a7,#8a09a5,#920fa3,#9b179e,#a41e9a,#ac2694,#b42e8d,#bc3587,#c23c81,#c9447a,#cf4c74,#d5546e,#da5b69,#e06363,#e56a5d,#e87059,#ec7754,#ef7e50,#f3854b,#f68d45,#f89441,#fa9c3c)"></i>
<i style="background:linear-gradient(90deg,#100788,#1f068f,#2a0593,#350498,#3f049c,#4903a0,#5302a3,#5c01a6,#6600a7,#6f00a8,#7801a8,#8104a7,#8a09a5,#920fa3,#9b179e,#a41e9a,#ac2694,#b42e8d,#bc3587,#c23c81,#c9447a,#cf4c74,#d5546e,#da5b69,#e06363,#e56a5d,#e87059,#ec7754,#ef7e50,#f3854b,#f68d45,#f89540,#fa9c3c)"></i>
<i style="background:linear-gradient(90deg,#100788,#1f068f,#2a0593,#350498,#3f049c,#4903a0,#5302a3,#5c01a6,#6500a7,#6f00a8,#7801a8,#8104a7,#8a09a5,#920fa3,#9b179e,#a41e9a,#ac2694,#b42e8d,#bc3587,#c23c81,#c9447a,#cf4c74,#d5546e,#da5b69,#e06363,#e56a5d,#e87059,#ec7754,#ef7e50,#f3854b,#f68d45,#f89540,#fa9c3c)"></i>
<i style="background:linear-gradient(90deg,#100788,#1f068f,#2a0593,#350498,#3f049c,#4903a0,#5302a3,#5c01a6,#6500a7,#6f00a8,#7801a8,#8104a7,#8a09a5,#920fa3,#9b179e,#a41e9a,#ac2694,#b42e8d,#bc3587,#c23c81,#c9447a,#cf4c74,#d5546e,#da5b69,#e06363,#e56a5d,#e87059,#ec7754,#ef7e50,#f3854b,#f68d45,#f89540,#fa9c3c)"></i>
<i style="background:linear-gradient(90deg,#100788,#1f068f,#2a0593,#350498,#3f049c,#4903a0,#5302a3,#5c01a6,#6500a7,#6f00a8,#7801a8,#8104a7,#8a09a5,#920fa3,#9b179e,#a41e9a,#ac2694,#b42e8d,#bc3587,#c23c81,#c9447a,#cf4c74,#d5546e,#da5b69,#e06363,#e56a5d,#e87059,#ec7754,#ef7e50,#f3854b,#f68d45,#f89540,#fa9c3c)"></i>
<i style="background:linear-gradient(90deg,#100788,#1f068f,#2a0593,#350498,#3f049c,#4903a0,#5202a3,#5b01a5,#6500a7,#6e00a8,#7801a8,#8104a7,#8a09a5,#920fa3,#9b179e,#a41e9a,#ac2694,#b42e8d,#bc3587,#c23c81,#c9447a,#cf4c74,#d5546e,#da5b69,#e06363,#e56a5d,#e87059,#ec7754,#ef7e50,#f3854b,#f68d45,#f89540,#fa9c3c)"></i>
<i style="background:linear-gradient(90deg,#100788,#1f068f,#2a0593,#350498,#3f049c,#4903a0,#5202a3,#5b01a5,#6400a7,#6e00a8,#7801a8,#8104a7,#8a09a5,#920fa3,#9b179e,#a41e9a,#ac2694,#b42e8d,#bc3587,#c23c81,#c9447a,#cf4c74,#d5546e,#da5b69,#e06363,#e56a5d,#e87059,#ec7754,#ef7e50,#f3854b,#f68d45,#f89540,#fa9c3c)"></i>
<i style="background:linear-gradient(90deg,#100788,#1f068f,#2a0593,#350498,#3f049c,#4903a0,#5202a3,#5b01a5,#6400a7,#6e00a8,#7801a8,#8104a7,#8909a5,#920fa3,#9b179e,#a41e9a,#ac2694,#b42e8d,#bc3587,#c23c81,#c9447a,#cf4c74,#d5546e,#da5b69,#e06363,#e56a5d,#e87059,#ec7754,#ef7e50,#f3854b,#f68d45,#f89540,#fa9c3c)"></i>
<i style="background:linear-gradient(90deg,#100788,#1f068f,#2a0593,#350498,#3e049c,#48039f,#5202a3,#5b01a5,#6400a7,#6e00a8,#7701a8,#8104a7,#8909a5,#920fa3,#9b179e,#a41e9a,#ac2694,#b42e8d,#bc3587,#c23c81,#c9447a,#cf4c74,#d5546e,#da5b69,#e06363,#e56a5d,#e87059,#ec7754,#ef7e50,#f3854b,#f68d45,#f89540,#fa9c3c)"></i>
<i style="background:linear-gradient(90deg,#100788,#1e068e,#2a0593,#340498,#3e049c,#48039f,#5202a3,#5b01a5,#6400a7,#6e00a8,#7701a8,#8004a8,#8908a6,#920fa3,#9b179e,#a41e9a,#ac2694,#b42e8d,#bc3587,#c23c81,#c9447a,#cf4c74,#d5546e,#da5b69,#e06363,#e56a5d,#e87059,#ec7754,#ef7e50,#f3854b,#f68d45,#f89540,#fa9c3c)"></i>
<i style="background:linear-gradient(90deg,#100788,#1e068e,#2a0593,#340498,#3e049c,#48039f,#5102a3,#5b01a5,#6400a7,#6e00a8,#7701a8,#8004a8,#8908a6,#920fa3,#9b179e,#a41e9a,#ac2694,#b42e8d,#bc3587,#c23c81,#c9447a,#cf4c74,#d5546e,#da5b69,#e06363,#e56a5d,#e87059,#ec7754,#ef7e50,#f3854b,#f68d45,#f89540,#fa9c3c)"></i>
<i style="background:linear-gradient(90deg,#100788,#1e068e,#2a0593,#340498,#3e049c,#48039f,#5102a3,#5b01a5,#6400a7,#6e00a8,#7701a8,#8004a8,#8808a6,#920fa3,#9b179e,#a41e9a,#ac2694,#b42e8d,#bc3587,#c23c81,#c9447a,#cf4c74,#d5546e,#da5b69,#e06363,#e56a5d,#e87059,#ec7754,#ef7e50,#f3854b,#f68d45,#f89540,#fa9c3c)"></i>
<i style="background:linear-gradient(90deg,#100788,#1e068e,#2a0593,#340498,#3e049c,#48039f,#5102a3,#5b01a5,#6400a7,#6e00a8,#7701a8,#8004a8,#8808a6,#920fa3,#9b179e,#a41e9a,#ac2694,#b42e8d,#bc3587,#c23c81,#c9447a,#cf4c74,#d5546e,#da5b69,#e06363,#e56a5d,#e87059,#ec7754,#ef7e50,#f3854b,#f68d45,#f89540,#fa9c3c)"></i>
<i style="background:linear-gradient(90deg,#100788,#1e068e,#2a0593,#340597,#3e049c,#48039f,#5102a3,#5b01a5,#6400a7,#6e00a8,#7701a8,#8004a8,#8808a6,#920fa3,#9b179e,#a41e9a,#ac2694,#b42e8d,#bc3587,#c23c81,#c9447a,#cf4c74,#d5546e,#da5b69,#e06363,#e56a5d,#e87059,#ec7754,#ef7e50,#f3854b,#f68d45,#f89540,#fa9c3c)"></i>
<i style="background:linear-gradient(90deg,#100788,#1e068e,#2a0593,#340597,#3e049c,#48039f,#5102a3,#5b01a5,#6400a7,#6e00a8,#7701a8,#8004a8,#8808a6,#920fa3,#9b179e,#a41e9a,#ac2694,#b42e8d,#bc3587,#c23c81,#c9447a,#cf4c74,#d5546e,#da5b69,#e06363,#e56a5d,#e87059,#ec7754,#ef7e50,#f3854b,#f68d45,#f89540,#fa9c3c)"></i>
<i style="background:linear-gradient(90deg,#100788,#1e068e,#2a0593,#340597,#3e049c,#48039f,#5102a3,#5b01a5,#6400a7,#6e00a8,#7701a8,#8004a8,#8808a6,#920fa3,#9b179e,#a41e9a,#ac2694,#b42e8d,#bc3587,#c23c81,#c9447a,#cf4c74,#d5546e,#da5b69,#e06363,#e56a5d,#e87059,#ec7754,#ef7e50,#f3854b,#f68d45,#f89540,#fa9c3c)"></i>
<i style="background:linear-gradient(90deg,#100788,#1e068e,#2a0593,#340597,#3e049c,#48039f,#5102a3,#5b01a5,#6400a7,#6e00a8,#7701a8,#8004a8,#8808a6,#920fa3,#9b179e,#a41e9a,#ac2694,#b42e8d,#bc3587,#c23c81,#c9447a,#cf4c74,#d5546e,#da5b69,#e06363,#e56a5d,#e87059,#ec7754,#ef7e50,#f3854b,#f68d45,#f89540,#fa9c3c)"></i>
<i style="background:linear-gradient(90deg,#100788,#1d068e,#2a0593,#340597,#3e049c,#48039f,#5102a3,#5b01a5,#6400a7,#6e00a8,#7701a8,#8004a8,#8808a6,#920fa3,#9b179e,#a41e9a,#ac2694,#b42e8d,#bc3587,#c23c81,#c9447a,#cf4c74,#d5546e,#da5b69,#e06363,#e56a5d,#e87059,#ec7754,#ef7e50,#f3854b,#f68d45,#f89540,#fa9c3c)"></i>
<i style="background:linear-gradient(90deg,#100788,#1d068e,#2a0593,#330597,#3e049c,#48039f,#5102a3,#5a01a5,#6400a7,#6e00a8,#7701a8,#8004a8,#8808a6,#920fa3,#9b179e,#a41e9a,#ac2694,#b42e8d,#bc3587,#c23c81,#c9447a,#cf4c74,#d5546e,#da5b69,#e06363,#e56a5d,#e87059,#ec7754,#ef7e50,#f3854b,#f68d45,#f89540,#fa9c3c)"></i>
<i style="background:linear-gradient(90deg,#100788,#1d068e,#2a0593,#330597,#3e049c,#48039f,#5102a3,#5a01a5,#6400a7,#6d00a8,#7701a8,#8004a8,#8808a6,#920fa3,#9b179e,#a41e9a,#ac2694,#b42e8d,#bc3587,#c23c81,#c9447a,#cf4c74,#d5546e,#da5b69,#e06363,#e56a5d,#e87059,#ec7754,#ef7e50,#f3854b,#f68d45,#f89540,#fa9c3c)"></i>
<i style="background:linear-gradient(90deg,#100788,#1d068e,#2a0593,#330597,#3e049c,#48039f,#5102a3,#5a01a5,#6300a7,#6d00a8,#7701a8,#8004a8,#8808a6,#920fa3,#9b179e,#a41e9a,#ac2694,#b42e8d,#bc3587,#c23c81,#c9447a,#cf4c74,#d5546e,#da5b69,#e06363,#e56a5d,#e87059,#ec7754,#ef7e50,#f3854b,#f68d45,#f89540,#fa9c3c)"></i>
<i style="background:linear-gradient(90deg,#100788,#1d068e,#290593,#330597,#3e049c,#47039f,#5102a3,#5a01a5,#6300a7,#6d00a8,#7601a8,#8004a8,#8808a6,#920fa3,#9b179e,#a41e9a,#ac2694,#b42e8d,#bc3587,#c23c81,#c9447a,#cf4c74,#d5546e,#da5b69,#e06363,#e56a5d,#e87059,#ec7754,#ef7e50,#f3854b,#f68d45,#f89540,#fa9c3c)"></i>
<i style="background:linear-gradient(90deg,#100788,#1d068e,#290593,#330597,#3e049c,#47039f,#5102a3,#5a01a5,#6300a7,#6d00a8,#7601a8,#8004a8,#8808a6,#920fa3,#9b179e,#a41e9a,#ac2694,#b42e8d,#bc3587,#c23c81,#c9447a,#cf4c74,#d5546e,#da5b69,#e06363,#e56a5d,#e87059,#ec7754,#ef7e50,#f3854b,#f68d45,#f89540,#fa9c3c)"></i>
<i style="background:linear-gradient(90deg,#100788,#1d068e,#290593,#330597,#3e049c,#47039f,#5002a2,#5901a5,#6300a7,#6d00a8,#7601a8,#7f04a8,#8808a6,#920fa3,#9b179e,#a41e9a,#ac2694,#b42e8d,#bc3587,#c23c81,#c9447a,#cf4c74,#d5546e,#da5b69,#e06363,#e56a5d,#e87059,#ec7754,#ef7e50,#f3854b,#f68d45,#f89540,#fa9c3c)"></i>
<i style="background:linear-gradient(90deg,#100788,#1d068e,#290593,#330597,#3e049c,#47039f,#5002a2,#5901a5,#6300a7,#6c00a8,#7601a8,#7f04a8,#8808a6,#920fa3,#9b179e,#a41e9a,#ac2694,#b42e8d,#bc3587,#c23c81,#c9447a,#cf4c74,#d5546e,#da5b69,#e06363,#e56a5d,#e87059,#ec7754,#ef7e50,#f3854b,#f68d45,#f89540,#fa9c3c)"></i>
<i style="background:linear-gradient(90deg,#0f0788,#1d068e,#290592,#330597,#3e049c,#47039f,#5002a2,#5901a5,#6300a7,#6c00a8,#7601a8,#7f03a8,#8808a6,#920fa3,#9b179e,#a41e9a,#ac2694,#b42e8d,#bc3587,#c23c81,#c9447a,#cf4c74,#d5546e,#da5b69,#e06363,#e56a5d,#e87059,#ec7754,#ef7e50,#f3854b,#f68d45,#f89540,#fa9c3c)"></i>
<i style="background:linear-gradient(90deg,#0f0788,#1d068e,#290592,#330597,#3e049c,#46039f,#5002a2,#5901a5,#6300a7,#6c00a8,#7501a8,#7f03a8,#8808a6,#920fa3,#9b179e,#a41e9a,#ac2694,#b42e8d,#bc3587,#c23c81,#c9447a,#cf4c74,#d5546e,#da5b69,#e06363,#e56a5d,#e87059,#ec7754,#f07f4f,#f3854b,#f68d45,#f89540,#fa9c3c)"></i>
<i style="background:linear-gradient(90deg,#0f0788,#1d068e,#290592,#330597,#3e049c,#46039f,#5002a2,#5901a5,#6300a7,#6c00a8,#7501a8,#7f03a8,#8808a6,#920fa3,#9b179e,#a41e9a,#ac2694,#b42e8d,#bc3587,#c23c81,#c9447a,#cf4c74,#d5546e,#da5b69,#e06363,#e56a5d,#e87059,#ec7754,#f07f4f,#f3854b,#f68d45,#f89540,#fa9c3c)"></i>
<i style="background:linear-gradient(90deg,#0e0888,#1d068e,#290592,#330597,#3e049c,#46039f,#5002a2,#5901a5,#6300a7,#6c00a8,#7501a8,#7f03a8,#8808a6,#920fa3,#9b179e,#a41e9a,#ac2694,#b42e8d,#bc3587,#c23c81,#c9447a,#cf4c74,#d5546e,#da5b69,#e06363,#e56a5d,#e87059,#ec7754,#f07f4f,#f3854b,#f68d45,#f89540,#fa9c3c)"></i>
<i style="background:linear-gradient(90deg,#0e0887,#1d068e,#280592,#330597,#3d049c,#46039f,#5002a2,#5901a5,#6300a7,#6c00a8,#7501a8,#7f03a8,#8808a6,#920fa3,#9b179e,#a41e9a,#ac2694,#b42e8d,#bc3587,#c23c81,#c9447a,#cf4c74,#d5546e,#da5b69,#e06363,#e56a5d,#e87059,#ec7754,#f07f4f,#f3854b,#f68d45,#f89540,#fa9c3c)"></i>
<i style="background:linear-gradient(90deg,#0e0887,#1d068e,#280592,#330597,#3d049c,#46039f,#5002a2,#5901a5,#6300a7,#6c00a8,#7501a8,#7f03a8,#8808a6,#920fa3,#9b179e,#a41e9a,#ac2694,#b42e8d,#bc3587,#c23c81,#c9447a,#cf4c74,#d5546e,#da5b69,#e06363,#e56a5d,#e87059,#ec7754,#f07f4f,#f3864b,#f68d45,#f89540,#fa9c3c)"></i>
<i style="background:linear-gradient(90deg,#0e0887,#1d068e,#280592,#330597,#3d049c,#46039f,#5002a2,#5901a5,#6300a7,#6c00a8,#7501a8,#7f03a8,#8808a6,#920fa3,#9b179e,#a41e9a,#ac2694,#b42e8d,#bc3587,#c23c81,#c9447a,#cf4c74,#d5546e,#da5b69,#e06363,#e56a5d,#e87059,#ec7754,#f07f4f,#f3864b,#f68d45,#f89540,#fa9d3c)"></i>
<i style="background:linear-gradient(90deg,#0e0887,#1d068e,#280592,#330597,#3d049c,#46039f,#5002a2,#5901a5,#6300a7,#6c00a8,#7501a8,#7f03a8,#8808a6,#920fa3,#9b179e,#a41e9a,#ac2694,#b42e8d,#bc3587,#c23c81,#c9447a,#cf4c74,#d5546e,#da5b69,#e06363,#e56a5d,#e87059,#ec7754,#f07f4f,#f3864b,#f68d45,#f89540,#fa9d3c)"></i>
<i style="background:linear-gradient(90deg,#0d0887,#1d068e,#280592,#330597,#3d049c,#46039f,#5002a2,#5901a5,#6200a7,#6c00a8,#7501a8,#7f03a8,#8808a6,#920fa3,#9b179e,#a41e9a,#ac2694,#b42e8d,#bc3587,#c23c81,#c9447a,#cf4c74,#d5546e,#da5b69,#e06363,#e56a5d,#e87059,#ec7754,#f07f4f,#f3864b,#f68d45,#f89540,#fa9d3c)"></i>
<i style="background:linear-gradient(90deg,#0d0887,#1d068e,#280592,#330597,#3d049b,#46039f,#5002a2,#5901a5,#6200a7,#6c00a8,#7501a8,#7f03a8,#8808a6,#920fa3,#9b179e,#a41e9a,#ac2694,#b42e8d,#bc3587,#c23c81,#c9447a,#cf4c74,#d5546e,#da5b69,#e06363,#e56a5d,#e87059,#ec7754,#f07f4f,#f3864b,#f68d45,#f89540,#fa9d3c)"></i>
<i style="background:linear-gradient(90deg,#0d0887,#1d068e,#280592,#330597,#3d049b,#46039f,#5002a2,#5901a5,#6200a7,#6b00a8,#7501a8,#7f03a8,#8808a6,#920fa3,#9b179e,#a41e9a,#ac2694,#b42e8d,#bc3587,#c23c81,#c9447a,#cf4c74,#d5546e,#da5b69,#e06363,#e56a5d,#e87059,#ec7754,#f07f4f,#f3864b,#f68d45,#f89540,#fa9d3c)"></i>
<i style="background:linear-gradient(90deg,#0d0887,#1c068e,#280592,#330597,#3d049b,#46039f,#5002a2,#5801a4,#6200a7,#6b00a8,#7501a8,#7f03a8,#8808a6,#920fa3,#9b179e,#a41e9a,#ac2694,#b42e8d,#bc3587,#c23c81,#c9447a,#cf4c74,#d5546e,#da5b69,#e06363,#e56a5d,#e87059,#ec7754,#f07f4f,#f3864b,#f68d45,#f89540,#fa9d3c)"></i>
<i style="background:linear-gradient(90deg,#0d0887,#1c068e,#280592,#330597,#3d049b,#46039f,#5002a2,#5801a4,#6200a7,#6b00a8,#7501a8,#7f03a8,#8808a6,#920fa3,#9b179e,#a41e9a,#ac2694,#b42e8d,#bc3587,#c23c81,#c9447a,#cf4c74,#d5546e,#da5b69,#e06363,#e56a5d,#e87059,#ec7754,#f07f4f,#f3864b,#f68d45,#f89540,#fa9d3c)"></i>
<i style="background:linear-gradient(90deg,#0d0887,#1c068e,#280592,#330597,#3c049b,#46039f,#4f02a2,#5801a4,#6100a7,#6b00a8,#7501a8,#7f03a8,#8808a6,#920fa3,#9b179e,#a41e9a,#ac2694,#b42e8d,#bc3587,#c23c81,#c9447a,#cf4c74,#d5546e,#da5b69,#e06363,#e56a5d,#e87059,#ec7754,#f07f4f,#f3864b,#f68d45,#f89540,#fa9d3c)"></i>
<i style="background:linear-gradient(90deg,#0d0887,#1c068e,#280592,#330597,#3c049b,#46039f,#4f02a2,#5801a4,#6100a7,#6b00a8,#7501a8,#7f03a8,#8808a6,#920fa3,#9b179e,#a41e9a,#ac2694,#b42e8d,#bc3587,#c23c81,#c9447a,#cf4c74,#d5546e,#da5b69,#e06363,#e56a5d,#e87059,#ec7754,#f07f4f,#f3864a,#f68d45,#f89540,#fa9d3b)"></i>
<i style="background:linear-gradient(90deg,#0d0887,#1c068e,#280592,#330597,#3c049b,#46039f,#4f02a2,#5801a4,#6100a7,#6a00a8,#7501a8,#7f03a8,#8808a6,#920fa3,#9b179e,#a41e9a,#ac2694,#b42e8d,#bc3587,#c23c81,#c9447a,#cf4c74,#d5546e,#da5b69,#e06363,#e56a5d,#e87059,#ec7754,#f07f4f,#f3864a,#f68d45,#f89540,#fa9d3b)"></i>
<i style="background:linear-gradient(90deg,#0d0887,#1c068d,#280592,#320597,#3c049b,#46039f,#4f02a2,#5801a4,#6100a7,#6a00a8,#7501a8,#7f03a8,#8808a6,#920fa3,#9b179e,#a41e9a,#ac2694,#b42e8d,#bc3587,#c23c81,#c9447a,#cf4c74,#d5546e,#da5b69,#e06363,#e56a5d,#e87059,#ec7754,#f07f4f,#f3864a,#f68d45,#f89540,#fa9d3b)"></i>
<i style="background:linear-gradient(90deg,#0d0887,#1c068d,#280592,#320597,#3c049b,#46039f,#4f02a2,#5801a4,#6100a7,#6a00a8,#7501a8,#7f03a8,#8808a6,#920fa3,#9b179e,#a41e9a,#ac2694,#b42e8d,#bc3587,#c23c81,#c9447a,#cf4c74,#d5546e,#da5b69,#e06363,#e56a5d,#e87059,#ec7754,#f07f4f,#f3864a,#f68d45,#f89540,#fa9d3b)"></i>
<i style="background:linear-gradient(90deg,#0d0887,#1c068d,#280592,#320597,#3c049b,#46039f,#4f02a2,#5801a4,#6100a7,#6a00a8,#7501a8,#7f03a8,#8808a6,#920fa3,#9b179e,#a41e9a,#ac2694,#b42e8d,#bc3587,#c23c81,#c9447a,#cf4c74,#d5546e,#da5b69,#e06363,#e56a5d,#e87059,#ec7754,#f07f4f,#f3864a,#f68e45,#f89540,#fa9d3b)"></i>
<i style="background:linear-gradient(90deg,#0d0887,#1c068d,#280592,#320597,#3c049b,#46039f,#4f02a2,#5801a4,#6100a7,#6a00a8,#7501a8,#7f03a8,#8808a6,#920fa3,#9b179e,#a41e9a,#ac2694,#b42e8d,#bc3587,#c23c81,#c9447a,#cf4c74,#d5546e,#da5b69,#e06363,#e56a5d,#e87059,#ec7754,#f07f4f,#f3864a,#f68e45,#f89540,#fa9d3b)"></i>
<i style="background:linear-gradient(90deg,#0d0887,#1b068d,#280592,#320597,#3c049b,#46039f,#4f02a2,#5801a4,#6100a7,#6a00a8,#7501a8,#7f03a8,#8808a6,#920fa3,#9b179e,#a41e9a,#ac2694,#b42e8d,#bc3587,#c23c81,#c9447a,#cf4c74,#d5546e,#da5b69,#e06363,#e56a5d,#e87059,#ec7754,#f07f4f,#f3864a,#f68e45,#f89540,#fa9d3b)"></i>
<i style="background:linear-gradient(90deg,#0d0887,#1b068d,#280592,#320597,#3c049b,#46039f,#4e02a2,#5801a4,#6100a7,#6a00a8,#7501a8,#7f03a8,#8808a6,#920fa3,#9b179e,#a41e9a,#ac2694,#b42e8d,#bc3587,#c23c81,#c9447a,#cf4c74,#d5546e,#da5b69,#e06363,#e56a5d,#e87059,#ec7754,#f07f4f,#f3864a,#f68e45,#f89540,#fa9d3b)"></i>
<i style="background:linear-gradient(90deg,#0d0887,#1b068d,#280592,#320597,#3c049b,#46039f,#4e02a2,#5801a4,#6100a7,#6a00a8,#7501a8,#7f03a8,#8808a6,#920fa3,#9b179e,#a41e9a,#ac2694,#b42e8d,#bc3587,#c23c81,#c9447a,#cf4c74,#d5546e,#da5b69,#e06363,#e56a5d,#e87059,#ec7754,#f07f4f,#f3864a,#f68e45,#f89540,#fa9e3b)"></i>
<i style="background:linear-gradient(90deg,#0d0887,#1b068d,#280592,#320597,#3c049b,#46039f,#4e02a2,#5801a4,#6100a7,#6a00a8,#7501a8,#7f03a8,#8808a6,#920fa3,#9b179e,#a41e9a,#ac2694,#b42e8d,#bc3587,#c23c81,#c9447a,#cf4c74,#d5546e,#da5b69,#e06363,#e56a5d,#e87059,#ec7754,#f07f4f,#f3874a,#f68e45,#f89540,#fa9e3b)"></i>
<i style="background:linear-gradient(90deg,#0d0887,#1b068d,#280592,#320597,#3c049b,#46039f,#4e02a2,#5801a4,#6100a7,#6a00a8,#7501a8,#7f03a8,#8808a6,#920fa3,#9b179e,#a41e9a,#ac2694,#b42e8d,#bc3587,#c23c81,#c9447a,#cf4c74,#d5546e,#da5b69,#e06363,#e56a5d,#e87059,#ec7754,#f07f4f,#f3874a,#f68e45,#f89540,#fa9e3b)"></i>
<i style="background:linear-gradient(90deg,#0d0887,#1b068d,#280592,#310597,#3c049b,#45039f,#4e02a2,#5801a4,#6100a7,#6a00a8,#7501a8,#7f03a8,#8808a6,#920fa3,#9b179e,#a41e9a,#ac2694,#b42e8d,#bc3587,#c23c81,#c9447a,#cf4c74,#d5546e,#da5b69,#e06363,#e56a5d,#e87059,#ec7754,#f07f4f,#f3874a,#f68e45,#f89540,#fa9e3b)"></i>
<i style="background:linear-gradient(90deg,#0d0887,#1b068d,#280592,#310597,#3c049b,#45039f,#4e02a2,#5801a4,#6001a6,#6a00a8,#7501a8,#7f03a8,#8808a6,#920fa3,#9b179e,#a41e9a,#ac2694,#b42e8d,#bc3587,#c23c81,#c9447a,#cf4c74,#d5546e,#da5b69,#e06363,#e56a5d,#e87059,#ec7754,#f07f4f,#f3874a,#f68e45,#f89540,#fa9e3b)"></i>
<i style="background:linear-gradient(90deg,#0d0887,#1b068d,#270592,#310597,#3c049b,#45039f,#4e02a2,#5801a4,#6001a6,#6a00a8,#7501a8,#7f03a8,#8808a6,#920fa3,#9b179e,#a41e9a,#ac2694,#b42e8d,#bc3587,#c23c81,#c9447a,#cf4c74,#d5546e,#da5b69,#e06363,#e56a5d,#e87059,#ec7754,#f07f4f,#f3874a,#f68e44,#f89540,#fa9e3b)"></i>
<i style="background:linear-gradient(90deg,#0d0887,#1b068d,#270592,#310597,#3c049b,#45039f,#4e02a2,#5801a4,#6001a6,#6a00a8,#7501a8,#7f03a8,#8808a6,#920fa3,#9b179e,#a41e9a,#ac2694,#b42e8d,#bc3587,#c23c81,#c9447a,#cf4c74,#d5546e,#da5b69,#e06363,#e56a5d,#e87059,#ec7754,#f07f4f,#f3874a,#f68e44,#f89540,#fa9e3b)"></i>
<i style="background:linear-gradient(90deg,#0d0887,#1b068d,#270592,#310597,#3c049b,#45039e,#4e02a2,#5701a4,#6001a6,#6a00a8,#7501a8,#7f03a8,#8808a6,#920fa3,#9b179e,#a41e9a,#ac2694,#b42e8d,#bc3587,#c23c81,#c9447a,#cf4c74,#d5546e,#da5b69,#e06363,#e56a5d,#e87059,#ec7754,#f07f4f,#f3874a,#f68e44,#f89540,#fa9e3b)"></i>
<i style="background:linear-gradient(90deg,#0d0887,#1b068d,#270592,#310597,#3c049b,#45039e,#4e02a2,#5701a4,#6001a6,#6a00a8,#7501a8,#7f03a8,#8808a6,#920fa3,#9b179e,#a41e9a,#ac2694,#b42e8d,#bc3587,#c23c81,#c9447a,#cf4c74,#d5546e,#da5b69,#e06363,#e56a5d,#e97158,#ec7754,#f07f4f,#f3874a,#f68e44,#f89540,#fa9e3b)"></i>
</div>
<div class="cb" style="left:1401px;top:1008px;width:34px;height:650px;background:linear-gradient(180deg,#f0f921,#f4ed27,#f8df25,#fcd225,#fdc527,#feb82c,#fdac33,#fba139,#f89540,#f58b47,#f0804e,#eb7655,#e66c5c,#e06363,#da5a6a,#d35171,#cc4778,#c43e7f,#bc3587,#b32c8e,#aa2395,#a01a9c,#9511a1,#8a09a5,#7e03a8,#7201a8,#6600a7,#5901a5,#4c02a1,#3f049c,#310597,#220690,#0d0887)"></div>
<svg width="2100" height="1753" viewBox="0 0 2100 1753">
<rect x="127.50" y="87.50" width="698.50" height="650.10" class="sp"/>
<rect x="870.00" y="87.50" width="32.00" height="650.10" class="sp"/>
<text class="tl" x="127.90" y="781.20" text-anchor="middle">0.0</text>
<text class="tl" x="110.10" y="750.20" text-anchor="end">0.0</text>
<text class="tl" x="215.21" y="781.20" text-anchor="middle">2.5</text>
<text class="tl" x="110.10" y="668.94" text-anchor="end">2.5</text>
<text class="tl" x="302.52" y="781.20" text-anchor="middle">5.0</text>
<text class="tl" x="110.10" y="587.68" text-anchor="end">5.0</text>
<text class="tl" x="389.84" y="781.20" text-anchor="middle">7.5</text>
<text class="tl" x="110.10" y="506.41" text-anchor="end">7.5</text>
<text class="tl" x="477.15" y="781.20" text-anchor="middle">10.0</text>
<text class="tl" x="110.10" y="425.15" text-anchor="end">10.0</text>
<text class="tl" x="564.46" y="781.20" text-anchor="middle">12.5</text>
<text class="tl" x="110.10" y="343.89" text-anchor="end">12.5</text>
<text class="tl" x="651.77" y="781.20" text-anchor="middle">15.0</text>
<text class="tl" x="110.10" y="262.63" text-anchor="end">15.0</text>
<text class="tl" x="739.09" y="781.20" text-anchor="middle">17.5</text>
<text class="tl" x="110.10" y="181.36" text-anchor="end">17.5</text>
<text class="tl" x="826.40" y="781.20" text-anchor="middle">20.0</text>
<text class="tl" x="110.10" y="100.10" text-anchor="end">20.0</text>
<text class="ct" x="919.00" y="748.00">0°</text>
<text class="ct" x="919.00" y="675.77">5°</text>
<text class="ct" x="919.00" y="603.53">10°</text>
<text class="ct" x="919.00" y="531.30">15°</text>
<text class="ct" x="919.00" y="459.07">20°</text>
<text class="ct" x="919.00" y="386.83">25°</text>
<text class="ct" x="919.00" y="314.60">30°</text>
<text class="ct" x="919.00" y="242.37">35°</text>
<text class="ct" x="919.00" y="170.13">40°</text>
<text class="ct" x="919.00" y="97.90">45°</text>
<path d="M127.50 737.60v8.55M127.50 737.60h-8.55M214.81 737.60v8.55M127.50 656.34h-8.55M302.12 737.60v8.55M127.50 575.08h-8.55M389.44 737.60v8.55M127.50 493.81h-8.55M476.75 737.60v8.55M127.50 412.55h-8.55M564.06 737.60v8.55M127.50 331.29h-8.55M651.38 737.60v8.55M127.50 250.03h-8.55M738.69 737.60v8.55M127.50 168.76h-8.55M826.00 737.60v8.55M127.50 87.50h-8.55M902.00 737.60h8.55M902.00 665.37h8.55M902.00 593.13h8.55M902.00 520.90h8.55M902.00 448.67h8.55M902.00 376.43h8.55M902.00 304.20h8.55M902.00 231.97h8.55M902.00 159.73h8.55M902.00 87.50h8.55" class="tk"/>
<text class="lb" x="477.15" y="72.70" text-anchor="middle">Max roll angle</text>
<text class="lb" x="475.95" y="824.00" text-anchor="middle">In-plane angle, <tspan class="it">θ</tspan><tspan class="sub" dy="7.5">in</tspan><tspan dy="-7.5"> [°]</tspan></text>
<text class="lb" transform="translate(25.50 414.05) rotate(-90)" text-anchor="middle">Out-of-plane angle, <tspan class="it">θ</tspan><tspan class="sub" dy="7.5">out</tspan><tspan dy="-7.5"> [°]</tspan></text>
<text x="980.30" y="438.55"><tspan class="it">θ</tspan><tspan class="sub" dy="8.5">1</tspan></text>
<text x="9.50" y="29.00" class="pl">a</text>
<rect x="1217.70" y="87.50" width="698.10" height="650.10" class="sp"/>
<rect x="1959.30" y="87.50" width="32.80" height="650.10" class="sp"/>
<text class="tl" x="1218.10" y="781.20" text-anchor="middle">0.0</text>
<text class="tl" x="1200.30" y="750.20" text-anchor="end">0.0</text>
<text class="tl" x="1305.36" y="781.20" text-anchor="middle">2.5</text>
<text class="tl" x="1200.30" y="668.94" text-anchor="end">2.5</text>
<text class="tl" x="1392.62" y="781.20" text-anchor="middle">5.0</text>
<text class="tl" x="1200.30" y="587.68" text-anchor="end">5.0</text>
<text class="tl" x="1479.89" y="781.20" text-anchor="middle">7.5</text>
<text class="tl" x="1200.30" y="506.41" text-anchor="end">7.5</text>
<text class="tl" x="1567.15" y="781.20" text-anchor="middle">10.0</text>
<text class="tl" x="1200.30" y="425.15" text-anchor="end">10.0</text>
<text class="tl" x="1654.41" y="781.20" text-anchor="middle">12.5</text>
<text class="tl" x="1200.30" y="343.89" text-anchor="end">12.5</text>
<text class="tl" x="1741.68" y="781.20" text-anchor="middle">15.0</text>
<text class="tl" x="1200.30" y="262.63" text-anchor="end">15.0</text>
<text class="tl" x="1828.94" y="781.20" text-anchor="middle">17.5</text>
<text class="tl" x="1200.30" y="181.36" text-anchor="end">17.5</text>
<text class="tl" x="1916.20" y="781.20" text-anchor="middle">20.0</text>
<text class="tl" x="1200.30" y="100.10" text-anchor="end">20.0</text>
<text class="ct" x="2009.10" y="748.00">0°</text>
<text class="ct" x="2009.10" y="585.48">5°</text>
<text class="ct" x="2009.10" y="422.95">10°</text>
<text class="ct" x="2009.10" y="260.43">15°</text>
<text class="ct" x="2009.10" y="97.90">20°</text>
<path d="M1217.70 737.60v8.55M1217.70 737.60h-8.55M1304.96 737.60v8.55M1217.70 656.34h-8.55M1392.22 737.60v8.55M1217.70 575.08h-8.55M1479.49 737.60v8.55M1217.70 493.81h-8.55M1566.75 737.60v8.55M1217.70 412.55h-8.55M1654.01 737.60v8.55M1217.70 331.29h-8.55M1741.28 737.60v8.55M1217.70 250.03h-8.55M1828.54 737.60v8.55M1217.70 168.76h-8.55M1915.80 737.60v8.55M1217.70 87.50h-8.55M1992.10 737.60h8.55M1992.10 575.08h8.55M1992.10 412.55h8.55M1992.10 250.03h8.55M1992.10 87.50h8.55" class="tk"/>
<text class="lb" x="1567.15" y="72.70" text-anchor="middle">Max pitch angle</text>
<text class="lb" x="1565.95" y="824.00" text-anchor="middle">In-plane angle, <tspan class="it">θ</tspan><tspan class="sub" dy="7.5">in</tspan><tspan dy="-7.5"> [°]</tspan></text>
<text class="lb" transform="translate(1115.70 414.05) rotate(-90)" text-anchor="middle">Out-of-plane angle, <tspan class="it">θ</tspan><tspan class="sub" dy="7.5">out</tspan><tspan dy="-7.5"> [°]</tspan></text>
<text x="2070.40" y="438.55"><tspan class="it">θ</tspan><tspan class="sub" dy="8.5">2</tspan></text>
<text x="1098.50" y="29.00" class="pl">b</text>
<rect x="659.60" y="1008.00" width="698.60" height="650.00" class="sp"/>
<rect x="1401.70" y="1008.00" width="32.50" height="650.00" class="sp"/>
<text class="tl" x="660.00" y="1701.60" text-anchor="middle">0.0</text>
<text class="tl" x="642.20" y="1670.60" text-anchor="end">0.0</text>
<text class="tl" x="747.33" y="1701.60" text-anchor="middle">2.5</text>
<text class="tl" x="642.20" y="1589.35" text-anchor="end">2.5</text>
<text class="tl" x="834.65" y="1701.60" text-anchor="middle">5.0</text>
<text class="tl" x="642.20" y="1508.10" text-anchor="end">5.0</text>
<text class="tl" x="921.98" y="1701.60" text-anchor="middle">7.5</text>
<text class="tl" x="642.20" y="1426.85" text-anchor="end">7.5</text>
<text class="tl" x="1009.30" y="1701.60" text-anchor="middle">10.0</text>
<text class="tl" x="642.20" y="1345.60" text-anchor="end">10.0</text>
<text class="tl" x="1096.62" y="1701.60" text-anchor="middle">12.5</text>
<text class="tl" x="642.20" y="1264.35" text-anchor="end">12.5</text>
<text class="tl" x="1183.95" y="1701.60" text-anchor="middle">15.0</text>
<text class="tl" x="642.20" y="1183.10" text-anchor="end">15.0</text>
<text class="tl" x="1271.28" y="1701.60" text-anchor="middle">17.5</text>
<text class="tl" x="642.20" y="1101.85" text-anchor="end">17.5</text>
<text class="tl" x="1358.60" y="1701.60" text-anchor="middle">20.0</text>
<text class="tl" x="642.20" y="1020.60" text-anchor="end">20.0</text>
<text class="ct" x="1451.20" y="1584.36">5°</text>
<text class="ct" x="1451.20" y="1442.87">10°</text>
<text class="ct" x="1451.20" y="1301.38">15°</text>
<text class="ct" x="1451.20" y="1159.89">20°</text>
<text class="ct" x="1451.20" y="1018.40">25°</text>
<path d="M659.60 1658.00v8.55M659.60 1658.00h-8.55M746.93 1658.00v8.55M659.60 1576.75h-8.55M834.25 1658.00v8.55M659.60 1495.50h-8.55M921.58 1658.00v8.55M659.60 1414.25h-8.55M1008.90 1658.00v8.55M659.60 1333.00h-8.55M1096.22 1658.00v8.55M659.60 1251.75h-8.55M1183.55 1658.00v8.55M659.60 1170.50h-8.55M1270.88 1658.00v8.55M659.60 1089.25h-8.55M1358.20 1658.00v8.55M659.60 1008.00h-8.55M1434.20 1573.96h8.55M1434.20 1432.47h8.55M1434.20 1290.98h8.55M1434.20 1149.49h8.55M1434.20 1008.00h8.55" class="tk"/>
<text class="lb" x="1009.30" y="993.20" text-anchor="middle">Max yaw angle</text>
<text class="lb" x="1008.10" y="1744.40" text-anchor="middle">In-plane angle, <tspan class="it">θ</tspan><tspan class="sub" dy="7.5">in</tspan><tspan dy="-7.5"> [°]</tspan></text>
<text class="lb" transform="translate(557.60 1334.50) rotate(-90)" text-anchor="middle">Out-of-plane angle, <tspan class="it">θ</tspan><tspan class="sub" dy="7.5">out</tspan><tspan dy="-7.5"> [°]</tspan></text>
<text x="1512.50" y="1359.00"><tspan class="it">θ</tspan><tspan class="sub" dy="8.5">3</tspan></text>
<text x="541.50" y="949.50" class="pl">c</text>
</svg></body></html>
